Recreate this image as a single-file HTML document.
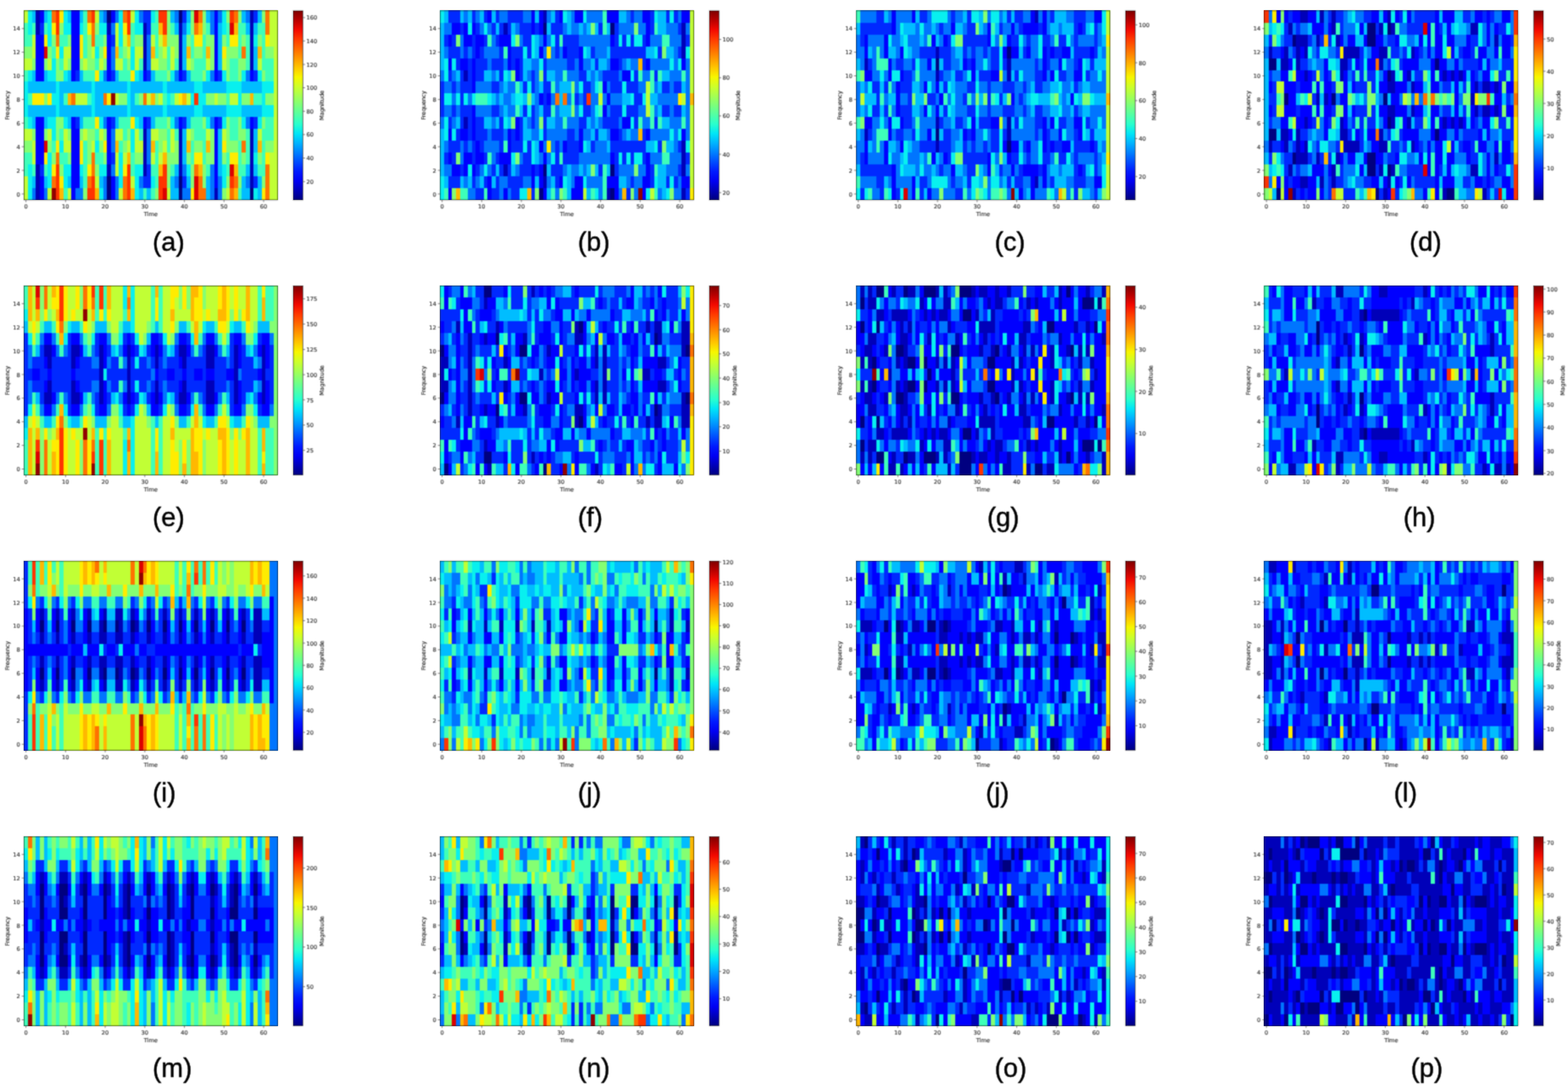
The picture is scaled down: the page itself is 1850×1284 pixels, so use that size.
<!DOCTYPE html><html><head><meta charset="utf-8"><title>Spectrograms</title><style>
html,body{margin:0;padding:0;background:#fff}body{width:1850px;height:1284px;overflow:hidden;position:relative}
svg{position:absolute;left:0;top:0;display:block}
.t{font-family:"DejaVu Sans","Liberation Sans",sans-serif;font-size:6.7px;fill:#1a1a1a;stroke:#1a1a1a;stroke-width:0.12px}
.c{font-family:"Liberation Sans",Arial,sans-serif;font-size:31px;fill:#000;stroke:#000;stroke-width:0.45px}
</style></head><body>
<svg width="1850" height="1284" viewBox="0 0 1850 1284">
<defs><linearGradient id="jet" x1="0" y1="0" x2="0" y2="1"><stop offset="0.000" stop-color="#800000"/><stop offset="0.050" stop-color="#b90000"/><stop offset="0.100" stop-color="#f30900"/><stop offset="0.150" stop-color="#ff3900"/><stop offset="0.200" stop-color="#ff6800"/><stop offset="0.250" stop-color="#ff9700"/><stop offset="0.300" stop-color="#ffc600"/><stop offset="0.350" stop-color="#f7f600"/><stop offset="0.400" stop-color="#ceff29"/><stop offset="0.450" stop-color="#a5ff52"/><stop offset="0.500" stop-color="#7bff7b"/><stop offset="0.550" stop-color="#52ffa5"/><stop offset="0.600" stop-color="#29ffce"/><stop offset="0.650" stop-color="#00e5f7"/><stop offset="0.700" stop-color="#00b3ff"/><stop offset="0.750" stop-color="#0080ff"/><stop offset="0.800" stop-color="#004cff"/><stop offset="0.850" stop-color="#001aff"/><stop offset="0.900" stop-color="#0000f3"/><stop offset="0.950" stop-color="#0000b9"/><stop offset="1.000" stop-color="#000080"/></linearGradient>
<filter id="hb" x="0" y="0" width="100%" height="100%" color-interpolation-filters="sRGB"><feConvolveMatrix order="3" kernelMatrix="0.0484 0.1232 0.0484 0.1232 0.3136 0.1232 0.0484 0.1232 0.0484" edgeMode="duplicate" preserveAlpha="false"/></filter>
<filter id="tb" x="-5%" y="-5%" width="110%" height="110%" color-interpolation-filters="sRGB"><feConvolveMatrix order="3" kernelMatrix="0.0400 0.1200 0.0400 0.1200 0.3600 0.1200 0.0400 0.1200 0.0400" edgeMode="none" preserveAlpha="false"/></filter>
<filter id="cb" x="-10%" y="-10%" width="120%" height="120%" color-interpolation-filters="sRGB"><feConvolveMatrix order="3" kernelMatrix="0.0225 0.1050 0.0225 0.1050 0.4900 0.1050 0.0225 0.1050 0.0225" edgeMode="none" preserveAlpha="false"/></filter>
</defs>
<rect width="1850" height="1284" fill="#fff"/>
<g id="panel-a">
<g filter="url(#hb)" shape-rendering="crispEdges"><rect x="28.30" y="12.80" width="299.10" height="223.10" fill="#0040ff"/>
<g transform="translate(28.30 12.80) scale(4.67344 13.94375)" shape-rendering="crispEdges"><path fill="#000080" d="M21 0h1v1h-1zM39 0h1v1h-1zM21 14h1v1h-1zM39 14h1v1h-1zM21 15h1v1h-1zM39 15h1v1h-1zM57 15h1v1h-1z"/><path fill="#0000b9" d="M3 0h1v1h-1zM57 0h1v1h-1zM3 1h1v1h-1zM21 1h1v1h-1zM30 1h1v1h-1zM39 1h1v1h-1zM57 1h1v1h-1zM30 2h1v1h-1zM39 2h1v1h-1zM57 2h1v1h-1zM30 3h1v1h-1zM39 3h1v1h-1zM57 3h1v1h-1zM30 4h1v1h-1zM39 4h1v1h-1zM57 4h1v1h-1zM30 10h1v1h-1zM39 10h1v1h-1zM57 10h1v1h-1zM30 11h1v1h-1zM39 11h1v1h-1zM57 11h1v1h-1zM30 12h1v1h-1zM39 12h1v1h-1zM57 12h1v1h-1zM3 13h1v1h-1zM21 13h1v1h-1zM30 13h1v1h-1zM39 13h1v1h-1zM57 13h1v1h-1zM3 14h1v1h-1zM57 14h1v1h-1zM3 15h1v1h-1zM48 15h1v1h-1z"/><path fill="#0000ff" d="M4 0h1v1h-1zM12 0h2v1h-2zM22 0h1v1h-1zM48 0h1v1h-1zM12 1h2v1h-2zM48 1h1v1h-1zM3 2h2v1h-2zM12 2h2v1h-2zM21 2h1v1h-1zM48 2h1v1h-1zM3 3h2v1h-2zM12 3h2v1h-2zM21 3h1v1h-1zM48 3h1v1h-1zM3 4h2v1h-2zM12 4h2v1h-2zM21 4h1v1h-1zM48 4h1v1h-1zM3 5h2v1h-2zM12 5h1v1h-1zM21 5h1v1h-1zM30 5h1v1h-1zM39 5h1v1h-1zM48 5h1v1h-1zM57 5h1v1h-1zM3 9h2v1h-2zM12 9h1v1h-1zM21 9h1v1h-1zM30 9h1v1h-1zM39 9h1v1h-1zM48 9h1v1h-1zM57 9h1v1h-1zM3 10h2v1h-2zM12 10h2v1h-2zM21 10h1v1h-1zM48 10h1v1h-1zM3 11h2v1h-2zM12 11h2v1h-2zM21 11h1v1h-1zM48 11h1v1h-1zM3 12h2v1h-2zM12 12h2v1h-2zM21 12h1v1h-1zM48 12h1v1h-1zM12 13h2v1h-2zM48 13h1v1h-1zM4 14h1v1h-1zM12 14h2v1h-2zM22 14h1v1h-1zM48 14h1v1h-1zM4 15h1v1h-1zM12 15h1v1h-1zM22 15h1v1h-1z"/><path fill="#0029ff" d="M30 0h2v1h-2zM40 0h1v1h-1zM58 0h1v1h-1zM4 1h1v1h-1zM31 1h1v1h-1zM22 2h1v1h-1zM13 5h1v1h-1zM22 5h1v1h-1zM31 5h1v1h-1zM40 5h1v1h-1zM49 5h1v1h-1zM58 5h1v1h-1zM13 9h1v1h-1zM22 9h1v1h-1zM31 9h1v1h-1zM40 9h1v1h-1zM49 9h1v1h-1zM58 9h1v1h-1zM22 12h1v1h-1zM4 13h1v1h-1zM31 13h1v1h-1zM30 14h2v1h-2zM40 14h1v1h-1zM58 14h1v1h-1z"/><path fill="#0075ff" d="M20 0h1v1h-1zM23 0h1v1h-1zM29 0h1v1h-1zM38 0h1v1h-1zM47 0h1v1h-1zM49 0h1v1h-1zM56 0h1v1h-1zM22 1h1v1h-1zM40 1h1v1h-1zM47 1h1v1h-1zM31 2h1v1h-1zM22 3h1v1h-1zM31 3h1v1h-1zM22 4h1v1h-1zM31 4h1v1h-1zM20 5h1v1h-1zM38 5h1v1h-1zM47 5h1v1h-1zM56 5h1v1h-1zM20 9h1v1h-1zM38 9h1v1h-1zM47 9h1v1h-1zM56 9h1v1h-1zM22 10h1v1h-1zM31 10h1v1h-1zM22 11h1v1h-1zM31 11h1v1h-1zM31 12h1v1h-1zM22 13h1v1h-1zM40 13h1v1h-1zM47 13h1v1h-1zM20 14h1v1h-1zM23 14h1v1h-1zM29 14h1v1h-1zM38 14h1v1h-1zM47 14h1v1h-1zM49 14h1v1h-1zM56 14h1v1h-1zM2 15h1v1h-1zM5 15h1v1h-1zM13 15h2v1h-2zM20 15h1v1h-1zM23 15h1v1h-1zM40 15h2v1h-2zM47 15h1v1h-1zM49 15h1v1h-1z"/><path fill="#00bdff" d="M2 0h1v1h-1zM5 0h1v1h-1zM11 0h1v1h-1zM14 0h1v1h-1zM19 0h1v1h-1zM37 0h1v1h-1zM41 0h1v1h-1zM46 0h1v1h-1zM55 0h1v1h-1zM59 0h1v1h-1zM38 1h1v1h-1zM49 1h1v1h-1zM56 1h1v1h-1zM58 1h1v1h-1zM40 2h1v1h-1zM49 2h1v1h-1zM40 3h1v1h-1zM49 3h1v1h-1zM58 3h1v1h-1zM40 4h1v1h-1zM49 4h1v1h-1zM58 4h1v1h-1zM2 5h1v1h-1zM5 5h1v1h-1zM11 5h1v1h-1zM14 5h1v1h-1zM23 5h1v1h-1zM29 5h1v1h-1zM32 5h1v1h-1zM41 5h1v1h-1zM1 6h7v1h-7zM9 6h8v1h-8zM18 6h8v1h-8zM27 6h8v1h-8zM36 6h7v1h-7zM45 6h6v1h-6zM55 6h5v1h-5zM9 7h1v1h-1zM18 7h2v1h-2zM27 7h1v1h-1zM1 8h7v1h-7zM9 8h8v1h-8zM18 8h8v1h-8zM27 8h8v1h-8zM36 8h7v1h-7zM45 8h6v1h-6zM55 8h5v1h-5zM2 9h1v1h-1zM5 9h1v1h-1zM11 9h1v1h-1zM14 9h1v1h-1zM23 9h1v1h-1zM29 9h1v1h-1zM32 9h1v1h-1zM41 9h1v1h-1zM40 10h1v1h-1zM49 10h1v1h-1zM58 10h1v1h-1zM40 11h1v1h-1zM49 11h1v1h-1zM58 11h1v1h-1zM40 12h1v1h-1zM49 12h1v1h-1zM38 13h1v1h-1zM49 13h1v1h-1zM56 13h1v1h-1zM58 13h1v1h-1zM2 14h1v1h-1zM5 14h1v1h-1zM11 14h1v1h-1zM14 14h1v1h-1zM19 14h1v1h-1zM37 14h1v1h-1zM41 14h1v1h-1zM46 14h1v1h-1zM55 14h1v1h-1zM59 14h1v1h-1zM29 15h1v1h-1zM31 15h1v1h-1zM37 15h2v1h-2zM46 15h1v1h-1zM55 15h2v1h-2zM59 15h1v1h-1z"/><path fill="#08f0ef" d="M1 0h1v1h-1zM6 0h1v1h-1zM10 0h1v1h-1zM24 0h1v1h-1zM28 0h1v1h-1zM32 0h1v1h-1zM50 0h1v1h-1zM1 1h1v1h-1zM6 1h1v1h-1zM10 1h2v1h-2zM14 1h1v1h-1zM19 1h2v1h-2zM24 1h1v1h-1zM28 1h2v1h-2zM41 1h1v1h-1zM50 1h1v1h-1zM6 2h1v1h-1zM24 2h1v1h-1zM58 2h1v1h-1zM9 3h1v1h-1zM18 3h1v1h-1zM27 3h1v1h-1zM7 4h1v1h-1zM27 4h1v1h-1zM1 5h1v1h-1zM6 5h2v1h-2zM10 5h1v1h-1zM19 5h1v1h-1zM28 5h1v1h-1zM37 5h1v1h-1zM46 5h1v1h-1zM50 5h1v1h-1zM55 5h1v1h-1zM59 5h1v1h-1zM0 6h1v1h-1zM8 6h1v1h-1zM17 6h1v1h-1zM26 6h1v1h-1zM35 6h1v1h-1zM43 6h2v1h-2zM51 6h4v1h-4zM60 6h3v1h-3zM0 7h1v1h-1zM7 7h2v1h-2zM17 7h1v1h-1zM26 7h1v1h-1zM36 7h1v1h-1zM42 7h1v1h-1zM44 7h2v1h-2zM54 7h1v1h-1zM60 7h1v1h-1zM0 8h1v1h-1zM8 8h1v1h-1zM17 8h1v1h-1zM26 8h1v1h-1zM35 8h1v1h-1zM43 8h2v1h-2zM51 8h4v1h-4zM60 8h3v1h-3zM1 9h1v1h-1zM6 9h2v1h-2zM10 9h1v1h-1zM19 9h1v1h-1zM28 9h1v1h-1zM37 9h1v1h-1zM46 9h1v1h-1zM50 9h1v1h-1zM55 9h1v1h-1zM59 9h1v1h-1zM7 10h1v1h-1zM27 10h1v1h-1zM9 11h1v1h-1zM18 11h1v1h-1zM27 11h1v1h-1zM6 12h1v1h-1zM24 12h1v1h-1zM58 12h1v1h-1zM1 13h1v1h-1zM6 13h1v1h-1zM10 13h2v1h-2zM14 13h1v1h-1zM19 13h2v1h-2zM24 13h1v1h-1zM28 13h2v1h-2zM41 13h1v1h-1zM50 13h1v1h-1zM1 14h1v1h-1zM6 14h1v1h-1zM10 14h1v1h-1zM24 14h1v1h-1zM28 14h1v1h-1zM32 14h1v1h-1zM50 14h1v1h-1zM1 15h1v1h-1zM19 15h1v1h-1zM28 15h1v1h-1zM58 15h1v1h-1z"/><path fill="#3effb9" d="M15 0h1v1h-1zM33 0h1v1h-1zM0 1h1v1h-1zM2 1h1v1h-1zM5 1h1v1h-1zM15 1h1v1h-1zM27 1h1v1h-1zM32 1h2v1h-2zM37 1h1v1h-1zM46 1h1v1h-1zM51 1h1v1h-1zM54 1h2v1h-2zM59 1h2v1h-2zM0 2h2v1h-2zM9 2h2v1h-2zM15 2h1v1h-1zM18 2h2v1h-2zM27 2h1v1h-1zM33 2h1v1h-1zM42 2h1v1h-1zM45 2h1v1h-1zM51 2h1v1h-1zM54 2h1v1h-1zM56 2h1v1h-1zM60 2h1v1h-1zM7 3h1v1h-1zM15 3h1v1h-1zM24 3h1v1h-1zM33 3h1v1h-1zM36 3h1v1h-1zM42 3h1v1h-1zM45 3h1v1h-1zM54 3h1v1h-1zM56 3h1v1h-1zM60 3h1v1h-1zM9 4h1v1h-1zM18 4h1v1h-1zM25 4h1v1h-1zM29 4h1v1h-1zM36 4h1v1h-1zM38 4h1v1h-1zM43 4h3v1h-3zM52 4h2v1h-2zM56 4h1v1h-1zM60 4h3v1h-3zM0 5h1v1h-1zM15 5h3v1h-3zM24 5h3v1h-3zM33 5h3v1h-3zM42 5h3v1h-3zM52 5h2v1h-2zM61 5h2v1h-2zM1 7h1v1h-1zM10 7h1v1h-1zM16 7h1v1h-1zM28 7h1v1h-1zM35 7h1v1h-1zM37 7h1v1h-1zM51 7h1v1h-1zM58 7h2v1h-2zM0 9h1v1h-1zM15 9h3v1h-3zM24 9h3v1h-3zM33 9h3v1h-3zM42 9h3v1h-3zM52 9h2v1h-2zM61 9h2v1h-2zM9 10h1v1h-1zM18 10h1v1h-1zM25 10h1v1h-1zM29 10h1v1h-1zM36 10h1v1h-1zM38 10h1v1h-1zM43 10h3v1h-3zM52 10h2v1h-2zM56 10h1v1h-1zM60 10h3v1h-3zM7 11h1v1h-1zM15 11h1v1h-1zM24 11h1v1h-1zM33 11h1v1h-1zM36 11h1v1h-1zM42 11h1v1h-1zM45 11h1v1h-1zM54 11h1v1h-1zM56 11h1v1h-1zM60 11h1v1h-1zM0 12h2v1h-2zM9 12h2v1h-2zM15 12h1v1h-1zM18 12h2v1h-2zM27 12h1v1h-1zM33 12h1v1h-1zM42 12h1v1h-1zM45 12h1v1h-1zM51 12h1v1h-1zM54 12h1v1h-1zM56 12h1v1h-1zM60 12h1v1h-1zM0 13h1v1h-1zM2 13h1v1h-1zM5 13h1v1h-1zM15 13h1v1h-1zM27 13h1v1h-1zM32 13h2v1h-2zM37 13h1v1h-1zM46 13h1v1h-1zM51 13h1v1h-1zM54 13h2v1h-2zM59 13h2v1h-2zM15 14h1v1h-1zM33 14h1v1h-1zM10 15h1v1h-1zM30 15h1v1h-1zM32 15h1v1h-1zM54 15h1v1h-1z"/><path fill="#84ff73" d="M36 0h1v1h-1zM42 0h1v1h-1zM45 0h1v1h-1zM51 0h1v1h-1zM54 0h1v1h-1zM60 0h1v1h-1zM9 1h1v1h-1zM18 1h1v1h-1zM36 1h1v1h-1zM42 1h1v1h-1zM45 1h1v1h-1zM7 2h1v1h-1zM11 2h1v1h-1zM16 2h1v1h-1zM20 2h1v1h-1zM28 2h2v1h-2zM36 2h3v1h-3zM41 2h1v1h-1zM46 2h2v1h-2zM50 2h1v1h-1zM55 2h1v1h-1zM59 2h1v1h-1zM0 3h2v1h-2zM6 3h1v1h-1zM16 3h1v1h-1zM19 3h1v1h-1zM25 3h1v1h-1zM34 3h1v1h-1zM38 3h1v1h-1zM43 3h2v1h-2zM47 3h1v1h-1zM51 3h3v1h-3zM61 3h2v1h-2zM2 4h1v1h-1zM5 4h1v1h-1zM8 4h1v1h-1zM11 4h1v1h-1zM14 4h1v1h-1zM16 4h2v1h-2zM20 4h1v1h-1zM26 4h1v1h-1zM34 4h2v1h-2zM42 4h1v1h-1zM47 4h1v1h-1zM51 4h1v1h-1zM54 4h2v1h-2zM8 5h2v1h-2zM36 5h1v1h-1zM45 5h1v1h-1zM51 5h1v1h-1zM54 5h1v1h-1zM60 5h1v1h-1zM5 7h1v1h-1zM24 7h2v1h-2zM29 7h1v1h-1zM33 7h1v1h-1zM46 7h2v1h-2zM49 7h2v1h-2zM55 7h2v1h-2zM61 7h2v1h-2zM8 9h2v1h-2zM36 9h1v1h-1zM45 9h1v1h-1zM51 9h1v1h-1zM54 9h1v1h-1zM60 9h1v1h-1zM2 10h1v1h-1zM5 10h1v1h-1zM8 10h1v1h-1zM11 10h1v1h-1zM14 10h1v1h-1zM16 10h2v1h-2zM20 10h1v1h-1zM26 10h1v1h-1zM34 10h2v1h-2zM42 10h1v1h-1zM47 10h1v1h-1zM51 10h1v1h-1zM54 10h2v1h-2zM0 11h2v1h-2zM6 11h1v1h-1zM16 11h1v1h-1zM19 11h1v1h-1zM25 11h1v1h-1zM34 11h1v1h-1zM38 11h1v1h-1zM43 11h2v1h-2zM47 11h1v1h-1zM51 11h3v1h-3zM61 11h2v1h-2zM7 12h1v1h-1zM11 12h1v1h-1zM16 12h1v1h-1zM20 12h1v1h-1zM28 12h2v1h-2zM36 12h3v1h-3zM41 12h1v1h-1zM46 12h2v1h-2zM50 12h1v1h-1zM55 12h1v1h-1zM59 12h1v1h-1zM9 13h1v1h-1zM18 13h1v1h-1zM36 13h1v1h-1zM42 13h1v1h-1zM45 13h1v1h-1zM36 14h1v1h-1zM42 14h1v1h-1zM45 14h1v1h-1zM51 14h1v1h-1zM54 14h1v1h-1zM60 14h1v1h-1zM15 15h1v1h-1zM33 15h1v1h-1zM50 15h1v1h-1z"/><path fill="#c1ff35" d="M0 0h1v1h-1zM18 0h1v1h-1zM27 0h1v1h-1zM62 0h2v1h-2zM23 1h1v1h-1zM62 1h2v1h-2zM2 2h1v1h-1zM23 2h1v1h-1zM25 2h1v1h-1zM32 2h1v1h-1zM34 2h1v1h-1zM62 2h2v1h-2zM2 3h1v1h-1zM10 3h2v1h-2zM17 3h1v1h-1zM26 3h1v1h-1zM28 3h2v1h-2zM35 3h1v1h-1zM37 3h1v1h-1zM63 3h1v1h-1zM0 4h2v1h-2zM6 4h1v1h-1zM10 4h1v1h-1zM15 4h1v1h-1zM19 4h1v1h-1zM23 4h2v1h-2zM28 4h1v1h-1zM32 4h2v1h-2zM37 4h1v1h-1zM41 4h1v1h-1zM46 4h1v1h-1zM50 4h1v1h-1zM59 4h1v1h-1zM63 4h1v1h-1zM63 5h1v1h-1zM63 6h1v1h-1zM13 7h3v1h-3zM23 7h1v1h-1zM31 7h1v1h-1zM34 7h1v1h-1zM38 7h1v1h-1zM41 7h1v1h-1zM48 7h1v1h-1zM52 7h2v1h-2zM63 7h1v1h-1zM63 8h1v1h-1zM63 9h1v1h-1zM0 10h2v1h-2zM6 10h1v1h-1zM10 10h1v1h-1zM15 10h1v1h-1zM19 10h1v1h-1zM23 10h2v1h-2zM28 10h1v1h-1zM32 10h2v1h-2zM37 10h1v1h-1zM41 10h1v1h-1zM46 10h1v1h-1zM50 10h1v1h-1zM59 10h1v1h-1zM63 10h1v1h-1zM2 11h1v1h-1zM10 11h2v1h-2zM17 11h1v1h-1zM26 11h1v1h-1zM28 11h2v1h-2zM35 11h1v1h-1zM37 11h1v1h-1zM63 11h1v1h-1zM2 12h1v1h-1zM23 12h1v1h-1zM25 12h1v1h-1zM32 12h1v1h-1zM34 12h1v1h-1zM62 12h2v1h-2zM23 13h1v1h-1zM62 13h2v1h-2zM0 14h1v1h-1zM18 14h1v1h-1zM27 14h1v1h-1zM62 14h2v1h-2zM0 15h1v1h-1zM6 15h1v1h-1zM11 15h1v1h-1zM24 15h1v1h-1zM36 15h1v1h-1zM51 15h1v1h-1zM62 15h2v1h-2z"/><path fill="#ffec00" d="M9 0h1v1h-1zM7 1h1v1h-1zM16 1h1v1h-1zM25 1h1v1h-1zM5 2h1v1h-1zM14 2h1v1h-1zM43 2h2v1h-2zM52 2h2v1h-2zM61 2h1v1h-1zM8 3h1v1h-1zM14 3h1v1h-1zM20 3h1v1h-1zM50 3h1v1h-1zM18 5h1v1h-1zM27 5h1v1h-1zM2 7h3v1h-3zM6 7h1v1h-1zM21 7h1v1h-1zM39 7h1v1h-1zM18 9h1v1h-1zM27 9h1v1h-1zM8 11h1v1h-1zM14 11h1v1h-1zM20 11h1v1h-1zM50 11h1v1h-1zM5 12h1v1h-1zM14 12h1v1h-1zM43 12h2v1h-2zM52 12h2v1h-2zM61 12h1v1h-1zM7 13h1v1h-1zM16 13h1v1h-1zM25 13h1v1h-1zM9 14h1v1h-1zM42 15h1v1h-1zM60 15h1v1h-1z"/><path fill="#ffb800" d="M34 1h1v1h-1zM44 1h1v1h-1zM53 1h1v1h-1zM26 2h1v1h-1zM35 2h1v1h-1zM23 3h1v1h-1zM32 3h1v1h-1zM41 3h1v1h-1zM46 3h1v1h-1zM59 3h1v1h-1zM11 7h1v1h-1zM32 7h1v1h-1zM40 7h1v1h-1zM57 7h1v1h-1zM23 11h1v1h-1zM32 11h1v1h-1zM41 11h1v1h-1zM46 11h1v1h-1zM59 11h1v1h-1zM26 12h1v1h-1zM35 12h1v1h-1zM34 13h1v1h-1zM44 13h1v1h-1zM53 13h1v1h-1zM9 15h1v1h-1zM18 15h1v1h-1zM27 15h1v1h-1zM53 15h1v1h-1z"/><path fill="#ff7100" d="M7 0h1v1h-1zM16 0h1v1h-1zM25 0h1v1h-1zM44 0h1v1h-1zM53 0h1v1h-1zM61 0h1v1h-1zM17 1h1v1h-1zM43 1h1v1h-1zM61 1h1v1h-1zM8 2h1v1h-1zM17 2h1v1h-1zM55 3h1v1h-1zM12 7h1v1h-1zM20 7h1v1h-1zM30 7h1v1h-1zM55 11h1v1h-1zM8 12h1v1h-1zM17 12h1v1h-1zM17 13h1v1h-1zM43 13h1v1h-1zM61 13h1v1h-1zM7 14h1v1h-1zM16 14h1v1h-1zM25 14h1v1h-1zM44 14h1v1h-1zM53 14h1v1h-1zM61 14h1v1h-1zM25 15h1v1h-1zM44 15h2v1h-2zM52 15h1v1h-1zM61 15h1v1h-1z"/><path fill="#ff3400" d="M8 0h1v1h-1zM17 0h1v1h-1zM26 0h1v1h-1zM34 0h2v1h-2zM52 0h1v1h-1zM8 1h1v1h-1zM26 1h1v1h-1zM35 1h1v1h-1zM43 7h1v1h-1zM8 13h1v1h-1zM26 13h1v1h-1zM35 13h1v1h-1zM8 14h1v1h-1zM17 14h1v1h-1zM26 14h1v1h-1zM34 14h2v1h-2zM52 14h1v1h-1zM8 15h1v1h-1zM16 15h2v1h-2zM26 15h1v1h-1zM34 15h1v1h-1z"/><path fill="#dc0000" d="M43 0h1v1h-1zM52 1h1v1h-1zM5 3h1v1h-1zM5 11h1v1h-1zM52 13h1v1h-1zM43 14h1v1h-1zM35 15h1v1h-1zM43 15h1v1h-1z"/><path fill="#910000" d="M22 7h1v1h-1zM7 15h1v1h-1z"/></g>
</g>
<rect x="346.00" y="12.80" width="11.30" height="223.10" fill="url(#jet)"/>
<g filter="url(#tb)">
<rect x="28.30" y="12.80" width="299.10" height="223.10" fill="none" stroke="#333" stroke-width="0.7"/>
<rect x="346.00" y="12.80" width="11.30" height="223.10" fill="none" stroke="#333" stroke-width="0.7"/>
<text class="t" x="23.70" y="231.53" text-anchor="end">0</text>
<text class="t" x="23.70" y="203.64" text-anchor="end">2</text>
<text class="t" x="23.70" y="175.75" text-anchor="end">4</text>
<text class="t" x="23.70" y="147.87" text-anchor="end">6</text>
<text class="t" x="23.70" y="119.98" text-anchor="end">8</text>
<text class="t" x="23.70" y="92.09" text-anchor="end">10</text>
<text class="t" x="23.70" y="64.20" text-anchor="end">12</text>
<text class="t" x="23.70" y="36.32" text-anchor="end">14</text>
<text class="t" x="30.64" y="246.10" text-anchor="middle">0</text>
<text class="t" x="77.37" y="246.10" text-anchor="middle">10</text>
<text class="t" x="124.11" y="246.10" text-anchor="middle">20</text>
<text class="t" x="170.84" y="246.10" text-anchor="middle">30</text>
<text class="t" x="217.57" y="246.10" text-anchor="middle">40</text>
<text class="t" x="264.31" y="246.10" text-anchor="middle">50</text>
<text class="t" x="311.04" y="246.10" text-anchor="middle">60</text>
<text class="t" x="361.50" y="23.40">160</text>
<text class="t" x="361.50" y="50.90">140</text>
<text class="t" x="361.50" y="78.65">120</text>
<text class="t" x="361.50" y="106.15">100</text>
<text class="t" x="361.50" y="133.90">80</text>
<text class="t" x="361.50" y="161.40">60</text>
<text class="t" x="361.50" y="189.15">40</text>
<text class="t" x="361.50" y="216.90">20</text>
<path d="M28.30 228.93h-2.6M28.30 201.04h-2.6M28.30 173.15h-2.6M28.30 145.27h-2.6M28.30 117.38h-2.6M28.30 89.49h-2.6M28.30 61.60h-2.6M28.30 33.72h-2.6M30.64 235.90v2.6M77.37 235.90v2.6M124.11 235.90v2.6M170.84 235.90v2.6M217.57 235.90v2.6M264.31 235.90v2.6M311.04 235.90v2.6M357.30 20.80h2.6M357.30 48.30h2.6M357.30 76.05h2.6M357.30 103.55h2.6M357.30 131.30h2.6M357.30 158.80h2.6M357.30 186.55h2.6M357.30 214.30h2.6" stroke="#222" stroke-width="0.6" fill="none"/>
<text class="t" x="177.85" y="255.40" text-anchor="middle">Time</text>
<text class="t" transform="translate(11.30 124.35) rotate(-90)" text-anchor="middle">Frequency</text>
<text class="t" transform="translate(382.30 124.35) rotate(-90)" text-anchor="middle">Magnitude</text>
</g>
<text class="c" filter="url(#cb)" x="180.00" y="296.40">(a)</text>
</g>
<g id="panel-b">
<g filter="url(#hb)" shape-rendering="crispEdges"><rect x="519.30" y="12.80" width="299.10" height="223.10" fill="#0040ff"/>
<g transform="translate(519.30 12.80) scale(4.67344 13.94375)" shape-rendering="crispEdges"><path fill="#000080" d="M26 1h1v1h-1zM43 1h1v1h-1zM26 13h1v1h-1zM43 13h1v1h-1zM25 15h1v1h-1zM43 15h1v1h-1z"/><path fill="#0000b9" d="M26 0h1v1h-1zM16 1h1v1h-1zM61 1h1v1h-1zM61 2h1v1h-1zM61 3h1v1h-1zM6 5h1v1h-1zM6 9h1v1h-1zM61 11h1v1h-1zM61 12h1v1h-1zM16 13h1v1h-1zM61 13h1v1h-1zM26 14h1v1h-1zM42 15h1v1h-1zM61 15h1v1h-1z"/><path fill="#0000ff" d="M12 0h1v1h-1zM23 0h1v1h-1zM25 0h1v1h-1zM30 0h1v1h-1zM34 0h2v1h-2zM42 0h3v1h-3zM51 0h2v1h-2zM61 0h2v1h-2zM3 1h2v1h-2zM6 1h1v1h-1zM8 1h1v1h-1zM23 1h1v1h-1zM25 1h1v1h-1zM52 1h1v1h-1zM2 2h1v1h-1zM6 2h2v1h-2zM9 2h2v1h-2zM15 2h3v1h-3zM26 2h1v1h-1zM43 2h1v1h-1zM52 2h1v1h-1zM9 3h1v1h-1zM17 3h1v1h-1zM25 3h1v1h-1zM31 3h1v1h-1zM35 3h1v1h-1zM2 4h1v1h-1zM5 4h2v1h-2zM8 4h1v1h-1zM17 4h1v1h-1zM19 4h1v1h-1zM35 4h1v1h-1zM43 4h2v1h-2zM52 4h1v1h-1zM61 4h1v1h-1zM8 5h1v1h-1zM19 5h1v1h-1zM46 5h2v1h-2zM8 6h1v1h-1zM41 6h1v1h-1zM25 7h1v1h-1zM27 7h1v1h-1zM42 7h1v1h-1zM8 8h1v1h-1zM41 8h1v1h-1zM8 9h1v1h-1zM19 9h1v1h-1zM46 9h2v1h-2zM2 10h1v1h-1zM5 10h2v1h-2zM8 10h1v1h-1zM17 10h1v1h-1zM19 10h1v1h-1zM35 10h1v1h-1zM43 10h2v1h-2zM52 10h1v1h-1zM61 10h1v1h-1zM9 11h1v1h-1zM17 11h1v1h-1zM25 11h1v1h-1zM31 11h1v1h-1zM35 11h1v1h-1zM2 12h1v1h-1zM6 12h2v1h-2zM9 12h2v1h-2zM15 12h3v1h-3zM26 12h1v1h-1zM43 12h1v1h-1zM52 12h1v1h-1zM3 13h2v1h-2zM6 13h1v1h-1zM8 13h1v1h-1zM23 13h1v1h-1zM25 13h1v1h-1zM52 13h1v1h-1zM12 14h1v1h-1zM23 14h1v1h-1zM25 14h1v1h-1zM30 14h1v1h-1zM34 14h2v1h-2zM42 14h3v1h-3zM51 14h2v1h-2zM61 14h2v1h-2zM2 15h1v1h-1zM12 15h1v1h-1zM16 15h1v1h-1zM26 15h1v1h-1zM33 15h3v1h-3zM44 15h1v1h-1zM51 15h1v1h-1z"/><path fill="#0029ff" d="M2 0h3v1h-3zM8 0h1v1h-1zM11 0h1v1h-1zM14 0h1v1h-1zM17 0h4v1h-4zM29 0h1v1h-1zM48 0h1v1h-1zM53 0h1v1h-1zM57 0h1v1h-1zM59 0h1v1h-1zM5 1h1v1h-1zM9 1h1v1h-1zM13 1h1v1h-1zM15 1h1v1h-1zM17 1h1v1h-1zM20 1h3v1h-3zM24 1h1v1h-1zM28 1h3v1h-3zM40 1h1v1h-1zM44 1h1v1h-1zM53 1h1v1h-1zM60 1h1v1h-1zM1 2h1v1h-1zM3 2h1v1h-1zM8 2h1v1h-1zM11 2h1v1h-1zM14 2h1v1h-1zM21 2h2v1h-2zM29 2h1v1h-1zM31 2h4v1h-4zM44 2h1v1h-1zM46 2h1v1h-1zM48 2h1v1h-1zM51 2h1v1h-1zM62 2h1v1h-1zM2 3h3v1h-3zM6 3h1v1h-1zM8 3h1v1h-1zM10 3h1v1h-1zM15 3h1v1h-1zM18 3h3v1h-3zM22 3h1v1h-1zM29 3h1v1h-1zM32 3h3v1h-3zM38 3h1v1h-1zM43 3h9v1h-9zM55 3h1v1h-1zM60 3h1v1h-1zM4 4h1v1h-1zM7 4h1v1h-1zM9 4h3v1h-3zM13 4h3v1h-3zM18 4h1v1h-1zM20 4h1v1h-1zM26 4h1v1h-1zM32 4h2v1h-2zM39 4h1v1h-1zM45 4h1v1h-1zM51 4h1v1h-1zM2 5h1v1h-1zM5 5h1v1h-1zM7 5h1v1h-1zM9 5h2v1h-2zM15 5h1v1h-1zM20 5h1v1h-1zM23 5h1v1h-1zM26 5h1v1h-1zM35 5h2v1h-2zM41 5h4v1h-4zM49 5h1v1h-1zM54 5h1v1h-1zM0 6h1v1h-1zM3 6h1v1h-1zM5 6h3v1h-3zM13 6h2v1h-2zM21 6h1v1h-1zM23 6h1v1h-1zM26 6h2v1h-2zM36 6h2v1h-2zM43 6h3v1h-3zM47 6h3v1h-3zM56 6h2v1h-2zM59 6h2v1h-2zM0 7h1v1h-1zM5 7h1v1h-1zM26 7h1v1h-1zM34 7h1v1h-1zM36 7h1v1h-1zM49 7h2v1h-2zM0 8h1v1h-1zM3 8h1v1h-1zM5 8h3v1h-3zM13 8h2v1h-2zM21 8h1v1h-1zM23 8h1v1h-1zM26 8h2v1h-2zM36 8h2v1h-2zM43 8h3v1h-3zM47 8h3v1h-3zM56 8h2v1h-2zM59 8h2v1h-2zM2 9h1v1h-1zM5 9h1v1h-1zM7 9h1v1h-1zM9 9h2v1h-2zM15 9h1v1h-1zM20 9h1v1h-1zM23 9h1v1h-1zM26 9h1v1h-1zM35 9h2v1h-2zM41 9h4v1h-4zM49 9h1v1h-1zM54 9h1v1h-1zM4 10h1v1h-1zM7 10h1v1h-1zM9 10h3v1h-3zM13 10h3v1h-3zM18 10h1v1h-1zM20 10h1v1h-1zM26 10h1v1h-1zM32 10h2v1h-2zM39 10h1v1h-1zM45 10h1v1h-1zM51 10h1v1h-1zM2 11h3v1h-3zM6 11h1v1h-1zM8 11h1v1h-1zM10 11h1v1h-1zM15 11h1v1h-1zM18 11h3v1h-3zM22 11h1v1h-1zM29 11h1v1h-1zM32 11h3v1h-3zM38 11h1v1h-1zM43 11h9v1h-9zM55 11h1v1h-1zM60 11h1v1h-1zM1 12h1v1h-1zM3 12h1v1h-1zM8 12h1v1h-1zM11 12h1v1h-1zM14 12h1v1h-1zM21 12h2v1h-2zM29 12h1v1h-1zM31 12h4v1h-4zM44 12h1v1h-1zM46 12h1v1h-1zM48 12h1v1h-1zM51 12h1v1h-1zM62 12h1v1h-1zM5 13h1v1h-1zM9 13h1v1h-1zM13 13h1v1h-1zM15 13h1v1h-1zM17 13h1v1h-1zM20 13h3v1h-3zM24 13h1v1h-1zM28 13h3v1h-3zM40 13h1v1h-1zM44 13h1v1h-1zM53 13h1v1h-1zM60 13h1v1h-1zM2 14h3v1h-3zM8 14h1v1h-1zM11 14h1v1h-1zM14 14h1v1h-1zM17 14h4v1h-4zM29 14h1v1h-1zM48 14h1v1h-1zM53 14h1v1h-1zM57 14h1v1h-1zM59 14h1v1h-1zM9 15h2v1h-2zM13 15h2v1h-2zM18 15h2v1h-2zM23 15h1v1h-1zM47 15h1v1h-1zM62 15h1v1h-1z"/><path fill="#0075ff" d="M6 0h1v1h-1zM9 0h1v1h-1zM15 0h2v1h-2zM21 0h2v1h-2zM27 0h1v1h-1zM33 0h1v1h-1zM37 0h4v1h-4zM47 0h1v1h-1zM49 0h2v1h-2zM60 0h1v1h-1zM1 1h2v1h-2zM10 1h1v1h-1zM12 1h1v1h-1zM19 1h1v1h-1zM31 1h1v1h-1zM33 1h2v1h-2zM36 1h1v1h-1zM45 1h4v1h-4zM50 1h2v1h-2zM57 1h3v1h-3zM62 1h1v1h-1zM5 2h1v1h-1zM13 2h1v1h-1zM20 2h1v1h-1zM25 2h1v1h-1zM27 2h1v1h-1zM35 2h8v1h-8zM53 2h3v1h-3zM58 2h3v1h-3zM1 3h1v1h-1zM5 3h1v1h-1zM7 3h1v1h-1zM11 3h4v1h-4zM26 3h1v1h-1zM28 3h1v1h-1zM30 3h1v1h-1zM39 3h3v1h-3zM59 3h1v1h-1zM12 4h1v1h-1zM16 4h1v1h-1zM23 4h2v1h-2zM27 4h5v1h-5zM34 4h1v1h-1zM36 4h2v1h-2zM42 4h1v1h-1zM46 4h1v1h-1zM48 4h2v1h-2zM53 4h5v1h-5zM59 4h1v1h-1zM62 4h1v1h-1zM0 5h1v1h-1zM3 5h1v1h-1zM13 5h1v1h-1zM22 5h1v1h-1zM24 5h1v1h-1zM29 5h2v1h-2zM32 5h3v1h-3zM38 5h1v1h-1zM40 5h1v1h-1zM45 5h1v1h-1zM51 5h2v1h-2zM58 5h3v1h-3zM62 5h1v1h-1zM1 6h2v1h-2zM4 6h1v1h-1zM9 6h4v1h-4zM15 6h1v1h-1zM17 6h2v1h-2zM24 6h1v1h-1zM29 6h1v1h-1zM34 6h1v1h-1zM38 6h1v1h-1zM42 6h1v1h-1zM50 6h2v1h-2zM54 6h1v1h-1zM58 6h1v1h-1zM62 6h1v1h-1zM3 7h1v1h-1zM7 7h1v1h-1zM14 7h1v1h-1zM16 7h2v1h-2zM24 7h1v1h-1zM28 7h1v1h-1zM32 7h1v1h-1zM35 7h1v1h-1zM38 7h2v1h-2zM41 7h1v1h-1zM43 7h3v1h-3zM55 7h5v1h-5zM62 7h1v1h-1zM1 8h2v1h-2zM4 8h1v1h-1zM9 8h4v1h-4zM15 8h1v1h-1zM17 8h2v1h-2zM24 8h1v1h-1zM29 8h1v1h-1zM34 8h1v1h-1zM38 8h1v1h-1zM42 8h1v1h-1zM50 8h2v1h-2zM54 8h1v1h-1zM58 8h1v1h-1zM62 8h1v1h-1zM0 9h1v1h-1zM3 9h1v1h-1zM13 9h1v1h-1zM22 9h1v1h-1zM24 9h1v1h-1zM29 9h2v1h-2zM32 9h3v1h-3zM38 9h1v1h-1zM40 9h1v1h-1zM45 9h1v1h-1zM51 9h2v1h-2zM58 9h3v1h-3zM62 9h1v1h-1zM12 10h1v1h-1zM16 10h1v1h-1zM23 10h2v1h-2zM27 10h5v1h-5zM34 10h1v1h-1zM36 10h2v1h-2zM42 10h1v1h-1zM46 10h1v1h-1zM48 10h2v1h-2zM53 10h5v1h-5zM59 10h1v1h-1zM62 10h1v1h-1zM1 11h1v1h-1zM5 11h1v1h-1zM7 11h1v1h-1zM11 11h4v1h-4zM26 11h1v1h-1zM28 11h1v1h-1zM30 11h1v1h-1zM39 11h3v1h-3zM59 11h1v1h-1zM5 12h1v1h-1zM13 12h1v1h-1zM20 12h1v1h-1zM25 12h1v1h-1zM27 12h1v1h-1zM35 12h8v1h-8zM53 12h3v1h-3zM58 12h3v1h-3zM1 13h2v1h-2zM10 13h1v1h-1zM12 13h1v1h-1zM19 13h1v1h-1zM31 13h1v1h-1zM33 13h2v1h-2zM36 13h1v1h-1zM45 13h4v1h-4zM50 13h2v1h-2zM57 13h3v1h-3zM62 13h1v1h-1zM6 14h1v1h-1zM9 14h1v1h-1zM15 14h2v1h-2zM21 14h2v1h-2zM27 14h1v1h-1zM33 14h1v1h-1zM37 14h4v1h-4zM47 14h1v1h-1zM49 14h2v1h-2zM60 14h1v1h-1zM7 15h2v1h-2zM15 15h1v1h-1zM17 15h1v1h-1zM29 15h1v1h-1zM40 15h1v1h-1zM45 15h1v1h-1zM49 15h1v1h-1zM55 15h1v1h-1zM59 15h2v1h-2z"/><path fill="#00bdff" d="M1 0h1v1h-1zM5 0h1v1h-1zM7 0h1v1h-1zM10 0h1v1h-1zM13 0h1v1h-1zM24 0h1v1h-1zM28 0h1v1h-1zM32 0h1v1h-1zM45 0h2v1h-2zM55 0h2v1h-2zM0 1h1v1h-1zM14 1h1v1h-1zM18 1h1v1h-1zM27 1h1v1h-1zM32 1h1v1h-1zM35 1h1v1h-1zM37 1h1v1h-1zM39 1h1v1h-1zM42 1h1v1h-1zM55 1h2v1h-2zM0 2h1v1h-1zM24 2h1v1h-1zM0 3h1v1h-1zM24 3h1v1h-1zM37 3h1v1h-1zM42 3h1v1h-1zM52 3h2v1h-2zM57 3h2v1h-2zM0 4h1v1h-1zM21 4h2v1h-2zM38 4h1v1h-1zM40 4h2v1h-2zM47 4h1v1h-1zM4 5h1v1h-1zM11 5h2v1h-2zM14 5h1v1h-1zM17 5h1v1h-1zM21 5h1v1h-1zM27 5h2v1h-2zM37 5h1v1h-1zM39 5h1v1h-1zM56 5h2v1h-2zM16 6h1v1h-1zM20 6h1v1h-1zM25 6h1v1h-1zM30 6h3v1h-3zM55 6h1v1h-1zM61 6h1v1h-1zM13 7h1v1h-1zM15 7h1v1h-1zM18 7h1v1h-1zM21 7h1v1h-1zM23 7h1v1h-1zM30 7h1v1h-1zM46 7h2v1h-2zM53 7h2v1h-2zM16 8h1v1h-1zM20 8h1v1h-1zM25 8h1v1h-1zM30 8h3v1h-3zM55 8h1v1h-1zM61 8h1v1h-1zM4 9h1v1h-1zM11 9h2v1h-2zM14 9h1v1h-1zM17 9h1v1h-1zM21 9h1v1h-1zM27 9h2v1h-2zM37 9h1v1h-1zM39 9h1v1h-1zM56 9h2v1h-2zM0 10h1v1h-1zM21 10h2v1h-2zM38 10h1v1h-1zM40 10h2v1h-2zM47 10h1v1h-1zM0 11h1v1h-1zM24 11h1v1h-1zM37 11h1v1h-1zM42 11h1v1h-1zM52 11h2v1h-2zM57 11h2v1h-2zM0 12h1v1h-1zM24 12h1v1h-1zM0 13h1v1h-1zM14 13h1v1h-1zM18 13h1v1h-1zM27 13h1v1h-1zM32 13h1v1h-1zM35 13h1v1h-1zM37 13h1v1h-1zM39 13h1v1h-1zM42 13h1v1h-1zM55 13h2v1h-2zM1 14h1v1h-1zM5 14h1v1h-1zM7 14h1v1h-1zM10 14h1v1h-1zM13 14h1v1h-1zM24 14h1v1h-1zM28 14h1v1h-1zM32 14h1v1h-1zM45 14h2v1h-2zM55 14h2v1h-2zM27 15h1v1h-1zM32 15h1v1h-1zM37 15h1v1h-1zM56 15h1v1h-1z"/><path fill="#08f0ef" d="M0 0h1v1h-1zM31 0h1v1h-1zM36 0h1v1h-1zM54 0h1v1h-1zM58 0h1v1h-1zM7 1h1v1h-1zM11 1h1v1h-1zM18 2h1v1h-1zM23 2h1v1h-1zM28 2h1v1h-1zM45 2h1v1h-1zM47 2h1v1h-1zM49 2h2v1h-2zM21 3h1v1h-1zM23 3h1v1h-1zM36 3h1v1h-1zM54 3h1v1h-1zM62 3h1v1h-1zM1 4h1v1h-1zM3 4h1v1h-1zM25 4h1v1h-1zM58 4h1v1h-1zM60 4h1v1h-1zM1 5h1v1h-1zM16 5h1v1h-1zM48 5h1v1h-1zM22 6h1v1h-1zM35 6h1v1h-1zM39 6h1v1h-1zM46 6h1v1h-1zM1 7h2v1h-2zM4 7h1v1h-1zM6 7h1v1h-1zM8 7h1v1h-1zM12 7h1v1h-1zM19 7h2v1h-2zM48 7h1v1h-1zM51 7h1v1h-1zM22 8h1v1h-1zM35 8h1v1h-1zM39 8h1v1h-1zM46 8h1v1h-1zM1 9h1v1h-1zM16 9h1v1h-1zM48 9h1v1h-1zM1 10h1v1h-1zM3 10h1v1h-1zM25 10h1v1h-1zM58 10h1v1h-1zM60 10h1v1h-1zM21 11h1v1h-1zM23 11h1v1h-1zM36 11h1v1h-1zM54 11h1v1h-1zM62 11h1v1h-1zM18 12h1v1h-1zM23 12h1v1h-1zM28 12h1v1h-1zM45 12h1v1h-1zM47 12h1v1h-1zM49 12h2v1h-2zM7 13h1v1h-1zM11 13h1v1h-1zM0 14h1v1h-1zM31 14h1v1h-1zM36 14h1v1h-1zM54 14h1v1h-1zM58 14h1v1h-1zM0 15h1v1h-1zM20 15h2v1h-2zM39 15h1v1h-1zM52 15h1v1h-1zM57 15h1v1h-1z"/><path fill="#3effb9" d="M41 0h1v1h-1zM41 1h1v1h-1zM54 1h1v1h-1zM12 2h1v1h-1zM30 2h1v1h-1zM56 2h2v1h-2zM16 3h1v1h-1zM31 5h1v1h-1zM50 5h1v1h-1zM53 5h1v1h-1zM55 5h1v1h-1zM61 5h1v1h-1zM19 6h1v1h-1zM28 6h1v1h-1zM40 6h1v1h-1zM53 6h1v1h-1zM9 7h3v1h-3zM33 7h1v1h-1zM19 8h1v1h-1zM28 8h1v1h-1zM40 8h1v1h-1zM53 8h1v1h-1zM31 9h1v1h-1zM50 9h1v1h-1zM53 9h1v1h-1zM55 9h1v1h-1zM61 9h1v1h-1zM16 11h1v1h-1zM12 12h1v1h-1zM30 12h1v1h-1zM56 12h2v1h-2zM41 13h1v1h-1zM54 13h1v1h-1zM41 14h1v1h-1zM1 15h1v1h-1zM5 15h2v1h-2zM11 15h1v1h-1zM28 15h1v1h-1zM31 15h1v1h-1zM38 15h1v1h-1zM41 15h1v1h-1zM54 15h1v1h-1z"/><path fill="#84ff73" d="M38 1h1v1h-1zM49 1h1v1h-1zM4 2h1v1h-1zM19 2h1v1h-1zM56 3h1v1h-1zM18 5h1v1h-1zM25 5h1v1h-1zM33 6h1v1h-1zM22 7h1v1h-1zM33 8h1v1h-1zM18 9h1v1h-1zM25 9h1v1h-1zM56 11h1v1h-1zM4 12h1v1h-1zM19 12h1v1h-1zM38 13h1v1h-1zM49 13h1v1h-1zM3 15h1v1h-1zM24 15h1v1h-1zM30 15h1v1h-1zM48 15h1v1h-1zM58 15h1v1h-1z"/><path fill="#c1ff35" d="M63 0h1v1h-1zM63 1h1v1h-1zM63 2h1v1h-1zM63 3h1v1h-1zM63 4h1v1h-1zM63 5h1v1h-1zM52 6h1v1h-1zM63 6h1v1h-1zM40 7h1v1h-1zM52 7h1v1h-1zM61 7h1v1h-1zM52 8h1v1h-1zM63 8h1v1h-1zM63 9h1v1h-1zM63 10h1v1h-1zM63 11h1v1h-1zM63 12h1v1h-1zM63 13h1v1h-1zM63 14h1v1h-1zM36 15h1v1h-1zM53 15h1v1h-1z"/><path fill="#ffec00" d="M27 3h1v1h-1zM60 7h1v1h-1zM27 11h1v1h-1zM63 15h1v1h-1z"/><path fill="#ffb800" d="M50 4h1v1h-1zM63 7h1v1h-1zM50 10h1v1h-1zM4 15h1v1h-1zM22 15h1v1h-1zM46 15h1v1h-1z"/><path fill="#ff7100" d="M29 7h1v1h-1zM31 7h1v1h-1z"/><path fill="#ff3400" d="M37 7h1v1h-1z"/><path fill="#910000" d="M50 15h1v1h-1z"/></g>
</g>
<rect x="837.00" y="12.80" width="11.30" height="223.10" fill="url(#jet)"/>
<g filter="url(#tb)">
<rect x="519.30" y="12.80" width="299.10" height="223.10" fill="none" stroke="#333" stroke-width="0.7"/>
<rect x="837.00" y="12.80" width="11.30" height="223.10" fill="none" stroke="#333" stroke-width="0.7"/>
<text class="t" x="514.70" y="231.53" text-anchor="end">0</text>
<text class="t" x="514.70" y="203.64" text-anchor="end">2</text>
<text class="t" x="514.70" y="175.75" text-anchor="end">4</text>
<text class="t" x="514.70" y="147.87" text-anchor="end">6</text>
<text class="t" x="514.70" y="119.98" text-anchor="end">8</text>
<text class="t" x="514.70" y="92.09" text-anchor="end">10</text>
<text class="t" x="514.70" y="64.20" text-anchor="end">12</text>
<text class="t" x="514.70" y="36.32" text-anchor="end">14</text>
<text class="t" x="521.64" y="246.10" text-anchor="middle">0</text>
<text class="t" x="568.37" y="246.10" text-anchor="middle">10</text>
<text class="t" x="615.11" y="246.10" text-anchor="middle">20</text>
<text class="t" x="661.84" y="246.10" text-anchor="middle">30</text>
<text class="t" x="708.57" y="246.10" text-anchor="middle">40</text>
<text class="t" x="755.31" y="246.10" text-anchor="middle">50</text>
<text class="t" x="802.04" y="246.10" text-anchor="middle">60</text>
<text class="t" x="852.50" y="49.15">100</text>
<text class="t" x="852.50" y="94.40">80</text>
<text class="t" x="852.50" y="139.40">60</text>
<text class="t" x="852.50" y="184.65">40</text>
<text class="t" x="852.50" y="229.90">20</text>
<path d="M519.30 228.93h-2.6M519.30 201.04h-2.6M519.30 173.15h-2.6M519.30 145.27h-2.6M519.30 117.38h-2.6M519.30 89.49h-2.6M519.30 61.60h-2.6M519.30 33.72h-2.6M521.64 235.90v2.6M568.37 235.90v2.6M615.11 235.90v2.6M661.84 235.90v2.6M708.57 235.90v2.6M755.31 235.90v2.6M802.04 235.90v2.6M848.30 46.55h2.6M848.30 91.80h2.6M848.30 136.80h2.6M848.30 182.05h2.6M848.30 227.30h2.6" stroke="#222" stroke-width="0.6" fill="none"/>
<text class="t" x="668.85" y="255.40" text-anchor="middle">Time</text>
<text class="t" transform="translate(502.30 124.35) rotate(-90)" text-anchor="middle">Frequency</text>
<text class="t" transform="translate(873.30 124.35) rotate(-90)" text-anchor="middle">Magnitude</text>
</g>
<text class="c" filter="url(#cb)" x="681.75" y="296.40">(b)</text>
</g>
<g id="panel-c">
<g filter="url(#hb)" shape-rendering="crispEdges"><rect x="1010.30" y="12.80" width="299.10" height="223.10" fill="#0040ff"/>
<g transform="translate(1010.30 12.80) scale(4.67344 13.94375)" shape-rendering="crispEdges"><path fill="#000080" d="M38 3h1v1h-1zM20 4h1v1h-1zM20 10h1v1h-1zM38 11h1v1h-1z"/><path fill="#0000b9" d="M45 0h1v1h-1zM20 3h1v1h-1zM2 4h1v1h-1zM38 4h1v1h-1zM20 5h1v1h-1zM38 5h1v1h-1zM20 9h1v1h-1zM38 9h1v1h-1zM2 10h1v1h-1zM38 10h1v1h-1zM20 11h1v1h-1zM45 14h1v1h-1z"/><path fill="#0000ff" d="M9 0h1v1h-1zM14 0h1v1h-1zM44 0h1v1h-1zM47 0h1v1h-1zM60 0h2v1h-2zM9 1h1v1h-1zM24 1h1v1h-1zM33 1h1v1h-1zM39 1h1v1h-1zM42 1h4v1h-4zM47 1h1v1h-1zM56 1h1v1h-1zM2 2h1v1h-1zM7 2h1v1h-1zM19 2h1v1h-1zM22 2h1v1h-1zM33 2h1v1h-1zM38 2h1v1h-1zM2 3h1v1h-1zM7 3h1v1h-1zM11 3h1v1h-1zM37 3h1v1h-1zM39 3h2v1h-2zM43 3h1v1h-1zM47 3h1v1h-1zM49 3h1v1h-1zM52 3h2v1h-2zM59 3h1v1h-1zM8 4h1v1h-1zM18 4h1v1h-1zM27 4h1v1h-1zM29 4h1v1h-1zM47 4h1v1h-1zM51 4h1v1h-1zM56 4h1v1h-1zM2 5h2v1h-2zM8 5h1v1h-1zM11 5h1v1h-1zM29 5h1v1h-1zM34 5h2v1h-2zM47 5h1v1h-1zM49 5h1v1h-1zM55 5h2v1h-2zM10 6h1v1h-1zM17 6h1v1h-1zM20 6h1v1h-1zM10 7h1v1h-1zM21 7h1v1h-1zM39 7h1v1h-1zM54 7h1v1h-1zM10 8h1v1h-1zM17 8h1v1h-1zM20 8h1v1h-1zM2 9h2v1h-2zM8 9h1v1h-1zM11 9h1v1h-1zM29 9h1v1h-1zM34 9h2v1h-2zM47 9h1v1h-1zM49 9h1v1h-1zM55 9h2v1h-2zM8 10h1v1h-1zM18 10h1v1h-1zM27 10h1v1h-1zM29 10h1v1h-1zM47 10h1v1h-1zM51 10h1v1h-1zM56 10h1v1h-1zM2 11h1v1h-1zM7 11h1v1h-1zM11 11h1v1h-1zM37 11h1v1h-1zM39 11h2v1h-2zM43 11h1v1h-1zM47 11h1v1h-1zM49 11h1v1h-1zM52 11h2v1h-2zM59 11h1v1h-1zM2 12h1v1h-1zM7 12h1v1h-1zM19 12h1v1h-1zM22 12h1v1h-1zM33 12h1v1h-1zM38 12h1v1h-1zM9 13h1v1h-1zM24 13h1v1h-1zM33 13h1v1h-1zM39 13h1v1h-1zM42 13h4v1h-4zM47 13h1v1h-1zM56 13h1v1h-1zM9 14h1v1h-1zM14 14h1v1h-1zM44 14h1v1h-1zM47 14h1v1h-1zM60 14h2v1h-2zM9 15h1v1h-1zM14 15h1v1h-1zM18 15h1v1h-1zM41 15h1v1h-1zM44 15h1v1h-1z"/><path fill="#0029ff" d="M5 0h2v1h-2zM16 0h2v1h-2zM24 0h1v1h-1zM28 0h1v1h-1zM38 0h1v1h-1zM40 0h2v1h-2zM49 0h1v1h-1zM55 0h3v1h-3zM1 1h8v1h-8zM21 1h1v1h-1zM28 1h2v1h-2zM36 1h1v1h-1zM41 1h1v1h-1zM46 1h1v1h-1zM55 1h1v1h-1zM57 1h1v1h-1zM60 1h1v1h-1zM1 2h1v1h-1zM23 2h1v1h-1zM27 2h6v1h-6zM39 2h2v1h-2zM43 2h1v1h-1zM47 2h2v1h-2zM51 2h2v1h-2zM55 2h1v1h-1zM60 2h1v1h-1zM16 3h4v1h-4zM21 3h3v1h-3zM27 3h1v1h-1zM29 3h1v1h-1zM32 3h1v1h-1zM34 3h2v1h-2zM42 3h1v1h-1zM48 3h1v1h-1zM50 3h2v1h-2zM55 3h4v1h-4zM60 3h1v1h-1zM3 4h1v1h-1zM10 4h2v1h-2zM14 4h1v1h-1zM22 4h2v1h-2zM28 4h1v1h-1zM34 4h2v1h-2zM37 4h1v1h-1zM45 4h1v1h-1zM48 4h1v1h-1zM55 4h1v1h-1zM59 4h1v1h-1zM12 5h2v1h-2zM21 5h1v1h-1zM25 5h2v1h-2zM31 5h3v1h-3zM40 5h1v1h-1zM45 5h2v1h-2zM51 5h2v1h-2zM58 5h1v1h-1zM4 6h2v1h-2zM7 6h1v1h-1zM11 6h3v1h-3zM22 6h1v1h-1zM28 6h2v1h-2zM33 6h1v1h-1zM37 6h3v1h-3zM42 6h1v1h-1zM45 6h2v1h-2zM55 6h1v1h-1zM5 7h1v1h-1zM13 7h1v1h-1zM18 7h2v1h-2zM27 7h1v1h-1zM33 7h1v1h-1zM36 7h1v1h-1zM41 7h1v1h-1zM4 8h2v1h-2zM7 8h1v1h-1zM11 8h3v1h-3zM22 8h1v1h-1zM28 8h2v1h-2zM33 8h1v1h-1zM37 8h3v1h-3zM42 8h1v1h-1zM45 8h2v1h-2zM55 8h1v1h-1zM12 9h2v1h-2zM21 9h1v1h-1zM25 9h2v1h-2zM31 9h3v1h-3zM40 9h1v1h-1zM45 9h2v1h-2zM51 9h2v1h-2zM58 9h1v1h-1zM3 10h1v1h-1zM10 10h2v1h-2zM14 10h1v1h-1zM22 10h2v1h-2zM28 10h1v1h-1zM34 10h2v1h-2zM37 10h1v1h-1zM45 10h1v1h-1zM48 10h1v1h-1zM55 10h1v1h-1zM59 10h1v1h-1zM16 11h4v1h-4zM21 11h3v1h-3zM27 11h1v1h-1zM29 11h1v1h-1zM32 11h1v1h-1zM34 11h2v1h-2zM42 11h1v1h-1zM48 11h1v1h-1zM50 11h2v1h-2zM55 11h4v1h-4zM60 11h1v1h-1zM1 12h1v1h-1zM23 12h1v1h-1zM27 12h6v1h-6zM39 12h2v1h-2zM43 12h1v1h-1zM47 12h2v1h-2zM51 12h2v1h-2zM55 12h1v1h-1zM60 12h1v1h-1zM1 13h8v1h-8zM21 13h1v1h-1zM28 13h2v1h-2zM36 13h1v1h-1zM41 13h1v1h-1zM46 13h1v1h-1zM55 13h1v1h-1zM57 13h1v1h-1zM60 13h1v1h-1zM5 14h2v1h-2zM16 14h2v1h-2zM24 14h1v1h-1zM28 14h1v1h-1zM38 14h1v1h-1zM40 14h2v1h-2zM49 14h1v1h-1zM55 14h3v1h-3zM1 15h1v1h-1zM6 15h1v1h-1zM10 15h1v1h-1zM16 15h1v1h-1zM25 15h2v1h-2zM55 15h1v1h-1zM60 15h1v1h-1z"/><path fill="#0075ff" d="M1 0h4v1h-4zM8 0h1v1h-1zM10 0h4v1h-4zM18 0h1v1h-1zM23 0h1v1h-1zM25 0h2v1h-2zM33 0h1v1h-1zM36 0h1v1h-1zM42 0h2v1h-2zM46 0h1v1h-1zM48 0h1v1h-1zM53 0h2v1h-2zM58 0h2v1h-2zM10 1h1v1h-1zM15 1h1v1h-1zM17 1h2v1h-2zM20 1h1v1h-1zM22 1h2v1h-2zM27 1h1v1h-1zM32 1h1v1h-1zM37 1h2v1h-2zM40 1h1v1h-1zM48 1h1v1h-1zM51 1h1v1h-1zM61 1h1v1h-1zM0 2h1v1h-1zM3 2h4v1h-4zM9 2h2v1h-2zM13 2h3v1h-3zM17 2h1v1h-1zM21 2h1v1h-1zM35 2h1v1h-1zM42 2h1v1h-1zM44 2h2v1h-2zM49 2h1v1h-1zM54 2h1v1h-1zM56 2h4v1h-4zM61 2h1v1h-1zM0 3h2v1h-2zM4 3h1v1h-1zM6 3h1v1h-1zM10 3h1v1h-1zM14 3h2v1h-2zM24 3h1v1h-1zM28 3h1v1h-1zM30 3h2v1h-2zM33 3h1v1h-1zM44 3h2v1h-2zM62 3h1v1h-1zM1 4h1v1h-1zM4 4h1v1h-1zM9 4h1v1h-1zM12 4h2v1h-2zM16 4h2v1h-2zM24 4h2v1h-2zM30 4h2v1h-2zM33 4h1v1h-1zM39 4h6v1h-6zM46 4h1v1h-1zM49 4h2v1h-2zM53 4h2v1h-2zM4 5h2v1h-2zM7 5h1v1h-1zM14 5h1v1h-1zM16 5h4v1h-4zM22 5h2v1h-2zM27 5h1v1h-1zM37 5h1v1h-1zM42 5h3v1h-3zM48 5h1v1h-1zM53 5h2v1h-2zM59 5h2v1h-2zM62 5h1v1h-1zM0 6h1v1h-1zM2 6h1v1h-1zM9 6h1v1h-1zM16 6h1v1h-1zM19 6h1v1h-1zM25 6h3v1h-3zM31 6h2v1h-2zM34 6h3v1h-3zM40 6h2v1h-2zM43 6h1v1h-1zM47 6h2v1h-2zM52 6h2v1h-2zM56 6h1v1h-1zM59 6h4v1h-4zM0 7h1v1h-1zM7 7h1v1h-1zM11 7h2v1h-2zM20 7h1v1h-1zM23 7h1v1h-1zM25 7h2v1h-2zM29 7h1v1h-1zM40 7h1v1h-1zM42 7h1v1h-1zM52 7h1v1h-1zM0 8h1v1h-1zM2 8h1v1h-1zM9 8h1v1h-1zM16 8h1v1h-1zM19 8h1v1h-1zM25 8h3v1h-3zM31 8h2v1h-2zM34 8h3v1h-3zM40 8h2v1h-2zM43 8h1v1h-1zM47 8h2v1h-2zM52 8h2v1h-2zM56 8h1v1h-1zM59 8h4v1h-4zM4 9h2v1h-2zM7 9h1v1h-1zM14 9h1v1h-1zM16 9h4v1h-4zM22 9h2v1h-2zM27 9h1v1h-1zM37 9h1v1h-1zM42 9h3v1h-3zM48 9h1v1h-1zM53 9h2v1h-2zM59 9h2v1h-2zM62 9h1v1h-1zM1 10h1v1h-1zM4 10h1v1h-1zM9 10h1v1h-1zM12 10h2v1h-2zM16 10h2v1h-2zM24 10h2v1h-2zM30 10h2v1h-2zM33 10h1v1h-1zM39 10h6v1h-6zM46 10h1v1h-1zM49 10h2v1h-2zM53 10h2v1h-2zM0 11h2v1h-2zM4 11h1v1h-1zM6 11h1v1h-1zM10 11h1v1h-1zM14 11h2v1h-2zM24 11h1v1h-1zM28 11h1v1h-1zM30 11h2v1h-2zM33 11h1v1h-1zM44 11h2v1h-2zM62 11h1v1h-1zM0 12h1v1h-1zM3 12h4v1h-4zM9 12h2v1h-2zM13 12h3v1h-3zM17 12h1v1h-1zM21 12h1v1h-1zM35 12h1v1h-1zM42 12h1v1h-1zM44 12h2v1h-2zM49 12h1v1h-1zM54 12h1v1h-1zM56 12h4v1h-4zM61 12h1v1h-1zM10 13h1v1h-1zM15 13h1v1h-1zM17 13h2v1h-2zM20 13h1v1h-1zM22 13h2v1h-2zM27 13h1v1h-1zM32 13h1v1h-1zM37 13h2v1h-2zM40 13h1v1h-1zM48 13h1v1h-1zM51 13h1v1h-1zM61 13h1v1h-1zM1 14h4v1h-4zM8 14h1v1h-1zM10 14h4v1h-4zM18 14h1v1h-1zM23 14h1v1h-1zM25 14h2v1h-2zM33 14h1v1h-1zM36 14h1v1h-1zM42 14h2v1h-2zM46 14h1v1h-1zM48 14h1v1h-1zM53 14h2v1h-2zM58 14h2v1h-2zM4 15h2v1h-2zM13 15h1v1h-1zM19 15h2v1h-2zM22 15h3v1h-3zM28 15h1v1h-1zM33 15h1v1h-1zM38 15h1v1h-1zM42 15h1v1h-1zM45 15h3v1h-3zM50 15h1v1h-1zM53 15h1v1h-1zM59 15h1v1h-1z"/><path fill="#00bdff" d="M7 0h1v1h-1zM15 0h1v1h-1zM27 0h1v1h-1zM31 0h1v1h-1zM37 0h1v1h-1zM39 0h1v1h-1zM50 0h3v1h-3zM0 1h1v1h-1zM12 1h3v1h-3zM19 1h1v1h-1zM25 1h2v1h-2zM31 1h1v1h-1zM35 1h1v1h-1zM49 1h2v1h-2zM52 1h3v1h-3zM58 1h1v1h-1zM11 2h1v1h-1zM16 2h1v1h-1zM20 2h1v1h-1zM37 2h1v1h-1zM62 2h1v1h-1zM3 3h1v1h-1zM8 3h2v1h-2zM13 3h1v1h-1zM25 3h2v1h-2zM41 3h1v1h-1zM54 3h1v1h-1zM61 3h1v1h-1zM0 4h1v1h-1zM19 4h1v1h-1zM21 4h1v1h-1zM26 4h1v1h-1zM58 4h1v1h-1zM60 4h3v1h-3zM24 5h1v1h-1zM30 5h1v1h-1zM39 5h1v1h-1zM1 6h1v1h-1zM6 6h1v1h-1zM14 6h2v1h-2zM21 6h1v1h-1zM24 6h1v1h-1zM44 6h1v1h-1zM49 6h2v1h-2zM54 6h1v1h-1zM57 6h2v1h-2zM2 7h3v1h-3zM8 7h2v1h-2zM15 7h2v1h-2zM31 7h1v1h-1zM37 7h1v1h-1zM43 7h1v1h-1zM46 7h3v1h-3zM51 7h1v1h-1zM53 7h1v1h-1zM56 7h1v1h-1zM60 7h3v1h-3zM1 8h1v1h-1zM6 8h1v1h-1zM14 8h2v1h-2zM21 8h1v1h-1zM24 8h1v1h-1zM44 8h1v1h-1zM49 8h2v1h-2zM54 8h1v1h-1zM57 8h2v1h-2zM24 9h1v1h-1zM30 9h1v1h-1zM39 9h1v1h-1zM0 10h1v1h-1zM19 10h1v1h-1zM21 10h1v1h-1zM26 10h1v1h-1zM58 10h1v1h-1zM60 10h3v1h-3zM3 11h1v1h-1zM8 11h2v1h-2zM13 11h1v1h-1zM25 11h2v1h-2zM41 11h1v1h-1zM54 11h1v1h-1zM61 11h1v1h-1zM11 12h1v1h-1zM16 12h1v1h-1zM20 12h1v1h-1zM37 12h1v1h-1zM62 12h1v1h-1zM0 13h1v1h-1zM12 13h3v1h-3zM19 13h1v1h-1zM25 13h2v1h-2zM31 13h1v1h-1zM35 13h1v1h-1zM49 13h2v1h-2zM52 13h3v1h-3zM58 13h1v1h-1zM7 14h1v1h-1zM15 14h1v1h-1zM27 14h1v1h-1zM31 14h1v1h-1zM37 14h1v1h-1zM39 14h1v1h-1zM50 14h3v1h-3zM17 15h1v1h-1zM40 15h1v1h-1zM43 15h1v1h-1zM57 15h2v1h-2zM61 15h1v1h-1z"/><path fill="#08f0ef" d="M19 0h4v1h-4zM29 0h2v1h-2zM34 0h2v1h-2zM62 0h1v1h-1zM11 1h1v1h-1zM16 1h1v1h-1zM59 1h1v1h-1zM62 1h1v1h-1zM8 2h1v1h-1zM12 2h1v1h-1zM24 2h1v1h-1zM34 2h1v1h-1zM41 2h1v1h-1zM46 2h1v1h-1zM53 2h1v1h-1zM12 3h1v1h-1zM36 3h1v1h-1zM46 3h1v1h-1zM15 4h1v1h-1zM32 4h1v1h-1zM36 4h1v1h-1zM52 4h1v1h-1zM57 4h1v1h-1zM6 5h1v1h-1zM9 5h2v1h-2zM28 5h1v1h-1zM41 5h1v1h-1zM50 5h1v1h-1zM57 5h1v1h-1zM61 5h1v1h-1zM3 6h1v1h-1zM18 6h1v1h-1zM23 6h1v1h-1zM30 6h1v1h-1zM51 6h1v1h-1zM24 7h1v1h-1zM35 7h1v1h-1zM44 7h2v1h-2zM55 7h1v1h-1zM59 7h1v1h-1zM3 8h1v1h-1zM18 8h1v1h-1zM23 8h1v1h-1zM30 8h1v1h-1zM51 8h1v1h-1zM6 9h1v1h-1zM9 9h2v1h-2zM28 9h1v1h-1zM41 9h1v1h-1zM50 9h1v1h-1zM57 9h1v1h-1zM61 9h1v1h-1zM15 10h1v1h-1zM32 10h1v1h-1zM36 10h1v1h-1zM52 10h1v1h-1zM57 10h1v1h-1zM12 11h1v1h-1zM36 11h1v1h-1zM46 11h1v1h-1zM8 12h1v1h-1zM12 12h1v1h-1zM24 12h1v1h-1zM34 12h1v1h-1zM41 12h1v1h-1zM46 12h1v1h-1zM53 12h1v1h-1zM11 13h1v1h-1zM16 13h1v1h-1zM59 13h1v1h-1zM62 13h1v1h-1zM19 14h4v1h-4zM29 14h2v1h-2zM34 14h2v1h-2zM62 14h1v1h-1zM0 15h1v1h-1zM2 15h1v1h-1zM8 15h1v1h-1zM11 15h1v1h-1zM29 15h1v1h-1zM32 15h1v1h-1zM49 15h1v1h-1z"/><path fill="#3effb9" d="M0 0h1v1h-1zM34 1h1v1h-1zM18 2h1v1h-1zM50 2h1v1h-1zM5 3h1v1h-1zM5 4h3v1h-3zM0 5h1v1h-1zM15 5h1v1h-1zM8 6h1v1h-1zM6 7h1v1h-1zM22 7h1v1h-1zM28 7h1v1h-1zM34 7h1v1h-1zM49 7h1v1h-1zM8 8h1v1h-1zM0 9h1v1h-1zM15 9h1v1h-1zM5 10h3v1h-3zM5 11h1v1h-1zM18 12h1v1h-1zM50 12h1v1h-1zM34 13h1v1h-1zM0 14h1v1h-1zM3 15h1v1h-1zM7 15h1v1h-1zM15 15h1v1h-1zM27 15h1v1h-1zM31 15h1v1h-1zM34 15h2v1h-2zM37 15h1v1h-1zM48 15h1v1h-1zM54 15h1v1h-1z"/><path fill="#84ff73" d="M32 0h1v1h-1zM30 1h1v1h-1zM25 2h2v1h-2zM36 2h1v1h-1zM1 5h1v1h-1zM14 7h1v1h-1zM17 7h1v1h-1zM30 7h1v1h-1zM32 7h1v1h-1zM38 7h1v1h-1zM50 7h1v1h-1zM57 7h2v1h-2zM1 9h1v1h-1zM25 12h2v1h-2zM36 12h1v1h-1zM30 13h1v1h-1zM32 14h1v1h-1zM21 15h1v1h-1zM30 15h1v1h-1zM36 15h1v1h-1zM56 15h1v1h-1zM62 15h1v1h-1z"/><path fill="#c1ff35" d="M63 0h1v1h-1zM63 1h1v1h-1zM63 3h1v1h-1zM63 4h1v1h-1zM36 5h1v1h-1zM63 5h1v1h-1zM63 6h1v1h-1zM1 7h1v1h-1zM63 8h1v1h-1zM36 9h1v1h-1zM63 9h1v1h-1zM63 10h1v1h-1zM63 11h1v1h-1zM63 13h1v1h-1zM63 14h1v1h-1zM52 15h1v1h-1zM63 15h1v1h-1z"/><path fill="#ffec00" d="M63 2h1v1h-1zM63 12h1v1h-1z"/><path fill="#ffb800" d="M63 7h1v1h-1zM51 15h1v1h-1z"/><path fill="#dc0000" d="M12 15h1v1h-1z"/><path fill="#910000" d="M39 15h1v1h-1z"/></g>
</g>
<rect x="1328.00" y="12.80" width="11.30" height="223.10" fill="url(#jet)"/>
<g filter="url(#tb)">
<rect x="1010.30" y="12.80" width="299.10" height="223.10" fill="none" stroke="#333" stroke-width="0.7"/>
<rect x="1328.00" y="12.80" width="11.30" height="223.10" fill="none" stroke="#333" stroke-width="0.7"/>
<text class="t" x="1005.70" y="231.53" text-anchor="end">0</text>
<text class="t" x="1005.70" y="203.64" text-anchor="end">2</text>
<text class="t" x="1005.70" y="175.75" text-anchor="end">4</text>
<text class="t" x="1005.70" y="147.87" text-anchor="end">6</text>
<text class="t" x="1005.70" y="119.98" text-anchor="end">8</text>
<text class="t" x="1005.70" y="92.09" text-anchor="end">10</text>
<text class="t" x="1005.70" y="64.20" text-anchor="end">12</text>
<text class="t" x="1005.70" y="36.32" text-anchor="end">14</text>
<text class="t" x="1012.64" y="246.10" text-anchor="middle">0</text>
<text class="t" x="1059.37" y="246.10" text-anchor="middle">10</text>
<text class="t" x="1106.11" y="246.10" text-anchor="middle">20</text>
<text class="t" x="1152.84" y="246.10" text-anchor="middle">30</text>
<text class="t" x="1199.57" y="246.10" text-anchor="middle">40</text>
<text class="t" x="1246.31" y="246.10" text-anchor="middle">50</text>
<text class="t" x="1293.04" y="246.10" text-anchor="middle">60</text>
<text class="t" x="1343.50" y="31.90">100</text>
<text class="t" x="1343.50" y="76.65">80</text>
<text class="t" x="1343.50" y="121.40">60</text>
<text class="t" x="1343.50" y="166.15">40</text>
<text class="t" x="1343.50" y="210.90">20</text>
<path d="M1010.30 228.93h-2.6M1010.30 201.04h-2.6M1010.30 173.15h-2.6M1010.30 145.27h-2.6M1010.30 117.38h-2.6M1010.30 89.49h-2.6M1010.30 61.60h-2.6M1010.30 33.72h-2.6M1012.64 235.90v2.6M1059.37 235.90v2.6M1106.11 235.90v2.6M1152.84 235.90v2.6M1199.57 235.90v2.6M1246.31 235.90v2.6M1293.04 235.90v2.6M1339.30 29.30h2.6M1339.30 74.05h2.6M1339.30 118.80h2.6M1339.30 163.55h2.6M1339.30 208.30h2.6" stroke="#222" stroke-width="0.6" fill="none"/>
<text class="t" x="1159.85" y="255.40" text-anchor="middle">Time</text>
<text class="t" transform="translate(993.30 124.35) rotate(-90)" text-anchor="middle">Frequency</text>
<text class="t" transform="translate(1364.30 124.35) rotate(-90)" text-anchor="middle">Magnitude</text>
</g>
<text class="c" filter="url(#cb)" x="1173.50" y="296.40">(c)</text>
</g>
<g id="panel-d">
<g filter="url(#hb)" shape-rendering="crispEdges"><rect x="1491.90" y="12.80" width="299.10" height="223.10" fill="#0040ff"/>
<g transform="translate(1491.90 12.80) scale(4.67344 13.94375)" shape-rendering="crispEdges"><path fill="#000080" d="M26 1h2v1h-2zM31 1h1v1h-1zM7 2h1v1h-1zM26 2h2v1h-2zM1 4h2v1h-2zM43 4h1v1h-1zM31 5h1v1h-1zM5 7h1v1h-1zM17 7h1v1h-1zM30 7h1v1h-1zM31 9h1v1h-1zM1 10h2v1h-2zM43 10h1v1h-1zM7 12h1v1h-1zM26 12h2v1h-2zM26 13h2v1h-2zM31 13h1v1h-1zM3 15h1v1h-1zM28 15h1v1h-1zM46 15h2v1h-2z"/><path fill="#0000b9" d="M9 0h2v1h-2zM14 0h1v1h-1zM17 0h1v1h-1zM31 0h1v1h-1zM6 1h1v1h-1zM17 1h1v1h-1zM29 1h1v1h-1zM32 1h1v1h-1zM52 1h2v1h-2zM8 2h3v1h-3zM13 2h1v1h-1zM18 2h1v1h-1zM58 2h1v1h-1zM1 3h1v1h-1zM5 3h1v1h-1zM8 3h1v1h-1zM10 3h1v1h-1zM20 3h4v1h-4zM29 3h2v1h-2zM37 3h1v1h-1zM4 4h2v1h-2zM8 4h1v1h-1zM19 4h2v1h-2zM29 4h1v1h-1zM10 5h1v1h-1zM19 5h1v1h-1zM32 5h1v1h-1zM36 5h1v1h-1zM45 5h1v1h-1zM47 5h1v1h-1zM49 5h1v1h-1zM31 6h2v1h-2zM37 6h1v1h-1zM53 6h1v1h-1zM55 6h2v1h-2zM58 6h1v1h-1zM13 7h1v1h-1zM15 7h1v1h-1zM52 7h1v1h-1zM31 8h2v1h-2zM37 8h1v1h-1zM53 8h1v1h-1zM55 8h2v1h-2zM58 8h1v1h-1zM10 9h1v1h-1zM19 9h1v1h-1zM32 9h1v1h-1zM36 9h1v1h-1zM45 9h1v1h-1zM47 9h1v1h-1zM49 9h1v1h-1zM4 10h2v1h-2zM8 10h1v1h-1zM19 10h2v1h-2zM29 10h1v1h-1zM1 11h1v1h-1zM5 11h1v1h-1zM8 11h1v1h-1zM10 11h1v1h-1zM20 11h4v1h-4zM29 11h2v1h-2zM37 11h1v1h-1zM8 12h3v1h-3zM13 12h1v1h-1zM18 12h1v1h-1zM58 12h1v1h-1zM6 13h1v1h-1zM17 13h1v1h-1zM29 13h1v1h-1zM32 13h1v1h-1zM52 13h2v1h-2zM9 14h2v1h-2zM14 14h1v1h-1zM17 14h1v1h-1zM31 14h1v1h-1zM7 15h1v1h-1zM30 15h1v1h-1zM45 15h1v1h-1zM55 15h1v1h-1z"/><path fill="#0000ff" d="M3 0h1v1h-1zM5 0h1v1h-1zM7 0h2v1h-2zM11 0h2v1h-2zM27 0h2v1h-2zM30 0h1v1h-1zM33 0h1v1h-1zM36 0h1v1h-1zM43 0h1v1h-1zM45 0h3v1h-3zM53 0h2v1h-2zM56 0h1v1h-1zM60 0h2v1h-2zM12 1h3v1h-3zM16 1h1v1h-1zM24 1h1v1h-1zM41 1h1v1h-1zM43 1h1v1h-1zM46 1h1v1h-1zM56 1h1v1h-1zM58 1h1v1h-1zM19 2h1v1h-1zM21 2h2v1h-2zM25 2h1v1h-1zM28 2h2v1h-2zM33 2h1v1h-1zM39 2h1v1h-1zM41 2h1v1h-1zM43 2h2v1h-2zM46 2h2v1h-2zM51 2h1v1h-1zM56 2h1v1h-1zM60 2h2v1h-2zM4 3h1v1h-1zM9 3h1v1h-1zM27 3h2v1h-2zM38 3h1v1h-1zM41 3h1v1h-1zM43 3h2v1h-2zM47 3h1v1h-1zM50 3h2v1h-2zM54 3h2v1h-2zM58 3h1v1h-1zM60 3h2v1h-2zM6 4h1v1h-1zM15 4h1v1h-1zM23 4h1v1h-1zM26 4h2v1h-2zM35 4h4v1h-4zM42 4h1v1h-1zM44 4h2v1h-2zM48 4h1v1h-1zM54 4h1v1h-1zM56 4h1v1h-1zM4 5h2v1h-2zM8 5h2v1h-2zM11 5h1v1h-1zM15 5h1v1h-1zM20 5h1v1h-1zM30 5h1v1h-1zM35 5h1v1h-1zM42 5h1v1h-1zM44 5h1v1h-1zM46 5h1v1h-1zM48 5h1v1h-1zM50 5h1v1h-1zM52 5h1v1h-1zM55 5h2v1h-2zM1 6h1v1h-1zM5 6h3v1h-3zM9 6h3v1h-3zM13 6h1v1h-1zM15 6h2v1h-2zM20 6h1v1h-1zM22 6h1v1h-1zM29 6h2v1h-2zM33 6h3v1h-3zM38 6h2v1h-2zM42 6h2v1h-2zM48 6h1v1h-1zM52 6h1v1h-1zM57 6h1v1h-1zM59 6h1v1h-1zM61 6h2v1h-2zM6 7h2v1h-2zM16 7h1v1h-1zM19 7h2v1h-2zM32 7h2v1h-2zM48 7h1v1h-1zM58 7h2v1h-2zM1 8h1v1h-1zM5 8h3v1h-3zM9 8h3v1h-3zM13 8h1v1h-1zM15 8h2v1h-2zM20 8h1v1h-1zM22 8h1v1h-1zM29 8h2v1h-2zM33 8h3v1h-3zM38 8h2v1h-2zM42 8h2v1h-2zM48 8h1v1h-1zM52 8h1v1h-1zM57 8h1v1h-1zM59 8h1v1h-1zM61 8h2v1h-2zM4 9h2v1h-2zM8 9h2v1h-2zM11 9h1v1h-1zM15 9h1v1h-1zM20 9h1v1h-1zM30 9h1v1h-1zM35 9h1v1h-1zM42 9h1v1h-1zM44 9h1v1h-1zM46 9h1v1h-1zM48 9h1v1h-1zM50 9h1v1h-1zM52 9h1v1h-1zM55 9h2v1h-2zM6 10h1v1h-1zM15 10h1v1h-1zM23 10h1v1h-1zM26 10h2v1h-2zM35 10h4v1h-4zM42 10h1v1h-1zM44 10h2v1h-2zM48 10h1v1h-1zM54 10h1v1h-1zM56 10h1v1h-1zM4 11h1v1h-1zM9 11h1v1h-1zM27 11h2v1h-2zM38 11h1v1h-1zM41 11h1v1h-1zM43 11h2v1h-2zM47 11h1v1h-1zM50 11h2v1h-2zM54 11h2v1h-2zM58 11h1v1h-1zM60 11h2v1h-2zM19 12h1v1h-1zM21 12h2v1h-2zM25 12h1v1h-1zM28 12h2v1h-2zM33 12h1v1h-1zM39 12h1v1h-1zM41 12h1v1h-1zM43 12h2v1h-2zM46 12h2v1h-2zM51 12h1v1h-1zM56 12h1v1h-1zM60 12h2v1h-2zM12 13h3v1h-3zM16 13h1v1h-1zM24 13h1v1h-1zM41 13h1v1h-1zM43 13h1v1h-1zM46 13h1v1h-1zM56 13h1v1h-1zM58 13h1v1h-1zM3 14h1v1h-1zM5 14h1v1h-1zM7 14h2v1h-2zM11 14h2v1h-2zM27 14h2v1h-2zM30 14h1v1h-1zM33 14h1v1h-1zM36 14h1v1h-1zM43 14h1v1h-1zM45 14h3v1h-3zM53 14h2v1h-2zM56 14h1v1h-1zM60 14h2v1h-2zM5 15h1v1h-1zM9 15h1v1h-1zM11 15h2v1h-2zM14 15h1v1h-1zM31 15h1v1h-1zM40 15h1v1h-1zM43 15h1v1h-1zM61 15h2v1h-2z"/><path fill="#0029ff" d="M6 0h1v1h-1zM16 0h1v1h-1zM18 0h2v1h-2zM25 0h2v1h-2zM34 0h1v1h-1zM38 0h5v1h-5zM50 0h2v1h-2zM55 0h1v1h-1zM57 0h1v1h-1zM5 1h1v1h-1zM8 1h1v1h-1zM19 1h1v1h-1zM28 1h1v1h-1zM36 1h4v1h-4zM44 1h1v1h-1zM59 1h2v1h-2zM1 2h1v1h-1zM5 2h2v1h-2zM11 2h1v1h-1zM14 2h1v1h-1zM16 2h1v1h-1zM31 2h2v1h-2zM52 2h2v1h-2zM62 2h1v1h-1zM2 3h2v1h-2zM7 3h1v1h-1zM13 3h1v1h-1zM18 3h1v1h-1zM24 3h1v1h-1zM32 3h2v1h-2zM35 3h1v1h-1zM39 3h1v1h-1zM49 3h1v1h-1zM52 3h1v1h-1zM9 4h2v1h-2zM21 4h1v1h-1zM24 4h1v1h-1zM31 4h1v1h-1zM34 4h1v1h-1zM50 4h4v1h-4zM60 4h3v1h-3zM1 5h1v1h-1zM12 5h1v1h-1zM16 5h1v1h-1zM22 5h1v1h-1zM24 5h1v1h-1zM26 5h2v1h-2zM38 5h2v1h-2zM53 5h1v1h-1zM59 5h2v1h-2zM62 5h1v1h-1zM2 6h1v1h-1zM8 6h1v1h-1zM17 6h1v1h-1zM23 6h3v1h-3zM27 6h1v1h-1zM45 6h2v1h-2zM50 6h1v1h-1zM54 6h1v1h-1zM1 7h2v1h-2zM12 7h1v1h-1zM61 7h1v1h-1zM2 8h1v1h-1zM8 8h1v1h-1zM17 8h1v1h-1zM23 8h3v1h-3zM27 8h1v1h-1zM45 8h2v1h-2zM50 8h1v1h-1zM54 8h1v1h-1zM1 9h1v1h-1zM12 9h1v1h-1zM16 9h1v1h-1zM22 9h1v1h-1zM24 9h1v1h-1zM26 9h2v1h-2zM38 9h2v1h-2zM53 9h1v1h-1zM59 9h2v1h-2zM62 9h1v1h-1zM9 10h2v1h-2zM21 10h1v1h-1zM24 10h1v1h-1zM31 10h1v1h-1zM34 10h1v1h-1zM50 10h4v1h-4zM60 10h3v1h-3zM2 11h2v1h-2zM7 11h1v1h-1zM13 11h1v1h-1zM18 11h1v1h-1zM24 11h1v1h-1zM32 11h2v1h-2zM35 11h1v1h-1zM39 11h1v1h-1zM49 11h1v1h-1zM52 11h1v1h-1zM1 12h1v1h-1zM5 12h2v1h-2zM11 12h1v1h-1zM14 12h1v1h-1zM16 12h1v1h-1zM31 12h2v1h-2zM52 12h2v1h-2zM62 12h1v1h-1zM5 13h1v1h-1zM8 13h1v1h-1zM19 13h1v1h-1zM28 13h1v1h-1zM36 13h4v1h-4zM44 13h1v1h-1zM59 13h2v1h-2zM6 14h1v1h-1zM16 14h1v1h-1zM18 14h2v1h-2zM25 14h2v1h-2zM34 14h1v1h-1zM38 14h5v1h-5zM50 14h2v1h-2zM55 14h1v1h-1zM57 14h1v1h-1zM8 15h1v1h-1zM10 15h1v1h-1zM16 15h1v1h-1zM20 15h3v1h-3zM29 15h1v1h-1zM33 15h1v1h-1zM56 15h1v1h-1zM58 15h1v1h-1z"/><path fill="#0075ff" d="M1 0h1v1h-1zM15 0h1v1h-1zM20 0h1v1h-1zM23 0h2v1h-2zM37 0h1v1h-1zM52 0h1v1h-1zM58 0h2v1h-2zM62 0h1v1h-1zM7 1h1v1h-1zM9 1h2v1h-2zM15 1h1v1h-1zM20 1h3v1h-3zM34 1h2v1h-2zM51 1h1v1h-1zM55 1h1v1h-1zM57 1h1v1h-1zM62 1h1v1h-1zM4 2h1v1h-1zM12 2h1v1h-1zM20 2h1v1h-1zM30 2h1v1h-1zM36 2h2v1h-2zM48 2h3v1h-3zM55 2h1v1h-1zM57 2h1v1h-1zM59 2h1v1h-1zM0 3h1v1h-1zM6 3h1v1h-1zM12 3h1v1h-1zM16 3h2v1h-2zM26 3h1v1h-1zM34 3h1v1h-1zM40 3h1v1h-1zM42 3h1v1h-1zM56 3h2v1h-2zM62 3h1v1h-1zM11 4h1v1h-1zM13 4h2v1h-2zM30 4h1v1h-1zM39 4h3v1h-3zM46 4h2v1h-2zM49 4h1v1h-1zM57 4h2v1h-2zM2 5h2v1h-2zM14 5h1v1h-1zM21 5h1v1h-1zM29 5h1v1h-1zM54 5h1v1h-1zM36 6h1v1h-1zM44 6h1v1h-1zM18 7h1v1h-1zM25 7h1v1h-1zM29 7h1v1h-1zM34 7h1v1h-1zM37 7h1v1h-1zM39 7h1v1h-1zM49 7h1v1h-1zM62 7h1v1h-1zM36 8h1v1h-1zM44 8h1v1h-1zM2 9h2v1h-2zM14 9h1v1h-1zM21 9h1v1h-1zM29 9h1v1h-1zM54 9h1v1h-1zM11 10h1v1h-1zM13 10h2v1h-2zM30 10h1v1h-1zM39 10h3v1h-3zM46 10h2v1h-2zM49 10h1v1h-1zM57 10h2v1h-2zM0 11h1v1h-1zM6 11h1v1h-1zM12 11h1v1h-1zM16 11h2v1h-2zM26 11h1v1h-1zM34 11h1v1h-1zM40 11h1v1h-1zM42 11h1v1h-1zM56 11h2v1h-2zM62 11h1v1h-1zM4 12h1v1h-1zM12 12h1v1h-1zM20 12h1v1h-1zM30 12h1v1h-1zM36 12h2v1h-2zM48 12h3v1h-3zM55 12h1v1h-1zM57 12h1v1h-1zM59 12h1v1h-1zM7 13h1v1h-1zM9 13h2v1h-2zM15 13h1v1h-1zM20 13h3v1h-3zM34 13h2v1h-2zM51 13h1v1h-1zM55 13h1v1h-1zM57 13h1v1h-1zM62 13h1v1h-1zM1 14h1v1h-1zM15 14h1v1h-1zM20 14h1v1h-1zM23 14h2v1h-2zM37 14h1v1h-1zM52 14h1v1h-1zM58 14h2v1h-2zM62 14h1v1h-1zM15 15h1v1h-1zM38 15h2v1h-2zM51 15h2v1h-2z"/><path fill="#00bdff" d="M13 0h1v1h-1zM21 0h1v1h-1zM29 0h1v1h-1zM44 0h1v1h-1zM48 0h2v1h-2zM1 1h1v1h-1zM11 1h1v1h-1zM25 1h1v1h-1zM45 1h1v1h-1zM47 1h1v1h-1zM49 1h2v1h-2zM0 2h1v1h-1zM23 2h2v1h-2zM38 2h1v1h-1zM25 3h1v1h-1zM48 3h1v1h-1zM0 4h1v1h-1zM3 4h1v1h-1zM12 4h1v1h-1zM18 4h1v1h-1zM55 4h1v1h-1zM59 4h1v1h-1zM0 5h1v1h-1zM37 5h1v1h-1zM51 5h1v1h-1zM0 6h1v1h-1zM21 6h1v1h-1zM40 6h1v1h-1zM47 6h1v1h-1zM49 6h1v1h-1zM0 7h1v1h-1zM8 7h1v1h-1zM14 7h1v1h-1zM23 7h1v1h-1zM28 7h1v1h-1zM31 7h1v1h-1zM60 7h1v1h-1zM0 8h1v1h-1zM21 8h1v1h-1zM40 8h1v1h-1zM47 8h1v1h-1zM49 8h1v1h-1zM0 9h1v1h-1zM37 9h1v1h-1zM51 9h1v1h-1zM0 10h1v1h-1zM3 10h1v1h-1zM12 10h1v1h-1zM18 10h1v1h-1zM55 10h1v1h-1zM59 10h1v1h-1zM25 11h1v1h-1zM48 11h1v1h-1zM0 12h1v1h-1zM23 12h2v1h-2zM38 12h1v1h-1zM1 13h1v1h-1zM11 13h1v1h-1zM25 13h1v1h-1zM45 13h1v1h-1zM47 13h1v1h-1zM49 13h2v1h-2zM13 14h1v1h-1zM21 14h1v1h-1zM29 14h1v1h-1zM44 14h1v1h-1zM48 14h2v1h-2zM2 15h1v1h-1zM24 15h1v1h-1zM49 15h2v1h-2zM57 15h1v1h-1z"/><path fill="#08f0ef" d="M22 0h1v1h-1zM32 0h1v1h-1zM35 0h1v1h-1zM2 1h1v1h-1zM4 1h1v1h-1zM23 1h1v1h-1zM30 1h1v1h-1zM48 1h1v1h-1zM54 1h1v1h-1zM61 1h1v1h-1zM3 2h1v1h-1zM17 2h1v1h-1zM34 2h2v1h-2zM40 2h1v1h-1zM45 2h1v1h-1zM54 2h1v1h-1zM11 3h1v1h-1zM14 3h2v1h-2zM36 3h1v1h-1zM45 3h1v1h-1zM7 4h1v1h-1zM16 4h2v1h-2zM22 4h1v1h-1zM25 4h1v1h-1zM32 4h1v1h-1zM18 5h1v1h-1zM28 5h1v1h-1zM33 5h1v1h-1zM41 5h1v1h-1zM57 5h1v1h-1zM28 6h1v1h-1zM10 7h1v1h-1zM24 7h1v1h-1zM28 8h1v1h-1zM18 9h1v1h-1zM28 9h1v1h-1zM33 9h1v1h-1zM41 9h1v1h-1zM57 9h1v1h-1zM7 10h1v1h-1zM16 10h2v1h-2zM22 10h1v1h-1zM25 10h1v1h-1zM32 10h1v1h-1zM11 11h1v1h-1zM14 11h2v1h-2zM36 11h1v1h-1zM45 11h1v1h-1zM3 12h1v1h-1zM17 12h1v1h-1zM34 12h2v1h-2zM40 12h1v1h-1zM45 12h1v1h-1zM54 12h1v1h-1zM2 13h1v1h-1zM4 13h1v1h-1zM23 13h1v1h-1zM30 13h1v1h-1zM48 13h1v1h-1zM54 13h1v1h-1zM61 13h1v1h-1zM22 14h1v1h-1zM32 14h1v1h-1zM35 14h1v1h-1zM34 15h1v1h-1zM60 15h1v1h-1z"/><path fill="#3effb9" d="M3 1h1v1h-1zM18 1h1v1h-1zM33 1h1v1h-1zM42 1h1v1h-1zM42 2h1v1h-1zM31 3h1v1h-1zM53 3h1v1h-1zM59 3h1v1h-1zM33 4h1v1h-1zM6 5h1v1h-1zM23 5h1v1h-1zM25 5h1v1h-1zM34 5h1v1h-1zM43 5h1v1h-1zM61 5h1v1h-1zM12 6h1v1h-1zM14 6h1v1h-1zM41 6h1v1h-1zM51 6h1v1h-1zM3 7h1v1h-1zM9 7h1v1h-1zM22 7h1v1h-1zM44 7h1v1h-1zM46 7h1v1h-1zM57 7h1v1h-1zM12 8h1v1h-1zM14 8h1v1h-1zM41 8h1v1h-1zM51 8h1v1h-1zM6 9h1v1h-1zM23 9h1v1h-1zM25 9h1v1h-1zM34 9h1v1h-1zM43 9h1v1h-1zM61 9h1v1h-1zM33 10h1v1h-1zM31 11h1v1h-1zM53 11h1v1h-1zM59 11h1v1h-1zM42 12h1v1h-1zM3 13h1v1h-1zM18 13h1v1h-1zM33 13h1v1h-1zM42 13h1v1h-1zM23 15h1v1h-1zM25 15h1v1h-1zM35 15h1v1h-1zM41 15h1v1h-1zM44 15h1v1h-1zM48 15h1v1h-1z"/><path fill="#84ff73" d="M4 0h1v1h-1zM0 1h1v1h-1zM2 2h1v1h-1zM17 5h1v1h-1zM40 5h1v1h-1zM58 5h1v1h-1zM18 6h2v1h-2zM26 6h1v1h-1zM60 6h1v1h-1zM4 7h1v1h-1zM21 7h1v1h-1zM26 7h2v1h-2zM36 7h1v1h-1zM41 7h1v1h-1zM43 7h1v1h-1zM45 7h1v1h-1zM47 7h1v1h-1zM50 7h2v1h-2zM54 7h2v1h-2zM18 8h2v1h-2zM26 8h1v1h-1zM60 8h1v1h-1zM17 9h1v1h-1zM40 9h1v1h-1zM58 9h1v1h-1zM2 12h1v1h-1zM0 13h1v1h-1zM4 14h1v1h-1zM0 15h1v1h-1zM13 15h1v1h-1zM36 15h1v1h-1z"/><path fill="#c1ff35" d="M46 3h1v1h-1zM7 5h1v1h-1zM13 5h1v1h-1zM3 6h2v1h-2zM11 7h1v1h-1zM35 7h1v1h-1zM3 8h2v1h-2zM7 9h1v1h-1zM13 9h1v1h-1zM46 11h1v1h-1zM1 15h1v1h-1zM4 15h1v1h-1zM18 15h2v1h-2zM54 15h1v1h-1z"/><path fill="#ffec00" d="M2 0h1v1h-1zM19 3h1v1h-1zM63 3h1v1h-1zM63 4h1v1h-1zM63 5h1v1h-1zM53 7h1v1h-1zM63 9h1v1h-1zM63 10h1v1h-1zM19 11h1v1h-1zM63 11h1v1h-1zM2 14h1v1h-1zM27 15h1v1h-1zM42 15h1v1h-1zM53 15h1v1h-1z"/><path fill="#ffb800" d="M15 2h1v1h-1zM63 2h1v1h-1zM63 6h1v1h-1zM38 7h1v1h-1zM63 8h1v1h-1zM15 12h1v1h-1zM63 12h1v1h-1zM26 15h1v1h-1zM37 15h1v1h-1z"/><path fill="#ff7100" d="M28 4h1v1h-1zM40 7h1v1h-1zM42 7h1v1h-1zM63 7h1v1h-1zM28 10h1v1h-1zM17 15h1v1h-1z"/><path fill="#ff3400" d="M0 0h1v1h-1zM63 0h1v1h-1zM63 1h1v1h-1zM56 7h1v1h-1zM63 13h1v1h-1zM0 14h1v1h-1zM63 14h1v1h-1zM32 15h1v1h-1zM63 15h1v1h-1z"/><path fill="#dc0000" d="M40 1h1v1h-1zM40 13h1v1h-1zM59 15h1v1h-1z"/><path fill="#910000" d="M6 15h1v1h-1z"/></g>
</g>
<rect x="1809.60" y="12.80" width="11.30" height="223.10" fill="url(#jet)"/>
<g filter="url(#tb)">
<rect x="1491.90" y="12.80" width="299.10" height="223.10" fill="none" stroke="#333" stroke-width="0.7"/>
<rect x="1809.60" y="12.80" width="11.30" height="223.10" fill="none" stroke="#333" stroke-width="0.7"/>
<text class="t" x="1487.30" y="231.53" text-anchor="end">0</text>
<text class="t" x="1487.30" y="203.64" text-anchor="end">2</text>
<text class="t" x="1487.30" y="175.75" text-anchor="end">4</text>
<text class="t" x="1487.30" y="147.87" text-anchor="end">6</text>
<text class="t" x="1487.30" y="119.98" text-anchor="end">8</text>
<text class="t" x="1487.30" y="92.09" text-anchor="end">10</text>
<text class="t" x="1487.30" y="64.20" text-anchor="end">12</text>
<text class="t" x="1487.30" y="36.32" text-anchor="end">14</text>
<text class="t" x="1494.24" y="246.10" text-anchor="middle">0</text>
<text class="t" x="1540.97" y="246.10" text-anchor="middle">10</text>
<text class="t" x="1587.71" y="246.10" text-anchor="middle">20</text>
<text class="t" x="1634.44" y="246.10" text-anchor="middle">30</text>
<text class="t" x="1681.17" y="246.10" text-anchor="middle">40</text>
<text class="t" x="1727.91" y="246.10" text-anchor="middle">50</text>
<text class="t" x="1774.64" y="246.10" text-anchor="middle">60</text>
<text class="t" x="1825.10" y="48.65">50</text>
<text class="t" x="1825.10" y="86.65">40</text>
<text class="t" x="1825.10" y="124.65">30</text>
<text class="t" x="1825.10" y="162.65">20</text>
<text class="t" x="1825.10" y="200.90">10</text>
<path d="M1491.90 228.93h-2.6M1491.90 201.04h-2.6M1491.90 173.15h-2.6M1491.90 145.27h-2.6M1491.90 117.38h-2.6M1491.90 89.49h-2.6M1491.90 61.60h-2.6M1491.90 33.72h-2.6M1494.24 235.90v2.6M1540.97 235.90v2.6M1587.71 235.90v2.6M1634.44 235.90v2.6M1681.17 235.90v2.6M1727.91 235.90v2.6M1774.64 235.90v2.6M1820.90 46.05h2.6M1820.90 84.05h2.6M1820.90 122.05h2.6M1820.90 160.05h2.6M1820.90 198.30h2.6" stroke="#222" stroke-width="0.6" fill="none"/>
<text class="t" x="1641.45" y="255.40" text-anchor="middle">Time</text>
<text class="t" transform="translate(1474.90 124.35) rotate(-90)" text-anchor="middle">Frequency</text>
<text class="t" transform="translate(1841.30 124.35) rotate(-90)" text-anchor="middle">Magnitude</text>
</g>
<text class="c" filter="url(#cb)" x="1663.00" y="296.40">(d)</text>
</g>
<g id="panel-e">
<g filter="url(#hb)" shape-rendering="crispEdges"><rect x="28.30" y="337.40" width="299.10" height="223.10" fill="#0040ff"/>
<g transform="translate(28.30 337.40) scale(4.67344 13.94375)" shape-rendering="crispEdges"><path fill="#0000b9" d="M5 5h2v1h-2zM12 5h2v1h-2zM19 5h1v1h-1zM26 5h1v1h-1zM33 5h1v1h-1zM39 5h2v1h-2zM46 5h2v1h-2zM53 5h1v1h-1zM60 5h1v1h-1zM6 6h1v1h-1zM12 6h1v1h-1zM19 6h1v1h-1zM26 6h1v1h-1zM33 6h1v1h-1zM40 6h1v1h-1zM46 6h2v1h-2zM53 6h1v1h-1zM60 6h1v1h-1zM19 7h1v1h-1zM26 7h1v1h-1zM53 7h1v1h-1zM60 7h1v1h-1zM6 8h1v1h-1zM12 8h1v1h-1zM19 8h1v1h-1zM26 8h1v1h-1zM33 8h1v1h-1zM40 8h1v1h-1zM46 8h2v1h-2zM53 8h1v1h-1zM60 8h1v1h-1zM5 9h2v1h-2zM12 9h2v1h-2zM19 9h1v1h-1zM26 9h1v1h-1zM33 9h1v1h-1zM39 9h2v1h-2zM46 9h2v1h-2zM53 9h1v1h-1zM60 9h1v1h-1z"/><path fill="#0000ff" d="M5 4h2v1h-2zM12 4h2v1h-2zM19 4h2v1h-2zM26 4h1v1h-1zM32 4h2v1h-2zM39 4h2v1h-2zM46 4h2v1h-2zM53 4h2v1h-2zM60 4h2v1h-2zM7 5h1v1h-1zM14 5h1v1h-1zM20 5h1v1h-1zM25 5h1v1h-1zM27 5h1v1h-1zM32 5h1v1h-1zM34 5h1v1h-1zM41 5h1v1h-1zM48 5h1v1h-1zM54 5h1v1h-1zM59 5h1v1h-1zM61 5h1v1h-1zM5 6h1v1h-1zM13 6h1v1h-1zM20 6h1v1h-1zM39 6h1v1h-1zM54 6h1v1h-1zM61 6h1v1h-1zM2 7h2v1h-2zM6 7h1v1h-1zM12 7h1v1h-1zM33 7h1v1h-1zM36 7h2v1h-2zM40 7h1v1h-1zM43 7h2v1h-2zM46 7h2v1h-2zM51 7h2v1h-2zM59 7h1v1h-1zM5 8h1v1h-1zM13 8h1v1h-1zM20 8h1v1h-1zM39 8h1v1h-1zM54 8h1v1h-1zM61 8h1v1h-1zM7 9h1v1h-1zM14 9h1v1h-1zM20 9h1v1h-1zM25 9h1v1h-1zM27 9h1v1h-1zM32 9h1v1h-1zM34 9h1v1h-1zM41 9h1v1h-1zM48 9h1v1h-1zM54 9h1v1h-1zM59 9h1v1h-1zM61 9h1v1h-1zM5 10h2v1h-2zM12 10h2v1h-2zM19 10h2v1h-2zM26 10h1v1h-1zM32 10h2v1h-2zM39 10h2v1h-2zM46 10h2v1h-2zM53 10h2v1h-2zM60 10h2v1h-2z"/><path fill="#0029ff" d="M0 4h1v1h-1zM11 4h1v1h-1zM18 4h1v1h-1zM25 4h1v1h-1zM27 4h1v1h-1zM34 4h1v1h-1zM41 4h1v1h-1zM52 4h1v1h-1zM59 4h1v1h-1zM0 5h1v1h-1zM4 5h1v1h-1zM11 5h1v1h-1zM18 5h1v1h-1zM21 5h1v1h-1zM28 5h1v1h-1zM31 5h1v1h-1zM38 5h1v1h-1zM45 5h1v1h-1zM52 5h1v1h-1zM55 5h1v1h-1zM62 5h1v1h-1zM0 6h1v1h-1zM2 6h3v1h-3zM7 6h5v1h-5zM14 6h3v1h-3zM22 6h2v1h-2zM27 6h1v1h-1zM29 6h2v1h-2zM32 6h1v1h-1zM34 6h1v1h-1zM36 6h3v1h-3zM41 6h5v1h-5zM48 6h3v1h-3zM52 6h1v1h-1zM55 6h3v1h-3zM62 6h1v1h-1zM0 7h2v1h-2zM4 7h2v1h-2zM7 7h5v1h-5zM13 7h6v1h-6zM21 7h5v1h-5zM27 7h5v1h-5zM34 7h2v1h-2zM38 7h2v1h-2zM41 7h2v1h-2zM45 7h1v1h-1zM48 7h3v1h-3zM55 7h4v1h-4zM61 7h2v1h-2zM0 8h1v1h-1zM2 8h3v1h-3zM7 8h5v1h-5zM14 8h3v1h-3zM22 8h2v1h-2zM27 8h1v1h-1zM29 8h2v1h-2zM32 8h1v1h-1zM34 8h1v1h-1zM36 8h3v1h-3zM41 8h5v1h-5zM48 8h3v1h-3zM52 8h1v1h-1zM55 8h3v1h-3zM62 8h1v1h-1zM0 9h1v1h-1zM4 9h1v1h-1zM11 9h1v1h-1zM18 9h1v1h-1zM21 9h1v1h-1zM28 9h1v1h-1zM31 9h1v1h-1zM38 9h1v1h-1zM45 9h1v1h-1zM52 9h1v1h-1zM55 9h1v1h-1zM62 9h1v1h-1zM0 10h1v1h-1zM11 10h1v1h-1zM18 10h1v1h-1zM25 10h1v1h-1zM27 10h1v1h-1zM34 10h1v1h-1zM41 10h1v1h-1zM52 10h1v1h-1zM59 10h1v1h-1z"/><path fill="#0075ff" d="M4 4h1v1h-1zM7 4h1v1h-1zM14 4h1v1h-1zM21 4h1v1h-1zM38 4h1v1h-1zM45 4h1v1h-1zM48 4h1v1h-1zM55 4h1v1h-1zM62 4h1v1h-1zM1 5h1v1h-1zM8 5h1v1h-1zM10 5h1v1h-1zM17 5h1v1h-1zM24 5h1v1h-1zM35 5h1v1h-1zM42 5h1v1h-1zM44 5h1v1h-1zM49 5h1v1h-1zM58 5h1v1h-1zM1 6h1v1h-1zM17 6h2v1h-2zM21 6h1v1h-1zM25 6h1v1h-1zM31 6h1v1h-1zM35 6h1v1h-1zM51 6h1v1h-1zM59 6h1v1h-1zM32 7h1v1h-1zM54 7h1v1h-1zM1 8h1v1h-1zM17 8h2v1h-2zM21 8h1v1h-1zM25 8h1v1h-1zM31 8h1v1h-1zM35 8h1v1h-1zM51 8h1v1h-1zM59 8h1v1h-1zM1 9h1v1h-1zM8 9h1v1h-1zM10 9h1v1h-1zM17 9h1v1h-1zM24 9h1v1h-1zM35 9h1v1h-1zM42 9h1v1h-1zM44 9h1v1h-1zM49 9h1v1h-1zM58 9h1v1h-1zM4 10h1v1h-1zM7 10h1v1h-1zM14 10h1v1h-1zM21 10h1v1h-1zM38 10h1v1h-1zM45 10h1v1h-1zM48 10h1v1h-1zM55 10h1v1h-1zM62 10h1v1h-1z"/><path fill="#00bdff" d="M0 3h1v1h-1zM5 3h2v1h-2zM12 3h2v1h-2zM18 3h3v1h-3zM25 3h2v1h-2zM33 3h1v1h-1zM39 3h2v1h-2zM46 3h2v1h-2zM53 3h2v1h-2zM59 3h3v1h-3zM31 4h1v1h-1zM3 5h1v1h-1zM15 5h1v1h-1zM22 5h1v1h-1zM30 5h1v1h-1zM37 5h1v1h-1zM51 5h1v1h-1zM56 5h1v1h-1zM58 6h1v1h-1zM58 8h1v1h-1zM3 9h1v1h-1zM15 9h1v1h-1zM22 9h1v1h-1zM30 9h1v1h-1zM37 9h1v1h-1zM51 9h1v1h-1zM56 9h1v1h-1zM31 10h1v1h-1zM0 11h1v1h-1zM5 11h2v1h-2zM12 11h2v1h-2zM18 11h3v1h-3zM25 11h2v1h-2zM33 11h1v1h-1zM39 11h2v1h-2zM46 11h2v1h-2zM53 11h2v1h-2zM59 11h3v1h-3z"/><path fill="#08f0ef" d="M25 0h1v1h-1zM27 0h1v1h-1zM25 1h1v1h-1zM27 1h1v1h-1zM0 2h1v1h-1zM27 2h1v1h-1zM11 3h1v1h-1zM27 3h1v1h-1zM45 3h1v1h-1zM52 3h1v1h-1zM1 4h1v1h-1zM10 4h1v1h-1zM17 4h1v1h-1zM24 4h1v1h-1zM28 4h1v1h-1zM35 4h1v1h-1zM42 4h1v1h-1zM58 4h1v1h-1zM23 5h1v1h-1zM29 5h1v1h-1zM36 5h1v1h-1zM57 5h1v1h-1zM28 6h1v1h-1zM20 7h1v1h-1zM28 8h1v1h-1zM23 9h1v1h-1zM29 9h1v1h-1zM36 9h1v1h-1zM57 9h1v1h-1zM1 10h1v1h-1zM10 10h1v1h-1zM17 10h1v1h-1zM24 10h1v1h-1zM28 10h1v1h-1zM35 10h1v1h-1zM42 10h1v1h-1zM58 10h1v1h-1zM11 11h1v1h-1zM27 11h1v1h-1zM45 11h1v1h-1zM52 11h1v1h-1zM0 12h1v1h-1zM27 12h1v1h-1zM25 13h1v1h-1zM27 13h1v1h-1zM25 14h1v1h-1zM27 14h1v1h-1zM25 15h1v1h-1zM27 15h1v1h-1z"/><path fill="#3effb9" d="M0 0h1v1h-1zM18 0h1v1h-1zM20 0h1v1h-1zM32 0h1v1h-1zM34 0h1v1h-1zM59 0h1v1h-1zM61 0h2v1h-2zM0 1h1v1h-1zM18 1h1v1h-1zM20 1h1v1h-1zM32 1h1v1h-1zM34 1h1v1h-1zM59 1h1v1h-1zM61 1h2v1h-2zM18 2h1v1h-1zM20 2h1v1h-1zM25 2h1v1h-1zM32 2h1v1h-1zM34 2h1v1h-1zM59 2h1v1h-1zM61 2h2v1h-2zM4 3h1v1h-1zM7 3h1v1h-1zM14 3h1v1h-1zM24 3h1v1h-1zM32 3h1v1h-1zM34 3h1v1h-1zM41 3h1v1h-1zM48 3h1v1h-1zM55 3h1v1h-1zM3 4h1v1h-1zM8 4h1v1h-1zM15 4h1v1h-1zM44 4h1v1h-1zM49 4h1v1h-1zM51 4h1v1h-1zM2 5h1v1h-1zM9 5h1v1h-1zM16 5h1v1h-1zM43 5h1v1h-1zM50 5h1v1h-1zM24 6h1v1h-1zM24 8h1v1h-1zM2 9h1v1h-1zM9 9h1v1h-1zM16 9h1v1h-1zM43 9h1v1h-1zM50 9h1v1h-1zM3 10h1v1h-1zM8 10h1v1h-1zM15 10h1v1h-1zM44 10h1v1h-1zM49 10h1v1h-1zM51 10h1v1h-1zM4 11h1v1h-1zM7 11h1v1h-1zM14 11h1v1h-1zM24 11h1v1h-1zM32 11h1v1h-1zM34 11h1v1h-1zM41 11h1v1h-1zM48 11h1v1h-1zM55 11h1v1h-1zM18 12h1v1h-1zM20 12h1v1h-1zM25 12h1v1h-1zM32 12h1v1h-1zM34 12h1v1h-1zM59 12h1v1h-1zM61 12h2v1h-2zM0 13h1v1h-1zM18 13h1v1h-1zM20 13h1v1h-1zM32 13h1v1h-1zM34 13h1v1h-1zM59 13h1v1h-1zM61 13h2v1h-2zM0 14h1v1h-1zM18 14h1v1h-1zM20 14h1v1h-1zM32 14h1v1h-1zM34 14h1v1h-1zM59 14h1v1h-1zM61 14h2v1h-2zM0 15h1v1h-1zM18 15h1v1h-1zM20 15h1v1h-1zM32 15h1v1h-1zM34 15h1v1h-1zM59 15h1v1h-1zM61 15h2v1h-2z"/><path fill="#84ff73" d="M4 0h1v1h-1zM14 0h1v1h-1zM39 0h1v1h-1zM41 0h1v1h-1zM45 0h1v1h-1zM63 0h1v1h-1zM4 1h1v1h-1zM14 1h1v1h-1zM39 1h1v1h-1zM41 1h1v1h-1zM45 1h1v1h-1zM63 1h1v1h-1zM4 2h1v1h-1zM6 2h1v1h-1zM52 2h1v1h-1zM54 2h1v1h-1zM63 2h1v1h-1zM10 3h1v1h-1zM17 3h1v1h-1zM21 3h1v1h-1zM31 3h1v1h-1zM38 3h1v1h-1zM58 3h1v1h-1zM62 3h2v1h-2zM16 4h1v1h-1zM22 4h2v1h-2zM30 4h1v1h-1zM37 4h1v1h-1zM56 4h2v1h-2zM63 4h1v1h-1zM63 5h1v1h-1zM63 6h1v1h-1zM63 7h1v1h-1zM63 8h1v1h-1zM63 9h1v1h-1zM16 10h1v1h-1zM22 10h2v1h-2zM30 10h1v1h-1zM37 10h1v1h-1zM56 10h2v1h-2zM63 10h1v1h-1zM10 11h1v1h-1zM17 11h1v1h-1zM21 11h1v1h-1zM31 11h1v1h-1zM38 11h1v1h-1zM58 11h1v1h-1zM62 11h2v1h-2zM4 12h1v1h-1zM6 12h1v1h-1zM52 12h1v1h-1zM54 12h1v1h-1zM63 12h1v1h-1zM4 13h1v1h-1zM14 13h1v1h-1zM39 13h1v1h-1zM41 13h1v1h-1zM45 13h1v1h-1zM63 13h1v1h-1zM4 14h1v1h-1zM14 14h1v1h-1zM39 14h1v1h-1zM41 14h1v1h-1zM45 14h1v1h-1zM63 14h1v1h-1zM4 15h1v1h-1zM14 15h1v1h-1zM39 15h1v1h-1zM41 15h1v1h-1zM45 15h1v1h-1zM63 15h1v1h-1z"/><path fill="#c1ff35" d="M2 0h1v1h-1zM6 0h1v1h-1zM11 0h2v1h-2zM22 0h3v1h-3zM28 0h4v1h-4zM35 0h2v1h-2zM46 0h3v1h-3zM52 0h1v1h-1zM54 0h2v1h-2zM57 0h2v1h-2zM2 1h1v1h-1zM6 1h1v1h-1zM11 1h2v1h-2zM22 1h3v1h-3zM28 1h4v1h-4zM35 1h2v1h-2zM38 1h1v1h-1zM46 1h3v1h-3zM52 1h1v1h-1zM54 1h2v1h-2zM57 1h2v1h-2zM2 2h1v1h-1zM7 2h1v1h-1zM11 2h1v1h-1zM13 2h2v1h-2zM16 2h1v1h-1zM22 2h3v1h-3zM28 2h4v1h-4zM35 2h2v1h-2zM38 2h4v1h-4zM45 2h1v1h-1zM47 2h2v1h-2zM57 2h2v1h-2zM1 3h1v1h-1zM3 3h1v1h-1zM16 3h1v1h-1zM22 3h2v1h-2zM28 3h3v1h-3zM35 3h2v1h-2zM42 3h1v1h-1zM44 3h1v1h-1zM51 3h1v1h-1zM57 3h1v1h-1zM2 4h1v1h-1zM29 4h1v1h-1zM36 4h1v1h-1zM50 4h1v1h-1zM2 10h1v1h-1zM29 10h1v1h-1zM36 10h1v1h-1zM50 10h1v1h-1zM1 11h1v1h-1zM3 11h1v1h-1zM16 11h1v1h-1zM22 11h2v1h-2zM28 11h3v1h-3zM35 11h2v1h-2zM42 11h1v1h-1zM44 11h1v1h-1zM51 11h1v1h-1zM57 11h1v1h-1zM2 12h1v1h-1zM7 12h1v1h-1zM11 12h1v1h-1zM13 12h2v1h-2zM16 12h1v1h-1zM22 12h3v1h-3zM28 12h4v1h-4zM35 12h2v1h-2zM38 12h4v1h-4zM45 12h1v1h-1zM47 12h2v1h-2zM57 12h2v1h-2zM2 13h1v1h-1zM6 13h1v1h-1zM11 13h2v1h-2zM22 13h3v1h-3zM28 13h4v1h-4zM35 13h2v1h-2zM38 13h1v1h-1zM46 13h3v1h-3zM52 13h1v1h-1zM54 13h2v1h-2zM57 13h2v1h-2zM2 14h1v1h-1zM6 14h1v1h-1zM11 14h2v1h-2zM22 14h3v1h-3zM28 14h4v1h-4zM35 14h2v1h-2zM46 14h3v1h-3zM52 14h1v1h-1zM54 14h2v1h-2zM57 14h2v1h-2zM2 15h1v1h-1zM6 15h1v1h-1zM11 15h2v1h-2zM22 15h3v1h-3zM28 15h4v1h-4zM35 15h2v1h-2zM46 15h3v1h-3zM52 15h1v1h-1zM54 15h2v1h-2zM57 15h2v1h-2z"/><path fill="#ffec00" d="M8 0h1v1h-1zM10 0h1v1h-1zM13 0h1v1h-1zM16 0h1v1h-1zM37 0h2v1h-2zM40 0h1v1h-1zM44 0h1v1h-1zM49 0h1v1h-1zM51 0h1v1h-1zM53 0h1v1h-1zM60 0h1v1h-1zM7 1h2v1h-2zM10 1h1v1h-1zM13 1h1v1h-1zM16 1h1v1h-1zM33 1h1v1h-1zM37 1h1v1h-1zM40 1h1v1h-1zM43 1h2v1h-2zM49 1h1v1h-1zM51 1h1v1h-1zM53 1h1v1h-1zM5 2h1v1h-1zM10 2h1v1h-1zM12 2h1v1h-1zM19 2h1v1h-1zM21 2h1v1h-1zM33 2h1v1h-1zM43 2h2v1h-2zM46 2h1v1h-1zM51 2h1v1h-1zM53 2h1v1h-1zM55 2h1v1h-1zM2 3h1v1h-1zM8 3h1v1h-1zM15 3h1v1h-1zM37 3h1v1h-1zM49 3h2v1h-2zM56 3h1v1h-1zM2 11h1v1h-1zM8 11h1v1h-1zM15 11h1v1h-1zM37 11h1v1h-1zM49 11h2v1h-2zM56 11h1v1h-1zM5 12h1v1h-1zM10 12h1v1h-1zM12 12h1v1h-1zM19 12h1v1h-1zM21 12h1v1h-1zM33 12h1v1h-1zM43 12h2v1h-2zM46 12h1v1h-1zM51 12h1v1h-1zM53 12h1v1h-1zM55 12h1v1h-1zM7 13h2v1h-2zM10 13h1v1h-1zM13 13h1v1h-1zM16 13h1v1h-1zM33 13h1v1h-1zM37 13h1v1h-1zM40 13h1v1h-1zM43 13h2v1h-2zM49 13h1v1h-1zM51 13h1v1h-1zM53 13h1v1h-1zM8 14h1v1h-1zM10 14h1v1h-1zM13 14h1v1h-1zM16 14h1v1h-1zM37 14h2v1h-2zM40 14h1v1h-1zM44 14h1v1h-1zM49 14h1v1h-1zM51 14h1v1h-1zM53 14h1v1h-1zM60 14h1v1h-1zM8 15h1v1h-1zM10 15h1v1h-1zM13 15h1v1h-1zM16 15h1v1h-1zM37 15h2v1h-2zM44 15h1v1h-1zM49 15h1v1h-1zM51 15h1v1h-1zM53 15h1v1h-1z"/><path fill="#ffb800" d="M1 0h1v1h-1zM7 0h1v1h-1zM21 0h1v1h-1zM26 0h1v1h-1zM33 0h1v1h-1zM42 0h2v1h-2zM50 0h1v1h-1zM56 0h1v1h-1zM1 1h1v1h-1zM21 1h1v1h-1zM42 1h1v1h-1zM50 1h1v1h-1zM56 1h1v1h-1zM60 1h1v1h-1zM1 2h1v1h-1zM3 2h1v1h-1zM8 2h1v1h-1zM17 2h1v1h-1zM26 2h1v1h-1zM37 2h1v1h-1zM42 2h1v1h-1zM49 2h2v1h-2zM56 2h1v1h-1zM60 2h1v1h-1zM43 3h1v1h-1zM9 4h1v1h-1zM43 4h1v1h-1zM9 10h1v1h-1zM43 10h1v1h-1zM43 11h1v1h-1zM1 12h1v1h-1zM3 12h1v1h-1zM8 12h1v1h-1zM17 12h1v1h-1zM26 12h1v1h-1zM37 12h1v1h-1zM42 12h1v1h-1zM49 12h2v1h-2zM56 12h1v1h-1zM60 12h1v1h-1zM1 13h1v1h-1zM21 13h1v1h-1zM42 13h1v1h-1zM50 13h1v1h-1zM56 13h1v1h-1zM60 13h1v1h-1zM1 14h1v1h-1zM7 14h1v1h-1zM21 14h1v1h-1zM26 14h1v1h-1zM33 14h1v1h-1zM42 14h2v1h-2zM50 14h1v1h-1zM56 14h1v1h-1zM1 15h1v1h-1zM7 15h1v1h-1zM21 15h1v1h-1zM26 15h1v1h-1zM33 15h1v1h-1zM40 15h1v1h-1zM42 15h2v1h-2zM50 15h1v1h-1zM56 15h1v1h-1zM60 15h1v1h-1z"/><path fill="#ff7100" d="M5 0h1v1h-1zM15 0h1v1h-1zM5 1h1v1h-1zM15 1h1v1h-1zM17 1h1v1h-1zM26 1h1v1h-1zM9 3h1v1h-1zM9 11h1v1h-1zM5 13h1v1h-1zM15 13h1v1h-1zM17 13h1v1h-1zM26 13h1v1h-1zM5 14h1v1h-1zM15 14h1v1h-1zM5 15h1v1h-1zM15 15h1v1h-1z"/><path fill="#ff3400" d="M9 0h1v1h-1zM17 0h1v1h-1zM19 0h1v1h-1zM3 1h1v1h-1zM9 1h1v1h-1zM19 1h1v1h-1zM9 2h1v1h-1zM9 12h1v1h-1zM3 13h1v1h-1zM9 13h1v1h-1zM19 13h1v1h-1zM9 14h1v1h-1zM17 14h1v1h-1zM19 14h1v1h-1zM9 15h1v1h-1zM19 15h1v1h-1z"/><path fill="#dc0000" d="M3 0h1v1h-1zM3 14h1v1h-1z"/><path fill="#910000" d="M15 2h1v1h-1zM15 12h1v1h-1zM3 15h1v1h-1zM17 15h1v1h-1z"/></g>
</g>
<rect x="346.00" y="337.40" width="11.30" height="223.10" fill="url(#jet)"/>
<g filter="url(#tb)">
<rect x="28.30" y="337.40" width="299.10" height="223.10" fill="none" stroke="#333" stroke-width="0.7"/>
<rect x="346.00" y="337.40" width="11.30" height="223.10" fill="none" stroke="#333" stroke-width="0.7"/>
<text class="t" x="23.70" y="556.13" text-anchor="end">0</text>
<text class="t" x="23.70" y="528.24" text-anchor="end">2</text>
<text class="t" x="23.70" y="500.35" text-anchor="end">4</text>
<text class="t" x="23.70" y="472.47" text-anchor="end">6</text>
<text class="t" x="23.70" y="444.58" text-anchor="end">8</text>
<text class="t" x="23.70" y="416.69" text-anchor="end">10</text>
<text class="t" x="23.70" y="388.80" text-anchor="end">12</text>
<text class="t" x="23.70" y="360.92" text-anchor="end">14</text>
<text class="t" x="30.64" y="570.70" text-anchor="middle">0</text>
<text class="t" x="77.37" y="570.70" text-anchor="middle">10</text>
<text class="t" x="124.11" y="570.70" text-anchor="middle">20</text>
<text class="t" x="170.84" y="570.70" text-anchor="middle">30</text>
<text class="t" x="217.57" y="570.70" text-anchor="middle">40</text>
<text class="t" x="264.31" y="570.70" text-anchor="middle">50</text>
<text class="t" x="311.04" y="570.70" text-anchor="middle">60</text>
<text class="t" x="361.50" y="355.25">175</text>
<text class="t" x="361.50" y="385.00">150</text>
<text class="t" x="361.50" y="415.00">125</text>
<text class="t" x="361.50" y="444.75">100</text>
<text class="t" x="361.50" y="474.50">75</text>
<text class="t" x="361.50" y="504.25">50</text>
<text class="t" x="361.50" y="534.00">25</text>
<path d="M28.30 553.53h-2.6M28.30 525.64h-2.6M28.30 497.75h-2.6M28.30 469.87h-2.6M28.30 441.98h-2.6M28.30 414.09h-2.6M28.30 386.20h-2.6M28.30 358.32h-2.6M30.64 560.50v2.6M77.37 560.50v2.6M124.11 560.50v2.6M170.84 560.50v2.6M217.57 560.50v2.6M264.31 560.50v2.6M311.04 560.50v2.6M357.30 352.65h2.6M357.30 382.40h2.6M357.30 412.40h2.6M357.30 442.15h2.6M357.30 471.90h2.6M357.30 501.65h2.6M357.30 531.40h2.6" stroke="#222" stroke-width="0.6" fill="none"/>
<text class="t" x="177.85" y="580.00" text-anchor="middle">Time</text>
<text class="t" transform="translate(11.30 448.95) rotate(-90)" text-anchor="middle">Frequency</text>
<text class="t" transform="translate(382.30 448.95) rotate(-90)" text-anchor="middle">Magnitude</text>
</g>
<text class="c" filter="url(#cb)" x="180.00" y="620.90">(e)</text>
</g>
<g id="panel-f">
<g filter="url(#hb)" shape-rendering="crispEdges"><rect x="519.30" y="337.40" width="299.10" height="223.10" fill="#0040ff"/>
<g transform="translate(519.30 337.40) scale(4.67344 13.94375)" shape-rendering="crispEdges"><path fill="#000080" d="M11 0h2v1h-2zM35 3h1v1h-1zM14 4h1v1h-1zM54 4h1v1h-1zM0 5h1v1h-1zM20 5h2v1h-2zM62 5h1v1h-1zM0 9h1v1h-1zM20 9h2v1h-2zM62 9h1v1h-1zM14 10h1v1h-1zM54 10h1v1h-1zM35 11h1v1h-1zM11 14h2v1h-2zM1 15h1v1h-1zM26 15h1v1h-1z"/><path fill="#0000b9" d="M23 0h1v1h-1zM11 1h1v1h-1zM4 3h1v1h-1zM14 3h1v1h-1zM34 3h1v1h-1zM52 3h1v1h-1zM54 3h2v1h-2zM61 3h2v1h-2zM7 4h1v1h-1zM11 4h1v1h-1zM21 4h1v1h-1zM34 4h2v1h-2zM55 4h1v1h-1zM61 4h2v1h-2zM7 5h1v1h-1zM27 5h1v1h-1zM39 5h1v1h-1zM41 5h1v1h-1zM61 5h1v1h-1zM0 6h2v1h-2zM7 6h1v1h-1zM16 6h1v1h-1zM39 6h1v1h-1zM41 6h1v1h-1zM55 6h2v1h-2zM0 7h1v1h-1zM7 7h1v1h-1zM25 7h1v1h-1zM34 7h1v1h-1zM41 7h1v1h-1zM51 7h2v1h-2zM0 8h2v1h-2zM7 8h1v1h-1zM16 8h1v1h-1zM39 8h1v1h-1zM41 8h1v1h-1zM55 8h2v1h-2zM7 9h1v1h-1zM27 9h1v1h-1zM39 9h1v1h-1zM41 9h1v1h-1zM61 9h1v1h-1zM7 10h1v1h-1zM11 10h1v1h-1zM21 10h1v1h-1zM34 10h2v1h-2zM55 10h1v1h-1zM61 10h2v1h-2zM4 11h1v1h-1zM14 11h1v1h-1zM34 11h1v1h-1zM52 11h1v1h-1zM54 11h2v1h-2zM61 11h2v1h-2zM11 13h1v1h-1zM23 14h1v1h-1zM12 15h1v1h-1zM39 15h1v1h-1z"/><path fill="#0000ff" d="M1 0h1v1h-1zM5 0h1v1h-1zM16 0h1v1h-1zM25 0h1v1h-1zM27 0h1v1h-1zM34 0h1v1h-1zM48 0h1v1h-1zM55 0h1v1h-1zM1 1h1v1h-1zM5 1h3v1h-3zM12 1h2v1h-2zM27 1h1v1h-1zM29 1h1v1h-1zM40 1h1v1h-1zM47 1h2v1h-2zM53 1h1v1h-1zM56 1h1v1h-1zM6 2h1v1h-1zM10 2h3v1h-3zM29 2h2v1h-2zM33 2h1v1h-1zM37 2h1v1h-1zM43 2h1v1h-1zM54 2h1v1h-1zM56 2h1v1h-1zM61 2h1v1h-1zM0 3h1v1h-1zM6 3h2v1h-2zM15 3h1v1h-1zM26 3h2v1h-2zM30 3h1v1h-1zM36 3h1v1h-1zM41 3h1v1h-1zM48 3h1v1h-1zM58 3h1v1h-1zM4 4h1v1h-1zM10 4h1v1h-1zM12 4h2v1h-2zM19 4h2v1h-2zM25 4h3v1h-3zM30 4h1v1h-1zM36 4h1v1h-1zM39 4h1v1h-1zM42 4h2v1h-2zM46 4h2v1h-2zM49 4h1v1h-1zM51 4h1v1h-1zM1 5h1v1h-1zM4 5h1v1h-1zM16 5h1v1h-1zM19 5h1v1h-1zM23 5h2v1h-2zM28 5h2v1h-2zM34 5h1v1h-1zM48 5h2v1h-2zM54 5h1v1h-1zM4 6h1v1h-1zM13 6h1v1h-1zM17 6h1v1h-1zM23 6h1v1h-1zM27 6h2v1h-2zM30 6h1v1h-1zM33 6h1v1h-1zM35 6h2v1h-2zM38 6h1v1h-1zM48 6h1v1h-1zM51 6h4v1h-4zM60 6h1v1h-1zM2 7h1v1h-1zM4 7h1v1h-1zM14 7h1v1h-1zM30 7h2v1h-2zM33 7h1v1h-1zM35 7h3v1h-3zM46 7h1v1h-1zM48 7h1v1h-1zM54 7h2v1h-2zM60 7h1v1h-1zM4 8h1v1h-1zM13 8h1v1h-1zM17 8h1v1h-1zM23 8h1v1h-1zM27 8h2v1h-2zM30 8h1v1h-1zM33 8h1v1h-1zM35 8h2v1h-2zM38 8h1v1h-1zM48 8h1v1h-1zM51 8h4v1h-4zM60 8h1v1h-1zM1 9h1v1h-1zM4 9h1v1h-1zM16 9h1v1h-1zM19 9h1v1h-1zM23 9h2v1h-2zM28 9h2v1h-2zM34 9h1v1h-1zM48 9h2v1h-2zM54 9h1v1h-1zM4 10h1v1h-1zM10 10h1v1h-1zM12 10h2v1h-2zM19 10h2v1h-2zM25 10h3v1h-3zM30 10h1v1h-1zM36 10h1v1h-1zM39 10h1v1h-1zM42 10h2v1h-2zM46 10h2v1h-2zM49 10h1v1h-1zM51 10h1v1h-1zM0 11h1v1h-1zM6 11h2v1h-2zM15 11h1v1h-1zM26 11h2v1h-2zM30 11h1v1h-1zM36 11h1v1h-1zM41 11h1v1h-1zM48 11h1v1h-1zM58 11h1v1h-1zM6 12h1v1h-1zM10 12h3v1h-3zM29 12h2v1h-2zM33 12h1v1h-1zM37 12h1v1h-1zM43 12h1v1h-1zM54 12h1v1h-1zM56 12h1v1h-1zM61 12h1v1h-1zM1 13h1v1h-1zM5 13h3v1h-3zM12 13h2v1h-2zM27 13h1v1h-1zM29 13h1v1h-1zM40 13h1v1h-1zM47 13h2v1h-2zM53 13h1v1h-1zM56 13h1v1h-1zM1 14h1v1h-1zM5 14h1v1h-1zM16 14h1v1h-1zM25 14h1v1h-1zM27 14h1v1h-1zM34 14h1v1h-1zM48 14h1v1h-1zM55 14h1v1h-1zM2 15h1v1h-1zM9 15h1v1h-1zM11 15h1v1h-1zM19 15h1v1h-1zM24 15h1v1h-1zM30 15h1v1h-1zM34 15h1v1h-1zM38 15h1v1h-1zM44 15h2v1h-2zM48 15h1v1h-1zM55 15h1v1h-1zM59 15h1v1h-1z"/><path fill="#0029ff" d="M2 0h1v1h-1zM9 0h2v1h-2zM13 0h3v1h-3zM18 0h3v1h-3zM22 0h1v1h-1zM24 0h1v1h-1zM26 0h1v1h-1zM28 0h1v1h-1zM33 0h1v1h-1zM35 0h4v1h-4zM40 0h1v1h-1zM44 0h3v1h-3zM51 0h1v1h-1zM53 0h1v1h-1zM57 0h3v1h-3zM4 1h1v1h-1zM10 1h1v1h-1zM18 1h3v1h-3zM22 1h1v1h-1zM30 1h5v1h-5zM39 1h1v1h-1zM41 1h1v1h-1zM43 1h2v1h-2zM46 1h1v1h-1zM51 1h2v1h-2zM55 1h1v1h-1zM57 1h3v1h-3zM0 2h5v1h-5zM9 2h1v1h-1zM13 2h1v1h-1zM22 2h1v1h-1zM24 2h1v1h-1zM28 2h1v1h-1zM44 2h2v1h-2zM52 2h1v1h-1zM55 2h1v1h-1zM58 2h2v1h-2zM1 3h2v1h-2zM9 3h1v1h-1zM12 3h2v1h-2zM17 3h5v1h-5zM24 3h2v1h-2zM31 3h2v1h-2zM40 3h1v1h-1zM42 3h2v1h-2zM45 3h1v1h-1zM47 3h1v1h-1zM50 3h2v1h-2zM53 3h1v1h-1zM0 4h1v1h-1zM3 4h1v1h-1zM6 4h1v1h-1zM8 4h2v1h-2zM17 4h1v1h-1zM24 4h1v1h-1zM28 4h1v1h-1zM31 4h1v1h-1zM44 4h1v1h-1zM48 4h1v1h-1zM53 4h1v1h-1zM58 4h3v1h-3zM5 5h2v1h-2zM8 5h1v1h-1zM10 5h3v1h-3zM14 5h1v1h-1zM17 5h1v1h-1zM26 5h1v1h-1zM31 5h3v1h-3zM36 5h1v1h-1zM38 5h1v1h-1zM43 5h2v1h-2zM47 5h1v1h-1zM51 5h2v1h-2zM56 5h1v1h-1zM6 6h1v1h-1zM11 6h1v1h-1zM14 6h2v1h-2zM20 6h1v1h-1zM22 6h1v1h-1zM24 6h1v1h-1zM26 6h1v1h-1zM31 6h1v1h-1zM34 6h1v1h-1zM42 6h3v1h-3zM46 6h1v1h-1zM49 6h1v1h-1zM57 6h1v1h-1zM61 6h2v1h-2zM3 7h1v1h-1zM13 7h1v1h-1zM17 7h1v1h-1zM20 7h2v1h-2zM27 7h1v1h-1zM38 7h2v1h-2zM43 7h2v1h-2zM53 7h1v1h-1zM56 7h1v1h-1zM59 7h1v1h-1zM62 7h1v1h-1zM6 8h1v1h-1zM11 8h1v1h-1zM14 8h2v1h-2zM20 8h1v1h-1zM22 8h1v1h-1zM24 8h1v1h-1zM26 8h1v1h-1zM31 8h1v1h-1zM34 8h1v1h-1zM42 8h3v1h-3zM46 8h1v1h-1zM49 8h1v1h-1zM57 8h1v1h-1zM61 8h2v1h-2zM5 9h2v1h-2zM8 9h1v1h-1zM10 9h3v1h-3zM14 9h1v1h-1zM17 9h1v1h-1zM26 9h1v1h-1zM31 9h3v1h-3zM36 9h1v1h-1zM38 9h1v1h-1zM43 9h2v1h-2zM47 9h1v1h-1zM51 9h2v1h-2zM56 9h1v1h-1zM0 10h1v1h-1zM3 10h1v1h-1zM6 10h1v1h-1zM8 10h2v1h-2zM17 10h1v1h-1zM24 10h1v1h-1zM28 10h1v1h-1zM31 10h1v1h-1zM44 10h1v1h-1zM48 10h1v1h-1zM53 10h1v1h-1zM58 10h3v1h-3zM1 11h2v1h-2zM9 11h1v1h-1zM12 11h2v1h-2zM17 11h5v1h-5zM24 11h2v1h-2zM31 11h2v1h-2zM40 11h1v1h-1zM42 11h2v1h-2zM45 11h1v1h-1zM47 11h1v1h-1zM50 11h2v1h-2zM53 11h1v1h-1zM0 12h5v1h-5zM9 12h1v1h-1zM13 12h1v1h-1zM22 12h1v1h-1zM24 12h1v1h-1zM28 12h1v1h-1zM44 12h2v1h-2zM52 12h1v1h-1zM55 12h1v1h-1zM58 12h2v1h-2zM4 13h1v1h-1zM10 13h1v1h-1zM18 13h3v1h-3zM22 13h1v1h-1zM30 13h5v1h-5zM39 13h1v1h-1zM41 13h1v1h-1zM43 13h2v1h-2zM46 13h1v1h-1zM51 13h2v1h-2zM55 13h1v1h-1zM57 13h3v1h-3zM2 14h1v1h-1zM9 14h2v1h-2zM13 14h3v1h-3zM18 14h3v1h-3zM22 14h1v1h-1zM24 14h1v1h-1zM26 14h1v1h-1zM28 14h1v1h-1zM33 14h1v1h-1zM35 14h4v1h-4zM40 14h1v1h-1zM44 14h3v1h-3zM51 14h1v1h-1zM53 14h1v1h-1zM57 14h3v1h-3zM5 15h1v1h-1zM16 15h1v1h-1zM23 15h1v1h-1zM28 15h2v1h-2zM40 15h1v1h-1zM46 15h1v1h-1zM54 15h1v1h-1z"/><path fill="#0075ff" d="M3 0h2v1h-2zM7 0h1v1h-1zM29 0h2v1h-2zM41 0h3v1h-3zM47 0h1v1h-1zM52 0h1v1h-1zM54 0h1v1h-1zM8 1h2v1h-2zM16 1h1v1h-1zM23 1h2v1h-2zM42 1h1v1h-1zM50 1h1v1h-1zM54 1h1v1h-1zM60 1h1v1h-1zM62 1h1v1h-1zM8 2h1v1h-1zM14 2h1v1h-1zM26 2h2v1h-2zM35 2h2v1h-2zM38 2h5v1h-5zM48 2h3v1h-3zM57 2h1v1h-1zM62 2h1v1h-1zM3 3h1v1h-1zM16 3h1v1h-1zM22 3h1v1h-1zM28 3h2v1h-2zM60 3h1v1h-1zM1 4h1v1h-1zM5 4h1v1h-1zM22 4h1v1h-1zM32 4h2v1h-2zM37 4h1v1h-1zM41 4h1v1h-1zM50 4h1v1h-1zM56 4h2v1h-2zM2 5h2v1h-2zM9 5h1v1h-1zM18 5h1v1h-1zM25 5h1v1h-1zM46 5h1v1h-1zM50 5h1v1h-1zM58 5h3v1h-3zM2 6h1v1h-1zM5 6h1v1h-1zM8 6h1v1h-1zM21 6h1v1h-1zM25 6h1v1h-1zM32 6h1v1h-1zM37 6h1v1h-1zM40 6h1v1h-1zM45 6h1v1h-1zM47 6h1v1h-1zM58 6h1v1h-1zM5 7h2v1h-2zM8 7h1v1h-1zM11 7h1v1h-1zM26 7h1v1h-1zM28 7h1v1h-1zM32 7h1v1h-1zM40 7h1v1h-1zM45 7h1v1h-1zM61 7h1v1h-1zM2 8h1v1h-1zM5 8h1v1h-1zM8 8h1v1h-1zM21 8h1v1h-1zM25 8h1v1h-1zM32 8h1v1h-1zM37 8h1v1h-1zM40 8h1v1h-1zM45 8h1v1h-1zM47 8h1v1h-1zM58 8h1v1h-1zM2 9h2v1h-2zM9 9h1v1h-1zM18 9h1v1h-1zM25 9h1v1h-1zM46 9h1v1h-1zM50 9h1v1h-1zM58 9h3v1h-3zM1 10h1v1h-1zM5 10h1v1h-1zM22 10h1v1h-1zM32 10h2v1h-2zM37 10h1v1h-1zM41 10h1v1h-1zM50 10h1v1h-1zM56 10h2v1h-2zM3 11h1v1h-1zM16 11h1v1h-1zM22 11h1v1h-1zM28 11h2v1h-2zM60 11h1v1h-1zM8 12h1v1h-1zM14 12h1v1h-1zM26 12h2v1h-2zM35 12h2v1h-2zM38 12h5v1h-5zM48 12h3v1h-3zM57 12h1v1h-1zM62 12h1v1h-1zM8 13h2v1h-2zM16 13h1v1h-1zM23 13h2v1h-2zM42 13h1v1h-1zM50 13h1v1h-1zM54 13h1v1h-1zM60 13h1v1h-1zM62 13h1v1h-1zM3 14h2v1h-2zM7 14h1v1h-1zM29 14h2v1h-2zM41 14h3v1h-3zM47 14h1v1h-1zM52 14h1v1h-1zM54 14h1v1h-1zM6 15h1v1h-1zM22 15h1v1h-1zM32 15h1v1h-1zM37 15h1v1h-1zM49 15h1v1h-1zM51 15h1v1h-1zM61 15h1v1h-1z"/><path fill="#00bdff" d="M8 0h1v1h-1zM31 0h2v1h-2zM49 0h2v1h-2zM60 0h1v1h-1zM14 1h2v1h-2zM25 1h2v1h-2zM36 1h2v1h-2zM45 1h1v1h-1zM49 1h1v1h-1zM15 2h5v1h-5zM21 2h1v1h-1zM23 2h1v1h-1zM31 2h2v1h-2zM34 2h1v1h-1zM46 2h2v1h-2zM51 2h1v1h-1zM60 2h1v1h-1zM5 3h1v1h-1zM10 3h1v1h-1zM37 3h1v1h-1zM39 3h1v1h-1zM56 3h1v1h-1zM2 4h1v1h-1zM18 4h1v1h-1zM38 4h1v1h-1zM45 4h1v1h-1zM52 4h1v1h-1zM13 5h1v1h-1zM40 5h1v1h-1zM42 5h1v1h-1zM45 5h1v1h-1zM55 5h1v1h-1zM57 5h1v1h-1zM3 6h1v1h-1zM18 6h2v1h-2zM50 6h1v1h-1zM23 7h2v1h-2zM57 7h2v1h-2zM3 8h1v1h-1zM18 8h2v1h-2zM50 8h1v1h-1zM13 9h1v1h-1zM40 9h1v1h-1zM42 9h1v1h-1zM45 9h1v1h-1zM55 9h1v1h-1zM57 9h1v1h-1zM2 10h1v1h-1zM18 10h1v1h-1zM38 10h1v1h-1zM45 10h1v1h-1zM52 10h1v1h-1zM5 11h1v1h-1zM10 11h1v1h-1zM37 11h1v1h-1zM39 11h1v1h-1zM56 11h1v1h-1zM15 12h5v1h-5zM21 12h1v1h-1zM23 12h1v1h-1zM31 12h2v1h-2zM34 12h1v1h-1zM46 12h2v1h-2zM51 12h1v1h-1zM60 12h1v1h-1zM14 13h2v1h-2zM25 13h2v1h-2zM36 13h2v1h-2zM45 13h1v1h-1zM49 13h1v1h-1zM8 14h1v1h-1zM31 14h2v1h-2zM49 14h2v1h-2zM60 14h1v1h-1zM0 15h1v1h-1zM3 15h1v1h-1zM14 15h2v1h-2zM42 15h1v1h-1zM56 15h3v1h-3z"/><path fill="#08f0ef" d="M0 0h1v1h-1zM17 0h1v1h-1zM39 0h1v1h-1zM56 0h1v1h-1zM62 0h1v1h-1zM3 1h1v1h-1zM21 1h1v1h-1zM28 1h1v1h-1zM5 2h1v1h-1zM20 2h1v1h-1zM25 2h1v1h-1zM11 3h1v1h-1zM23 3h1v1h-1zM44 3h1v1h-1zM57 3h1v1h-1zM15 4h1v1h-1zM29 4h1v1h-1zM22 5h1v1h-1zM35 5h1v1h-1zM37 5h1v1h-1zM10 6h1v1h-1zM12 6h1v1h-1zM29 6h1v1h-1zM59 6h1v1h-1zM1 7h1v1h-1zM22 7h1v1h-1zM47 7h1v1h-1zM10 8h1v1h-1zM12 8h1v1h-1zM29 8h1v1h-1zM59 8h1v1h-1zM22 9h1v1h-1zM35 9h1v1h-1zM37 9h1v1h-1zM15 10h1v1h-1zM29 10h1v1h-1zM11 11h1v1h-1zM23 11h1v1h-1zM44 11h1v1h-1zM57 11h1v1h-1zM5 12h1v1h-1zM20 12h1v1h-1zM25 12h1v1h-1zM3 13h1v1h-1zM21 13h1v1h-1zM28 13h1v1h-1zM0 14h1v1h-1zM17 14h1v1h-1zM39 14h1v1h-1zM56 14h1v1h-1zM62 14h1v1h-1zM7 15h1v1h-1zM18 15h1v1h-1zM41 15h1v1h-1zM52 15h2v1h-2zM60 15h1v1h-1z"/><path fill="#3effb9" d="M6 0h1v1h-1zM0 1h1v1h-1zM2 1h1v1h-1zM17 1h1v1h-1zM38 1h1v1h-1zM7 2h1v1h-1zM53 2h1v1h-1zM8 3h1v1h-1zM46 3h1v1h-1zM49 3h1v1h-1zM59 3h1v1h-1zM16 4h1v1h-1zM23 4h1v1h-1zM53 5h1v1h-1zM9 6h1v1h-1zM15 7h2v1h-2zM49 7h1v1h-1zM9 8h1v1h-1zM53 9h1v1h-1zM16 10h1v1h-1zM23 10h1v1h-1zM8 11h1v1h-1zM46 11h1v1h-1zM49 11h1v1h-1zM59 11h1v1h-1zM7 12h1v1h-1zM53 12h1v1h-1zM0 13h1v1h-1zM2 13h1v1h-1zM17 13h1v1h-1zM38 13h1v1h-1zM6 14h1v1h-1zM8 15h1v1h-1zM10 15h1v1h-1zM13 15h1v1h-1zM20 15h2v1h-2zM25 15h1v1h-1zM35 15h2v1h-2zM43 15h1v1h-1z"/><path fill="#84ff73" d="M21 0h1v1h-1zM61 0h1v1h-1zM35 1h1v1h-1zM33 3h1v1h-1zM12 7h1v1h-1zM42 7h1v1h-1zM50 7h1v1h-1zM33 11h1v1h-1zM35 13h1v1h-1zM21 14h1v1h-1zM61 14h1v1h-1zM62 15h1v1h-1z"/><path fill="#c1ff35" d="M61 1h1v1h-1zM38 3h1v1h-1zM40 4h1v1h-1zM30 5h1v1h-1zM29 7h1v1h-1zM30 9h1v1h-1zM40 10h1v1h-1zM38 11h1v1h-1zM61 13h1v1h-1zM4 15h1v1h-1zM47 15h1v1h-1z"/><path fill="#ffec00" d="M63 0h1v1h-1zM63 1h1v1h-1zM63 2h1v1h-1zM63 3h1v1h-1zM15 5h1v1h-1zM15 9h1v1h-1zM63 11h1v1h-1zM63 12h1v1h-1zM63 13h1v1h-1zM63 14h1v1h-1zM33 15h1v1h-1zM63 15h1v1h-1z"/><path fill="#ffb800" d="M63 4h1v1h-1zM63 6h1v1h-1zM63 7h1v1h-1zM63 8h1v1h-1zM63 10h1v1h-1zM17 15h1v1h-1zM27 15h1v1h-1zM50 15h1v1h-1z"/><path fill="#ff7100" d="M63 5h1v1h-1zM18 7h1v1h-1zM63 9h1v1h-1z"/><path fill="#ff3400" d="M9 7h1v1h-1z"/><path fill="#dc0000" d="M10 7h1v1h-1z"/><path fill="#910000" d="M19 7h1v1h-1zM31 15h1v1h-1z"/></g>
</g>
<rect x="837.00" y="337.40" width="11.30" height="223.10" fill="url(#jet)"/>
<g filter="url(#tb)">
<rect x="519.30" y="337.40" width="299.10" height="223.10" fill="none" stroke="#333" stroke-width="0.7"/>
<rect x="837.00" y="337.40" width="11.30" height="223.10" fill="none" stroke="#333" stroke-width="0.7"/>
<text class="t" x="514.70" y="556.13" text-anchor="end">0</text>
<text class="t" x="514.70" y="528.24" text-anchor="end">2</text>
<text class="t" x="514.70" y="500.35" text-anchor="end">4</text>
<text class="t" x="514.70" y="472.47" text-anchor="end">6</text>
<text class="t" x="514.70" y="444.58" text-anchor="end">8</text>
<text class="t" x="514.70" y="416.69" text-anchor="end">10</text>
<text class="t" x="514.70" y="388.80" text-anchor="end">12</text>
<text class="t" x="514.70" y="360.92" text-anchor="end">14</text>
<text class="t" x="521.64" y="570.70" text-anchor="middle">0</text>
<text class="t" x="568.37" y="570.70" text-anchor="middle">10</text>
<text class="t" x="615.11" y="570.70" text-anchor="middle">20</text>
<text class="t" x="661.84" y="570.70" text-anchor="middle">30</text>
<text class="t" x="708.57" y="570.70" text-anchor="middle">40</text>
<text class="t" x="755.31" y="570.70" text-anchor="middle">50</text>
<text class="t" x="802.04" y="570.70" text-anchor="middle">60</text>
<text class="t" x="852.50" y="363.25">70</text>
<text class="t" x="852.50" y="391.75">60</text>
<text class="t" x="852.50" y="420.25">50</text>
<text class="t" x="852.50" y="448.75">40</text>
<text class="t" x="852.50" y="477.75">30</text>
<text class="t" x="852.50" y="506.25">20</text>
<text class="t" x="852.50" y="535.00">10</text>
<path d="M519.30 553.53h-2.6M519.30 525.64h-2.6M519.30 497.75h-2.6M519.30 469.87h-2.6M519.30 441.98h-2.6M519.30 414.09h-2.6M519.30 386.20h-2.6M519.30 358.32h-2.6M521.64 560.50v2.6M568.37 560.50v2.6M615.11 560.50v2.6M661.84 560.50v2.6M708.57 560.50v2.6M755.31 560.50v2.6M802.04 560.50v2.6M848.30 360.65h2.6M848.30 389.15h2.6M848.30 417.65h2.6M848.30 446.15h2.6M848.30 475.15h2.6M848.30 503.65h2.6M848.30 532.40h2.6" stroke="#222" stroke-width="0.6" fill="none"/>
<text class="t" x="668.85" y="580.00" text-anchor="middle">Time</text>
<text class="t" transform="translate(502.30 448.95) rotate(-90)" text-anchor="middle">Frequency</text>
<text class="t" transform="translate(868.70 448.95) rotate(-90)" text-anchor="middle">Magnitude</text>
</g>
<text class="c" filter="url(#cb)" x="681.75" y="620.90">(f)</text>
</g>
<g id="panel-g">
<g filter="url(#hb)" shape-rendering="crispEdges"><rect x="1010.30" y="337.40" width="299.10" height="223.10" fill="#0040ff"/>
<g transform="translate(1010.30 337.40) scale(4.67344 13.94375)" shape-rendering="crispEdges"><path fill="#000080" d="M5 0h2v1h-2zM12 0h1v1h-1zM17 0h3v1h-3zM26 0h3v1h-3zM53 0h1v1h-1zM1 1h1v1h-1zM57 1h3v1h-3zM61 1h1v1h-1zM27 2h2v1h-2zM1 3h1v1h-1zM5 3h1v1h-1zM48 3h2v1h-2zM60 3h1v1h-1zM10 5h2v1h-2zM24 5h2v1h-2zM35 5h1v1h-1zM54 5h1v1h-1zM4 6h1v1h-1zM13 6h2v1h-2zM17 6h1v1h-1zM33 6h2v1h-2zM18 7h1v1h-1zM4 8h1v1h-1zM13 8h2v1h-2zM17 8h1v1h-1zM33 8h2v1h-2zM10 9h2v1h-2zM24 9h2v1h-2zM35 9h1v1h-1zM54 9h1v1h-1zM1 11h1v1h-1zM5 11h1v1h-1zM48 11h2v1h-2zM60 11h1v1h-1zM27 12h2v1h-2zM1 13h1v1h-1zM57 13h3v1h-3zM61 13h1v1h-1zM5 14h2v1h-2zM12 14h1v1h-1zM17 14h3v1h-3zM26 14h3v1h-3zM53 14h1v1h-1zM26 15h3v1h-3zM45 15h2v1h-2z"/><path fill="#0000b9" d="M1 0h1v1h-1zM3 0h1v1h-1zM9 0h1v1h-1zM13 0h2v1h-2zM20 0h1v1h-1zM22 0h1v1h-1zM29 0h1v1h-1zM31 0h2v1h-2zM35 0h1v1h-1zM38 0h1v1h-1zM51 0h1v1h-1zM58 0h1v1h-1zM62 0h1v1h-1zM3 1h2v1h-2zM16 1h1v1h-1zM22 1h2v1h-2zM33 1h1v1h-1zM35 1h2v1h-2zM43 1h1v1h-1zM45 1h1v1h-1zM51 1h1v1h-1zM5 2h2v1h-2zM9 2h4v1h-4zM17 2h1v1h-1zM19 2h1v1h-1zM21 2h2v1h-2zM30 2h1v1h-1zM34 2h1v1h-1zM11 3h1v1h-1zM13 3h1v1h-1zM23 3h1v1h-1zM31 3h4v1h-4zM42 3h2v1h-2zM55 3h1v1h-1zM58 3h1v1h-1zM3 4h2v1h-2zM11 4h2v1h-2zM18 4h1v1h-1zM25 4h1v1h-1zM32 4h1v1h-1zM41 4h2v1h-2zM51 4h1v1h-1zM62 4h1v1h-1zM2 5h2v1h-2zM7 5h1v1h-1zM12 5h1v1h-1zM31 5h1v1h-1zM34 5h1v1h-1zM38 5h1v1h-1zM42 5h1v1h-1zM44 5h1v1h-1zM49 5h1v1h-1zM53 5h1v1h-1zM56 5h1v1h-1zM58 5h1v1h-1zM1 6h1v1h-1zM3 6h1v1h-1zM10 6h1v1h-1zM12 6h1v1h-1zM20 6h1v1h-1zM22 6h1v1h-1zM24 6h1v1h-1zM39 6h1v1h-1zM41 6h1v1h-1zM49 6h1v1h-1zM56 6h1v1h-1zM59 6h1v1h-1zM8 7h1v1h-1zM24 7h1v1h-1zM39 7h1v1h-1zM45 7h1v1h-1zM60 7h1v1h-1zM1 8h1v1h-1zM3 8h1v1h-1zM10 8h1v1h-1zM12 8h1v1h-1zM20 8h1v1h-1zM22 8h1v1h-1zM24 8h1v1h-1zM39 8h1v1h-1zM41 8h1v1h-1zM49 8h1v1h-1zM56 8h1v1h-1zM59 8h1v1h-1zM2 9h2v1h-2zM7 9h1v1h-1zM12 9h1v1h-1zM31 9h1v1h-1zM34 9h1v1h-1zM38 9h1v1h-1zM42 9h1v1h-1zM44 9h1v1h-1zM49 9h1v1h-1zM53 9h1v1h-1zM56 9h1v1h-1zM58 9h1v1h-1zM3 10h2v1h-2zM11 10h2v1h-2zM18 10h1v1h-1zM25 10h1v1h-1zM32 10h1v1h-1zM41 10h2v1h-2zM51 10h1v1h-1zM62 10h1v1h-1zM11 11h1v1h-1zM13 11h1v1h-1zM23 11h1v1h-1zM31 11h4v1h-4zM42 11h2v1h-2zM55 11h1v1h-1zM58 11h1v1h-1zM5 12h2v1h-2zM9 12h4v1h-4zM17 12h1v1h-1zM19 12h1v1h-1zM21 12h2v1h-2zM30 12h1v1h-1zM34 12h1v1h-1zM3 13h2v1h-2zM16 13h1v1h-1zM22 13h2v1h-2zM33 13h1v1h-1zM35 13h2v1h-2zM43 13h1v1h-1zM45 13h1v1h-1zM51 13h1v1h-1zM1 14h1v1h-1zM3 14h1v1h-1zM9 14h1v1h-1zM13 14h2v1h-2zM20 14h1v1h-1zM22 14h1v1h-1zM29 14h1v1h-1zM31 14h2v1h-2zM35 14h1v1h-1zM38 14h1v1h-1zM51 14h1v1h-1zM58 14h1v1h-1zM62 14h1v1h-1zM8 15h2v1h-2zM11 15h1v1h-1zM23 15h1v1h-1zM37 15h2v1h-2zM43 15h1v1h-1zM48 15h2v1h-2zM62 15h1v1h-1z"/><path fill="#0000ff" d="M8 0h1v1h-1zM16 0h1v1h-1zM30 0h1v1h-1zM33 0h2v1h-2zM36 0h2v1h-2zM45 0h2v1h-2zM52 0h1v1h-1zM54 0h1v1h-1zM56 0h2v1h-2zM7 1h1v1h-1zM17 1h1v1h-1zM19 1h1v1h-1zM26 1h1v1h-1zM28 1h2v1h-2zM32 1h1v1h-1zM34 1h1v1h-1zM41 1h1v1h-1zM44 1h1v1h-1zM46 1h3v1h-3zM50 1h1v1h-1zM52 1h3v1h-3zM56 1h1v1h-1zM3 2h1v1h-1zM7 2h1v1h-1zM13 2h1v1h-1zM16 2h1v1h-1zM18 2h1v1h-1zM20 2h1v1h-1zM23 2h1v1h-1zM26 2h1v1h-1zM29 2h1v1h-1zM37 2h4v1h-4zM42 2h1v1h-1zM46 2h4v1h-4zM51 2h1v1h-1zM53 2h2v1h-2zM56 2h3v1h-3zM0 3h1v1h-1zM3 3h1v1h-1zM8 3h1v1h-1zM10 3h1v1h-1zM15 3h1v1h-1zM18 3h1v1h-1zM20 3h1v1h-1zM24 3h1v1h-1zM28 3h2v1h-2zM36 3h6v1h-6zM46 3h1v1h-1zM50 3h5v1h-5zM59 3h1v1h-1zM62 3h1v1h-1zM0 4h2v1h-2zM7 4h1v1h-1zM10 4h1v1h-1zM13 4h1v1h-1zM15 4h1v1h-1zM20 4h1v1h-1zM22 4h1v1h-1zM26 4h1v1h-1zM29 4h1v1h-1zM31 4h1v1h-1zM34 4h1v1h-1zM36 4h1v1h-1zM38 4h2v1h-2zM44 4h3v1h-3zM52 4h2v1h-2zM55 4h2v1h-2zM58 4h1v1h-1zM60 4h2v1h-2zM1 5h1v1h-1zM4 5h1v1h-1zM6 5h1v1h-1zM17 5h2v1h-2zM20 5h1v1h-1zM26 5h1v1h-1zM28 5h3v1h-3zM37 5h1v1h-1zM41 5h1v1h-1zM46 5h1v1h-1zM48 5h1v1h-1zM51 5h2v1h-2zM60 5h3v1h-3zM5 6h1v1h-1zM8 6h1v1h-1zM11 6h1v1h-1zM15 6h1v1h-1zM18 6h2v1h-2zM25 6h1v1h-1zM28 6h1v1h-1zM35 6h4v1h-4zM42 6h1v1h-1zM44 6h2v1h-2zM47 6h2v1h-2zM54 6h1v1h-1zM60 6h3v1h-3zM6 7h1v1h-1zM11 7h2v1h-2zM14 7h1v1h-1zM19 7h1v1h-1zM21 7h3v1h-3zM34 7h1v1h-1zM37 7h1v1h-1zM40 7h2v1h-2zM43 7h1v1h-1zM48 7h3v1h-3zM55 7h1v1h-1zM61 7h2v1h-2zM5 8h1v1h-1zM8 8h1v1h-1zM11 8h1v1h-1zM15 8h1v1h-1zM18 8h2v1h-2zM25 8h1v1h-1zM28 8h1v1h-1zM35 8h4v1h-4zM42 8h1v1h-1zM44 8h2v1h-2zM47 8h2v1h-2zM54 8h1v1h-1zM60 8h3v1h-3zM1 9h1v1h-1zM4 9h1v1h-1zM6 9h1v1h-1zM17 9h2v1h-2zM20 9h1v1h-1zM26 9h1v1h-1zM28 9h3v1h-3zM37 9h1v1h-1zM41 9h1v1h-1zM46 9h1v1h-1zM48 9h1v1h-1zM51 9h2v1h-2zM60 9h3v1h-3zM0 10h2v1h-2zM7 10h1v1h-1zM10 10h1v1h-1zM13 10h1v1h-1zM15 10h1v1h-1zM20 10h1v1h-1zM22 10h1v1h-1zM26 10h1v1h-1zM29 10h1v1h-1zM31 10h1v1h-1zM34 10h1v1h-1zM36 10h1v1h-1zM38 10h2v1h-2zM44 10h3v1h-3zM52 10h2v1h-2zM55 10h2v1h-2zM58 10h1v1h-1zM60 10h2v1h-2zM0 11h1v1h-1zM3 11h1v1h-1zM8 11h1v1h-1zM10 11h1v1h-1zM15 11h1v1h-1zM18 11h1v1h-1zM20 11h1v1h-1zM24 11h1v1h-1zM28 11h2v1h-2zM36 11h6v1h-6zM46 11h1v1h-1zM50 11h5v1h-5zM59 11h1v1h-1zM62 11h1v1h-1zM3 12h1v1h-1zM7 12h1v1h-1zM13 12h1v1h-1zM16 12h1v1h-1zM18 12h1v1h-1zM20 12h1v1h-1zM23 12h1v1h-1zM26 12h1v1h-1zM29 12h1v1h-1zM37 12h4v1h-4zM42 12h1v1h-1zM46 12h4v1h-4zM51 12h1v1h-1zM53 12h2v1h-2zM56 12h3v1h-3zM7 13h1v1h-1zM17 13h1v1h-1zM19 13h1v1h-1zM26 13h1v1h-1zM28 13h2v1h-2zM32 13h1v1h-1zM34 13h1v1h-1zM41 13h1v1h-1zM44 13h1v1h-1zM46 13h3v1h-3zM50 13h1v1h-1zM52 13h3v1h-3zM56 13h1v1h-1zM8 14h1v1h-1zM16 14h1v1h-1zM30 14h1v1h-1zM33 14h2v1h-2zM36 14h2v1h-2zM45 14h2v1h-2zM52 14h1v1h-1zM54 14h1v1h-1zM56 14h2v1h-2zM1 15h1v1h-1zM3 15h1v1h-1zM6 15h1v1h-1zM12 15h1v1h-1zM14 15h1v1h-1zM16 15h1v1h-1zM19 15h1v1h-1zM30 15h1v1h-1zM33 15h1v1h-1zM35 15h1v1h-1zM55 15h1v1h-1z"/><path fill="#0029ff" d="M4 0h1v1h-1zM10 0h2v1h-2zM23 0h1v1h-1zM39 0h3v1h-3zM43 0h2v1h-2zM48 0h2v1h-2zM59 0h1v1h-1zM2 1h1v1h-1zM10 1h1v1h-1zM30 1h1v1h-1zM37 1h1v1h-1zM42 1h1v1h-1zM1 2h2v1h-2zM8 2h1v1h-1zM15 2h1v1h-1zM32 2h1v1h-1zM35 2h2v1h-2zM41 2h1v1h-1zM43 2h1v1h-1zM59 2h2v1h-2zM2 3h1v1h-1zM7 3h1v1h-1zM12 3h1v1h-1zM16 3h2v1h-2zM25 3h3v1h-3zM35 3h1v1h-1zM45 3h1v1h-1zM56 3h2v1h-2zM5 4h2v1h-2zM17 4h1v1h-1zM21 4h1v1h-1zM28 4h1v1h-1zM33 4h1v1h-1zM35 4h1v1h-1zM43 4h1v1h-1zM48 4h1v1h-1zM0 5h1v1h-1zM5 5h1v1h-1zM13 5h2v1h-2zM22 5h1v1h-1zM27 5h1v1h-1zM32 5h2v1h-2zM36 5h1v1h-1zM6 6h2v1h-2zM32 6h1v1h-1zM43 6h1v1h-1zM52 6h1v1h-1zM55 6h1v1h-1zM1 7h3v1h-3zM17 7h1v1h-1zM25 7h1v1h-1zM27 7h3v1h-3zM31 7h1v1h-1zM33 7h1v1h-1zM47 7h1v1h-1zM54 7h1v1h-1zM56 7h1v1h-1zM59 7h1v1h-1zM6 8h2v1h-2zM32 8h1v1h-1zM43 8h1v1h-1zM52 8h1v1h-1zM55 8h1v1h-1zM0 9h1v1h-1zM5 9h1v1h-1zM13 9h2v1h-2zM22 9h1v1h-1zM27 9h1v1h-1zM32 9h2v1h-2zM36 9h1v1h-1zM5 10h2v1h-2zM17 10h1v1h-1zM21 10h1v1h-1zM28 10h1v1h-1zM33 10h1v1h-1zM35 10h1v1h-1zM43 10h1v1h-1zM48 10h1v1h-1zM2 11h1v1h-1zM7 11h1v1h-1zM12 11h1v1h-1zM16 11h2v1h-2zM25 11h3v1h-3zM35 11h1v1h-1zM45 11h1v1h-1zM56 11h2v1h-2zM1 12h2v1h-2zM8 12h1v1h-1zM15 12h1v1h-1zM32 12h1v1h-1zM35 12h2v1h-2zM41 12h1v1h-1zM43 12h1v1h-1zM59 12h2v1h-2zM2 13h1v1h-1zM10 13h1v1h-1zM30 13h1v1h-1zM37 13h1v1h-1zM42 13h1v1h-1zM4 14h1v1h-1zM10 14h2v1h-2zM23 14h1v1h-1zM39 14h3v1h-3zM43 14h2v1h-2zM48 14h2v1h-2zM59 14h1v1h-1zM17 15h1v1h-1zM25 15h1v1h-1zM39 15h3v1h-3zM47 15h1v1h-1zM56 15h1v1h-1z"/><path fill="#0075ff" d="M0 0h1v1h-1zM2 0h1v1h-1zM15 0h1v1h-1zM24 0h1v1h-1zM55 0h1v1h-1zM60 0h2v1h-2zM0 1h1v1h-1zM6 1h1v1h-1zM8 1h2v1h-2zM13 1h2v1h-2zM20 1h2v1h-2zM27 1h1v1h-1zM31 1h1v1h-1zM38 1h2v1h-2zM49 1h1v1h-1zM4 2h1v1h-1zM14 2h1v1h-1zM24 2h2v1h-2zM31 2h1v1h-1zM55 2h1v1h-1zM61 2h2v1h-2zM9 3h1v1h-1zM14 3h1v1h-1zM19 3h1v1h-1zM21 3h2v1h-2zM44 3h1v1h-1zM2 4h1v1h-1zM8 4h1v1h-1zM14 4h1v1h-1zM23 4h2v1h-2zM30 4h1v1h-1zM47 4h1v1h-1zM49 4h2v1h-2zM54 4h1v1h-1zM59 4h1v1h-1zM9 5h1v1h-1zM15 5h1v1h-1zM39 5h2v1h-2zM43 5h1v1h-1zM45 5h1v1h-1zM9 6h1v1h-1zM21 6h1v1h-1zM29 6h3v1h-3zM53 6h1v1h-1zM57 6h2v1h-2zM9 7h2v1h-2zM36 7h1v1h-1zM42 7h1v1h-1zM9 8h1v1h-1zM21 8h1v1h-1zM29 8h3v1h-3zM53 8h1v1h-1zM57 8h2v1h-2zM9 9h1v1h-1zM15 9h1v1h-1zM39 9h2v1h-2zM43 9h1v1h-1zM45 9h1v1h-1zM2 10h1v1h-1zM8 10h1v1h-1zM14 10h1v1h-1zM23 10h2v1h-2zM30 10h1v1h-1zM47 10h1v1h-1zM49 10h2v1h-2zM54 10h1v1h-1zM59 10h1v1h-1zM9 11h1v1h-1zM14 11h1v1h-1zM19 11h1v1h-1zM21 11h2v1h-2zM44 11h1v1h-1zM4 12h1v1h-1zM14 12h1v1h-1zM24 12h2v1h-2zM31 12h1v1h-1zM55 12h1v1h-1zM61 12h2v1h-2zM0 13h1v1h-1zM6 13h1v1h-1zM8 13h2v1h-2zM13 13h2v1h-2zM20 13h2v1h-2zM27 13h1v1h-1zM31 13h1v1h-1zM38 13h2v1h-2zM49 13h1v1h-1zM0 14h1v1h-1zM2 14h1v1h-1zM15 14h1v1h-1zM24 14h1v1h-1zM55 14h1v1h-1zM60 14h2v1h-2zM29 15h1v1h-1zM32 15h1v1h-1zM34 15h1v1h-1zM44 15h1v1h-1zM51 15h4v1h-4z"/><path fill="#00bdff" d="M21 0h1v1h-1zM47 0h1v1h-1zM50 0h1v1h-1zM12 1h1v1h-1zM25 1h1v1h-1zM55 1h1v1h-1zM33 2h1v1h-1zM50 2h1v1h-1zM6 3h1v1h-1zM47 3h1v1h-1zM9 4h1v1h-1zM40 4h1v1h-1zM55 5h1v1h-1zM23 6h1v1h-1zM27 6h1v1h-1zM40 6h1v1h-1zM51 6h1v1h-1zM13 7h1v1h-1zM15 7h1v1h-1zM20 7h1v1h-1zM30 7h1v1h-1zM23 8h1v1h-1zM27 8h1v1h-1zM40 8h1v1h-1zM51 8h1v1h-1zM55 9h1v1h-1zM9 10h1v1h-1zM40 10h1v1h-1zM6 11h1v1h-1zM47 11h1v1h-1zM33 12h1v1h-1zM50 12h1v1h-1zM12 13h1v1h-1zM25 13h1v1h-1zM55 13h1v1h-1zM21 14h1v1h-1zM47 14h1v1h-1zM50 14h1v1h-1zM2 15h1v1h-1zM4 15h1v1h-1zM13 15h1v1h-1zM15 15h1v1h-1zM20 15h3v1h-3zM24 15h1v1h-1z"/><path fill="#08f0ef" d="M5 1h1v1h-1zM11 1h1v1h-1zM15 1h1v1h-1zM18 1h1v1h-1zM60 1h1v1h-1zM0 2h1v1h-1zM4 3h1v1h-1zM30 3h1v1h-1zM61 3h1v1h-1zM16 4h1v1h-1zM19 4h1v1h-1zM37 4h1v1h-1zM57 4h1v1h-1zM19 5h1v1h-1zM50 5h1v1h-1zM57 5h1v1h-1zM50 6h1v1h-1zM0 7h1v1h-1zM16 7h1v1h-1zM52 7h1v1h-1zM50 8h1v1h-1zM19 9h1v1h-1zM50 9h1v1h-1zM57 9h1v1h-1zM16 10h1v1h-1zM19 10h1v1h-1zM37 10h1v1h-1zM57 10h1v1h-1zM4 11h1v1h-1zM30 11h1v1h-1zM61 11h1v1h-1zM0 12h1v1h-1zM5 13h1v1h-1zM11 13h1v1h-1zM15 13h1v1h-1zM18 13h1v1h-1zM60 13h1v1h-1zM50 15h1v1h-1zM59 15h2v1h-2z"/><path fill="#3effb9" d="M7 0h1v1h-1zM24 1h1v1h-1zM40 1h1v1h-1zM62 1h1v1h-1zM27 4h1v1h-1zM23 5h1v1h-1zM2 6h1v1h-1zM5 7h1v1h-1zM46 7h1v1h-1zM53 7h1v1h-1zM2 8h1v1h-1zM23 9h1v1h-1zM27 10h1v1h-1zM24 13h1v1h-1zM40 13h1v1h-1zM62 13h1v1h-1zM7 14h1v1h-1zM7 15h1v1h-1zM10 15h1v1h-1zM18 15h1v1h-1zM36 15h1v1h-1z"/><path fill="#84ff73" d="M25 0h1v1h-1zM42 0h1v1h-1zM44 2h1v1h-1zM8 5h1v1h-1zM16 5h1v1h-1zM21 5h1v1h-1zM59 5h1v1h-1zM0 6h1v1h-1zM16 6h1v1h-1zM26 7h1v1h-1zM57 7h1v1h-1zM0 8h1v1h-1zM16 8h1v1h-1zM8 9h1v1h-1zM16 9h1v1h-1zM21 9h1v1h-1zM59 9h1v1h-1zM44 12h1v1h-1zM25 14h1v1h-1zM42 14h1v1h-1zM0 15h1v1h-1zM61 15h1v1h-1z"/><path fill="#c1ff35" d="M52 2h1v1h-1zM26 6h1v1h-1zM58 7h1v1h-1zM26 8h1v1h-1zM52 12h1v1h-1z"/><path fill="#ffec00" d="M47 5h1v1h-1zM46 6h1v1h-1zM63 6h1v1h-1zM35 7h1v1h-1zM38 7h1v1h-1zM44 7h1v1h-1zM63 7h1v1h-1zM46 8h1v1h-1zM63 8h1v1h-1zM47 9h1v1h-1zM5 15h1v1h-1zM42 15h1v1h-1z"/><path fill="#ffb800" d="M63 0h1v1h-1zM45 2h1v1h-1zM63 5h1v1h-1zM7 7h1v1h-1zM63 9h1v1h-1zM45 12h1v1h-1zM63 14h1v1h-1zM57 15h1v1h-1zM63 15h1v1h-1z"/><path fill="#ff7100" d="M63 1h1v1h-1zM63 3h1v1h-1zM63 4h1v1h-1zM32 7h1v1h-1zM51 7h1v1h-1zM63 10h1v1h-1zM63 11h1v1h-1zM63 13h1v1h-1zM58 15h1v1h-1z"/><path fill="#ff3400" d="M63 2h1v1h-1zM63 12h1v1h-1zM31 15h1v1h-1z"/><path fill="#910000" d="M4 7h1v1h-1z"/></g>
</g>
<rect x="1328.00" y="337.40" width="11.30" height="223.10" fill="url(#jet)"/>
<g filter="url(#tb)">
<rect x="1010.30" y="337.40" width="299.10" height="223.10" fill="none" stroke="#333" stroke-width="0.7"/>
<rect x="1328.00" y="337.40" width="11.30" height="223.10" fill="none" stroke="#333" stroke-width="0.7"/>
<text class="t" x="1005.70" y="556.13" text-anchor="end">0</text>
<text class="t" x="1005.70" y="528.24" text-anchor="end">2</text>
<text class="t" x="1005.70" y="500.35" text-anchor="end">4</text>
<text class="t" x="1005.70" y="472.47" text-anchor="end">6</text>
<text class="t" x="1005.70" y="444.58" text-anchor="end">8</text>
<text class="t" x="1005.70" y="416.69" text-anchor="end">10</text>
<text class="t" x="1005.70" y="388.80" text-anchor="end">12</text>
<text class="t" x="1005.70" y="360.92" text-anchor="end">14</text>
<text class="t" x="1012.64" y="570.70" text-anchor="middle">0</text>
<text class="t" x="1059.37" y="570.70" text-anchor="middle">10</text>
<text class="t" x="1106.11" y="570.70" text-anchor="middle">20</text>
<text class="t" x="1152.84" y="570.70" text-anchor="middle">30</text>
<text class="t" x="1199.57" y="570.70" text-anchor="middle">40</text>
<text class="t" x="1246.31" y="570.70" text-anchor="middle">50</text>
<text class="t" x="1293.04" y="570.70" text-anchor="middle">60</text>
<text class="t" x="1343.50" y="365.25">40</text>
<text class="t" x="1343.50" y="415.00">30</text>
<text class="t" x="1343.50" y="464.50">20</text>
<text class="t" x="1343.50" y="514.25">10</text>
<path d="M1010.30 553.53h-2.6M1010.30 525.64h-2.6M1010.30 497.75h-2.6M1010.30 469.87h-2.6M1010.30 441.98h-2.6M1010.30 414.09h-2.6M1010.30 386.20h-2.6M1010.30 358.32h-2.6M1012.64 560.50v2.6M1059.37 560.50v2.6M1106.11 560.50v2.6M1152.84 560.50v2.6M1199.57 560.50v2.6M1246.31 560.50v2.6M1293.04 560.50v2.6M1339.30 362.65h2.6M1339.30 412.40h2.6M1339.30 461.90h2.6M1339.30 511.65h2.6" stroke="#222" stroke-width="0.6" fill="none"/>
<text class="t" x="1159.85" y="580.00" text-anchor="middle">Time</text>
<text class="t" transform="translate(993.30 448.95) rotate(-90)" text-anchor="middle">Frequency</text>
<text class="t" transform="translate(1359.70 448.95) rotate(-90)" text-anchor="middle">Magnitude</text>
</g>
<text class="c" filter="url(#cb)" x="1164.75" y="620.90">(g)</text>
</g>
<g id="panel-h">
<g filter="url(#hb)" shape-rendering="crispEdges"><rect x="1491.90" y="337.40" width="299.10" height="223.10" fill="#0040ff"/>
<g transform="translate(1491.90 337.40) scale(4.67344 13.94375)" shape-rendering="crispEdges"><path fill="#000080" d="M25 2h1v1h-1zM13 3h1v1h-1zM13 4h1v1h-1zM24 5h1v1h-1zM24 9h1v1h-1zM13 10h1v1h-1zM13 11h1v1h-1zM25 12h1v1h-1z"/><path fill="#0000b9" d="M18 0h2v1h-2zM29 0h2v1h-2zM40 0h1v1h-1zM12 1h1v1h-1zM37 1h1v1h-1zM24 2h1v1h-1zM27 2h7v1h-7zM20 4h1v1h-1zM24 4h1v1h-1zM40 4h1v1h-1zM57 4h1v1h-1zM21 5h1v1h-1zM57 5h1v1h-1zM18 6h1v1h-1zM5 7h1v1h-1zM38 7h1v1h-1zM52 7h1v1h-1zM18 8h1v1h-1zM21 9h1v1h-1zM57 9h1v1h-1zM20 10h1v1h-1zM24 10h1v1h-1zM40 10h1v1h-1zM57 10h1v1h-1zM24 12h1v1h-1zM27 12h7v1h-7zM12 13h1v1h-1zM37 13h1v1h-1zM18 14h2v1h-2zM29 14h2v1h-2zM40 14h1v1h-1zM6 15h2v1h-2zM18 15h1v1h-1zM46 15h1v1h-1zM55 15h1v1h-1zM58 15h2v1h-2zM61 15h1v1h-1z"/><path fill="#0000ff" d="M2 0h1v1h-1zM5 0h2v1h-2zM10 0h1v1h-1zM12 0h1v1h-1zM27 0h2v1h-2zM31 0h7v1h-7zM41 0h1v1h-1zM44 0h1v1h-1zM46 0h1v1h-1zM54 0h2v1h-2zM57 0h1v1h-1zM59 0h1v1h-1zM61 0h2v1h-2zM5 1h2v1h-2zM8 1h2v1h-2zM15 1h2v1h-2zM21 1h1v1h-1zM27 1h7v1h-7zM35 1h1v1h-1zM42 1h1v1h-1zM48 1h2v1h-2zM51 1h1v1h-1zM57 1h1v1h-1zM5 2h2v1h-2zM14 2h4v1h-4zM20 2h2v1h-2zM26 2h1v1h-1zM34 2h1v1h-1zM42 2h1v1h-1zM47 2h1v1h-1zM52 2h1v1h-1zM15 3h2v1h-2zM18 3h1v1h-1zM24 3h1v1h-1zM29 3h1v1h-1zM31 3h4v1h-4zM38 3h1v1h-1zM41 3h1v1h-1zM43 3h1v1h-1zM47 3h1v1h-1zM56 3h2v1h-2zM60 3h1v1h-1zM3 4h1v1h-1zM6 4h2v1h-2zM11 4h1v1h-1zM18 4h1v1h-1zM21 4h1v1h-1zM25 4h1v1h-1zM31 4h4v1h-4zM41 4h1v1h-1zM43 4h1v1h-1zM46 4h1v1h-1zM60 4h1v1h-1zM2 5h1v1h-1zM6 5h2v1h-2zM10 5h2v1h-2zM13 5h1v1h-1zM18 5h2v1h-2zM27 5h3v1h-3zM36 5h4v1h-4zM46 5h1v1h-1zM53 5h4v1h-4zM1 6h1v1h-1zM3 6h3v1h-3zM17 6h1v1h-1zM21 6h1v1h-1zM25 6h1v1h-1zM27 6h1v1h-1zM29 6h3v1h-3zM38 6h2v1h-2zM51 6h2v1h-2zM54 6h1v1h-1zM59 6h1v1h-1zM37 7h1v1h-1zM45 7h1v1h-1zM49 7h1v1h-1zM54 7h1v1h-1zM58 7h1v1h-1zM1 8h1v1h-1zM3 8h3v1h-3zM17 8h1v1h-1zM21 8h1v1h-1zM25 8h1v1h-1zM27 8h1v1h-1zM29 8h3v1h-3zM38 8h2v1h-2zM51 8h2v1h-2zM54 8h1v1h-1zM59 8h1v1h-1zM2 9h1v1h-1zM6 9h2v1h-2zM10 9h2v1h-2zM13 9h1v1h-1zM18 9h2v1h-2zM27 9h3v1h-3zM36 9h4v1h-4zM46 9h1v1h-1zM53 9h4v1h-4zM3 10h1v1h-1zM6 10h2v1h-2zM11 10h1v1h-1zM18 10h1v1h-1zM21 10h1v1h-1zM25 10h1v1h-1zM31 10h4v1h-4zM41 10h1v1h-1zM43 10h1v1h-1zM46 10h1v1h-1zM60 10h1v1h-1zM15 11h2v1h-2zM18 11h1v1h-1zM24 11h1v1h-1zM29 11h1v1h-1zM31 11h4v1h-4zM38 11h1v1h-1zM41 11h1v1h-1zM43 11h1v1h-1zM47 11h1v1h-1zM56 11h2v1h-2zM60 11h1v1h-1zM5 12h2v1h-2zM14 12h4v1h-4zM20 12h2v1h-2zM26 12h1v1h-1zM34 12h1v1h-1zM42 12h1v1h-1zM47 12h1v1h-1zM52 12h1v1h-1zM5 13h2v1h-2zM8 13h2v1h-2zM15 13h2v1h-2zM21 13h1v1h-1zM27 13h7v1h-7zM35 13h1v1h-1zM42 13h1v1h-1zM48 13h2v1h-2zM51 13h1v1h-1zM57 13h1v1h-1zM2 14h1v1h-1zM5 14h2v1h-2zM10 14h1v1h-1zM12 14h1v1h-1zM27 14h2v1h-2zM31 14h7v1h-7zM41 14h1v1h-1zM44 14h1v1h-1zM46 14h1v1h-1zM54 14h2v1h-2zM57 14h1v1h-1zM59 14h1v1h-1zM61 14h2v1h-2zM1 15h1v1h-1zM12 15h1v1h-1zM34 15h1v1h-1zM41 15h1v1h-1zM43 15h1v1h-1zM56 15h1v1h-1zM62 15h1v1h-1z"/><path fill="#0029ff" d="M1 0h1v1h-1zM7 0h3v1h-3zM14 0h3v1h-3zM24 0h1v1h-1zM38 0h2v1h-2zM43 0h1v1h-1zM45 0h1v1h-1zM48 0h1v1h-1zM50 0h1v1h-1zM58 0h1v1h-1zM1 1h3v1h-3zM13 1h2v1h-2zM19 1h2v1h-2zM22 1h2v1h-2zM25 1h2v1h-2zM34 1h1v1h-1zM36 1h1v1h-1zM40 1h2v1h-2zM43 1h1v1h-1zM54 1h1v1h-1zM59 1h1v1h-1zM61 1h2v1h-2zM1 2h1v1h-1zM8 2h3v1h-3zM22 2h2v1h-2zM35 2h1v1h-1zM37 2h4v1h-4zM43 2h1v1h-1zM46 2h1v1h-1zM50 2h1v1h-1zM55 2h6v1h-6zM1 3h1v1h-1zM3 3h1v1h-1zM10 3h1v1h-1zM14 3h1v1h-1zM17 3h1v1h-1zM19 3h2v1h-2zM22 3h2v1h-2zM25 3h1v1h-1zM28 3h1v1h-1zM39 3h2v1h-2zM48 3h1v1h-1zM50 3h3v1h-3zM59 3h1v1h-1zM4 4h2v1h-2zM12 4h1v1h-1zM14 4h1v1h-1zM16 4h1v1h-1zM19 4h1v1h-1zM22 4h1v1h-1zM30 4h1v1h-1zM36 4h3v1h-3zM45 4h1v1h-1zM51 4h1v1h-1zM53 4h1v1h-1zM56 4h1v1h-1zM58 4h1v1h-1zM0 5h1v1h-1zM3 5h2v1h-2zM8 5h1v1h-1zM17 5h1v1h-1zM20 5h1v1h-1zM22 5h1v1h-1zM25 5h1v1h-1zM32 5h2v1h-2zM40 5h1v1h-1zM44 5h1v1h-1zM47 5h2v1h-2zM51 5h1v1h-1zM58 5h4v1h-4zM0 6h1v1h-1zM7 6h1v1h-1zM28 6h1v1h-1zM32 6h2v1h-2zM35 6h3v1h-3zM40 6h4v1h-4zM45 6h1v1h-1zM55 6h1v1h-1zM61 6h1v1h-1zM4 7h1v1h-1zM13 7h1v1h-1zM21 7h2v1h-2zM30 7h3v1h-3zM35 7h1v1h-1zM41 7h1v1h-1zM43 7h1v1h-1zM55 7h2v1h-2zM0 8h1v1h-1zM7 8h1v1h-1zM28 8h1v1h-1zM32 8h2v1h-2zM35 8h3v1h-3zM40 8h4v1h-4zM45 8h1v1h-1zM55 8h1v1h-1zM61 8h1v1h-1zM0 9h1v1h-1zM3 9h2v1h-2zM8 9h1v1h-1zM17 9h1v1h-1zM20 9h1v1h-1zM22 9h1v1h-1zM25 9h1v1h-1zM32 9h2v1h-2zM40 9h1v1h-1zM44 9h1v1h-1zM47 9h2v1h-2zM51 9h1v1h-1zM58 9h4v1h-4zM4 10h2v1h-2zM12 10h1v1h-1zM14 10h1v1h-1zM16 10h1v1h-1zM19 10h1v1h-1zM22 10h1v1h-1zM30 10h1v1h-1zM36 10h3v1h-3zM45 10h1v1h-1zM51 10h1v1h-1zM53 10h1v1h-1zM56 10h1v1h-1zM58 10h1v1h-1zM1 11h1v1h-1zM3 11h1v1h-1zM10 11h1v1h-1zM14 11h1v1h-1zM17 11h1v1h-1zM19 11h2v1h-2zM22 11h2v1h-2zM25 11h1v1h-1zM28 11h1v1h-1zM39 11h2v1h-2zM48 11h1v1h-1zM50 11h3v1h-3zM59 11h1v1h-1zM1 12h1v1h-1zM8 12h3v1h-3zM22 12h2v1h-2zM35 12h1v1h-1zM37 12h4v1h-4zM43 12h1v1h-1zM46 12h1v1h-1zM50 12h1v1h-1zM55 12h6v1h-6zM1 13h3v1h-3zM13 13h2v1h-2zM19 13h2v1h-2zM22 13h2v1h-2zM25 13h2v1h-2zM34 13h1v1h-1zM36 13h1v1h-1zM40 13h2v1h-2zM43 13h1v1h-1zM54 13h1v1h-1zM59 13h1v1h-1zM61 13h2v1h-2zM1 14h1v1h-1zM7 14h3v1h-3zM14 14h3v1h-3zM24 14h1v1h-1zM38 14h2v1h-2zM43 14h1v1h-1zM45 14h1v1h-1zM48 14h1v1h-1zM50 14h1v1h-1zM58 14h1v1h-1zM15 15h1v1h-1zM19 15h1v1h-1zM28 15h2v1h-2zM36 15h1v1h-1zM39 15h1v1h-1zM53 15h2v1h-2z"/><path fill="#0075ff" d="M4 0h1v1h-1zM20 0h4v1h-4zM26 0h1v1h-1zM47 0h1v1h-1zM49 0h1v1h-1zM53 0h1v1h-1zM60 0h1v1h-1zM4 1h1v1h-1zM10 1h1v1h-1zM17 1h2v1h-2zM39 1h1v1h-1zM45 1h3v1h-3zM50 1h1v1h-1zM52 1h1v1h-1zM4 2h1v1h-1zM11 2h2v1h-2zM18 2h2v1h-2zM36 2h1v1h-1zM54 2h1v1h-1zM2 3h1v1h-1zM4 3h6v1h-6zM11 3h2v1h-2zM21 3h1v1h-1zM26 3h2v1h-2zM36 3h2v1h-2zM42 3h1v1h-1zM45 3h2v1h-2zM53 3h1v1h-1zM55 3h1v1h-1zM0 4h1v1h-1zM8 4h2v1h-2zM15 4h1v1h-1zM17 4h1v1h-1zM29 4h1v1h-1zM35 4h1v1h-1zM42 4h1v1h-1zM44 4h1v1h-1zM48 4h2v1h-2zM55 4h1v1h-1zM1 5h1v1h-1zM9 5h1v1h-1zM12 5h1v1h-1zM14 5h1v1h-1zM16 5h1v1h-1zM26 5h1v1h-1zM30 5h2v1h-2zM42 5h1v1h-1zM45 5h1v1h-1zM50 5h1v1h-1zM8 6h7v1h-7zM16 6h1v1h-1zM19 6h2v1h-2zM44 6h1v1h-1zM46 6h4v1h-4zM62 6h1v1h-1zM1 7h2v1h-2zM7 7h2v1h-2zM10 7h1v1h-1zM12 7h1v1h-1zM16 7h3v1h-3zM23 7h1v1h-1zM26 7h1v1h-1zM39 7h2v1h-2zM44 7h1v1h-1zM60 7h1v1h-1zM8 8h7v1h-7zM16 8h1v1h-1zM19 8h2v1h-2zM44 8h1v1h-1zM46 8h4v1h-4zM62 8h1v1h-1zM1 9h1v1h-1zM9 9h1v1h-1zM12 9h1v1h-1zM14 9h1v1h-1zM16 9h1v1h-1zM26 9h1v1h-1zM30 9h2v1h-2zM42 9h1v1h-1zM45 9h1v1h-1zM50 9h1v1h-1zM0 10h1v1h-1zM8 10h2v1h-2zM15 10h1v1h-1zM17 10h1v1h-1zM29 10h1v1h-1zM35 10h1v1h-1zM42 10h1v1h-1zM44 10h1v1h-1zM48 10h2v1h-2zM55 10h1v1h-1zM2 11h1v1h-1zM4 11h6v1h-6zM11 11h2v1h-2zM21 11h1v1h-1zM26 11h2v1h-2zM36 11h2v1h-2zM42 11h1v1h-1zM45 11h2v1h-2zM53 11h1v1h-1zM55 11h1v1h-1zM4 12h1v1h-1zM11 12h2v1h-2zM18 12h2v1h-2zM36 12h1v1h-1zM54 12h1v1h-1zM4 13h1v1h-1zM10 13h1v1h-1zM17 13h2v1h-2zM39 13h1v1h-1zM45 13h3v1h-3zM50 13h1v1h-1zM52 13h1v1h-1zM4 14h1v1h-1zM20 14h4v1h-4zM26 14h1v1h-1zM47 14h1v1h-1zM49 14h1v1h-1zM53 14h1v1h-1zM60 14h1v1h-1zM3 15h1v1h-1zM8 15h2v1h-2zM16 15h1v1h-1zM23 15h3v1h-3zM27 15h1v1h-1zM33 15h1v1h-1zM50 15h2v1h-2zM60 15h1v1h-1z"/><path fill="#00bdff" d="M11 0h1v1h-1zM13 0h1v1h-1zM17 0h1v1h-1zM0 1h1v1h-1zM38 1h1v1h-1zM44 1h1v1h-1zM53 1h1v1h-1zM55 1h2v1h-2zM58 1h1v1h-1zM2 2h2v1h-2zM13 2h1v1h-1zM44 2h2v1h-2zM48 2h2v1h-2zM51 2h1v1h-1zM54 3h1v1h-1zM61 3h2v1h-2zM1 4h2v1h-2zM28 4h1v1h-1zM47 4h1v1h-1zM54 4h1v1h-1zM61 4h2v1h-2zM5 5h1v1h-1zM23 5h1v1h-1zM34 5h2v1h-2zM41 5h1v1h-1zM2 6h1v1h-1zM15 6h1v1h-1zM22 6h3v1h-3zM26 6h1v1h-1zM50 6h1v1h-1zM53 6h1v1h-1zM56 6h3v1h-3zM15 7h1v1h-1zM19 7h1v1h-1zM51 7h1v1h-1zM2 8h1v1h-1zM15 8h1v1h-1zM22 8h3v1h-3zM26 8h1v1h-1zM50 8h1v1h-1zM53 8h1v1h-1zM56 8h3v1h-3zM5 9h1v1h-1zM23 9h1v1h-1zM34 9h2v1h-2zM41 9h1v1h-1zM1 10h2v1h-2zM28 10h1v1h-1zM47 10h1v1h-1zM54 10h1v1h-1zM61 10h2v1h-2zM54 11h1v1h-1zM61 11h2v1h-2zM2 12h2v1h-2zM13 12h1v1h-1zM44 12h2v1h-2zM48 12h2v1h-2zM51 12h1v1h-1zM0 13h1v1h-1zM38 13h1v1h-1zM44 13h1v1h-1zM53 13h1v1h-1zM55 13h2v1h-2zM58 13h1v1h-1zM11 14h1v1h-1zM13 14h1v1h-1zM17 14h1v1h-1zM4 15h2v1h-2zM20 15h2v1h-2zM30 15h1v1h-1zM35 15h1v1h-1z"/><path fill="#08f0ef" d="M3 0h1v1h-1zM25 0h1v1h-1zM42 0h1v1h-1zM51 0h2v1h-2zM56 0h1v1h-1zM24 1h1v1h-1zM60 1h1v1h-1zM0 2h1v1h-1zM7 2h1v1h-1zM62 2h1v1h-1zM35 3h1v1h-1zM44 3h1v1h-1zM58 3h1v1h-1zM10 4h1v1h-1zM23 4h1v1h-1zM26 4h2v1h-2zM52 4h1v1h-1zM59 4h1v1h-1zM15 5h1v1h-1zM43 5h1v1h-1zM49 5h1v1h-1zM6 6h1v1h-1zM9 7h1v1h-1zM20 7h1v1h-1zM27 7h1v1h-1zM33 7h1v1h-1zM36 7h1v1h-1zM59 7h1v1h-1zM61 7h1v1h-1zM6 8h1v1h-1zM15 9h1v1h-1zM43 9h1v1h-1zM49 9h1v1h-1zM10 10h1v1h-1zM23 10h1v1h-1zM26 10h2v1h-2zM52 10h1v1h-1zM59 10h1v1h-1zM35 11h1v1h-1zM44 11h1v1h-1zM58 11h1v1h-1zM0 12h1v1h-1zM7 12h1v1h-1zM62 12h1v1h-1zM24 13h1v1h-1zM60 13h1v1h-1zM3 14h1v1h-1zM25 14h1v1h-1zM42 14h1v1h-1zM51 14h2v1h-2zM56 14h1v1h-1zM42 15h1v1h-1zM47 15h1v1h-1zM57 15h1v1h-1z"/><path fill="#3effb9" d="M0 0h1v1h-1zM7 1h1v1h-1zM11 1h1v1h-1zM41 2h1v1h-1zM53 2h1v1h-1zM61 2h1v1h-1zM0 3h1v1h-1zM30 3h1v1h-1zM49 3h1v1h-1zM39 4h1v1h-1zM52 5h1v1h-1zM62 5h1v1h-1zM34 6h1v1h-1zM3 7h1v1h-1zM24 7h2v1h-2zM29 7h1v1h-1zM62 7h1v1h-1zM34 8h1v1h-1zM52 9h1v1h-1zM62 9h1v1h-1zM39 10h1v1h-1zM0 11h1v1h-1zM30 11h1v1h-1zM49 11h1v1h-1zM41 12h1v1h-1zM53 12h1v1h-1zM61 12h1v1h-1zM7 13h1v1h-1zM11 13h1v1h-1zM0 14h1v1h-1zM31 15h2v1h-2zM37 15h1v1h-1zM40 15h1v1h-1zM52 15h1v1h-1z"/><path fill="#84ff73" d="M50 4h1v1h-1zM60 6h1v1h-1zM0 7h1v1h-1zM11 7h1v1h-1zM34 7h1v1h-1zM42 7h1v1h-1zM50 7h1v1h-1zM57 7h1v1h-1zM60 8h1v1h-1zM50 10h1v1h-1zM0 15h1v1h-1zM17 15h1v1h-1zM22 15h1v1h-1zM38 15h1v1h-1zM44 15h1v1h-1zM48 15h2v1h-2z"/><path fill="#c1ff35" d="M6 7h1v1h-1zM14 7h1v1h-1zM28 7h1v1h-1zM48 7h1v1h-1zM2 15h1v1h-1zM10 15h1v1h-1zM26 15h1v1h-1zM45 15h1v1h-1z"/><path fill="#ffec00" d="M47 7h1v1h-1zM11 15h1v1h-1zM14 15h1v1h-1z"/><path fill="#ffb800" d="M63 3h1v1h-1zM63 4h1v1h-1zM63 5h1v1h-1zM53 7h1v1h-1zM63 9h1v1h-1zM63 10h1v1h-1zM63 11h1v1h-1z"/><path fill="#ff7100" d="M63 1h1v1h-1zM63 2h1v1h-1zM63 6h1v1h-1zM63 7h1v1h-1zM63 8h1v1h-1zM63 12h1v1h-1zM63 13h1v1h-1z"/><path fill="#ff3400" d="M63 0h1v1h-1zM46 7h1v1h-1zM63 14h1v1h-1z"/><path fill="#dc0000" d="M13 15h1v1h-1z"/><path fill="#910000" d="M63 15h1v1h-1z"/></g>
</g>
<rect x="1809.60" y="337.40" width="11.30" height="223.10" fill="url(#jet)"/>
<g filter="url(#tb)">
<rect x="1491.90" y="337.40" width="299.10" height="223.10" fill="none" stroke="#333" stroke-width="0.7"/>
<rect x="1809.60" y="337.40" width="11.30" height="223.10" fill="none" stroke="#333" stroke-width="0.7"/>
<text class="t" x="1487.30" y="556.13" text-anchor="end">0</text>
<text class="t" x="1487.30" y="528.24" text-anchor="end">2</text>
<text class="t" x="1487.30" y="500.35" text-anchor="end">4</text>
<text class="t" x="1487.30" y="472.47" text-anchor="end">6</text>
<text class="t" x="1487.30" y="444.58" text-anchor="end">8</text>
<text class="t" x="1487.30" y="416.69" text-anchor="end">10</text>
<text class="t" x="1487.30" y="388.80" text-anchor="end">12</text>
<text class="t" x="1487.30" y="360.92" text-anchor="end">14</text>
<text class="t" x="1494.24" y="570.70" text-anchor="middle">0</text>
<text class="t" x="1540.97" y="570.70" text-anchor="middle">10</text>
<text class="t" x="1587.71" y="570.70" text-anchor="middle">20</text>
<text class="t" x="1634.44" y="570.70" text-anchor="middle">30</text>
<text class="t" x="1681.17" y="570.70" text-anchor="middle">40</text>
<text class="t" x="1727.91" y="570.70" text-anchor="middle">50</text>
<text class="t" x="1774.64" y="570.70" text-anchor="middle">60</text>
<text class="t" x="1825.10" y="343.75">100</text>
<text class="t" x="1825.10" y="370.75">90</text>
<text class="t" x="1825.10" y="398.00">80</text>
<text class="t" x="1825.10" y="425.25">70</text>
<text class="t" x="1825.10" y="452.50">60</text>
<text class="t" x="1825.10" y="479.75">50</text>
<text class="t" x="1825.10" y="507.00">40</text>
<text class="t" x="1825.10" y="534.50">30</text>
<text class="t" x="1825.10" y="561.25">20</text>
<path d="M1491.90 553.53h-2.6M1491.90 525.64h-2.6M1491.90 497.75h-2.6M1491.90 469.87h-2.6M1491.90 441.98h-2.6M1491.90 414.09h-2.6M1491.90 386.20h-2.6M1491.90 358.32h-2.6M1494.24 560.50v2.6M1540.97 560.50v2.6M1587.71 560.50v2.6M1634.44 560.50v2.6M1681.17 560.50v2.6M1727.91 560.50v2.6M1774.64 560.50v2.6M1820.90 341.15h2.6M1820.90 368.15h2.6M1820.90 395.40h2.6M1820.90 422.65h2.6M1820.90 449.90h2.6M1820.90 477.15h2.6M1820.90 504.40h2.6M1820.90 531.90h2.6M1820.90 558.65h2.6" stroke="#222" stroke-width="0.6" fill="none"/>
<text class="t" x="1641.45" y="580.00" text-anchor="middle">Time</text>
<text class="t" transform="translate(1474.90 448.95) rotate(-90)" text-anchor="middle">Frequency</text>
<text class="t" transform="translate(1845.90 448.95) rotate(-90)" text-anchor="middle">Magnitude</text>
</g>
<text class="c" filter="url(#cb)" x="1655.75" y="620.90">(h)</text>
</g>
<g id="panel-i">
<g filter="url(#hb)" shape-rendering="crispEdges"><rect x="28.30" y="662.20" width="299.10" height="223.10" fill="#0040ff"/>
<g transform="translate(28.30 662.20) scale(4.67344 13.94375)" shape-rendering="crispEdges"><path fill="#000080" d="M4 5h1v1h-1zM8 5h1v1h-1zM12 5h1v1h-1zM16 5h1v1h-1zM20 5h1v1h-1zM23 5h1v1h-1zM27 5h1v1h-1zM31 5h1v1h-1zM35 5h1v1h-1zM39 5h1v1h-1zM43 5h1v1h-1zM47 5h1v1h-1zM51 5h1v1h-1zM55 5h1v1h-1zM4 9h1v1h-1zM8 9h1v1h-1zM12 9h1v1h-1zM16 9h1v1h-1zM20 9h1v1h-1zM23 9h1v1h-1zM27 9h1v1h-1zM31 9h1v1h-1zM35 9h1v1h-1zM39 9h1v1h-1zM43 9h1v1h-1zM47 9h1v1h-1zM51 9h1v1h-1zM55 9h1v1h-1z"/><path fill="#0000b9" d="M4 4h1v1h-1zM8 4h1v1h-1zM12 4h1v1h-1zM16 4h1v1h-1zM20 4h1v1h-1zM23 4h2v1h-2zM27 4h1v1h-1zM31 4h1v1h-1zM35 4h1v1h-1zM39 4h1v1h-1zM43 4h1v1h-1zM47 4h1v1h-1zM51 4h1v1h-1zM55 4h1v1h-1zM58 4h2v1h-2zM19 5h1v1h-1zM24 5h1v1h-1zM28 5h1v1h-1zM58 5h2v1h-2zM4 6h1v1h-1zM8 6h1v1h-1zM12 6h1v1h-1zM16 6h1v1h-1zM19 6h2v1h-2zM23 6h2v1h-2zM27 6h1v1h-1zM31 6h1v1h-1zM35 6h1v1h-1zM39 6h1v1h-1zM43 6h1v1h-1zM47 6h1v1h-1zM51 6h1v1h-1zM55 6h1v1h-1zM58 6h2v1h-2zM4 8h1v1h-1zM8 8h1v1h-1zM12 8h1v1h-1zM16 8h1v1h-1zM19 8h2v1h-2zM23 8h2v1h-2zM27 8h1v1h-1zM31 8h1v1h-1zM35 8h1v1h-1zM39 8h1v1h-1zM43 8h1v1h-1zM47 8h1v1h-1zM51 8h1v1h-1zM55 8h1v1h-1zM58 8h2v1h-2zM19 9h1v1h-1zM24 9h1v1h-1zM28 9h1v1h-1zM58 9h2v1h-2zM4 10h1v1h-1zM8 10h1v1h-1zM12 10h1v1h-1zM16 10h1v1h-1zM20 10h1v1h-1zM23 10h2v1h-2zM27 10h1v1h-1zM31 10h1v1h-1zM35 10h1v1h-1zM39 10h1v1h-1zM43 10h1v1h-1zM47 10h1v1h-1zM51 10h1v1h-1zM55 10h1v1h-1zM58 10h2v1h-2z"/><path fill="#0000ff" d="M62 3h1v1h-1zM0 4h1v1h-1zM3 4h1v1h-1zM7 4h1v1h-1zM11 4h1v1h-1zM15 4h1v1h-1zM19 4h1v1h-1zM28 4h1v1h-1zM46 4h1v1h-1zM50 4h1v1h-1zM54 4h1v1h-1zM62 4h1v1h-1zM0 5h1v1h-1zM3 5h1v1h-1zM7 5h1v1h-1zM11 5h1v1h-1zM15 5h1v1h-1zM32 5h1v1h-1zM36 5h1v1h-1zM40 5h1v1h-1zM42 5h1v1h-1zM46 5h1v1h-1zM50 5h1v1h-1zM54 5h1v1h-1zM62 5h1v1h-1zM0 6h1v1h-1zM11 6h1v1h-1zM15 6h1v1h-1zM28 6h1v1h-1zM32 6h1v1h-1zM36 6h1v1h-1zM40 6h1v1h-1zM44 6h1v1h-1zM46 6h1v1h-1zM50 6h1v1h-1zM54 6h1v1h-1zM60 6h3v1h-3zM0 7h11v1h-11zM12 7h3v1h-3zM16 7h3v1h-3zM21 7h2v1h-2zM25 7h3v1h-3zM29 7h2v1h-2zM33 7h21v1h-21zM55 7h3v1h-3zM60 7h3v1h-3zM0 8h1v1h-1zM11 8h1v1h-1zM15 8h1v1h-1zM28 8h1v1h-1zM32 8h1v1h-1zM36 8h1v1h-1zM40 8h1v1h-1zM44 8h1v1h-1zM46 8h1v1h-1zM50 8h1v1h-1zM54 8h1v1h-1zM60 8h3v1h-3zM0 9h1v1h-1zM3 9h1v1h-1zM7 9h1v1h-1zM11 9h1v1h-1zM15 9h1v1h-1zM32 9h1v1h-1zM36 9h1v1h-1zM40 9h1v1h-1zM42 9h1v1h-1zM46 9h1v1h-1zM50 9h1v1h-1zM54 9h1v1h-1zM62 9h1v1h-1zM0 10h1v1h-1zM3 10h1v1h-1zM7 10h1v1h-1zM11 10h1v1h-1zM15 10h1v1h-1zM19 10h1v1h-1zM28 10h1v1h-1zM46 10h1v1h-1zM50 10h1v1h-1zM54 10h1v1h-1zM62 10h1v1h-1zM62 11h1v1h-1z"/><path fill="#0029ff" d="M0 0h1v1h-1zM0 1h1v1h-1zM0 2h1v1h-1zM0 3h1v1h-1zM4 3h1v1h-1zM8 3h1v1h-1zM12 3h1v1h-1zM27 3h1v1h-1zM31 3h1v1h-1zM35 3h1v1h-1zM39 3h1v1h-1zM43 3h1v1h-1zM47 3h1v1h-1zM51 3h1v1h-1zM1 4h1v1h-1zM5 4h1v1h-1zM9 4h1v1h-1zM32 4h1v1h-1zM34 4h1v1h-1zM36 4h1v1h-1zM38 4h1v1h-1zM40 4h1v1h-1zM42 4h1v1h-1zM44 4h1v1h-1zM48 4h1v1h-1zM52 4h1v1h-1zM56 4h1v1h-1zM1 5h1v1h-1zM5 5h1v1h-1zM9 5h1v1h-1zM26 5h1v1h-1zM30 5h1v1h-1zM34 5h1v1h-1zM38 5h1v1h-1zM44 5h1v1h-1zM48 5h1v1h-1zM52 5h1v1h-1zM56 5h1v1h-1zM60 5h2v1h-2zM1 6h1v1h-1zM3 6h1v1h-1zM5 6h1v1h-1zM7 6h1v1h-1zM9 6h1v1h-1zM13 6h2v1h-2zM17 6h2v1h-2zM21 6h2v1h-2zM25 6h2v1h-2zM29 6h2v1h-2zM33 6h2v1h-2zM38 6h1v1h-1zM42 6h1v1h-1zM48 6h2v1h-2zM52 6h2v1h-2zM56 6h2v1h-2zM11 7h1v1h-1zM20 7h1v1h-1zM23 7h1v1h-1zM31 7h2v1h-2zM54 7h1v1h-1zM59 7h1v1h-1zM1 8h1v1h-1zM3 8h1v1h-1zM5 8h1v1h-1zM7 8h1v1h-1zM9 8h1v1h-1zM13 8h2v1h-2zM17 8h2v1h-2zM21 8h2v1h-2zM25 8h2v1h-2zM29 8h2v1h-2zM33 8h2v1h-2zM38 8h1v1h-1zM42 8h1v1h-1zM48 8h2v1h-2zM52 8h2v1h-2zM56 8h2v1h-2zM1 9h1v1h-1zM5 9h1v1h-1zM9 9h1v1h-1zM26 9h1v1h-1zM30 9h1v1h-1zM34 9h1v1h-1zM38 9h1v1h-1zM44 9h1v1h-1zM48 9h1v1h-1zM52 9h1v1h-1zM56 9h1v1h-1zM60 9h2v1h-2zM1 10h1v1h-1zM5 10h1v1h-1zM9 10h1v1h-1zM32 10h1v1h-1zM34 10h1v1h-1zM36 10h1v1h-1zM38 10h1v1h-1zM40 10h1v1h-1zM42 10h1v1h-1zM44 10h1v1h-1zM48 10h1v1h-1zM52 10h1v1h-1zM56 10h1v1h-1zM0 11h1v1h-1zM4 11h1v1h-1zM8 11h1v1h-1zM12 11h1v1h-1zM27 11h1v1h-1zM31 11h1v1h-1zM35 11h1v1h-1zM39 11h1v1h-1zM43 11h1v1h-1zM47 11h1v1h-1zM51 11h1v1h-1zM0 12h1v1h-1zM0 13h1v1h-1zM0 14h1v1h-1zM0 15h1v1h-1z"/><path fill="#0075ff" d="M62 0h2v1h-2zM62 1h2v1h-2zM62 2h2v1h-2zM3 3h1v1h-1zM7 3h1v1h-1zM11 3h1v1h-1zM15 3h2v1h-2zM19 3h2v1h-2zM23 3h2v1h-2zM28 3h1v1h-1zM32 3h1v1h-1zM36 3h1v1h-1zM42 3h1v1h-1zM46 3h1v1h-1zM50 3h1v1h-1zM54 3h2v1h-2zM58 3h2v1h-2zM63 3h1v1h-1zM13 4h1v1h-1zM26 4h1v1h-1zM30 4h1v1h-1zM63 4h1v1h-1zM10 5h1v1h-1zM13 5h2v1h-2zM17 5h2v1h-2zM21 5h2v1h-2zM25 5h1v1h-1zM29 5h1v1h-1zM33 5h1v1h-1zM53 5h1v1h-1zM57 5h1v1h-1zM63 5h1v1h-1zM2 6h1v1h-1zM6 6h1v1h-1zM10 6h1v1h-1zM37 6h1v1h-1zM41 6h1v1h-1zM45 6h1v1h-1zM63 6h1v1h-1zM28 7h1v1h-1zM63 7h1v1h-1zM2 8h1v1h-1zM6 8h1v1h-1zM10 8h1v1h-1zM37 8h1v1h-1zM41 8h1v1h-1zM45 8h1v1h-1zM63 8h1v1h-1zM10 9h1v1h-1zM13 9h2v1h-2zM17 9h2v1h-2zM21 9h2v1h-2zM25 9h1v1h-1zM29 9h1v1h-1zM33 9h1v1h-1zM53 9h1v1h-1zM57 9h1v1h-1zM63 9h1v1h-1zM13 10h1v1h-1zM26 10h1v1h-1zM30 10h1v1h-1zM63 10h1v1h-1zM3 11h1v1h-1zM7 11h1v1h-1zM11 11h1v1h-1zM15 11h2v1h-2zM19 11h2v1h-2zM23 11h2v1h-2zM28 11h1v1h-1zM32 11h1v1h-1zM36 11h1v1h-1zM42 11h1v1h-1zM46 11h1v1h-1zM50 11h1v1h-1zM54 11h2v1h-2zM58 11h2v1h-2zM63 11h1v1h-1zM62 12h2v1h-2zM62 13h2v1h-2zM62 14h2v1h-2zM62 15h2v1h-2z"/><path fill="#00bdff" d="M38 3h1v1h-1zM40 3h1v1h-1zM17 4h1v1h-1zM21 4h2v1h-2zM60 4h2v1h-2zM2 5h1v1h-1zM6 5h1v1h-1zM37 5h1v1h-1zM41 5h1v1h-1zM45 5h1v1h-1zM49 5h1v1h-1zM15 7h1v1h-1zM2 9h1v1h-1zM6 9h1v1h-1zM37 9h1v1h-1zM41 9h1v1h-1zM45 9h1v1h-1zM49 9h1v1h-1zM17 10h1v1h-1zM21 10h2v1h-2zM60 10h2v1h-2zM38 11h1v1h-1zM40 11h1v1h-1z"/><path fill="#08f0ef" d="M1 3h1v1h-1zM5 3h1v1h-1zM9 3h1v1h-1zM13 3h1v1h-1zM30 3h1v1h-1zM34 3h1v1h-1zM44 3h1v1h-1zM48 3h1v1h-1zM52 3h1v1h-1zM56 3h1v1h-1zM14 4h1v1h-1zM18 4h1v1h-1zM25 4h1v1h-1zM29 4h1v1h-1zM57 4h1v1h-1zM19 7h1v1h-1zM24 7h1v1h-1zM58 7h1v1h-1zM14 10h1v1h-1zM18 10h1v1h-1zM25 10h1v1h-1zM29 10h1v1h-1zM57 10h1v1h-1zM1 11h1v1h-1zM5 11h1v1h-1zM9 11h1v1h-1zM13 11h1v1h-1zM30 11h1v1h-1zM34 11h1v1h-1zM44 11h1v1h-1zM48 11h1v1h-1zM52 11h1v1h-1zM56 11h1v1h-1z"/><path fill="#3effb9" d="M1 0h1v1h-1zM3 0h1v1h-1zM5 0h1v1h-1zM7 0h1v1h-1zM9 0h1v1h-1zM38 0h1v1h-1zM40 0h1v1h-1zM42 0h1v1h-1zM44 0h1v1h-1zM46 0h1v1h-1zM48 0h1v1h-1zM1 1h1v1h-1zM3 1h1v1h-1zM5 1h1v1h-1zM9 1h1v1h-1zM38 1h1v1h-1zM40 1h1v1h-1zM42 1h1v1h-1zM44 1h1v1h-1zM46 1h1v1h-1zM48 1h1v1h-1zM3 2h1v1h-1zM9 2h1v1h-1zM38 2h1v1h-1zM40 2h1v1h-1zM42 2h1v1h-1zM17 3h2v1h-2zM21 3h2v1h-2zM26 3h1v1h-1zM60 3h2v1h-2zM6 4h1v1h-1zM10 4h1v1h-1zM33 4h1v1h-1zM49 4h1v1h-1zM53 4h1v1h-1zM6 10h1v1h-1zM10 10h1v1h-1zM33 10h1v1h-1zM49 10h1v1h-1zM53 10h1v1h-1zM17 11h2v1h-2zM21 11h2v1h-2zM26 11h1v1h-1zM60 11h2v1h-2zM3 12h1v1h-1zM9 12h1v1h-1zM38 12h1v1h-1zM40 12h1v1h-1zM42 12h1v1h-1zM1 13h1v1h-1zM3 13h1v1h-1zM5 13h1v1h-1zM9 13h1v1h-1zM38 13h1v1h-1zM40 13h1v1h-1zM42 13h1v1h-1zM44 13h1v1h-1zM46 13h1v1h-1zM48 13h1v1h-1zM1 14h1v1h-1zM3 14h1v1h-1zM5 14h1v1h-1zM7 14h1v1h-1zM9 14h1v1h-1zM38 14h1v1h-1zM40 14h1v1h-1zM42 14h1v1h-1zM44 14h1v1h-1zM46 14h1v1h-1zM48 14h1v1h-1zM1 15h1v1h-1zM3 15h1v1h-1zM5 15h1v1h-1zM7 15h1v1h-1zM9 15h1v1h-1zM38 15h1v1h-1zM40 15h1v1h-1zM42 15h1v1h-1zM44 15h1v1h-1zM46 15h1v1h-1zM48 15h1v1h-1z"/><path fill="#84ff73" d="M50 0h1v1h-1zM52 0h1v1h-1zM7 1h1v1h-1zM50 1h1v1h-1zM52 1h1v1h-1zM1 2h1v1h-1zM4 2h2v1h-2zM8 2h1v1h-1zM11 2h3v1h-3zM15 2h2v1h-2zM19 2h2v1h-2zM22 2h3v1h-3zM26 2h3v1h-3zM30 2h3v1h-3zM34 2h3v1h-3zM39 2h1v1h-1zM43 2h2v1h-2zM46 2h3v1h-3zM51 2h2v1h-2zM54 2h2v1h-2zM58 2h2v1h-2zM6 3h1v1h-1zM10 3h1v1h-1zM14 3h1v1h-1zM25 3h1v1h-1zM29 3h1v1h-1zM49 3h1v1h-1zM53 3h1v1h-1zM57 3h1v1h-1zM2 4h1v1h-1zM37 4h1v1h-1zM41 4h1v1h-1zM45 4h1v1h-1zM2 10h1v1h-1zM37 10h1v1h-1zM41 10h1v1h-1zM45 10h1v1h-1zM6 11h1v1h-1zM10 11h1v1h-1zM14 11h1v1h-1zM25 11h1v1h-1zM29 11h1v1h-1zM49 11h1v1h-1zM53 11h1v1h-1zM57 11h1v1h-1zM1 12h1v1h-1zM4 12h2v1h-2zM8 12h1v1h-1zM11 12h3v1h-3zM15 12h2v1h-2zM19 12h2v1h-2zM22 12h3v1h-3zM26 12h3v1h-3zM30 12h3v1h-3zM34 12h3v1h-3zM39 12h1v1h-1zM43 12h2v1h-2zM46 12h3v1h-3zM51 12h2v1h-2zM54 12h2v1h-2zM58 12h2v1h-2zM7 13h1v1h-1zM50 13h1v1h-1zM52 13h1v1h-1zM50 14h1v1h-1zM52 14h1v1h-1zM50 15h1v1h-1zM52 15h1v1h-1z"/><path fill="#c1ff35" d="M8 0h1v1h-1zM10 0h4v1h-4zM19 0h1v1h-1zM21 0h6v1h-6zM28 0h1v1h-1zM34 0h4v1h-4zM39 0h1v1h-1zM49 0h1v1h-1zM51 0h1v1h-1zM53 0h4v1h-4zM8 1h1v1h-1zM10 1h4v1h-4zM19 1h1v1h-1zM21 1h6v1h-6zM28 1h1v1h-1zM34 1h4v1h-4zM39 1h1v1h-1zM49 1h1v1h-1zM51 1h1v1h-1zM53 1h4v1h-4zM6 2h1v1h-1zM10 2h1v1h-1zM17 2h2v1h-2zM49 2h2v1h-2zM53 2h1v1h-1zM56 2h1v1h-1zM61 2h1v1h-1zM33 3h1v1h-1zM45 3h1v1h-1zM33 11h1v1h-1zM45 11h1v1h-1zM6 12h1v1h-1zM10 12h1v1h-1zM17 12h2v1h-2zM49 12h2v1h-2zM53 12h1v1h-1zM56 12h1v1h-1zM61 12h1v1h-1zM8 13h1v1h-1zM10 13h4v1h-4zM19 13h1v1h-1zM21 13h6v1h-6zM28 13h1v1h-1zM34 13h4v1h-4zM39 13h1v1h-1zM49 13h1v1h-1zM51 13h1v1h-1zM53 13h4v1h-4zM8 14h1v1h-1zM10 14h4v1h-4zM19 14h1v1h-1zM21 14h6v1h-6zM28 14h1v1h-1zM34 14h4v1h-4zM39 14h1v1h-1zM49 14h1v1h-1zM51 14h1v1h-1zM53 14h4v1h-4zM8 15h1v1h-1zM10 15h4v1h-4zM19 15h1v1h-1zM21 15h6v1h-6zM28 15h1v1h-1zM34 15h4v1h-4zM39 15h1v1h-1zM49 15h1v1h-1zM51 15h1v1h-1zM53 15h4v1h-4z"/><path fill="#ffec00" d="M6 0h1v1h-1zM14 0h1v1h-1zM16 0h1v1h-1zM31 0h1v1h-1zM33 0h1v1h-1zM41 0h1v1h-1zM47 0h1v1h-1zM58 0h1v1h-1zM60 0h2v1h-2zM6 1h1v1h-1zM14 1h1v1h-1zM16 1h1v1h-1zM18 1h1v1h-1zM20 1h1v1h-1zM31 1h1v1h-1zM33 1h1v1h-1zM47 1h1v1h-1zM58 1h1v1h-1zM60 1h2v1h-2zM14 2h1v1h-1zM25 2h1v1h-1zM37 2h1v1h-1zM45 2h1v1h-1zM57 2h1v1h-1zM2 3h1v1h-1zM2 11h1v1h-1zM14 12h1v1h-1zM25 12h1v1h-1zM37 12h1v1h-1zM45 12h1v1h-1zM57 12h1v1h-1zM6 13h1v1h-1zM14 13h1v1h-1zM16 13h1v1h-1zM18 13h1v1h-1zM20 13h1v1h-1zM31 13h1v1h-1zM33 13h1v1h-1zM47 13h1v1h-1zM58 13h1v1h-1zM60 13h2v1h-2zM6 14h1v1h-1zM14 14h1v1h-1zM16 14h1v1h-1zM31 14h1v1h-1zM33 14h1v1h-1zM41 14h1v1h-1zM47 14h1v1h-1zM58 14h1v1h-1zM60 14h2v1h-2zM6 15h1v1h-1zM14 15h1v1h-1zM16 15h1v1h-1zM31 15h1v1h-1zM33 15h1v1h-1zM47 15h1v1h-1zM58 15h1v1h-1zM61 15h1v1h-1z"/><path fill="#ffb800" d="M4 0h1v1h-1zM15 0h1v1h-1zM17 0h1v1h-1zM20 0h1v1h-1zM32 0h1v1h-1zM57 0h1v1h-1zM59 0h1v1h-1zM4 1h1v1h-1zM15 1h1v1h-1zM17 1h1v1h-1zM30 1h1v1h-1zM32 1h1v1h-1zM41 1h1v1h-1zM57 1h1v1h-1zM59 1h1v1h-1zM7 2h1v1h-1zM21 2h1v1h-1zM29 2h1v1h-1zM33 2h1v1h-1zM60 2h1v1h-1zM37 3h1v1h-1zM41 3h1v1h-1zM37 11h1v1h-1zM41 11h1v1h-1zM7 12h1v1h-1zM21 12h1v1h-1zM29 12h1v1h-1zM33 12h1v1h-1zM60 12h1v1h-1zM4 13h1v1h-1zM15 13h1v1h-1zM17 13h1v1h-1zM30 13h1v1h-1zM32 13h1v1h-1zM41 13h1v1h-1zM57 13h1v1h-1zM59 13h1v1h-1zM4 14h1v1h-1zM15 14h1v1h-1zM17 14h1v1h-1zM20 14h1v1h-1zM32 14h1v1h-1zM57 14h1v1h-1zM59 14h1v1h-1zM4 15h1v1h-1zM15 15h1v1h-1zM17 15h1v1h-1zM20 15h1v1h-1zM32 15h1v1h-1zM41 15h1v1h-1zM57 15h1v1h-1zM59 15h2v1h-2z"/><path fill="#ff7100" d="M18 0h1v1h-1zM27 0h1v1h-1zM30 0h1v1h-1zM43 0h1v1h-1zM45 0h1v1h-1zM27 1h1v1h-1zM45 1h1v1h-1zM2 2h1v1h-1zM41 2h1v1h-1zM2 12h1v1h-1zM41 12h1v1h-1zM27 13h1v1h-1zM45 13h1v1h-1zM18 14h1v1h-1zM27 14h1v1h-1zM30 14h1v1h-1zM43 14h1v1h-1zM45 14h1v1h-1zM18 15h1v1h-1zM27 15h1v1h-1zM30 15h1v1h-1zM43 15h1v1h-1zM45 15h1v1h-1z"/><path fill="#ff3400" d="M2 0h1v1h-1zM2 1h1v1h-1zM43 1h1v1h-1zM2 13h1v1h-1zM43 13h1v1h-1zM2 14h1v1h-1zM2 15h1v1h-1z"/><path fill="#dc0000" d="M29 0h1v1h-1zM29 14h1v1h-1zM29 15h1v1h-1z"/><path fill="#910000" d="M29 1h1v1h-1zM29 13h1v1h-1z"/></g>
</g>
<rect x="346.00" y="662.20" width="11.30" height="223.10" fill="url(#jet)"/>
<g filter="url(#tb)">
<rect x="28.30" y="662.20" width="299.10" height="223.10" fill="none" stroke="#333" stroke-width="0.7"/>
<rect x="346.00" y="662.20" width="11.30" height="223.10" fill="none" stroke="#333" stroke-width="0.7"/>
<text class="t" x="23.70" y="880.93" text-anchor="end">0</text>
<text class="t" x="23.70" y="853.04" text-anchor="end">2</text>
<text class="t" x="23.70" y="825.15" text-anchor="end">4</text>
<text class="t" x="23.70" y="797.27" text-anchor="end">6</text>
<text class="t" x="23.70" y="769.38" text-anchor="end">8</text>
<text class="t" x="23.70" y="741.49" text-anchor="end">10</text>
<text class="t" x="23.70" y="713.60" text-anchor="end">12</text>
<text class="t" x="23.70" y="685.72" text-anchor="end">14</text>
<text class="t" x="30.64" y="895.50" text-anchor="middle">0</text>
<text class="t" x="77.37" y="895.50" text-anchor="middle">10</text>
<text class="t" x="124.11" y="895.50" text-anchor="middle">20</text>
<text class="t" x="170.84" y="895.50" text-anchor="middle">30</text>
<text class="t" x="217.57" y="895.50" text-anchor="middle">40</text>
<text class="t" x="264.31" y="895.50" text-anchor="middle">50</text>
<text class="t" x="311.04" y="895.50" text-anchor="middle">60</text>
<text class="t" x="361.50" y="682.30">160</text>
<text class="t" x="361.50" y="708.55">140</text>
<text class="t" x="361.50" y="735.05">120</text>
<text class="t" x="361.50" y="761.55">100</text>
<text class="t" x="361.50" y="787.80">80</text>
<text class="t" x="361.50" y="814.05">60</text>
<text class="t" x="361.50" y="840.55">40</text>
<text class="t" x="361.50" y="866.80">20</text>
<path d="M28.30 878.33h-2.6M28.30 850.44h-2.6M28.30 822.55h-2.6M28.30 794.67h-2.6M28.30 766.78h-2.6M28.30 738.89h-2.6M28.30 711.00h-2.6M28.30 683.12h-2.6M30.64 885.30v2.6M77.37 885.30v2.6M124.11 885.30v2.6M170.84 885.30v2.6M217.57 885.30v2.6M264.31 885.30v2.6M311.04 885.30v2.6M357.30 679.70h2.6M357.30 705.95h2.6M357.30 732.45h2.6M357.30 758.95h2.6M357.30 785.20h2.6M357.30 811.45h2.6M357.30 837.95h2.6M357.30 864.20h2.6" stroke="#222" stroke-width="0.6" fill="none"/>
<text class="t" x="177.85" y="904.80" text-anchor="middle">Time</text>
<text class="t" transform="translate(11.30 773.75) rotate(-90)" text-anchor="middle">Frequency</text>
<text class="t" transform="translate(382.30 773.75) rotate(-90)" text-anchor="middle">Magnitude</text>
</g>
<text class="c" filter="url(#cb)" x="180.00" y="945.90">(i)</text>
</g>
<g id="panel-j">
<g filter="url(#hb)" shape-rendering="crispEdges"><rect x="519.30" y="662.20" width="299.10" height="223.10" fill="#0040ff"/>
<g transform="translate(519.30 662.20) scale(4.67344 13.94375)" shape-rendering="crispEdges"><path fill="#000080" d="M54 5h1v1h-1zM54 9h1v1h-1z"/><path fill="#0000b9" d="M58 4h1v1h-1zM7 5h1v1h-1zM11 5h1v1h-1zM15 5h1v1h-1zM19 5h1v1h-1zM23 5h1v1h-1zM27 5h1v1h-1zM58 5h1v1h-1zM62 5h1v1h-1zM7 9h1v1h-1zM11 9h1v1h-1zM15 9h1v1h-1zM19 9h1v1h-1zM23 9h1v1h-1zM27 9h1v1h-1zM58 9h1v1h-1zM62 9h1v1h-1zM58 10h1v1h-1z"/><path fill="#0000ff" d="M3 4h1v1h-1zM7 4h1v1h-1zM11 4h1v1h-1zM15 4h1v1h-1zM19 4h1v1h-1zM30 4h2v1h-2zM42 4h1v1h-1zM46 4h1v1h-1zM50 4h1v1h-1zM54 4h1v1h-1zM62 4h1v1h-1zM3 5h1v1h-1zM31 5h1v1h-1zM35 5h1v1h-1zM42 5h2v1h-2zM46 5h1v1h-1zM50 5h1v1h-1zM7 6h1v1h-1zM11 6h2v1h-2zM15 6h1v1h-1zM27 6h1v1h-1zM30 6h2v1h-2zM38 6h1v1h-1zM42 6h2v1h-2zM46 6h1v1h-1zM54 6h1v1h-1zM57 6h2v1h-2zM62 6h1v1h-1zM57 7h1v1h-1zM7 8h1v1h-1zM11 8h2v1h-2zM15 8h1v1h-1zM27 8h1v1h-1zM30 8h2v1h-2zM38 8h1v1h-1zM42 8h2v1h-2zM46 8h1v1h-1zM54 8h1v1h-1zM57 8h2v1h-2zM62 8h1v1h-1zM3 9h1v1h-1zM31 9h1v1h-1zM35 9h1v1h-1zM42 9h2v1h-2zM46 9h1v1h-1zM50 9h1v1h-1zM3 10h1v1h-1zM7 10h1v1h-1zM11 10h1v1h-1zM15 10h1v1h-1zM19 10h1v1h-1zM30 10h2v1h-2zM42 10h1v1h-1zM46 10h1v1h-1zM50 10h1v1h-1zM54 10h1v1h-1zM62 10h1v1h-1z"/><path fill="#0029ff" d="M13 1h1v1h-1zM10 2h2v1h-2zM3 3h1v1h-1zM11 3h1v1h-1zM19 3h1v1h-1zM35 3h1v1h-1zM58 3h1v1h-1zM1 4h1v1h-1zM4 4h1v1h-1zM23 4h1v1h-1zM26 4h2v1h-2zM39 4h1v1h-1zM43 4h1v1h-1zM61 4h1v1h-1zM38 5h2v1h-2zM3 6h1v1h-1zM19 6h1v1h-1zM23 6h1v1h-1zM39 6h1v1h-1zM50 6h2v1h-2zM55 6h1v1h-1zM61 6h1v1h-1zM42 7h3v1h-3zM61 7h1v1h-1zM3 8h1v1h-1zM19 8h1v1h-1zM23 8h1v1h-1zM39 8h1v1h-1zM50 8h2v1h-2zM55 8h1v1h-1zM61 8h1v1h-1zM38 9h2v1h-2zM1 10h1v1h-1zM4 10h1v1h-1zM23 10h1v1h-1zM26 10h2v1h-2zM39 10h1v1h-1zM43 10h1v1h-1zM61 10h1v1h-1zM3 11h1v1h-1zM11 11h1v1h-1zM19 11h1v1h-1zM35 11h1v1h-1zM58 11h1v1h-1zM10 12h2v1h-2zM13 13h1v1h-1zM49 15h1v1h-1z"/><path fill="#0075ff" d="M13 0h1v1h-1zM20 0h1v1h-1zM22 0h1v1h-1zM34 0h1v1h-1zM37 0h1v1h-1zM49 0h1v1h-1zM3 1h2v1h-2zM9 1h1v1h-1zM20 1h1v1h-1zM22 1h2v1h-2zM35 1h1v1h-1zM37 1h1v1h-1zM42 1h2v1h-2zM51 1h1v1h-1zM1 2h1v1h-1zM3 2h1v1h-1zM7 2h1v1h-1zM18 2h2v1h-2zM31 2h1v1h-1zM44 2h1v1h-1zM53 2h1v1h-1zM1 3h2v1h-2zM6 3h2v1h-2zM10 3h1v1h-1zM23 3h2v1h-2zM26 3h2v1h-2zM38 3h1v1h-1zM42 3h2v1h-2zM47 3h3v1h-3zM53 3h2v1h-2zM12 4h1v1h-1zM14 4h1v1h-1zM32 4h1v1h-1zM34 4h2v1h-2zM38 4h1v1h-1zM51 4h1v1h-1zM57 4h1v1h-1zM34 5h1v1h-1zM47 5h1v1h-1zM57 5h1v1h-1zM4 6h1v1h-1zM8 6h1v1h-1zM20 6h1v1h-1zM26 6h1v1h-1zM29 6h1v1h-1zM35 6h1v1h-1zM37 6h1v1h-1zM41 6h1v1h-1zM53 6h1v1h-1zM6 7h1v1h-1zM11 7h1v1h-1zM13 7h2v1h-2zM18 7h3v1h-3zM22 7h2v1h-2zM30 7h1v1h-1zM38 7h1v1h-1zM50 7h1v1h-1zM55 7h1v1h-1zM60 7h1v1h-1zM4 8h1v1h-1zM8 8h1v1h-1zM20 8h1v1h-1zM26 8h1v1h-1zM29 8h1v1h-1zM35 8h1v1h-1zM37 8h1v1h-1zM41 8h1v1h-1zM53 8h1v1h-1zM34 9h1v1h-1zM47 9h1v1h-1zM57 9h1v1h-1zM12 10h1v1h-1zM14 10h1v1h-1zM32 10h1v1h-1zM34 10h2v1h-2zM38 10h1v1h-1zM51 10h1v1h-1zM57 10h1v1h-1zM1 11h2v1h-2zM6 11h2v1h-2zM10 11h1v1h-1zM23 11h2v1h-2zM26 11h2v1h-2zM38 11h1v1h-1zM42 11h2v1h-2zM47 11h3v1h-3zM53 11h2v1h-2zM1 12h1v1h-1zM3 12h1v1h-1zM7 12h1v1h-1zM18 12h2v1h-2zM31 12h1v1h-1zM44 12h1v1h-1zM53 12h1v1h-1zM3 13h2v1h-2zM9 13h1v1h-1zM20 13h1v1h-1zM22 13h2v1h-2zM35 13h1v1h-1zM37 13h1v1h-1zM42 13h2v1h-2zM51 13h1v1h-1zM13 14h1v1h-1zM20 14h1v1h-1zM22 14h1v1h-1zM34 14h1v1h-1zM37 14h1v1h-1zM49 14h1v1h-1zM0 15h1v1h-1zM3 15h1v1h-1zM10 15h1v1h-1zM25 15h1v1h-1zM27 15h1v1h-1zM29 15h1v1h-1zM34 15h1v1h-1zM43 15h1v1h-1zM60 15h1v1h-1z"/><path fill="#00bdff" d="M0 0h1v1h-1zM3 0h1v1h-1zM10 0h1v1h-1zM23 0h3v1h-3zM29 0h1v1h-1zM32 0h1v1h-1zM42 0h1v1h-1zM44 0h4v1h-4zM51 0h1v1h-1zM53 0h3v1h-3zM1 1h2v1h-2zM7 1h1v1h-1zM12 1h1v1h-1zM15 1h1v1h-1zM17 1h1v1h-1zM21 1h1v1h-1zM24 1h2v1h-2zM27 1h3v1h-3zM31 1h4v1h-4zM53 1h2v1h-2zM61 1h1v1h-1zM2 2h1v1h-1zM4 2h1v1h-1zM9 2h1v1h-1zM15 2h2v1h-2zM22 2h2v1h-2zM25 2h1v1h-1zM28 2h2v1h-2zM33 2h3v1h-3zM39 2h2v1h-2zM42 2h1v1h-1zM55 2h1v1h-1zM5 3h1v1h-1zM15 3h1v1h-1zM18 3h1v1h-1zM32 3h2v1h-2zM36 3h1v1h-1zM44 3h1v1h-1zM46 3h1v1h-1zM50 3h2v1h-2zM57 3h1v1h-1zM62 3h1v1h-1zM5 4h1v1h-1zM8 4h1v1h-1zM10 4h1v1h-1zM16 4h1v1h-1zM18 4h1v1h-1zM20 4h1v1h-1zM22 4h1v1h-1zM28 4h1v1h-1zM33 4h1v1h-1zM41 4h1v1h-1zM47 4h1v1h-1zM49 4h1v1h-1zM53 4h1v1h-1zM55 4h2v1h-2zM1 5h1v1h-1zM4 5h1v1h-1zM9 5h2v1h-2zM12 5h1v1h-1zM22 5h1v1h-1zM26 5h1v1h-1zM28 5h1v1h-1zM30 5h1v1h-1zM33 5h1v1h-1zM41 5h1v1h-1zM44 5h2v1h-2zM51 5h1v1h-1zM53 5h1v1h-1zM55 5h1v1h-1zM61 5h1v1h-1zM5 6h2v1h-2zM9 6h2v1h-2zM13 6h2v1h-2zM21 6h1v1h-1zM33 6h2v1h-2zM36 6h1v1h-1zM40 6h1v1h-1zM45 6h1v1h-1zM49 6h1v1h-1zM52 6h1v1h-1zM59 6h2v1h-2zM0 7h3v1h-3zM4 7h1v1h-1zM7 7h2v1h-2zM12 7h1v1h-1zM16 7h1v1h-1zM21 7h1v1h-1zM24 7h1v1h-1zM26 7h2v1h-2zM31 7h1v1h-1zM41 7h1v1h-1zM51 7h1v1h-1zM5 8h2v1h-2zM9 8h2v1h-2zM13 8h2v1h-2zM21 8h1v1h-1zM33 8h2v1h-2zM36 8h1v1h-1zM40 8h1v1h-1zM45 8h1v1h-1zM49 8h1v1h-1zM52 8h1v1h-1zM59 8h2v1h-2zM1 9h1v1h-1zM4 9h1v1h-1zM9 9h2v1h-2zM12 9h1v1h-1zM22 9h1v1h-1zM26 9h1v1h-1zM28 9h1v1h-1zM30 9h1v1h-1zM33 9h1v1h-1zM41 9h1v1h-1zM44 9h2v1h-2zM51 9h1v1h-1zM53 9h1v1h-1zM55 9h1v1h-1zM61 9h1v1h-1zM5 10h1v1h-1zM8 10h1v1h-1zM10 10h1v1h-1zM16 10h1v1h-1zM18 10h1v1h-1zM20 10h1v1h-1zM22 10h1v1h-1zM28 10h1v1h-1zM33 10h1v1h-1zM41 10h1v1h-1zM47 10h1v1h-1zM49 10h1v1h-1zM53 10h1v1h-1zM55 10h2v1h-2zM5 11h1v1h-1zM15 11h1v1h-1zM18 11h1v1h-1zM32 11h2v1h-2zM36 11h1v1h-1zM44 11h1v1h-1zM46 11h1v1h-1zM50 11h2v1h-2zM57 11h1v1h-1zM62 11h1v1h-1zM2 12h1v1h-1zM4 12h1v1h-1zM9 12h1v1h-1zM15 12h2v1h-2zM22 12h2v1h-2zM25 12h1v1h-1zM28 12h2v1h-2zM33 12h3v1h-3zM39 12h2v1h-2zM42 12h1v1h-1zM55 12h1v1h-1zM1 13h2v1h-2zM7 13h1v1h-1zM12 13h1v1h-1zM15 13h1v1h-1zM17 13h1v1h-1zM21 13h1v1h-1zM24 13h2v1h-2zM27 13h3v1h-3zM31 13h4v1h-4zM53 13h2v1h-2zM61 13h1v1h-1zM0 14h1v1h-1zM3 14h1v1h-1zM10 14h1v1h-1zM23 14h3v1h-3zM29 14h1v1h-1zM32 14h1v1h-1zM42 14h1v1h-1zM44 14h4v1h-4zM51 14h1v1h-1zM53 14h3v1h-3zM16 15h1v1h-1zM39 15h1v1h-1zM46 15h1v1h-1zM48 15h1v1h-1zM54 15h2v1h-2z"/><path fill="#08f0ef" d="M8 0h2v1h-2zM15 0h2v1h-2zM19 0h1v1h-1zM27 0h2v1h-2zM43 0h1v1h-1zM48 0h1v1h-1zM52 0h1v1h-1zM0 1h1v1h-1zM8 1h1v1h-1zM10 1h2v1h-2zM14 1h1v1h-1zM45 1h1v1h-1zM48 1h1v1h-1zM56 1h1v1h-1zM60 1h1v1h-1zM5 2h1v1h-1zM8 2h1v1h-1zM14 2h1v1h-1zM17 2h1v1h-1zM20 2h2v1h-2zM24 2h1v1h-1zM26 2h2v1h-2zM32 2h1v1h-1zM38 2h1v1h-1zM43 2h1v1h-1zM47 2h3v1h-3zM4 3h1v1h-1zM8 3h1v1h-1zM14 3h1v1h-1zM17 3h1v1h-1zM20 3h3v1h-3zM28 3h2v1h-2zM31 3h1v1h-1zM41 3h1v1h-1zM60 3h1v1h-1zM0 4h1v1h-1zM6 4h1v1h-1zM13 4h1v1h-1zM29 4h1v1h-1zM44 4h2v1h-2zM59 4h1v1h-1zM2 5h1v1h-1zM5 5h1v1h-1zM8 5h1v1h-1zM16 5h3v1h-3zM29 5h1v1h-1zM37 5h1v1h-1zM0 6h1v1h-1zM16 6h1v1h-1zM18 6h1v1h-1zM22 6h1v1h-1zM24 6h1v1h-1zM32 6h1v1h-1zM47 6h2v1h-2zM5 7h1v1h-1zM10 7h1v1h-1zM25 7h1v1h-1zM36 7h1v1h-1zM39 7h1v1h-1zM54 7h1v1h-1zM0 8h1v1h-1zM16 8h1v1h-1zM18 8h1v1h-1zM22 8h1v1h-1zM24 8h1v1h-1zM32 8h1v1h-1zM47 8h2v1h-2zM2 9h1v1h-1zM5 9h1v1h-1zM8 9h1v1h-1zM16 9h3v1h-3zM29 9h1v1h-1zM37 9h1v1h-1zM0 10h1v1h-1zM6 10h1v1h-1zM13 10h1v1h-1zM29 10h1v1h-1zM44 10h2v1h-2zM59 10h1v1h-1zM4 11h1v1h-1zM8 11h1v1h-1zM14 11h1v1h-1zM17 11h1v1h-1zM20 11h3v1h-3zM28 11h2v1h-2zM31 11h1v1h-1zM41 11h1v1h-1zM60 11h1v1h-1zM5 12h1v1h-1zM8 12h1v1h-1zM14 12h1v1h-1zM17 12h1v1h-1zM20 12h2v1h-2zM24 12h1v1h-1zM26 12h2v1h-2zM32 12h1v1h-1zM38 12h1v1h-1zM43 12h1v1h-1zM47 12h3v1h-3zM0 13h1v1h-1zM8 13h1v1h-1zM10 13h2v1h-2zM14 13h1v1h-1zM45 13h1v1h-1zM48 13h1v1h-1zM56 13h1v1h-1zM60 13h1v1h-1zM8 14h2v1h-2zM15 14h2v1h-2zM19 14h1v1h-1zM27 14h2v1h-2zM43 14h1v1h-1zM48 14h1v1h-1zM52 14h1v1h-1zM11 15h1v1h-1zM15 15h1v1h-1zM17 15h1v1h-1zM19 15h1v1h-1zM21 15h2v1h-2zM28 15h1v1h-1zM38 15h1v1h-1zM40 15h1v1h-1zM51 15h1v1h-1zM61 15h1v1h-1z"/><path fill="#3effb9" d="M1 0h1v1h-1zM4 0h2v1h-2zM7 0h1v1h-1zM11 0h2v1h-2zM17 0h2v1h-2zM21 0h1v1h-1zM26 0h1v1h-1zM30 0h2v1h-2zM35 0h2v1h-2zM38 0h2v1h-2zM50 0h1v1h-1zM56 0h1v1h-1zM58 0h1v1h-1zM61 0h1v1h-1zM5 1h2v1h-2zM16 1h1v1h-1zM18 1h2v1h-2zM26 1h1v1h-1zM30 1h1v1h-1zM36 1h1v1h-1zM38 1h1v1h-1zM40 1h1v1h-1zM44 1h1v1h-1zM46 1h2v1h-2zM50 1h1v1h-1zM52 1h1v1h-1zM55 1h1v1h-1zM57 1h3v1h-3zM6 2h1v1h-1zM13 2h1v1h-1zM36 2h1v1h-1zM45 2h2v1h-2zM50 2h3v1h-3zM57 2h1v1h-1zM59 2h1v1h-1zM62 2h1v1h-1zM0 3h1v1h-1zM9 3h1v1h-1zM12 3h1v1h-1zM16 3h1v1h-1zM25 3h1v1h-1zM30 3h1v1h-1zM34 3h1v1h-1zM37 3h1v1h-1zM40 3h1v1h-1zM45 3h1v1h-1zM55 3h2v1h-2zM61 3h1v1h-1zM2 4h1v1h-1zM9 4h1v1h-1zM17 4h1v1h-1zM24 4h1v1h-1zM36 4h1v1h-1zM60 4h1v1h-1zM0 5h1v1h-1zM6 5h1v1h-1zM13 5h2v1h-2zM21 5h1v1h-1zM24 5h2v1h-2zM48 5h2v1h-2zM52 5h1v1h-1zM56 5h1v1h-1zM59 5h2v1h-2zM1 6h1v1h-1zM17 6h1v1h-1zM28 6h1v1h-1zM44 6h1v1h-1zM3 7h1v1h-1zM9 7h1v1h-1zM15 7h1v1h-1zM32 7h1v1h-1zM34 7h1v1h-1zM37 7h1v1h-1zM40 7h1v1h-1zM56 7h1v1h-1zM59 7h1v1h-1zM62 7h1v1h-1zM1 8h1v1h-1zM17 8h1v1h-1zM28 8h1v1h-1zM44 8h1v1h-1zM0 9h1v1h-1zM6 9h1v1h-1zM13 9h2v1h-2zM21 9h1v1h-1zM24 9h2v1h-2zM48 9h2v1h-2zM52 9h1v1h-1zM56 9h1v1h-1zM59 9h2v1h-2zM2 10h1v1h-1zM9 10h1v1h-1zM17 10h1v1h-1zM24 10h1v1h-1zM36 10h1v1h-1zM60 10h1v1h-1zM0 11h1v1h-1zM9 11h1v1h-1zM12 11h1v1h-1zM16 11h1v1h-1zM25 11h1v1h-1zM30 11h1v1h-1zM34 11h1v1h-1zM37 11h1v1h-1zM40 11h1v1h-1zM45 11h1v1h-1zM55 11h2v1h-2zM61 11h1v1h-1zM6 12h1v1h-1zM13 12h1v1h-1zM36 12h1v1h-1zM45 12h2v1h-2zM50 12h3v1h-3zM57 12h1v1h-1zM59 12h1v1h-1zM62 12h1v1h-1zM5 13h2v1h-2zM16 13h1v1h-1zM18 13h2v1h-2zM26 13h1v1h-1zM30 13h1v1h-1zM36 13h1v1h-1zM38 13h1v1h-1zM40 13h1v1h-1zM44 13h1v1h-1zM46 13h2v1h-2zM50 13h1v1h-1zM52 13h1v1h-1zM55 13h1v1h-1zM57 13h3v1h-3zM1 14h1v1h-1zM4 14h2v1h-2zM7 14h1v1h-1zM11 14h2v1h-2zM17 14h2v1h-2zM21 14h1v1h-1zM26 14h1v1h-1zM30 14h2v1h-2zM35 14h2v1h-2zM38 14h2v1h-2zM50 14h1v1h-1zM56 14h1v1h-1zM58 14h1v1h-1zM61 14h1v1h-1zM5 15h1v1h-1zM20 15h1v1h-1zM24 15h1v1h-1zM26 15h1v1h-1zM32 15h1v1h-1zM42 15h1v1h-1zM53 15h1v1h-1zM62 15h1v1h-1z"/><path fill="#84ff73" d="M2 0h1v1h-1zM14 0h1v1h-1zM33 0h1v1h-1zM40 0h2v1h-2zM60 0h1v1h-1zM62 0h1v1h-1zM39 1h1v1h-1zM41 1h1v1h-1zM49 1h1v1h-1zM62 1h1v1h-1zM0 2h1v1h-1zM30 2h1v1h-1zM37 2h1v1h-1zM41 2h1v1h-1zM54 2h1v1h-1zM60 2h2v1h-2zM63 2h1v1h-1zM13 3h1v1h-1zM52 3h1v1h-1zM59 3h1v1h-1zM63 3h1v1h-1zM21 4h1v1h-1zM25 4h1v1h-1zM40 4h1v1h-1zM48 4h1v1h-1zM52 4h1v1h-1zM63 4h1v1h-1zM20 5h1v1h-1zM32 5h1v1h-1zM63 5h1v1h-1zM25 6h1v1h-1zM56 6h1v1h-1zM63 6h1v1h-1zM17 7h1v1h-1zM28 7h2v1h-2zM45 7h5v1h-5zM52 7h1v1h-1zM63 7h1v1h-1zM25 8h1v1h-1zM56 8h1v1h-1zM63 8h1v1h-1zM20 9h1v1h-1zM32 9h1v1h-1zM63 9h1v1h-1zM21 10h1v1h-1zM25 10h1v1h-1zM40 10h1v1h-1zM48 10h1v1h-1zM52 10h1v1h-1zM63 10h1v1h-1zM13 11h1v1h-1zM52 11h1v1h-1zM59 11h1v1h-1zM63 11h1v1h-1zM0 12h1v1h-1zM30 12h1v1h-1zM37 12h1v1h-1zM41 12h1v1h-1zM54 12h1v1h-1zM60 12h2v1h-2zM63 12h1v1h-1zM39 13h1v1h-1zM41 13h1v1h-1zM49 13h1v1h-1zM62 13h1v1h-1zM2 14h1v1h-1zM14 14h1v1h-1zM33 14h1v1h-1zM40 14h2v1h-2zM60 14h1v1h-1zM62 14h1v1h-1zM2 15h1v1h-1zM8 15h1v1h-1zM12 15h1v1h-1zM14 15h1v1h-1zM18 15h1v1h-1zM23 15h1v1h-1zM35 15h3v1h-3zM45 15h1v1h-1zM50 15h1v1h-1zM52 15h1v1h-1zM57 15h2v1h-2z"/><path fill="#c1ff35" d="M6 0h1v1h-1zM57 0h1v1h-1zM56 2h1v1h-1zM58 2h1v1h-1zM39 3h1v1h-1zM36 5h1v1h-1zM2 6h1v1h-1zM33 7h1v1h-1zM35 7h1v1h-1zM2 8h1v1h-1zM36 9h1v1h-1zM39 11h1v1h-1zM56 12h1v1h-1zM58 12h1v1h-1zM6 14h1v1h-1zM57 14h1v1h-1zM4 15h1v1h-1zM30 15h1v1h-1zM47 15h1v1h-1zM56 15h1v1h-1z"/><path fill="#ffec00" d="M63 1h1v1h-1zM12 2h1v1h-1zM37 4h1v1h-1zM40 5h1v1h-1zM40 9h1v1h-1zM37 10h1v1h-1zM12 12h1v1h-1zM63 13h1v1h-1zM6 15h1v1h-1zM9 15h1v1h-1zM63 15h1v1h-1z"/><path fill="#ffb800" d="M59 0h1v1h-1zM53 7h1v1h-1zM58 7h1v1h-1zM59 14h1v1h-1zM7 15h1v1h-1zM44 15h1v1h-1z"/><path fill="#ff7100" d="M63 0h1v1h-1zM63 14h1v1h-1zM41 15h1v1h-1z"/><path fill="#ff3400" d="M1 15h1v1h-1zM13 15h1v1h-1zM33 15h1v1h-1zM59 15h1v1h-1z"/><path fill="#910000" d="M31 15h1v1h-1z"/></g>
</g>
<rect x="837.00" y="662.20" width="11.30" height="223.10" fill="url(#jet)"/>
<g filter="url(#tb)">
<rect x="519.30" y="662.20" width="299.10" height="223.10" fill="none" stroke="#333" stroke-width="0.7"/>
<rect x="837.00" y="662.20" width="11.30" height="223.10" fill="none" stroke="#333" stroke-width="0.7"/>
<text class="t" x="514.70" y="880.93" text-anchor="end">0</text>
<text class="t" x="514.70" y="853.04" text-anchor="end">2</text>
<text class="t" x="514.70" y="825.15" text-anchor="end">4</text>
<text class="t" x="514.70" y="797.27" text-anchor="end">6</text>
<text class="t" x="514.70" y="769.38" text-anchor="end">8</text>
<text class="t" x="514.70" y="741.49" text-anchor="end">10</text>
<text class="t" x="514.70" y="713.60" text-anchor="end">12</text>
<text class="t" x="514.70" y="685.72" text-anchor="end">14</text>
<text class="t" x="521.64" y="895.50" text-anchor="middle">0</text>
<text class="t" x="568.37" y="895.50" text-anchor="middle">10</text>
<text class="t" x="615.11" y="895.50" text-anchor="middle">20</text>
<text class="t" x="661.84" y="895.50" text-anchor="middle">30</text>
<text class="t" x="708.57" y="895.50" text-anchor="middle">40</text>
<text class="t" x="755.31" y="895.50" text-anchor="middle">50</text>
<text class="t" x="802.04" y="895.50" text-anchor="middle">60</text>
<text class="t" x="852.50" y="665.80">120</text>
<text class="t" x="852.50" y="691.05">110</text>
<text class="t" x="852.50" y="716.05">100</text>
<text class="t" x="852.50" y="741.05">90</text>
<text class="t" x="852.50" y="766.30">80</text>
<text class="t" x="852.50" y="791.30">70</text>
<text class="t" x="852.50" y="816.30">60</text>
<text class="t" x="852.50" y="841.55">50</text>
<text class="t" x="852.50" y="866.55">40</text>
<path d="M519.30 878.33h-2.6M519.30 850.44h-2.6M519.30 822.55h-2.6M519.30 794.67h-2.6M519.30 766.78h-2.6M519.30 738.89h-2.6M519.30 711.00h-2.6M519.30 683.12h-2.6M521.64 885.30v2.6M568.37 885.30v2.6M615.11 885.30v2.6M661.84 885.30v2.6M708.57 885.30v2.6M755.31 885.30v2.6M802.04 885.30v2.6M848.30 663.20h2.6M848.30 688.45h2.6M848.30 713.45h2.6M848.30 738.45h2.6M848.30 763.70h2.6M848.30 788.70h2.6M848.30 813.70h2.6M848.30 838.95h2.6M848.30 863.95h2.6" stroke="#222" stroke-width="0.6" fill="none"/>
<text class="t" x="668.85" y="904.80" text-anchor="middle">Time</text>
<text class="t" transform="translate(502.30 773.75) rotate(-90)" text-anchor="middle">Frequency</text>
<text class="t" transform="translate(873.30 773.75) rotate(-90)" text-anchor="middle">Magnitude</text>
</g>
<text class="c" filter="url(#cb)" x="681.75" y="945.90">(j)</text>
</g>
<g id="panel-k">
<g filter="url(#hb)" shape-rendering="crispEdges"><rect x="1010.30" y="662.20" width="299.10" height="223.10" fill="#0040ff"/>
<g transform="translate(1010.30 662.20) scale(4.67344 13.94375)" shape-rendering="crispEdges"><path fill="#000080" d="M37 2h1v1h-1zM52 3h1v1h-1zM7 5h1v1h-1zM10 5h1v1h-1zM18 5h2v1h-2zM22 5h1v1h-1zM50 6h1v1h-1zM54 6h1v1h-1zM50 8h1v1h-1zM54 8h1v1h-1zM7 9h1v1h-1zM10 9h1v1h-1zM18 9h2v1h-2zM22 9h1v1h-1zM52 11h1v1h-1zM37 12h1v1h-1zM30 15h1v1h-1zM49 15h1v1h-1z"/><path fill="#0000b9" d="M31 0h1v1h-1zM40 0h2v1h-2zM37 1h1v1h-1zM42 1h1v1h-1zM50 1h1v1h-1zM8 2h1v1h-1zM14 2h1v1h-1zM23 2h1v1h-1zM38 2h1v1h-1zM61 2h1v1h-1zM59 3h1v1h-1zM59 4h1v1h-1zM61 4h1v1h-1zM1 5h3v1h-3zM11 5h1v1h-1zM14 5h2v1h-2zM21 5h1v1h-1zM23 5h1v1h-1zM35 5h2v1h-2zM39 5h1v1h-1zM46 5h1v1h-1zM50 5h1v1h-1zM10 6h2v1h-2zM21 6h2v1h-2zM26 6h1v1h-1zM28 6h1v1h-1zM30 6h2v1h-2zM39 6h1v1h-1zM42 6h2v1h-2zM45 6h1v1h-1zM55 6h1v1h-1zM61 6h2v1h-2zM2 7h1v1h-1zM13 7h1v1h-1zM23 7h1v1h-1zM35 7h1v1h-1zM59 7h1v1h-1zM62 7h1v1h-1zM10 8h2v1h-2zM21 8h2v1h-2zM26 8h1v1h-1zM28 8h1v1h-1zM30 8h2v1h-2zM39 8h1v1h-1zM42 8h2v1h-2zM45 8h1v1h-1zM55 8h1v1h-1zM61 8h2v1h-2zM1 9h3v1h-3zM11 9h1v1h-1zM14 9h2v1h-2zM21 9h1v1h-1zM23 9h1v1h-1zM35 9h2v1h-2zM39 9h1v1h-1zM46 9h1v1h-1zM50 9h1v1h-1zM59 10h1v1h-1zM61 10h1v1h-1zM59 11h1v1h-1zM8 12h1v1h-1zM14 12h1v1h-1zM23 12h1v1h-1zM38 12h1v1h-1zM61 12h1v1h-1zM37 13h1v1h-1zM42 13h1v1h-1zM50 13h1v1h-1zM31 14h1v1h-1zM40 14h2v1h-2zM36 15h1v1h-1zM50 15h1v1h-1z"/><path fill="#0000ff" d="M4 0h1v1h-1zM21 0h1v1h-1zM30 0h1v1h-1zM36 0h1v1h-1zM46 0h1v1h-1zM48 0h4v1h-4zM57 0h4v1h-4zM0 1h2v1h-2zM4 1h2v1h-2zM8 1h1v1h-1zM13 1h2v1h-2zM23 1h1v1h-1zM28 1h1v1h-1zM31 1h1v1h-1zM33 1h1v1h-1zM35 1h1v1h-1zM39 1h2v1h-2zM46 1h1v1h-1zM54 1h1v1h-1zM58 1h4v1h-4zM0 2h2v1h-2zM5 2h1v1h-1zM9 2h1v1h-1zM13 2h1v1h-1zM15 2h1v1h-1zM19 2h1v1h-1zM26 2h1v1h-1zM28 2h3v1h-3zM33 2h1v1h-1zM35 2h1v1h-1zM39 2h4v1h-4zM44 2h1v1h-1zM50 2h1v1h-1zM56 2h2v1h-2zM59 2h1v1h-1zM0 3h1v1h-1zM5 3h2v1h-2zM11 3h1v1h-1zM19 3h2v1h-2zM30 3h1v1h-1zM34 3h1v1h-1zM43 3h1v1h-1zM45 3h1v1h-1zM49 3h1v1h-1zM51 3h1v1h-1zM61 3h1v1h-1zM1 4h1v1h-1zM5 4h1v1h-1zM14 4h1v1h-1zM18 4h1v1h-1zM20 4h1v1h-1zM22 4h2v1h-2zM27 4h2v1h-2zM30 4h1v1h-1zM34 4h1v1h-1zM37 4h1v1h-1zM39 4h1v1h-1zM42 4h1v1h-1zM45 4h2v1h-2zM49 4h1v1h-1zM51 4h3v1h-3zM60 4h1v1h-1zM4 5h1v1h-1zM8 5h1v1h-1zM12 5h1v1h-1zM16 5h1v1h-1zM24 5h4v1h-4zM30 5h3v1h-3zM37 5h2v1h-2zM42 5h2v1h-2zM45 5h1v1h-1zM49 5h1v1h-1zM51 5h4v1h-4zM58 5h2v1h-2zM61 5h2v1h-2zM2 6h1v1h-1zM6 6h3v1h-3zM13 6h7v1h-7zM23 6h3v1h-3zM27 6h1v1h-1zM29 6h1v1h-1zM34 6h2v1h-2zM38 6h1v1h-1zM40 6h1v1h-1zM46 6h1v1h-1zM49 6h1v1h-1zM51 6h3v1h-3zM56 6h1v1h-1zM58 6h2v1h-2zM0 7h1v1h-1zM3 7h1v1h-1zM6 7h2v1h-2zM11 7h1v1h-1zM15 7h1v1h-1zM19 7h1v1h-1zM25 7h1v1h-1zM27 7h3v1h-3zM32 7h1v1h-1zM34 7h1v1h-1zM38 7h2v1h-2zM46 7h2v1h-2zM50 7h1v1h-1zM54 7h3v1h-3zM58 7h1v1h-1zM2 8h1v1h-1zM6 8h3v1h-3zM13 8h7v1h-7zM23 8h3v1h-3zM27 8h1v1h-1zM29 8h1v1h-1zM34 8h2v1h-2zM38 8h1v1h-1zM40 8h1v1h-1zM46 8h1v1h-1zM49 8h1v1h-1zM51 8h3v1h-3zM56 8h1v1h-1zM58 8h2v1h-2zM4 9h1v1h-1zM8 9h1v1h-1zM12 9h1v1h-1zM16 9h1v1h-1zM24 9h4v1h-4zM30 9h3v1h-3zM37 9h2v1h-2zM42 9h2v1h-2zM45 9h1v1h-1zM49 9h1v1h-1zM51 9h4v1h-4zM58 9h2v1h-2zM61 9h2v1h-2zM1 10h1v1h-1zM5 10h1v1h-1zM14 10h1v1h-1zM18 10h1v1h-1zM20 10h1v1h-1zM22 10h2v1h-2zM27 10h2v1h-2zM30 10h1v1h-1zM34 10h1v1h-1zM37 10h1v1h-1zM39 10h1v1h-1zM42 10h1v1h-1zM45 10h2v1h-2zM49 10h1v1h-1zM51 10h3v1h-3zM60 10h1v1h-1zM0 11h1v1h-1zM5 11h2v1h-2zM11 11h1v1h-1zM19 11h2v1h-2zM30 11h1v1h-1zM34 11h1v1h-1zM43 11h1v1h-1zM45 11h1v1h-1zM49 11h1v1h-1zM51 11h1v1h-1zM61 11h1v1h-1zM0 12h2v1h-2zM5 12h1v1h-1zM9 12h1v1h-1zM13 12h1v1h-1zM15 12h1v1h-1zM19 12h1v1h-1zM26 12h1v1h-1zM28 12h3v1h-3zM33 12h1v1h-1zM35 12h1v1h-1zM39 12h4v1h-4zM44 12h1v1h-1zM50 12h1v1h-1zM56 12h2v1h-2zM59 12h1v1h-1zM0 13h2v1h-2zM4 13h2v1h-2zM8 13h1v1h-1zM13 13h2v1h-2zM23 13h1v1h-1zM28 13h1v1h-1zM31 13h1v1h-1zM33 13h1v1h-1zM35 13h1v1h-1zM39 13h2v1h-2zM46 13h1v1h-1zM54 13h1v1h-1zM58 13h4v1h-4zM4 14h1v1h-1zM21 14h1v1h-1zM30 14h1v1h-1zM36 14h1v1h-1zM46 14h1v1h-1zM48 14h4v1h-4zM57 14h4v1h-4zM4 15h1v1h-1zM11 15h1v1h-1zM37 15h1v1h-1zM46 15h1v1h-1zM51 15h1v1h-1zM56 15h3v1h-3z"/><path fill="#0029ff" d="M3 0h1v1h-1zM7 0h1v1h-1zM33 0h1v1h-1zM35 0h1v1h-1zM37 0h3v1h-3zM42 0h1v1h-1zM52 0h1v1h-1zM55 0h2v1h-2zM3 1h1v1h-1zM7 1h1v1h-1zM9 1h2v1h-2zM15 1h1v1h-1zM19 1h2v1h-2zM24 1h1v1h-1zM41 1h1v1h-1zM52 1h1v1h-1zM56 1h2v1h-2zM4 2h1v1h-1zM6 2h2v1h-2zM11 2h1v1h-1zM17 2h2v1h-2zM20 2h1v1h-1zM24 2h1v1h-1zM31 2h2v1h-2zM36 2h1v1h-1zM54 2h1v1h-1zM58 2h1v1h-1zM62 2h1v1h-1zM8 3h1v1h-1zM13 3h2v1h-2zM16 3h1v1h-1zM18 3h1v1h-1zM24 3h1v1h-1zM26 3h2v1h-2zM29 3h1v1h-1zM31 3h1v1h-1zM38 3h2v1h-2zM41 3h1v1h-1zM44 3h1v1h-1zM48 3h1v1h-1zM56 3h2v1h-2zM60 3h1v1h-1zM2 4h3v1h-3zM8 4h1v1h-1zM10 4h2v1h-2zM13 4h1v1h-1zM21 4h1v1h-1zM24 4h3v1h-3zM35 4h1v1h-1zM43 4h2v1h-2zM62 4h1v1h-1zM5 5h2v1h-2zM20 5h1v1h-1zM28 5h1v1h-1zM33 5h1v1h-1zM60 5h1v1h-1zM0 6h1v1h-1zM3 6h2v1h-2zM20 6h1v1h-1zM44 6h1v1h-1zM57 6h1v1h-1zM8 7h1v1h-1zM10 7h1v1h-1zM12 7h1v1h-1zM31 7h1v1h-1zM42 7h1v1h-1zM51 7h1v1h-1zM61 7h1v1h-1zM0 8h1v1h-1zM3 8h2v1h-2zM20 8h1v1h-1zM44 8h1v1h-1zM57 8h1v1h-1zM5 9h2v1h-2zM20 9h1v1h-1zM28 9h1v1h-1zM33 9h1v1h-1zM60 9h1v1h-1zM2 10h3v1h-3zM8 10h1v1h-1zM10 10h2v1h-2zM13 10h1v1h-1zM21 10h1v1h-1zM24 10h3v1h-3zM35 10h1v1h-1zM43 10h2v1h-2zM62 10h1v1h-1zM8 11h1v1h-1zM13 11h2v1h-2zM16 11h1v1h-1zM18 11h1v1h-1zM24 11h1v1h-1zM26 11h2v1h-2zM29 11h1v1h-1zM31 11h1v1h-1zM38 11h2v1h-2zM41 11h1v1h-1zM44 11h1v1h-1zM48 11h1v1h-1zM56 11h2v1h-2zM60 11h1v1h-1zM4 12h1v1h-1zM6 12h2v1h-2zM11 12h1v1h-1zM17 12h2v1h-2zM20 12h1v1h-1zM24 12h1v1h-1zM31 12h2v1h-2zM36 12h1v1h-1zM54 12h1v1h-1zM58 12h1v1h-1zM62 12h1v1h-1zM3 13h1v1h-1zM7 13h1v1h-1zM9 13h2v1h-2zM15 13h1v1h-1zM19 13h2v1h-2zM24 13h1v1h-1zM41 13h1v1h-1zM52 13h1v1h-1zM56 13h2v1h-2zM3 14h1v1h-1zM7 14h1v1h-1zM33 14h1v1h-1zM35 14h1v1h-1zM37 14h3v1h-3zM42 14h1v1h-1zM52 14h1v1h-1zM55 14h2v1h-2zM12 15h1v1h-1zM14 15h1v1h-1zM20 15h3v1h-3zM26 15h1v1h-1zM31 15h3v1h-3zM38 15h2v1h-2zM47 15h1v1h-1zM55 15h1v1h-1zM59 15h1v1h-1zM61 15h1v1h-1z"/><path fill="#0075ff" d="M0 0h1v1h-1zM5 0h1v1h-1zM11 0h4v1h-4zM25 0h3v1h-3zM29 0h1v1h-1zM43 0h1v1h-1zM47 0h1v1h-1zM53 0h2v1h-2zM61 0h1v1h-1zM6 1h1v1h-1zM16 1h1v1h-1zM21 1h2v1h-2zM25 1h3v1h-3zM43 1h2v1h-2zM47 1h1v1h-1zM53 1h1v1h-1zM55 1h1v1h-1zM62 1h1v1h-1zM16 2h1v1h-1zM22 2h1v1h-1zM25 2h1v1h-1zM27 2h1v1h-1zM46 2h1v1h-1zM51 2h1v1h-1zM2 3h3v1h-3zM7 3h1v1h-1zM12 3h1v1h-1zM22 3h2v1h-2zM25 3h1v1h-1zM28 3h1v1h-1zM32 3h1v1h-1zM37 3h1v1h-1zM46 3h2v1h-2zM50 3h1v1h-1zM53 3h2v1h-2zM62 3h1v1h-1zM0 4h1v1h-1zM6 4h2v1h-2zM12 4h1v1h-1zM15 4h3v1h-3zM19 4h1v1h-1zM29 4h1v1h-1zM33 4h1v1h-1zM36 4h1v1h-1zM38 4h1v1h-1zM41 4h1v1h-1zM47 4h2v1h-2zM13 5h1v1h-1zM17 5h1v1h-1zM29 5h1v1h-1zM34 5h1v1h-1zM55 5h3v1h-3zM1 6h1v1h-1zM32 6h1v1h-1zM36 6h2v1h-2zM41 6h1v1h-1zM47 6h2v1h-2zM60 6h1v1h-1zM1 7h1v1h-1zM14 7h1v1h-1zM16 7h1v1h-1zM18 7h1v1h-1zM21 7h1v1h-1zM33 7h1v1h-1zM45 7h1v1h-1zM48 7h2v1h-2zM52 7h1v1h-1zM1 8h1v1h-1zM32 8h1v1h-1zM36 8h2v1h-2zM41 8h1v1h-1zM47 8h2v1h-2zM60 8h1v1h-1zM13 9h1v1h-1zM17 9h1v1h-1zM29 9h1v1h-1zM34 9h1v1h-1zM55 9h3v1h-3zM0 10h1v1h-1zM6 10h2v1h-2zM12 10h1v1h-1zM15 10h3v1h-3zM19 10h1v1h-1zM29 10h1v1h-1zM33 10h1v1h-1zM36 10h1v1h-1zM38 10h1v1h-1zM41 10h1v1h-1zM47 10h2v1h-2zM2 11h3v1h-3zM7 11h1v1h-1zM12 11h1v1h-1zM22 11h2v1h-2zM25 11h1v1h-1zM28 11h1v1h-1zM32 11h1v1h-1zM37 11h1v1h-1zM46 11h2v1h-2zM50 11h1v1h-1zM53 11h2v1h-2zM62 11h1v1h-1zM16 12h1v1h-1zM22 12h1v1h-1zM25 12h1v1h-1zM27 12h1v1h-1zM46 12h1v1h-1zM51 12h1v1h-1zM6 13h1v1h-1zM16 13h1v1h-1zM21 13h2v1h-2zM25 13h3v1h-3zM43 13h2v1h-2zM47 13h1v1h-1zM53 13h1v1h-1zM55 13h1v1h-1zM62 13h1v1h-1zM0 14h1v1h-1zM5 14h1v1h-1zM11 14h4v1h-4zM25 14h3v1h-3zM29 14h1v1h-1zM43 14h1v1h-1zM47 14h1v1h-1zM53 14h2v1h-2zM61 14h1v1h-1zM2 15h1v1h-1zM10 15h1v1h-1zM23 15h2v1h-2zM34 15h2v1h-2zM42 15h1v1h-1zM44 15h1v1h-1zM52 15h1v1h-1zM60 15h1v1h-1z"/><path fill="#00bdff" d="M9 0h2v1h-2zM20 0h1v1h-1zM23 0h2v1h-2zM32 0h1v1h-1zM29 1h2v1h-2zM38 1h1v1h-1zM45 1h1v1h-1zM48 1h1v1h-1zM51 1h1v1h-1zM3 2h1v1h-1zM21 2h1v1h-1zM34 2h1v1h-1zM43 2h1v1h-1zM45 2h1v1h-1zM47 2h1v1h-1zM49 2h1v1h-1zM52 2h2v1h-2zM55 2h1v1h-1zM1 3h1v1h-1zM9 3h1v1h-1zM15 3h1v1h-1zM21 3h1v1h-1zM36 3h1v1h-1zM42 3h1v1h-1zM9 4h1v1h-1zM32 4h1v1h-1zM50 4h1v1h-1zM54 4h2v1h-2zM40 5h2v1h-2zM47 5h1v1h-1zM12 6h1v1h-1zM36 7h1v1h-1zM44 7h1v1h-1zM57 7h1v1h-1zM12 8h1v1h-1zM40 9h2v1h-2zM47 9h1v1h-1zM9 10h1v1h-1zM32 10h1v1h-1zM50 10h1v1h-1zM54 10h2v1h-2zM1 11h1v1h-1zM9 11h1v1h-1zM15 11h1v1h-1zM21 11h1v1h-1zM36 11h1v1h-1zM42 11h1v1h-1zM3 12h1v1h-1zM21 12h1v1h-1zM34 12h1v1h-1zM43 12h1v1h-1zM45 12h1v1h-1zM47 12h1v1h-1zM49 12h1v1h-1zM52 12h2v1h-2zM55 12h1v1h-1zM29 13h2v1h-2zM38 13h1v1h-1zM45 13h1v1h-1zM48 13h1v1h-1zM51 13h1v1h-1zM9 14h2v1h-2zM20 14h1v1h-1zM23 14h2v1h-2zM32 14h1v1h-1zM3 15h1v1h-1zM6 15h2v1h-2zM16 15h1v1h-1zM29 15h1v1h-1zM41 15h1v1h-1z"/><path fill="#08f0ef" d="M2 0h1v1h-1zM6 0h1v1h-1zM15 0h1v1h-1zM17 0h3v1h-3zM34 0h1v1h-1zM11 1h1v1h-1zM34 1h1v1h-1zM2 2h1v1h-1zM60 2h1v1h-1zM17 3h1v1h-1zM35 3h1v1h-1zM40 3h1v1h-1zM55 3h1v1h-1zM57 4h1v1h-1zM0 5h1v1h-1zM9 5h1v1h-1zM44 5h1v1h-1zM5 6h1v1h-1zM33 6h1v1h-1zM9 7h1v1h-1zM17 7h1v1h-1zM37 7h1v1h-1zM53 7h1v1h-1zM5 8h1v1h-1zM33 8h1v1h-1zM0 9h1v1h-1zM9 9h1v1h-1zM44 9h1v1h-1zM57 10h1v1h-1zM17 11h1v1h-1zM35 11h1v1h-1zM40 11h1v1h-1zM55 11h1v1h-1zM2 12h1v1h-1zM60 12h1v1h-1zM11 13h1v1h-1zM34 13h1v1h-1zM2 14h1v1h-1zM6 14h1v1h-1zM15 14h1v1h-1zM17 14h3v1h-3zM34 14h1v1h-1zM8 15h1v1h-1zM13 15h1v1h-1zM43 15h1v1h-1zM48 15h1v1h-1z"/><path fill="#3effb9" d="M1 0h1v1h-1zM8 0h1v1h-1zM45 0h1v1h-1zM12 1h1v1h-1zM17 1h2v1h-2zM36 1h1v1h-1zM12 2h1v1h-1zM48 2h1v1h-1zM10 3h1v1h-1zM33 3h1v1h-1zM58 3h1v1h-1zM31 4h1v1h-1zM40 4h1v1h-1zM56 4h1v1h-1zM58 4h1v1h-1zM48 5h1v1h-1zM9 6h1v1h-1zM26 7h1v1h-1zM40 7h2v1h-2zM9 8h1v1h-1zM48 9h1v1h-1zM31 10h1v1h-1zM40 10h1v1h-1zM56 10h1v1h-1zM58 10h1v1h-1zM10 11h1v1h-1zM33 11h1v1h-1zM58 11h1v1h-1zM12 12h1v1h-1zM48 12h1v1h-1zM12 13h1v1h-1zM17 13h2v1h-2zM36 13h1v1h-1zM1 14h1v1h-1zM8 14h1v1h-1zM45 14h1v1h-1zM0 15h2v1h-2zM5 15h1v1h-1zM15 15h1v1h-1zM17 15h1v1h-1zM25 15h1v1h-1zM28 15h1v1h-1zM40 15h1v1h-1zM53 15h2v1h-2z"/><path fill="#84ff73" d="M22 0h1v1h-1zM44 0h1v1h-1zM62 0h1v1h-1zM2 1h1v1h-1zM32 1h1v1h-1zM49 1h1v1h-1zM10 2h1v1h-1zM4 7h2v1h-2zM24 7h1v1h-1zM43 7h1v1h-1zM10 12h1v1h-1zM2 13h1v1h-1zM32 13h1v1h-1zM49 13h1v1h-1zM22 14h1v1h-1zM44 14h1v1h-1zM62 14h1v1h-1zM18 15h2v1h-2zM27 15h1v1h-1z"/><path fill="#c1ff35" d="M16 0h1v1h-1zM28 0h1v1h-1zM22 7h1v1h-1zM30 7h1v1h-1zM16 14h1v1h-1zM28 14h1v1h-1zM9 15h1v1h-1zM45 15h1v1h-1z"/><path fill="#ffec00" d="M63 2h1v1h-1zM63 3h1v1h-1zM63 4h1v1h-1zM63 5h1v1h-1zM63 6h1v1h-1zM60 7h1v1h-1zM63 8h1v1h-1zM63 9h1v1h-1zM63 10h1v1h-1zM63 11h1v1h-1zM63 12h1v1h-1zM62 15h1v1h-1z"/><path fill="#ffb800" d="M63 1h1v1h-1zM63 13h1v1h-1z"/><path fill="#ff3400" d="M63 0h1v1h-1zM20 7h1v1h-1zM63 7h1v1h-1zM63 14h1v1h-1z"/><path fill="#910000" d="M63 15h1v1h-1z"/></g>
</g>
<rect x="1328.00" y="662.20" width="11.30" height="223.10" fill="url(#jet)"/>
<g filter="url(#tb)">
<rect x="1010.30" y="662.20" width="299.10" height="223.10" fill="none" stroke="#333" stroke-width="0.7"/>
<rect x="1328.00" y="662.20" width="11.30" height="223.10" fill="none" stroke="#333" stroke-width="0.7"/>
<text class="t" x="1005.70" y="880.93" text-anchor="end">0</text>
<text class="t" x="1005.70" y="853.04" text-anchor="end">2</text>
<text class="t" x="1005.70" y="825.15" text-anchor="end">4</text>
<text class="t" x="1005.70" y="797.27" text-anchor="end">6</text>
<text class="t" x="1005.70" y="769.38" text-anchor="end">8</text>
<text class="t" x="1005.70" y="741.49" text-anchor="end">10</text>
<text class="t" x="1005.70" y="713.60" text-anchor="end">12</text>
<text class="t" x="1005.70" y="685.72" text-anchor="end">14</text>
<text class="t" x="1012.64" y="895.50" text-anchor="middle">0</text>
<text class="t" x="1059.37" y="895.50" text-anchor="middle">10</text>
<text class="t" x="1106.11" y="895.50" text-anchor="middle">20</text>
<text class="t" x="1152.84" y="895.50" text-anchor="middle">30</text>
<text class="t" x="1199.57" y="895.50" text-anchor="middle">40</text>
<text class="t" x="1246.31" y="895.50" text-anchor="middle">50</text>
<text class="t" x="1293.04" y="895.50" text-anchor="middle">60</text>
<text class="t" x="1343.50" y="683.55">70</text>
<text class="t" x="1343.50" y="712.55">60</text>
<text class="t" x="1343.50" y="742.05">50</text>
<text class="t" x="1343.50" y="771.30">40</text>
<text class="t" x="1343.50" y="800.55">30</text>
<text class="t" x="1343.50" y="829.80">20</text>
<text class="t" x="1343.50" y="859.05">10</text>
<path d="M1010.30 878.33h-2.6M1010.30 850.44h-2.6M1010.30 822.55h-2.6M1010.30 794.67h-2.6M1010.30 766.78h-2.6M1010.30 738.89h-2.6M1010.30 711.00h-2.6M1010.30 683.12h-2.6M1012.64 885.30v2.6M1059.37 885.30v2.6M1106.11 885.30v2.6M1152.84 885.30v2.6M1199.57 885.30v2.6M1246.31 885.30v2.6M1293.04 885.30v2.6M1339.30 680.95h2.6M1339.30 709.95h2.6M1339.30 739.45h2.6M1339.30 768.70h2.6M1339.30 797.95h2.6M1339.30 827.20h2.6M1339.30 856.45h2.6" stroke="#222" stroke-width="0.6" fill="none"/>
<text class="t" x="1159.85" y="904.80" text-anchor="middle">Time</text>
<text class="t" transform="translate(993.30 773.75) rotate(-90)" text-anchor="middle">Frequency</text>
<text class="t" transform="translate(1359.70 773.75) rotate(-90)" text-anchor="middle">Magnitude</text>
</g>
<text class="c" filter="url(#cb)" x="1163.00" y="945.90">(j)</text>
</g>
<g id="panel-l">
<g filter="url(#hb)" shape-rendering="crispEdges"><rect x="1491.90" y="662.20" width="299.10" height="223.10" fill="#0040ff"/>
<g transform="translate(1491.90 662.20) scale(4.67344 13.94375)" shape-rendering="crispEdges"><path fill="#000080" d="M27 2h2v1h-2zM60 2h1v1h-1zM14 5h1v1h-1zM20 5h1v1h-1zM8 6h1v1h-1zM31 6h1v1h-1zM8 8h1v1h-1zM31 8h1v1h-1zM14 9h1v1h-1zM20 9h1v1h-1zM27 12h2v1h-2zM60 12h1v1h-1zM25 15h1v1h-1z"/><path fill="#0000b9" d="M1 0h2v1h-2zM7 0h1v1h-1zM21 0h1v1h-1zM15 1h1v1h-1zM21 1h1v1h-1zM9 3h1v1h-1zM15 3h1v1h-1zM23 4h1v1h-1zM0 5h2v1h-2zM4 5h1v1h-1zM23 5h1v1h-1zM51 5h2v1h-2zM61 5h1v1h-1zM0 6h2v1h-2zM4 6h1v1h-1zM22 6h3v1h-3zM36 6h1v1h-1zM39 6h1v1h-1zM41 6h1v1h-1zM60 6h3v1h-3zM0 7h1v1h-1zM15 7h1v1h-1zM43 7h1v1h-1zM49 7h1v1h-1zM62 7h1v1h-1zM0 8h2v1h-2zM4 8h1v1h-1zM22 8h3v1h-3zM36 8h1v1h-1zM39 8h1v1h-1zM41 8h1v1h-1zM60 8h3v1h-3zM0 9h2v1h-2zM4 9h1v1h-1zM23 9h1v1h-1zM51 9h2v1h-2zM61 9h1v1h-1zM23 10h1v1h-1zM9 11h1v1h-1zM15 11h1v1h-1zM15 13h1v1h-1zM21 13h1v1h-1zM1 14h2v1h-2zM7 14h1v1h-1zM21 14h1v1h-1zM1 15h1v1h-1zM16 15h1v1h-1zM28 15h1v1h-1zM34 15h1v1h-1zM62 15h1v1h-1z"/><path fill="#0000ff" d="M3 0h3v1h-3zM11 0h1v1h-1zM13 0h2v1h-2zM18 0h1v1h-1zM23 0h1v1h-1zM28 0h1v1h-1zM30 0h1v1h-1zM33 0h2v1h-2zM43 0h1v1h-1zM62 0h1v1h-1zM2 1h1v1h-1zM4 1h2v1h-2zM7 1h2v1h-2zM17 1h2v1h-2zM20 1h1v1h-1zM23 1h1v1h-1zM25 1h1v1h-1zM27 1h2v1h-2zM30 1h1v1h-1zM33 1h1v1h-1zM41 1h1v1h-1zM43 1h1v1h-1zM50 1h1v1h-1zM52 1h2v1h-2zM60 1h2v1h-2zM5 2h1v1h-1zM9 2h1v1h-1zM14 2h2v1h-2zM37 2h1v1h-1zM39 2h1v1h-1zM49 2h1v1h-1zM56 2h2v1h-2zM6 3h1v1h-1zM8 3h1v1h-1zM14 3h1v1h-1zM21 3h1v1h-1zM23 3h1v1h-1zM31 3h1v1h-1zM34 3h4v1h-4zM41 3h1v1h-1zM43 3h1v1h-1zM56 3h2v1h-2zM0 4h1v1h-1zM2 4h3v1h-3zM8 4h2v1h-2zM11 4h2v1h-2zM15 4h2v1h-2zM20 4h2v1h-2zM32 4h1v1h-1zM34 4h2v1h-2zM42 4h1v1h-1zM47 4h1v1h-1zM52 4h1v1h-1zM54 4h2v1h-2zM57 4h2v1h-2zM61 4h1v1h-1zM2 5h1v1h-1zM6 5h1v1h-1zM8 5h2v1h-2zM11 5h2v1h-2zM16 5h1v1h-1zM18 5h2v1h-2zM26 5h1v1h-1zM28 5h4v1h-4zM35 5h2v1h-2zM40 5h1v1h-1zM44 5h1v1h-1zM47 5h2v1h-2zM55 5h1v1h-1zM60 5h1v1h-1zM2 6h2v1h-2zM12 6h7v1h-7zM20 6h1v1h-1zM27 6h2v1h-2zM32 6h4v1h-4zM43 6h5v1h-5zM51 6h1v1h-1zM54 6h2v1h-2zM59 6h1v1h-1zM4 7h1v1h-1zM7 7h2v1h-2zM12 7h1v1h-1zM19 7h2v1h-2zM24 7h1v1h-1zM27 7h2v1h-2zM30 7h1v1h-1zM34 7h2v1h-2zM37 7h1v1h-1zM50 7h4v1h-4zM55 7h2v1h-2zM61 7h1v1h-1zM2 8h2v1h-2zM12 8h7v1h-7zM20 8h1v1h-1zM27 8h2v1h-2zM32 8h4v1h-4zM43 8h5v1h-5zM51 8h1v1h-1zM54 8h2v1h-2zM59 8h1v1h-1zM2 9h1v1h-1zM6 9h1v1h-1zM8 9h2v1h-2zM11 9h2v1h-2zM16 9h1v1h-1zM18 9h2v1h-2zM26 9h1v1h-1zM28 9h4v1h-4zM35 9h2v1h-2zM40 9h1v1h-1zM44 9h1v1h-1zM47 9h2v1h-2zM55 9h1v1h-1zM60 9h1v1h-1zM0 10h1v1h-1zM2 10h3v1h-3zM8 10h2v1h-2zM11 10h2v1h-2zM15 10h2v1h-2zM20 10h2v1h-2zM32 10h1v1h-1zM34 10h2v1h-2zM42 10h1v1h-1zM47 10h1v1h-1zM52 10h1v1h-1zM54 10h2v1h-2zM57 10h2v1h-2zM61 10h1v1h-1zM6 11h1v1h-1zM8 11h1v1h-1zM14 11h1v1h-1zM21 11h1v1h-1zM23 11h1v1h-1zM31 11h1v1h-1zM34 11h4v1h-4zM41 11h1v1h-1zM43 11h1v1h-1zM56 11h2v1h-2zM5 12h1v1h-1zM9 12h1v1h-1zM14 12h2v1h-2zM37 12h1v1h-1zM39 12h1v1h-1zM49 12h1v1h-1zM56 12h2v1h-2zM2 13h1v1h-1zM4 13h2v1h-2zM7 13h2v1h-2zM17 13h2v1h-2zM20 13h1v1h-1zM23 13h1v1h-1zM25 13h1v1h-1zM27 13h2v1h-2zM30 13h1v1h-1zM33 13h1v1h-1zM41 13h1v1h-1zM43 13h1v1h-1zM50 13h1v1h-1zM52 13h2v1h-2zM60 13h2v1h-2zM3 14h3v1h-3zM11 14h1v1h-1zM13 14h2v1h-2zM18 14h1v1h-1zM23 14h1v1h-1zM28 14h1v1h-1zM30 14h1v1h-1zM33 14h2v1h-2zM43 14h1v1h-1zM62 14h1v1h-1zM2 15h3v1h-3zM15 15h1v1h-1zM20 15h1v1h-1zM22 15h1v1h-1zM26 15h1v1h-1zM33 15h1v1h-1zM35 15h1v1h-1zM43 15h1v1h-1zM61 15h1v1h-1z"/><path fill="#0029ff" d="M8 0h3v1h-3zM12 0h1v1h-1zM16 0h2v1h-2zM22 0h1v1h-1zM24 0h3v1h-3zM29 0h1v1h-1zM35 0h1v1h-1zM44 0h1v1h-1zM46 0h1v1h-1zM48 0h1v1h-1zM50 0h1v1h-1zM52 0h1v1h-1zM54 0h1v1h-1zM60 0h1v1h-1zM1 1h1v1h-1zM9 1h3v1h-3zM14 1h1v1h-1zM24 1h1v1h-1zM39 1h1v1h-1zM49 1h1v1h-1zM51 1h1v1h-1zM54 1h6v1h-6zM62 1h1v1h-1zM1 2h1v1h-1zM8 2h1v1h-1zM11 2h3v1h-3zM16 2h1v1h-1zM18 2h6v1h-6zM26 2h1v1h-1zM29 2h3v1h-3zM33 2h4v1h-4zM38 2h1v1h-1zM41 2h1v1h-1zM44 2h5v1h-5zM50 2h3v1h-3zM55 2h1v1h-1zM58 2h2v1h-2zM61 2h2v1h-2zM2 3h2v1h-2zM7 3h1v1h-1zM10 3h4v1h-4zM27 3h2v1h-2zM33 3h1v1h-1zM38 3h1v1h-1zM44 3h1v1h-1zM47 3h1v1h-1zM49 3h1v1h-1zM52 3h3v1h-3zM58 3h1v1h-1zM61 3h1v1h-1zM7 4h1v1h-1zM10 4h1v1h-1zM14 4h1v1h-1zM19 4h1v1h-1zM31 4h1v1h-1zM37 4h3v1h-3zM41 4h1v1h-1zM43 4h1v1h-1zM46 4h1v1h-1zM49 4h1v1h-1zM60 4h1v1h-1zM17 5h1v1h-1zM21 5h2v1h-2zM24 5h1v1h-1zM27 5h1v1h-1zM33 5h2v1h-2zM38 5h2v1h-2zM41 5h1v1h-1zM43 5h1v1h-1zM45 5h1v1h-1zM7 6h1v1h-1zM10 6h2v1h-2zM19 6h1v1h-1zM30 6h1v1h-1zM37 6h2v1h-2zM40 6h1v1h-1zM42 6h1v1h-1zM49 6h2v1h-2zM52 6h2v1h-2zM56 6h1v1h-1zM3 7h1v1h-1zM10 7h1v1h-1zM13 7h1v1h-1zM22 7h1v1h-1zM46 7h2v1h-2zM57 7h1v1h-1zM59 7h2v1h-2zM7 8h1v1h-1zM10 8h2v1h-2zM19 8h1v1h-1zM30 8h1v1h-1zM37 8h2v1h-2zM40 8h1v1h-1zM42 8h1v1h-1zM49 8h2v1h-2zM52 8h2v1h-2zM56 8h1v1h-1zM17 9h1v1h-1zM21 9h2v1h-2zM24 9h1v1h-1zM27 9h1v1h-1zM33 9h2v1h-2zM38 9h2v1h-2zM41 9h1v1h-1zM43 9h1v1h-1zM45 9h1v1h-1zM7 10h1v1h-1zM10 10h1v1h-1zM14 10h1v1h-1zM19 10h1v1h-1zM31 10h1v1h-1zM37 10h3v1h-3zM41 10h1v1h-1zM43 10h1v1h-1zM46 10h1v1h-1zM49 10h1v1h-1zM60 10h1v1h-1zM2 11h2v1h-2zM7 11h1v1h-1zM10 11h4v1h-4zM27 11h2v1h-2zM33 11h1v1h-1zM38 11h1v1h-1zM44 11h1v1h-1zM47 11h1v1h-1zM49 11h1v1h-1zM52 11h3v1h-3zM58 11h1v1h-1zM61 11h1v1h-1zM1 12h1v1h-1zM8 12h1v1h-1zM11 12h3v1h-3zM16 12h1v1h-1zM18 12h6v1h-6zM26 12h1v1h-1zM29 12h3v1h-3zM33 12h4v1h-4zM38 12h1v1h-1zM41 12h1v1h-1zM44 12h5v1h-5zM50 12h3v1h-3zM55 12h1v1h-1zM58 12h2v1h-2zM61 12h2v1h-2zM1 13h1v1h-1zM9 13h3v1h-3zM14 13h1v1h-1zM24 13h1v1h-1zM39 13h1v1h-1zM49 13h1v1h-1zM51 13h1v1h-1zM54 13h6v1h-6zM62 13h1v1h-1zM8 14h3v1h-3zM12 14h1v1h-1zM16 14h2v1h-2zM22 14h1v1h-1zM24 14h3v1h-3zM29 14h1v1h-1zM35 14h1v1h-1zM44 14h1v1h-1zM46 14h1v1h-1zM48 14h1v1h-1zM50 14h1v1h-1zM52 14h1v1h-1zM54 14h1v1h-1zM60 14h1v1h-1zM7 15h1v1h-1zM9 15h1v1h-1zM14 15h1v1h-1zM57 15h1v1h-1zM60 15h1v1h-1z"/><path fill="#0075ff" d="M0 0h1v1h-1zM15 0h1v1h-1zM20 0h1v1h-1zM32 0h1v1h-1zM36 0h3v1h-3zM40 0h2v1h-2zM47 0h1v1h-1zM51 0h1v1h-1zM53 0h1v1h-1zM56 0h1v1h-1zM59 0h1v1h-1zM61 0h1v1h-1zM3 1h1v1h-1zM12 1h2v1h-2zM26 1h1v1h-1zM32 1h1v1h-1zM34 1h4v1h-4zM44 1h3v1h-3zM48 1h1v1h-1zM2 2h1v1h-1zM6 2h2v1h-2zM17 2h1v1h-1zM24 2h2v1h-2zM32 2h1v1h-1zM42 2h2v1h-2zM53 2h2v1h-2zM0 3h1v1h-1zM5 3h1v1h-1zM18 3h2v1h-2zM22 3h1v1h-1zM25 3h1v1h-1zM29 3h1v1h-1zM45 3h1v1h-1zM48 3h1v1h-1zM50 3h1v1h-1zM55 3h1v1h-1zM60 3h1v1h-1zM62 3h1v1h-1zM1 4h1v1h-1zM13 4h1v1h-1zM22 4h1v1h-1zM30 4h1v1h-1zM36 4h1v1h-1zM44 4h2v1h-2zM51 4h1v1h-1zM53 4h1v1h-1zM3 5h1v1h-1zM5 5h1v1h-1zM13 5h1v1h-1zM15 5h1v1h-1zM25 5h1v1h-1zM32 5h1v1h-1zM42 5h1v1h-1zM46 5h1v1h-1zM49 5h1v1h-1zM54 5h1v1h-1zM56 5h4v1h-4zM62 5h1v1h-1zM6 6h1v1h-1zM9 6h1v1h-1zM21 6h1v1h-1zM26 6h1v1h-1zM29 6h1v1h-1zM48 6h1v1h-1zM57 6h2v1h-2zM2 7h1v1h-1zM11 7h1v1h-1zM16 7h2v1h-2zM26 7h1v1h-1zM33 7h1v1h-1zM39 7h2v1h-2zM44 7h1v1h-1zM48 7h1v1h-1zM58 7h1v1h-1zM6 8h1v1h-1zM9 8h1v1h-1zM21 8h1v1h-1zM26 8h1v1h-1zM29 8h1v1h-1zM48 8h1v1h-1zM57 8h2v1h-2zM3 9h1v1h-1zM5 9h1v1h-1zM13 9h1v1h-1zM15 9h1v1h-1zM25 9h1v1h-1zM32 9h1v1h-1zM42 9h1v1h-1zM46 9h1v1h-1zM49 9h1v1h-1zM54 9h1v1h-1zM56 9h4v1h-4zM62 9h1v1h-1zM1 10h1v1h-1zM13 10h1v1h-1zM22 10h1v1h-1zM30 10h1v1h-1zM36 10h1v1h-1zM44 10h2v1h-2zM51 10h1v1h-1zM53 10h1v1h-1zM0 11h1v1h-1zM5 11h1v1h-1zM18 11h2v1h-2zM22 11h1v1h-1zM25 11h1v1h-1zM29 11h1v1h-1zM45 11h1v1h-1zM48 11h1v1h-1zM50 11h1v1h-1zM55 11h1v1h-1zM60 11h1v1h-1zM62 11h1v1h-1zM2 12h1v1h-1zM6 12h2v1h-2zM17 12h1v1h-1zM24 12h2v1h-2zM32 12h1v1h-1zM42 12h2v1h-2zM53 12h2v1h-2zM3 13h1v1h-1zM12 13h2v1h-2zM26 13h1v1h-1zM32 13h1v1h-1zM34 13h4v1h-4zM44 13h3v1h-3zM48 13h1v1h-1zM0 14h1v1h-1zM15 14h1v1h-1zM20 14h1v1h-1zM32 14h1v1h-1zM36 14h3v1h-3zM40 14h2v1h-2zM47 14h1v1h-1zM51 14h1v1h-1zM53 14h1v1h-1zM56 14h1v1h-1zM59 14h1v1h-1zM61 14h1v1h-1zM5 15h2v1h-2zM8 15h1v1h-1zM13 15h1v1h-1zM21 15h1v1h-1zM23 15h2v1h-2zM29 15h2v1h-2zM36 15h1v1h-1zM44 15h1v1h-1zM50 15h2v1h-2zM53 15h2v1h-2zM56 15h1v1h-1z"/><path fill="#00bdff" d="M27 0h1v1h-1zM39 0h1v1h-1zM42 0h1v1h-1zM55 0h1v1h-1zM57 0h2v1h-2zM0 1h1v1h-1zM6 1h1v1h-1zM22 1h1v1h-1zM31 1h1v1h-1zM38 1h1v1h-1zM40 1h1v1h-1zM42 1h1v1h-1zM3 2h2v1h-2zM10 2h1v1h-1zM1 3h1v1h-1zM20 3h1v1h-1zM24 3h1v1h-1zM26 3h1v1h-1zM59 3h1v1h-1zM5 4h1v1h-1zM17 4h2v1h-2zM24 4h6v1h-6zM33 4h1v1h-1zM48 4h1v1h-1zM59 4h1v1h-1zM7 5h1v1h-1zM37 5h1v1h-1zM53 5h1v1h-1zM5 6h1v1h-1zM1 7h1v1h-1zM29 7h1v1h-1zM41 7h1v1h-1zM54 7h1v1h-1zM5 8h1v1h-1zM7 9h1v1h-1zM37 9h1v1h-1zM53 9h1v1h-1zM5 10h1v1h-1zM17 10h2v1h-2zM24 10h6v1h-6zM33 10h1v1h-1zM48 10h1v1h-1zM59 10h1v1h-1zM1 11h1v1h-1zM20 11h1v1h-1zM24 11h1v1h-1zM26 11h1v1h-1zM59 11h1v1h-1zM3 12h2v1h-2zM10 12h1v1h-1zM0 13h1v1h-1zM6 13h1v1h-1zM22 13h1v1h-1zM31 13h1v1h-1zM38 13h1v1h-1zM40 13h1v1h-1zM42 13h1v1h-1zM27 14h1v1h-1zM39 14h1v1h-1zM42 14h1v1h-1zM55 14h1v1h-1zM57 14h2v1h-2zM10 15h2v1h-2zM18 15h2v1h-2zM31 15h2v1h-2zM37 15h1v1h-1zM39 15h1v1h-1zM49 15h1v1h-1zM52 15h1v1h-1z"/><path fill="#08f0ef" d="M29 1h1v1h-1zM47 1h1v1h-1zM0 2h1v1h-1zM16 3h2v1h-2zM39 3h1v1h-1zM42 3h1v1h-1zM46 3h1v1h-1zM6 4h1v1h-1zM56 4h1v1h-1zM14 7h1v1h-1zM18 7h1v1h-1zM32 7h1v1h-1zM6 10h1v1h-1zM56 10h1v1h-1zM16 11h2v1h-2zM39 11h1v1h-1zM42 11h1v1h-1zM46 11h1v1h-1zM0 12h1v1h-1zM29 13h1v1h-1zM47 13h1v1h-1zM0 15h1v1h-1zM12 15h1v1h-1zM59 15h1v1h-1z"/><path fill="#3effb9" d="M31 0h1v1h-1zM45 0h1v1h-1zM49 0h1v1h-1zM16 1h1v1h-1zM19 1h1v1h-1zM40 2h1v1h-1zM4 3h1v1h-1zM30 3h1v1h-1zM32 3h1v1h-1zM40 3h1v1h-1zM51 3h1v1h-1zM40 4h1v1h-1zM50 4h1v1h-1zM10 5h1v1h-1zM50 5h1v1h-1zM25 6h1v1h-1zM63 6h1v1h-1zM31 7h1v1h-1zM36 7h1v1h-1zM63 7h1v1h-1zM25 8h1v1h-1zM63 8h1v1h-1zM10 9h1v1h-1zM50 9h1v1h-1zM40 10h1v1h-1zM50 10h1v1h-1zM4 11h1v1h-1zM30 11h1v1h-1zM32 11h1v1h-1zM40 11h1v1h-1zM51 11h1v1h-1zM40 12h1v1h-1zM16 13h1v1h-1zM19 13h1v1h-1zM31 14h1v1h-1zM45 14h1v1h-1zM49 14h1v1h-1zM17 15h1v1h-1zM42 15h1v1h-1zM45 15h1v1h-1zM47 15h1v1h-1z"/><path fill="#84ff73" d="M63 0h1v1h-1zM63 1h1v1h-1zM63 2h1v1h-1zM62 4h2v1h-2zM63 5h1v1h-1zM23 7h1v1h-1zM38 7h1v1h-1zM42 7h1v1h-1zM45 7h1v1h-1zM63 9h1v1h-1zM62 10h2v1h-2zM63 12h1v1h-1zM63 13h1v1h-1zM63 14h1v1h-1zM38 15h1v1h-1zM48 15h1v1h-1zM58 15h1v1h-1zM63 15h1v1h-1z"/><path fill="#c1ff35" d="M63 3h1v1h-1zM25 7h1v1h-1zM63 11h1v1h-1zM27 15h1v1h-1zM40 15h1v1h-1zM46 15h1v1h-1z"/><path fill="#ffec00" d="M6 0h1v1h-1zM19 0h1v1h-1zM9 7h1v1h-1zM6 14h1v1h-1zM19 14h1v1h-1z"/><path fill="#ffb800" d="M55 15h1v1h-1z"/><path fill="#ff7100" d="M21 7h1v1h-1z"/><path fill="#ff3400" d="M6 7h1v1h-1z"/><path fill="#dc0000" d="M5 7h1v1h-1z"/><path fill="#910000" d="M41 15h1v1h-1z"/></g>
</g>
<rect x="1809.60" y="662.20" width="11.30" height="223.10" fill="url(#jet)"/>
<g filter="url(#tb)">
<rect x="1491.90" y="662.20" width="299.10" height="223.10" fill="none" stroke="#333" stroke-width="0.7"/>
<rect x="1809.60" y="662.20" width="11.30" height="223.10" fill="none" stroke="#333" stroke-width="0.7"/>
<text class="t" x="1487.30" y="880.93" text-anchor="end">0</text>
<text class="t" x="1487.30" y="853.04" text-anchor="end">2</text>
<text class="t" x="1487.30" y="825.15" text-anchor="end">4</text>
<text class="t" x="1487.30" y="797.27" text-anchor="end">6</text>
<text class="t" x="1487.30" y="769.38" text-anchor="end">8</text>
<text class="t" x="1487.30" y="741.49" text-anchor="end">10</text>
<text class="t" x="1487.30" y="713.60" text-anchor="end">12</text>
<text class="t" x="1487.30" y="685.72" text-anchor="end">14</text>
<text class="t" x="1494.24" y="895.50" text-anchor="middle">0</text>
<text class="t" x="1540.97" y="895.50" text-anchor="middle">10</text>
<text class="t" x="1587.71" y="895.50" text-anchor="middle">20</text>
<text class="t" x="1634.44" y="895.50" text-anchor="middle">30</text>
<text class="t" x="1681.17" y="895.50" text-anchor="middle">40</text>
<text class="t" x="1727.91" y="895.50" text-anchor="middle">50</text>
<text class="t" x="1774.64" y="895.50" text-anchor="middle">60</text>
<text class="t" x="1825.10" y="686.05">80</text>
<text class="t" x="1825.10" y="711.55">70</text>
<text class="t" x="1825.10" y="736.80">60</text>
<text class="t" x="1825.10" y="762.05">50</text>
<text class="t" x="1825.10" y="787.30">40</text>
<text class="t" x="1825.10" y="812.55">30</text>
<text class="t" x="1825.10" y="837.80">20</text>
<text class="t" x="1825.10" y="863.05">10</text>
<path d="M1491.90 878.33h-2.6M1491.90 850.44h-2.6M1491.90 822.55h-2.6M1491.90 794.67h-2.6M1491.90 766.78h-2.6M1491.90 738.89h-2.6M1491.90 711.00h-2.6M1491.90 683.12h-2.6M1494.24 885.30v2.6M1540.97 885.30v2.6M1587.71 885.30v2.6M1634.44 885.30v2.6M1681.17 885.30v2.6M1727.91 885.30v2.6M1774.64 885.30v2.6M1820.90 683.45h2.6M1820.90 708.95h2.6M1820.90 734.20h2.6M1820.90 759.45h2.6M1820.90 784.70h2.6M1820.90 809.95h2.6M1820.90 835.20h2.6M1820.90 860.45h2.6" stroke="#222" stroke-width="0.6" fill="none"/>
<text class="t" x="1641.45" y="904.80" text-anchor="middle">Time</text>
<text class="t" transform="translate(1474.90 773.75) rotate(-90)" text-anchor="middle">Frequency</text>
<text class="t" transform="translate(1841.30 773.75) rotate(-90)" text-anchor="middle">Magnitude</text>
</g>
<text class="c" filter="url(#cb)" x="1644.50" y="945.90">(l)</text>
</g>
<g id="panel-m">
<g filter="url(#hb)" shape-rendering="crispEdges"><rect x="28.30" y="987.40" width="299.10" height="223.10" fill="#0040ff"/>
<g transform="translate(28.30 987.40) scale(4.67344 13.94375)" shape-rendering="crispEdges"><path fill="#000080" d="M4 4h1v1h-1zM9 4h2v1h-2zM15 4h1v1h-1zM20 4h1v1h-1zM26 4h1v1h-1zM31 4h1v1h-1zM36 4h1v1h-1zM42 4h1v1h-1zM47 4h1v1h-1zM53 4h1v1h-1zM58 4h1v1h-1zM4 5h1v1h-1zM9 5h1v1h-1zM15 5h1v1h-1zM20 5h1v1h-1zM26 5h1v1h-1zM36 5h1v1h-1zM42 5h1v1h-1zM53 5h1v1h-1zM4 6h1v1h-1zM9 6h2v1h-2zM15 6h1v1h-1zM20 6h1v1h-1zM26 6h1v1h-1zM31 6h1v1h-1zM36 6h1v1h-1zM42 6h1v1h-1zM47 6h1v1h-1zM52 6h2v1h-2zM58 6h1v1h-1zM4 8h1v1h-1zM9 8h2v1h-2zM15 8h1v1h-1zM20 8h1v1h-1zM26 8h1v1h-1zM31 8h1v1h-1zM36 8h1v1h-1zM42 8h1v1h-1zM47 8h1v1h-1zM52 8h2v1h-2zM58 8h1v1h-1zM4 9h1v1h-1zM9 9h1v1h-1zM15 9h1v1h-1zM20 9h1v1h-1zM26 9h1v1h-1zM36 9h1v1h-1zM42 9h1v1h-1zM53 9h1v1h-1zM4 10h1v1h-1zM9 10h2v1h-2zM15 10h1v1h-1zM20 10h1v1h-1zM26 10h1v1h-1zM31 10h1v1h-1zM36 10h1v1h-1zM42 10h1v1h-1zM47 10h1v1h-1zM53 10h1v1h-1zM58 10h1v1h-1z"/><path fill="#0000b9" d="M4 3h1v1h-1zM9 3h2v1h-2zM15 3h1v1h-1zM20 3h1v1h-1zM26 3h1v1h-1zM31 3h1v1h-1zM36 3h1v1h-1zM42 3h1v1h-1zM47 3h1v1h-1zM53 3h1v1h-1zM58 3h1v1h-1zM14 4h1v1h-1zM21 4h1v1h-1zM25 4h1v1h-1zM37 4h1v1h-1zM41 4h1v1h-1zM48 4h1v1h-1zM52 4h1v1h-1zM10 5h1v1h-1zM25 5h1v1h-1zM31 5h1v1h-1zM37 5h1v1h-1zM47 5h1v1h-1zM52 5h1v1h-1zM58 5h1v1h-1zM25 6h1v1h-1zM37 6h1v1h-1zM4 7h1v1h-1zM15 7h1v1h-1zM31 7h1v1h-1zM41 7h1v1h-1zM47 7h1v1h-1zM25 8h1v1h-1zM37 8h1v1h-1zM10 9h1v1h-1zM25 9h1v1h-1zM31 9h1v1h-1zM37 9h1v1h-1zM47 9h1v1h-1zM52 9h1v1h-1zM58 9h1v1h-1zM14 10h1v1h-1zM21 10h1v1h-1zM25 10h1v1h-1zM37 10h1v1h-1zM41 10h1v1h-1zM48 10h1v1h-1zM52 10h1v1h-1zM4 11h1v1h-1zM9 11h2v1h-2zM15 11h1v1h-1zM20 11h1v1h-1zM26 11h1v1h-1zM31 11h1v1h-1zM36 11h1v1h-1zM42 11h1v1h-1zM47 11h1v1h-1zM53 11h1v1h-1zM58 11h1v1h-1z"/><path fill="#0000ff" d="M3 3h1v1h-1zM5 3h1v1h-1zM14 3h1v1h-1zM16 3h1v1h-1zM21 3h1v1h-1zM25 3h1v1h-1zM30 3h1v1h-1zM32 3h1v1h-1zM37 3h1v1h-1zM41 3h1v1h-1zM43 3h1v1h-1zM46 3h1v1h-1zM48 3h1v1h-1zM52 3h1v1h-1zM57 3h1v1h-1zM3 4h1v1h-1zM5 4h1v1h-1zM8 4h1v1h-1zM11 4h1v1h-1zM16 4h1v1h-1zM19 4h1v1h-1zM27 4h1v1h-1zM30 4h1v1h-1zM32 4h1v1h-1zM35 4h1v1h-1zM43 4h1v1h-1zM46 4h1v1h-1zM54 4h1v1h-1zM57 4h1v1h-1zM59 4h1v1h-1zM21 5h1v1h-1zM41 5h1v1h-1zM48 5h1v1h-1zM0 6h1v1h-1zM5 6h1v1h-1zM14 6h1v1h-1zM21 6h2v1h-2zM24 6h1v1h-1zM27 6h1v1h-1zM30 6h1v1h-1zM32 6h2v1h-2zM40 6h2v1h-2zM48 6h1v1h-1zM51 6h1v1h-1zM59 6h4v1h-4zM0 7h1v1h-1zM3 7h1v1h-1zM5 7h2v1h-2zM8 7h2v1h-2zM11 7h1v1h-1zM13 7h2v1h-2zM16 7h1v1h-1zM19 7h4v1h-4zM24 7h1v1h-1zM26 7h2v1h-2zM29 7h2v1h-2zM32 7h2v1h-2zM35 7h2v1h-2zM38 7h1v1h-1zM40 7h1v1h-1zM42 7h2v1h-2zM46 7h1v1h-1zM48 7h2v1h-2zM51 7h1v1h-1zM53 7h2v1h-2zM56 7h5v1h-5zM62 7h1v1h-1zM0 8h1v1h-1zM5 8h1v1h-1zM14 8h1v1h-1zM21 8h2v1h-2zM24 8h1v1h-1zM27 8h1v1h-1zM30 8h1v1h-1zM32 8h2v1h-2zM40 8h2v1h-2zM48 8h1v1h-1zM51 8h1v1h-1zM59 8h4v1h-4zM21 9h1v1h-1zM41 9h1v1h-1zM48 9h1v1h-1zM3 10h1v1h-1zM5 10h1v1h-1zM8 10h1v1h-1zM11 10h1v1h-1zM16 10h1v1h-1zM19 10h1v1h-1zM27 10h1v1h-1zM30 10h1v1h-1zM32 10h1v1h-1zM35 10h1v1h-1zM43 10h1v1h-1zM46 10h1v1h-1zM54 10h1v1h-1zM57 10h1v1h-1zM59 10h1v1h-1zM3 11h1v1h-1zM5 11h1v1h-1zM14 11h1v1h-1zM16 11h1v1h-1zM21 11h1v1h-1zM25 11h1v1h-1zM30 11h1v1h-1zM32 11h1v1h-1zM37 11h1v1h-1zM41 11h1v1h-1zM43 11h1v1h-1zM46 11h1v1h-1zM48 11h1v1h-1zM52 11h1v1h-1zM57 11h1v1h-1z"/><path fill="#0029ff" d="M3 2h2v1h-2zM9 2h2v1h-2zM15 2h1v1h-1zM20 2h1v1h-1zM25 2h2v1h-2zM30 2h1v1h-1zM36 2h2v1h-2zM42 2h1v1h-1zM47 2h1v1h-1zM52 2h2v1h-2zM58 2h1v1h-1zM11 3h1v1h-1zM27 3h1v1h-1zM35 3h1v1h-1zM54 3h1v1h-1zM59 3h1v1h-1zM62 3h1v1h-1zM0 4h1v1h-1zM13 4h1v1h-1zM22 4h1v1h-1zM24 4h1v1h-1zM38 4h1v1h-1zM40 4h1v1h-1zM49 4h1v1h-1zM51 4h1v1h-1zM62 4h1v1h-1zM0 5h2v1h-2zM3 5h1v1h-1zM5 5h2v1h-2zM8 5h1v1h-1zM11 5h1v1h-1zM13 5h2v1h-2zM16 5h4v1h-4zM22 5h1v1h-1zM24 5h1v1h-1zM27 5h3v1h-3zM33 5h1v1h-1zM35 5h1v1h-1zM38 5h1v1h-1zM40 5h1v1h-1zM43 5h4v1h-4zM49 5h1v1h-1zM51 5h1v1h-1zM54 5h1v1h-1zM56 5h1v1h-1zM59 5h4v1h-4zM1 6h3v1h-3zM6 6h3v1h-3zM11 6h3v1h-3zM16 6h4v1h-4zM23 6h1v1h-1zM28 6h2v1h-2zM34 6h2v1h-2zM38 6h2v1h-2zM43 6h4v1h-4zM49 6h2v1h-2zM54 6h4v1h-4zM2 7h1v1h-1zM17 7h2v1h-2zM1 8h3v1h-3zM6 8h3v1h-3zM11 8h3v1h-3zM16 8h4v1h-4zM23 8h1v1h-1zM28 8h2v1h-2zM34 8h2v1h-2zM38 8h2v1h-2zM43 8h4v1h-4zM49 8h2v1h-2zM54 8h4v1h-4zM0 9h2v1h-2zM3 9h1v1h-1zM5 9h2v1h-2zM8 9h1v1h-1zM11 9h1v1h-1zM13 9h2v1h-2zM16 9h4v1h-4zM22 9h1v1h-1zM24 9h1v1h-1zM27 9h3v1h-3zM33 9h1v1h-1zM35 9h1v1h-1zM38 9h1v1h-1zM40 9h1v1h-1zM43 9h4v1h-4zM49 9h1v1h-1zM51 9h1v1h-1zM54 9h1v1h-1zM56 9h1v1h-1zM59 9h4v1h-4zM0 10h1v1h-1zM13 10h1v1h-1zM22 10h1v1h-1zM24 10h1v1h-1zM38 10h1v1h-1zM40 10h1v1h-1zM49 10h1v1h-1zM51 10h1v1h-1zM62 10h1v1h-1zM11 11h1v1h-1zM27 11h1v1h-1zM35 11h1v1h-1zM54 11h1v1h-1zM59 11h1v1h-1zM62 11h1v1h-1zM3 12h2v1h-2zM9 12h2v1h-2zM15 12h1v1h-1zM20 12h1v1h-1zM25 12h2v1h-2zM30 12h1v1h-1zM36 12h2v1h-2zM42 12h1v1h-1zM47 12h1v1h-1zM52 12h2v1h-2zM58 12h1v1h-1z"/><path fill="#0075ff" d="M32 0h1v1h-1zM57 0h1v1h-1zM62 0h2v1h-2zM62 1h2v1h-2zM14 2h1v1h-1zM21 2h1v1h-1zM31 2h1v1h-1zM41 2h1v1h-1zM46 2h1v1h-1zM48 2h1v1h-1zM57 2h1v1h-1zM62 2h2v1h-2zM0 3h1v1h-1zM8 3h1v1h-1zM13 3h1v1h-1zM19 3h1v1h-1zM22 3h1v1h-1zM24 3h1v1h-1zM38 3h1v1h-1zM40 3h1v1h-1zM51 3h1v1h-1zM63 3h1v1h-1zM1 4h2v1h-2zM6 4h1v1h-1zM17 4h2v1h-2zM29 4h1v1h-1zM33 4h1v1h-1zM44 4h2v1h-2zM56 4h1v1h-1zM60 4h1v1h-1zM63 4h1v1h-1zM2 5h1v1h-1zM7 5h1v1h-1zM30 5h1v1h-1zM32 5h1v1h-1zM34 5h1v1h-1zM55 5h1v1h-1zM57 5h1v1h-1zM63 5h1v1h-1zM63 6h1v1h-1zM10 7h1v1h-1zM12 7h1v1h-1zM23 7h1v1h-1zM25 7h1v1h-1zM37 7h1v1h-1zM39 7h1v1h-1zM44 7h2v1h-2zM50 7h1v1h-1zM52 7h1v1h-1zM61 7h1v1h-1zM63 7h1v1h-1zM63 8h1v1h-1zM2 9h1v1h-1zM7 9h1v1h-1zM30 9h1v1h-1zM32 9h1v1h-1zM34 9h1v1h-1zM55 9h1v1h-1zM57 9h1v1h-1zM63 9h1v1h-1zM1 10h2v1h-2zM6 10h1v1h-1zM17 10h2v1h-2zM29 10h1v1h-1zM33 10h1v1h-1zM44 10h2v1h-2zM56 10h1v1h-1zM60 10h1v1h-1zM63 10h1v1h-1zM0 11h1v1h-1zM8 11h1v1h-1zM13 11h1v1h-1zM19 11h1v1h-1zM22 11h1v1h-1zM24 11h1v1h-1zM38 11h1v1h-1zM40 11h1v1h-1zM51 11h1v1h-1zM63 11h1v1h-1zM14 12h1v1h-1zM21 12h1v1h-1zM31 12h1v1h-1zM41 12h1v1h-1zM46 12h1v1h-1zM48 12h1v1h-1zM57 12h1v1h-1zM62 12h2v1h-2zM62 13h2v1h-2zM32 14h1v1h-1zM57 14h1v1h-1zM62 14h2v1h-2zM32 15h1v1h-1zM57 15h1v1h-1zM62 15h2v1h-2z"/><path fill="#00bdff" d="M3 0h1v1h-1zM5 0h1v1h-1zM14 0h1v1h-1zM16 0h1v1h-1zM30 0h1v1h-1zM59 0h1v1h-1zM3 1h1v1h-1zM5 1h1v1h-1zM14 1h1v1h-1zM16 1h1v1h-1zM30 1h1v1h-1zM32 1h1v1h-1zM57 1h1v1h-1zM59 1h1v1h-1zM0 2h1v1h-1zM5 2h1v1h-1zM8 2h1v1h-1zM11 2h1v1h-1zM16 2h1v1h-1zM19 2h1v1h-1zM32 2h1v1h-1zM35 2h1v1h-1zM43 2h1v1h-1zM2 3h1v1h-1zM6 3h1v1h-1zM29 3h1v1h-1zM33 3h1v1h-1zM49 3h1v1h-1zM56 3h1v1h-1zM60 3h1v1h-1zM7 4h1v1h-1zM28 4h1v1h-1zM34 4h1v1h-1zM55 4h1v1h-1zM61 4h1v1h-1zM12 5h1v1h-1zM23 5h1v1h-1zM39 5h1v1h-1zM50 5h1v1h-1zM1 7h1v1h-1zM12 9h1v1h-1zM23 9h1v1h-1zM39 9h1v1h-1zM50 9h1v1h-1zM7 10h1v1h-1zM28 10h1v1h-1zM34 10h1v1h-1zM55 10h1v1h-1zM61 10h1v1h-1zM2 11h1v1h-1zM6 11h1v1h-1zM29 11h1v1h-1zM33 11h1v1h-1zM49 11h1v1h-1zM56 11h1v1h-1zM60 11h1v1h-1zM0 12h1v1h-1zM5 12h1v1h-1zM8 12h1v1h-1zM11 12h1v1h-1zM16 12h1v1h-1zM19 12h1v1h-1zM32 12h1v1h-1zM35 12h1v1h-1zM43 12h1v1h-1zM3 13h1v1h-1zM5 13h1v1h-1zM14 13h1v1h-1zM16 13h1v1h-1zM30 13h1v1h-1zM32 13h1v1h-1zM57 13h1v1h-1zM59 13h1v1h-1zM3 14h1v1h-1zM5 14h1v1h-1zM14 14h1v1h-1zM16 14h1v1h-1zM30 14h1v1h-1zM59 14h1v1h-1zM3 15h1v1h-1zM5 15h1v1h-1zM14 15h1v1h-1zM16 15h1v1h-1zM30 15h1v1h-1zM59 15h1v1h-1z"/><path fill="#08f0ef" d="M19 0h1v1h-1zM27 0h1v1h-1zM29 0h1v1h-1zM35 0h1v1h-1zM41 0h1v1h-1zM54 0h1v1h-1zM56 0h1v1h-1zM0 1h1v1h-1zM6 1h1v1h-1zM8 1h1v1h-1zM13 1h1v1h-1zM19 1h1v1h-1zM27 1h1v1h-1zM29 1h1v1h-1zM35 1h1v1h-1zM37 1h1v1h-1zM46 1h1v1h-1zM48 1h1v1h-1zM56 1h1v1h-1zM13 2h1v1h-1zM22 2h1v1h-1zM24 2h1v1h-1zM27 2h1v1h-1zM29 2h1v1h-1zM38 2h1v1h-1zM51 2h1v1h-1zM54 2h1v1h-1zM56 2h1v1h-1zM59 2h1v1h-1zM17 3h1v1h-1zM44 3h2v1h-2zM12 4h1v1h-1zM23 4h1v1h-1zM39 4h1v1h-1zM50 4h1v1h-1zM7 7h1v1h-1zM28 7h1v1h-1zM34 7h1v1h-1zM55 7h1v1h-1zM12 10h1v1h-1zM23 10h1v1h-1zM39 10h1v1h-1zM50 10h1v1h-1zM17 11h1v1h-1zM44 11h2v1h-2zM13 12h1v1h-1zM22 12h1v1h-1zM24 12h1v1h-1zM27 12h1v1h-1zM29 12h1v1h-1zM38 12h1v1h-1zM51 12h1v1h-1zM54 12h1v1h-1zM56 12h1v1h-1zM59 12h1v1h-1zM0 13h1v1h-1zM6 13h1v1h-1zM8 13h1v1h-1zM13 13h1v1h-1zM19 13h1v1h-1zM27 13h1v1h-1zM29 13h1v1h-1zM35 13h1v1h-1zM37 13h1v1h-1zM46 13h1v1h-1zM48 13h1v1h-1zM56 13h1v1h-1zM19 14h1v1h-1zM27 14h1v1h-1zM29 14h1v1h-1zM35 14h1v1h-1zM41 14h1v1h-1zM54 14h1v1h-1zM56 14h1v1h-1zM19 15h1v1h-1zM27 15h1v1h-1zM29 15h1v1h-1zM35 15h1v1h-1zM41 15h1v1h-1zM54 15h1v1h-1zM56 15h1v1h-1z"/><path fill="#3effb9" d="M0 0h1v1h-1zM6 0h1v1h-1zM8 0h1v1h-1zM11 0h1v1h-1zM13 0h1v1h-1zM17 0h1v1h-1zM25 0h1v1h-1zM33 0h1v1h-1zM37 0h1v1h-1zM40 0h1v1h-1zM43 0h1v1h-1zM48 0h1v1h-1zM52 0h1v1h-1zM60 0h1v1h-1zM9 1h3v1h-3zM15 1h1v1h-1zM17 1h1v1h-1zM21 1h1v1h-1zM26 1h1v1h-1zM33 1h1v1h-1zM40 1h4v1h-4zM51 1h4v1h-4zM60 1h1v1h-1zM2 2h1v1h-1zM33 2h1v1h-1zM40 2h1v1h-1zM60 2h1v1h-1zM1 3h1v1h-1zM7 3h1v1h-1zM12 3h1v1h-1zM18 3h1v1h-1zM23 3h1v1h-1zM28 3h1v1h-1zM34 3h1v1h-1zM50 3h1v1h-1zM55 3h1v1h-1zM61 3h1v1h-1zM1 11h1v1h-1zM7 11h1v1h-1zM12 11h1v1h-1zM18 11h1v1h-1zM23 11h1v1h-1zM28 11h1v1h-1zM34 11h1v1h-1zM50 11h1v1h-1zM55 11h1v1h-1zM61 11h1v1h-1zM2 12h1v1h-1zM33 12h1v1h-1zM40 12h1v1h-1zM60 12h1v1h-1zM9 13h3v1h-3zM15 13h1v1h-1zM17 13h1v1h-1zM21 13h1v1h-1zM26 13h1v1h-1zM33 13h1v1h-1zM40 13h4v1h-4zM51 13h4v1h-4zM60 13h1v1h-1zM0 14h1v1h-1zM6 14h1v1h-1zM8 14h1v1h-1zM11 14h1v1h-1zM13 14h1v1h-1zM17 14h1v1h-1zM25 14h1v1h-1zM33 14h1v1h-1zM37 14h1v1h-1zM40 14h1v1h-1zM43 14h1v1h-1zM48 14h1v1h-1zM52 14h1v1h-1zM60 14h1v1h-1zM0 15h1v1h-1zM6 15h1v1h-1zM8 15h1v1h-1zM11 15h1v1h-1zM13 15h1v1h-1zM17 15h1v1h-1zM25 15h1v1h-1zM33 15h1v1h-1zM37 15h1v1h-1zM40 15h1v1h-1zM43 15h1v1h-1zM52 15h1v1h-1zM60 15h1v1h-1z"/><path fill="#84ff73" d="M2 0h1v1h-1zM4 0h1v1h-1zM7 0h1v1h-1zM9 0h2v1h-2zM15 0h1v1h-1zM21 0h1v1h-1zM24 0h1v1h-1zM26 0h1v1h-1zM31 0h1v1h-1zM38 0h2v1h-2zM42 0h1v1h-1zM44 0h1v1h-1zM46 0h2v1h-2zM49 0h1v1h-1zM53 0h1v1h-1zM2 1h1v1h-1zM4 1h1v1h-1zM7 1h1v1h-1zM12 1h1v1h-1zM20 1h1v1h-1zM22 1h1v1h-1zM24 1h2v1h-2zM31 1h1v1h-1zM36 1h1v1h-1zM38 1h2v1h-2zM44 1h2v1h-2zM47 1h1v1h-1zM49 1h1v1h-1zM58 1h1v1h-1zM1 2h1v1h-1zM6 2h2v1h-2zM17 2h2v1h-2zM44 2h2v1h-2zM49 2h2v1h-2zM55 2h1v1h-1zM61 2h1v1h-1zM39 3h1v1h-1zM39 11h1v1h-1zM1 12h1v1h-1zM6 12h2v1h-2zM17 12h2v1h-2zM44 12h2v1h-2zM49 12h2v1h-2zM55 12h1v1h-1zM61 12h1v1h-1zM2 13h1v1h-1zM4 13h1v1h-1zM7 13h1v1h-1zM12 13h1v1h-1zM20 13h1v1h-1zM22 13h1v1h-1zM24 13h2v1h-2zM31 13h1v1h-1zM36 13h1v1h-1zM38 13h2v1h-2zM44 13h2v1h-2zM47 13h1v1h-1zM49 13h1v1h-1zM58 13h1v1h-1zM2 14h1v1h-1zM4 14h1v1h-1zM7 14h1v1h-1zM9 14h2v1h-2zM15 14h1v1h-1zM21 14h1v1h-1zM24 14h1v1h-1zM26 14h1v1h-1zM31 14h1v1h-1zM38 14h2v1h-2zM42 14h1v1h-1zM44 14h1v1h-1zM46 14h2v1h-2zM49 14h1v1h-1zM53 14h1v1h-1zM2 15h1v1h-1zM4 15h1v1h-1zM7 15h1v1h-1zM9 15h2v1h-2zM15 15h1v1h-1zM21 15h1v1h-1zM24 15h1v1h-1zM26 15h1v1h-1zM31 15h1v1h-1zM38 15h2v1h-2zM42 15h1v1h-1zM44 15h1v1h-1zM46 15h4v1h-4zM53 15h1v1h-1z"/><path fill="#c1ff35" d="M12 0h1v1h-1zM20 0h1v1h-1zM22 0h2v1h-2zM34 0h1v1h-1zM36 0h1v1h-1zM45 0h1v1h-1zM50 0h2v1h-2zM55 0h1v1h-1zM58 0h1v1h-1zM18 1h1v1h-1zM23 1h1v1h-1zM34 1h1v1h-1zM50 1h1v1h-1zM55 1h1v1h-1zM12 2h1v1h-1zM23 2h1v1h-1zM28 2h1v1h-1zM34 2h1v1h-1zM12 12h1v1h-1zM23 12h1v1h-1zM28 12h1v1h-1zM34 12h1v1h-1zM18 13h1v1h-1zM23 13h1v1h-1zM34 13h1v1h-1zM50 13h1v1h-1zM55 13h1v1h-1zM12 14h1v1h-1zM20 14h1v1h-1zM22 14h2v1h-2zM34 14h1v1h-1zM36 14h1v1h-1zM45 14h1v1h-1zM50 14h2v1h-2zM55 14h1v1h-1zM58 14h1v1h-1zM12 15h1v1h-1zM20 15h1v1h-1zM22 15h2v1h-2zM34 15h1v1h-1zM36 15h1v1h-1zM45 15h1v1h-1zM50 15h1v1h-1zM55 15h1v1h-1zM58 15h1v1h-1z"/><path fill="#ffec00" d="M18 0h1v1h-1zM1 1h1v1h-1zM28 1h1v1h-1zM39 2h1v1h-1zM39 12h1v1h-1zM1 13h1v1h-1zM28 13h1v1h-1zM18 14h1v1h-1zM51 15h1v1h-1zM61 15h1v1h-1z"/><path fill="#ffb800" d="M28 0h1v1h-1zM61 0h1v1h-1zM28 14h1v1h-1zM61 14h1v1h-1zM18 15h1v1h-1zM28 15h1v1h-1z"/><path fill="#ff7100" d="M1 0h1v1h-1zM61 1h1v1h-1zM61 13h1v1h-1zM1 14h1v1h-1z"/><path fill="#910000" d="M1 15h1v1h-1z"/></g>
</g>
<rect x="346.00" y="987.40" width="11.30" height="223.10" fill="url(#jet)"/>
<g filter="url(#tb)">
<rect x="28.30" y="987.40" width="299.10" height="223.10" fill="none" stroke="#333" stroke-width="0.7"/>
<rect x="346.00" y="987.40" width="11.30" height="223.10" fill="none" stroke="#333" stroke-width="0.7"/>
<text class="t" x="23.70" y="1206.13" text-anchor="end">0</text>
<text class="t" x="23.70" y="1178.24" text-anchor="end">2</text>
<text class="t" x="23.70" y="1150.35" text-anchor="end">4</text>
<text class="t" x="23.70" y="1122.47" text-anchor="end">6</text>
<text class="t" x="23.70" y="1094.58" text-anchor="end">8</text>
<text class="t" x="23.70" y="1066.69" text-anchor="end">10</text>
<text class="t" x="23.70" y="1038.80" text-anchor="end">12</text>
<text class="t" x="23.70" y="1010.92" text-anchor="end">14</text>
<text class="t" x="30.64" y="1220.70" text-anchor="middle">0</text>
<text class="t" x="77.37" y="1220.70" text-anchor="middle">10</text>
<text class="t" x="124.11" y="1220.70" text-anchor="middle">20</text>
<text class="t" x="170.84" y="1220.70" text-anchor="middle">30</text>
<text class="t" x="217.57" y="1220.70" text-anchor="middle">40</text>
<text class="t" x="264.31" y="1220.70" text-anchor="middle">50</text>
<text class="t" x="311.04" y="1220.70" text-anchor="middle">60</text>
<text class="t" x="361.50" y="1027.00">200</text>
<text class="t" x="361.50" y="1073.50">150</text>
<text class="t" x="361.50" y="1120.25">100</text>
<text class="t" x="361.50" y="1167.00">50</text>
<path d="M28.30 1203.53h-2.6M28.30 1175.64h-2.6M28.30 1147.75h-2.6M28.30 1119.87h-2.6M28.30 1091.98h-2.6M28.30 1064.09h-2.6M28.30 1036.20h-2.6M28.30 1008.32h-2.6M30.64 1210.50v2.6M77.37 1210.50v2.6M124.11 1210.50v2.6M170.84 1210.50v2.6M217.57 1210.50v2.6M264.31 1210.50v2.6M311.04 1210.50v2.6M357.30 1024.40h2.6M357.30 1070.90h2.6M357.30 1117.65h2.6M357.30 1164.40h2.6" stroke="#222" stroke-width="0.6" fill="none"/>
<text class="t" x="177.85" y="1230.00" text-anchor="middle">Time</text>
<text class="t" transform="translate(11.30 1098.95) rotate(-90)" text-anchor="middle">Frequency</text>
<text class="t" transform="translate(382.30 1098.95) rotate(-90)" text-anchor="middle">Magnitude</text>
</g>
<text class="c" filter="url(#cb)" x="180.00" y="1270.65">(m)</text>
</g>
<g id="panel-n">
<g filter="url(#hb)" shape-rendering="crispEdges"><rect x="519.30" y="987.40" width="299.10" height="223.10" fill="#0040ff"/>
<g transform="translate(519.30 987.40) scale(4.67344 13.94375)" shape-rendering="crispEdges"><path fill="#000080" d="M5 5h1v1h-1zM11 5h1v1h-1zM22 5h1v1h-1zM27 5h1v1h-1zM32 5h1v1h-1zM43 5h1v1h-1zM48 5h2v1h-2zM54 5h1v1h-1zM59 5h1v1h-1zM5 6h1v1h-1zM11 6h1v1h-1zM22 6h1v1h-1zM27 6h1v1h-1zM32 6h1v1h-1zM43 6h1v1h-1zM48 6h1v1h-1zM59 6h1v1h-1zM5 8h1v1h-1zM11 8h1v1h-1zM22 8h1v1h-1zM27 8h1v1h-1zM32 8h1v1h-1zM43 8h1v1h-1zM48 8h1v1h-1zM59 8h1v1h-1zM5 9h1v1h-1zM11 9h1v1h-1zM22 9h1v1h-1zM27 9h1v1h-1zM32 9h1v1h-1zM43 9h1v1h-1zM48 9h2v1h-2zM54 9h1v1h-1zM59 9h1v1h-1z"/><path fill="#0000b9" d="M6 5h1v1h-1zM16 5h1v1h-1zM21 5h1v1h-1zM16 6h1v1h-1zM37 6h1v1h-1zM54 6h1v1h-1zM43 7h1v1h-1zM16 8h1v1h-1zM37 8h1v1h-1zM54 8h1v1h-1zM6 9h1v1h-1zM16 9h1v1h-1zM21 9h1v1h-1z"/><path fill="#0000ff" d="M5 4h1v1h-1zM16 4h1v1h-1zM22 4h1v1h-1zM54 4h1v1h-1zM0 5h1v1h-1zM10 5h1v1h-1zM33 5h1v1h-1zM38 5h1v1h-1zM6 6h1v1h-1zM21 6h1v1h-1zM38 6h1v1h-1zM49 6h1v1h-1zM5 7h1v1h-1zM9 7h1v1h-1zM16 7h1v1h-1zM23 7h1v1h-1zM27 7h2v1h-2zM31 7h2v1h-2zM38 7h1v1h-1zM54 7h1v1h-1zM59 7h1v1h-1zM6 8h1v1h-1zM21 8h1v1h-1zM38 8h1v1h-1zM49 8h1v1h-1zM0 9h1v1h-1zM10 9h1v1h-1zM33 9h1v1h-1zM38 9h1v1h-1zM5 10h1v1h-1zM16 10h1v1h-1zM22 10h1v1h-1zM54 10h1v1h-1z"/><path fill="#0029ff" d="M22 0h1v1h-1zM33 0h1v1h-1zM35 0h1v1h-1zM38 3h1v1h-1zM0 4h1v1h-1zM11 4h1v1h-1zM32 4h1v1h-1zM38 4h1v1h-1zM43 4h1v1h-1zM48 4h2v1h-2zM59 4h2v1h-2zM37 5h1v1h-1zM60 5h1v1h-1zM0 6h1v1h-1zM17 6h1v1h-1zM23 6h1v1h-1zM44 6h1v1h-1zM11 7h1v1h-1zM29 7h1v1h-1zM55 7h1v1h-1zM0 8h1v1h-1zM17 8h1v1h-1zM23 8h1v1h-1zM44 8h1v1h-1zM37 9h1v1h-1zM60 9h1v1h-1zM0 10h1v1h-1zM11 10h1v1h-1zM32 10h1v1h-1zM38 10h1v1h-1zM43 10h1v1h-1zM48 10h2v1h-2zM59 10h2v1h-2zM38 11h1v1h-1zM22 14h1v1h-1zM33 14h1v1h-1zM35 14h1v1h-1zM33 15h1v1h-1zM35 15h1v1h-1z"/><path fill="#0075ff" d="M10 0h1v1h-1zM20 0h1v1h-1zM37 0h1v1h-1zM39 0h2v1h-2zM46 0h2v1h-2zM53 0h1v1h-1zM20 1h2v1h-2zM21 2h1v1h-1zM38 2h1v1h-1zM51 2h1v1h-1zM57 2h1v1h-1zM39 3h1v1h-1zM6 4h1v1h-1zM10 4h1v1h-1zM21 4h1v1h-1zM26 4h1v1h-1zM39 4h1v1h-1zM4 5h1v1h-1zM12 5h1v1h-1zM23 5h1v1h-1zM40 5h1v1h-1zM55 5h1v1h-1zM4 6h1v1h-1zM10 6h1v1h-1zM20 6h1v1h-1zM28 6h1v1h-1zM31 6h1v1h-1zM33 6h1v1h-1zM36 6h1v1h-1zM40 6h1v1h-1zM50 6h1v1h-1zM53 6h1v1h-1zM0 7h1v1h-1zM12 7h1v1h-1zM17 7h1v1h-1zM44 7h1v1h-1zM47 7h1v1h-1zM4 8h1v1h-1zM10 8h1v1h-1zM20 8h1v1h-1zM28 8h1v1h-1zM31 8h1v1h-1zM33 8h1v1h-1zM36 8h1v1h-1zM40 8h1v1h-1zM50 8h1v1h-1zM53 8h1v1h-1zM4 9h1v1h-1zM12 9h1v1h-1zM23 9h1v1h-1zM40 9h1v1h-1zM55 9h1v1h-1zM6 10h1v1h-1zM10 10h1v1h-1zM21 10h1v1h-1zM26 10h1v1h-1zM39 10h1v1h-1zM39 11h1v1h-1zM21 12h1v1h-1zM38 12h1v1h-1zM51 12h1v1h-1zM57 12h1v1h-1zM20 13h2v1h-2zM10 14h1v1h-1zM20 14h1v1h-1zM37 14h1v1h-1zM39 14h2v1h-2zM46 14h2v1h-2zM53 14h1v1h-1zM0 15h1v1h-1zM4 15h1v1h-1zM43 15h2v1h-2zM52 15h1v1h-1zM61 15h1v1h-1z"/><path fill="#00bdff" d="M0 0h1v1h-1zM4 0h1v1h-1zM14 0h1v1h-1zM61 0h2v1h-2zM0 1h1v1h-1zM22 1h3v1h-3zM33 1h1v1h-1zM35 1h1v1h-1zM40 1h1v1h-1zM45 1h1v1h-1zM50 1h2v1h-2zM5 2h2v1h-2zM9 2h1v1h-1zM12 2h2v1h-2zM31 2h1v1h-1zM40 2h1v1h-1zM43 2h2v1h-2zM60 2h2v1h-2zM0 3h1v1h-1zM30 3h1v1h-1zM41 3h1v1h-1zM51 3h2v1h-2zM54 3h1v1h-1zM61 3h1v1h-1zM1 4h2v1h-2zM4 4h1v1h-1zM7 4h1v1h-1zM14 4h1v1h-1zM17 4h3v1h-3zM36 4h2v1h-2zM40 4h2v1h-2zM51 4h1v1h-1zM53 4h1v1h-1zM8 5h2v1h-2zM20 5h1v1h-1zM26 5h1v1h-1zM34 5h1v1h-1zM1 6h1v1h-1zM9 6h1v1h-1zM12 6h1v1h-1zM26 6h1v1h-1zM39 6h1v1h-1zM41 6h1v1h-1zM55 6h1v1h-1zM57 6h1v1h-1zM60 6h1v1h-1zM62 6h1v1h-1zM1 7h1v1h-1zM7 7h1v1h-1zM14 7h2v1h-2zM20 7h2v1h-2zM36 7h1v1h-1zM39 7h1v1h-1zM1 8h1v1h-1zM9 8h1v1h-1zM12 8h1v1h-1zM26 8h1v1h-1zM39 8h1v1h-1zM41 8h1v1h-1zM55 8h1v1h-1zM57 8h1v1h-1zM60 8h1v1h-1zM62 8h1v1h-1zM8 9h2v1h-2zM20 9h1v1h-1zM26 9h1v1h-1zM34 9h1v1h-1zM1 10h2v1h-2zM4 10h1v1h-1zM7 10h1v1h-1zM14 10h1v1h-1zM17 10h3v1h-3zM36 10h2v1h-2zM40 10h2v1h-2zM51 10h1v1h-1zM53 10h1v1h-1zM0 11h1v1h-1zM30 11h1v1h-1zM41 11h1v1h-1zM51 11h2v1h-2zM54 11h1v1h-1zM61 11h1v1h-1zM5 12h2v1h-2zM9 12h1v1h-1zM12 12h2v1h-2zM31 12h1v1h-1zM40 12h1v1h-1zM43 12h2v1h-2zM60 12h2v1h-2zM0 13h1v1h-1zM22 13h3v1h-3zM33 13h1v1h-1zM35 13h1v1h-1zM40 13h1v1h-1zM45 13h1v1h-1zM50 13h2v1h-2zM0 14h1v1h-1zM4 14h1v1h-1zM14 14h1v1h-1zM61 14h2v1h-2zM7 15h2v1h-2zM20 15h1v1h-1zM37 15h1v1h-1zM57 15h1v1h-1z"/><path fill="#08f0ef" d="M45 0h1v1h-1zM52 0h1v1h-1zM55 0h1v1h-1zM4 1h1v1h-1zM10 1h1v1h-1zM13 1h2v1h-2zM26 1h1v1h-1zM39 1h1v1h-1zM42 1h1v1h-1zM46 1h1v1h-1zM57 1h1v1h-1zM59 1h1v1h-1zM14 2h1v1h-1zM20 2h1v1h-1zM26 2h1v1h-1zM28 2h1v1h-1zM30 2h1v1h-1zM32 2h1v1h-1zM39 2h1v1h-1zM48 2h1v1h-1zM53 2h1v1h-1zM1 3h2v1h-2zM10 3h1v1h-1zM13 3h2v1h-2zM22 3h1v1h-1zM35 3h1v1h-1zM43 3h4v1h-4zM59 3h1v1h-1zM8 4h1v1h-1zM20 4h1v1h-1zM50 4h1v1h-1zM55 4h1v1h-1zM61 4h1v1h-1zM7 5h1v1h-1zM18 5h1v1h-1zM29 5h1v1h-1zM36 5h1v1h-1zM42 5h1v1h-1zM50 5h2v1h-2zM53 5h1v1h-1zM57 5h1v1h-1zM61 5h1v1h-1zM3 6h1v1h-1zM15 6h1v1h-1zM18 6h1v1h-1zM29 6h2v1h-2zM42 6h1v1h-1zM45 6h1v1h-1zM47 6h1v1h-1zM61 6h1v1h-1zM25 7h2v1h-2zM30 7h1v1h-1zM42 7h1v1h-1zM49 7h2v1h-2zM52 7h1v1h-1zM58 7h1v1h-1zM61 7h1v1h-1zM3 8h1v1h-1zM15 8h1v1h-1zM18 8h1v1h-1zM29 8h2v1h-2zM42 8h1v1h-1zM45 8h1v1h-1zM47 8h1v1h-1zM61 8h1v1h-1zM7 9h1v1h-1zM18 9h1v1h-1zM29 9h1v1h-1zM36 9h1v1h-1zM42 9h1v1h-1zM50 9h2v1h-2zM53 9h1v1h-1zM57 9h1v1h-1zM61 9h1v1h-1zM8 10h1v1h-1zM20 10h1v1h-1zM50 10h1v1h-1zM55 10h1v1h-1zM61 10h1v1h-1zM1 11h2v1h-2zM10 11h1v1h-1zM13 11h2v1h-2zM22 11h1v1h-1zM35 11h1v1h-1zM43 11h4v1h-4zM59 11h1v1h-1zM14 12h1v1h-1zM20 12h1v1h-1zM26 12h1v1h-1zM28 12h1v1h-1zM30 12h1v1h-1zM32 12h1v1h-1zM39 12h1v1h-1zM48 12h1v1h-1zM53 12h1v1h-1zM4 13h1v1h-1zM10 13h1v1h-1zM13 13h2v1h-2zM26 13h1v1h-1zM39 13h1v1h-1zM42 13h1v1h-1zM46 13h1v1h-1zM57 13h1v1h-1zM59 13h1v1h-1zM45 14h1v1h-1zM52 14h1v1h-1zM55 14h1v1h-1zM16 15h1v1h-1zM18 15h2v1h-2zM22 15h1v1h-1zM24 15h1v1h-1zM32 15h1v1h-1zM53 15h2v1h-2zM56 15h1v1h-1z"/><path fill="#3effb9" d="M2 0h1v1h-1zM9 0h1v1h-1zM15 0h2v1h-2zM18 0h2v1h-2zM21 0h1v1h-1zM23 0h1v1h-1zM25 0h1v1h-1zM30 0h1v1h-1zM32 0h1v1h-1zM36 0h1v1h-1zM38 0h1v1h-1zM54 0h1v1h-1zM56 0h2v1h-2zM59 0h2v1h-2zM1 1h1v1h-1zM9 1h1v1h-1zM11 1h2v1h-2zM25 1h1v1h-1zM29 1h1v1h-1zM32 1h1v1h-1zM34 1h1v1h-1zM36 1h2v1h-2zM43 1h1v1h-1zM47 1h1v1h-1zM53 1h2v1h-2zM56 1h1v1h-1zM60 1h1v1h-1zM0 2h1v1h-1zM7 2h2v1h-2zM17 2h1v1h-1zM19 2h1v1h-1zM25 2h1v1h-1zM29 2h1v1h-1zM34 2h4v1h-4zM41 2h2v1h-2zM50 2h1v1h-1zM52 2h1v1h-1zM59 2h1v1h-1zM62 2h1v1h-1zM3 3h1v1h-1zM5 3h3v1h-3zM9 3h1v1h-1zM12 3h1v1h-1zM17 3h1v1h-1zM24 3h1v1h-1zM31 3h1v1h-1zM34 3h1v1h-1zM36 3h2v1h-2zM42 3h1v1h-1zM53 3h1v1h-1zM56 3h2v1h-2zM60 3h1v1h-1zM62 3h1v1h-1zM9 4h1v1h-1zM12 4h1v1h-1zM23 4h3v1h-3zM27 4h1v1h-1zM33 4h2v1h-2zM42 4h1v1h-1zM58 4h1v1h-1zM62 4h1v1h-1zM1 5h1v1h-1zM14 5h2v1h-2zM24 5h1v1h-1zM28 5h1v1h-1zM31 5h1v1h-1zM39 5h1v1h-1zM45 5h2v1h-2zM58 5h1v1h-1zM7 6h2v1h-2zM13 6h1v1h-1zM19 6h1v1h-1zM24 6h2v1h-2zM34 6h2v1h-2zM52 6h1v1h-1zM2 7h1v1h-1zM22 7h1v1h-1zM53 7h1v1h-1zM57 7h1v1h-1zM7 8h2v1h-2zM13 8h1v1h-1zM19 8h1v1h-1zM24 8h2v1h-2zM34 8h2v1h-2zM52 8h1v1h-1zM1 9h1v1h-1zM14 9h2v1h-2zM24 9h1v1h-1zM28 9h1v1h-1zM31 9h1v1h-1zM39 9h1v1h-1zM45 9h2v1h-2zM58 9h1v1h-1zM9 10h1v1h-1zM12 10h1v1h-1zM23 10h3v1h-3zM27 10h1v1h-1zM33 10h2v1h-2zM42 10h1v1h-1zM58 10h1v1h-1zM62 10h1v1h-1zM3 11h1v1h-1zM5 11h3v1h-3zM9 11h1v1h-1zM12 11h1v1h-1zM17 11h1v1h-1zM24 11h1v1h-1zM31 11h1v1h-1zM34 11h1v1h-1zM36 11h2v1h-2zM42 11h1v1h-1zM53 11h1v1h-1zM56 11h2v1h-2zM60 11h1v1h-1zM62 11h1v1h-1zM0 12h1v1h-1zM7 12h2v1h-2zM17 12h1v1h-1zM19 12h1v1h-1zM25 12h1v1h-1zM29 12h1v1h-1zM34 12h4v1h-4zM41 12h2v1h-2zM50 12h1v1h-1zM52 12h1v1h-1zM59 12h1v1h-1zM62 12h1v1h-1zM1 13h1v1h-1zM9 13h1v1h-1zM11 13h2v1h-2zM25 13h1v1h-1zM29 13h1v1h-1zM32 13h1v1h-1zM34 13h1v1h-1zM36 13h2v1h-2zM43 13h1v1h-1zM47 13h1v1h-1zM53 13h2v1h-2zM56 13h1v1h-1zM60 13h1v1h-1zM2 14h1v1h-1zM9 14h1v1h-1zM15 14h2v1h-2zM18 14h2v1h-2zM21 14h1v1h-1zM23 14h1v1h-1zM25 14h1v1h-1zM30 14h1v1h-1zM32 14h1v1h-1zM36 14h1v1h-1zM38 14h1v1h-1zM54 14h1v1h-1zM56 14h2v1h-2zM59 14h2v1h-2zM28 15h1v1h-1zM31 15h1v1h-1zM34 15h1v1h-1zM36 15h1v1h-1zM39 15h1v1h-1zM58 15h2v1h-2z"/><path fill="#84ff73" d="M1 0h1v1h-1zM7 0h2v1h-2zM13 0h1v1h-1zM17 0h1v1h-1zM24 0h1v1h-1zM26 0h1v1h-1zM28 0h2v1h-2zM34 0h1v1h-1zM41 0h4v1h-4zM48 0h1v1h-1zM51 0h1v1h-1zM58 0h1v1h-1zM2 1h2v1h-2zM6 1h3v1h-3zM16 1h3v1h-3zM28 1h1v1h-1zM31 1h1v1h-1zM38 1h1v1h-1zM41 1h1v1h-1zM44 1h1v1h-1zM48 1h2v1h-2zM55 1h1v1h-1zM58 1h1v1h-1zM61 1h2v1h-2zM3 2h1v1h-1zM10 2h2v1h-2zM15 2h1v1h-1zM18 2h1v1h-1zM22 2h3v1h-3zM47 2h1v1h-1zM49 2h1v1h-1zM54 2h3v1h-3zM4 3h1v1h-1zM8 3h1v1h-1zM11 3h1v1h-1zM15 3h2v1h-2zM18 3h4v1h-4zM25 3h1v1h-1zM27 3h3v1h-3zM32 3h2v1h-2zM40 3h1v1h-1zM48 3h2v1h-2zM58 3h1v1h-1zM3 4h1v1h-1zM15 4h1v1h-1zM28 4h3v1h-3zM35 4h1v1h-1zM44 4h4v1h-4zM52 4h1v1h-1zM56 4h2v1h-2zM2 5h2v1h-2zM13 5h1v1h-1zM17 5h1v1h-1zM25 5h1v1h-1zM30 5h1v1h-1zM35 5h1v1h-1zM41 5h1v1h-1zM44 5h1v1h-1zM52 5h1v1h-1zM56 5h1v1h-1zM62 5h1v1h-1zM14 6h1v1h-1zM51 6h1v1h-1zM56 6h1v1h-1zM3 7h1v1h-1zM6 7h1v1h-1zM8 7h1v1h-1zM10 7h1v1h-1zM18 7h1v1h-1zM37 7h1v1h-1zM45 7h2v1h-2zM48 7h1v1h-1zM62 7h1v1h-1zM14 8h1v1h-1zM51 8h1v1h-1zM56 8h1v1h-1zM2 9h2v1h-2zM13 9h1v1h-1zM17 9h1v1h-1zM25 9h1v1h-1zM30 9h1v1h-1zM35 9h1v1h-1zM41 9h1v1h-1zM44 9h1v1h-1zM52 9h1v1h-1zM56 9h1v1h-1zM62 9h1v1h-1zM3 10h1v1h-1zM15 10h1v1h-1zM28 10h3v1h-3zM35 10h1v1h-1zM44 10h4v1h-4zM52 10h1v1h-1zM56 10h2v1h-2zM4 11h1v1h-1zM8 11h1v1h-1zM11 11h1v1h-1zM15 11h2v1h-2zM18 11h4v1h-4zM25 11h1v1h-1zM27 11h3v1h-3zM32 11h2v1h-2zM40 11h1v1h-1zM48 11h2v1h-2zM58 11h1v1h-1zM3 12h1v1h-1zM10 12h2v1h-2zM15 12h1v1h-1zM18 12h1v1h-1zM22 12h3v1h-3zM47 12h1v1h-1zM49 12h1v1h-1zM54 12h3v1h-3zM2 13h2v1h-2zM6 13h3v1h-3zM16 13h3v1h-3zM28 13h1v1h-1zM31 13h1v1h-1zM38 13h1v1h-1zM41 13h1v1h-1zM44 13h1v1h-1zM48 13h2v1h-2zM55 13h1v1h-1zM58 13h1v1h-1zM61 13h2v1h-2zM1 14h1v1h-1zM7 14h2v1h-2zM13 14h1v1h-1zM17 14h1v1h-1zM24 14h1v1h-1zM26 14h1v1h-1zM28 14h2v1h-2zM34 14h1v1h-1zM41 14h4v1h-4zM48 14h1v1h-1zM51 14h1v1h-1zM58 14h1v1h-1zM1 15h2v1h-2zM9 15h1v1h-1zM13 15h1v1h-1zM25 15h1v1h-1zM40 15h2v1h-2zM46 15h3v1h-3zM60 15h1v1h-1z"/><path fill="#c1ff35" d="M5 0h2v1h-2zM27 0h1v1h-1zM49 0h2v1h-2zM30 1h1v1h-1zM4 2h1v1h-1zM16 2h1v1h-1zM45 2h2v1h-2zM23 3h1v1h-1zM26 3h1v1h-1zM55 3h1v1h-1zM13 4h1v1h-1zM31 4h1v1h-1zM19 5h1v1h-1zM2 6h1v1h-1zM19 7h1v1h-1zM24 7h1v1h-1zM33 7h1v1h-1zM56 7h1v1h-1zM2 8h1v1h-1zM19 9h1v1h-1zM13 10h1v1h-1zM31 10h1v1h-1zM23 11h1v1h-1zM26 11h1v1h-1zM55 11h1v1h-1zM4 12h1v1h-1zM16 12h1v1h-1zM45 12h2v1h-2zM30 13h1v1h-1zM5 14h2v1h-2zM27 14h1v1h-1zM49 14h2v1h-2zM11 15h2v1h-2zM15 15h1v1h-1zM17 15h1v1h-1zM29 15h2v1h-2z"/><path fill="#ffec00" d="M3 0h1v1h-1zM11 0h1v1h-1zM5 1h1v1h-1zM52 1h1v1h-1zM2 2h1v1h-1zM27 2h1v1h-1zM58 2h1v1h-1zM47 3h1v1h-1zM47 5h1v1h-1zM46 6h1v1h-1zM58 6h1v1h-1zM60 7h1v1h-1zM46 8h1v1h-1zM58 8h1v1h-1zM47 9h1v1h-1zM47 11h1v1h-1zM2 12h1v1h-1zM27 12h1v1h-1zM58 12h1v1h-1zM5 13h1v1h-1zM52 13h1v1h-1zM3 14h1v1h-1zM11 14h1v1h-1zM10 15h1v1h-1zM21 15h1v1h-1zM55 15h1v1h-1zM62 15h1v1h-1z"/><path fill="#ffb800" d="M31 0h1v1h-1zM63 0h1v1h-1zM19 1h1v1h-1zM63 1h1v1h-1zM1 2h1v1h-1zM33 2h1v1h-1zM13 7h1v1h-1zM34 7h1v1h-1zM40 7h2v1h-2zM1 12h1v1h-1zM33 12h1v1h-1zM19 13h1v1h-1zM63 13h1v1h-1zM31 14h1v1h-1zM63 14h1v1h-1zM5 15h1v1h-1zM23 15h1v1h-1zM27 15h1v1h-1zM45 15h1v1h-1z"/><path fill="#ff7100" d="M12 0h1v1h-1zM27 1h1v1h-1zM63 2h1v1h-1zM50 3h1v1h-1zM35 7h1v1h-1zM51 7h1v1h-1zM63 7h1v1h-1zM50 11h1v1h-1zM63 12h1v1h-1zM27 13h1v1h-1zM12 14h1v1h-1zM6 15h1v1h-1zM14 15h1v1h-1zM42 15h1v1h-1zM49 15h1v1h-1zM63 15h1v1h-1z"/><path fill="#ff3400" d="M15 1h1v1h-1zM63 3h1v1h-1zM63 6h1v1h-1zM63 8h1v1h-1zM63 11h1v1h-1zM15 13h1v1h-1zM26 15h1v1h-1zM50 15h2v1h-2z"/><path fill="#dc0000" d="M63 4h1v1h-1zM63 5h1v1h-1zM4 7h1v1h-1zM63 9h1v1h-1zM63 10h1v1h-1zM3 15h1v1h-1z"/><path fill="#910000" d="M38 15h1v1h-1z"/></g>
</g>
<rect x="837.00" y="987.40" width="11.30" height="223.10" fill="url(#jet)"/>
<g filter="url(#tb)">
<rect x="519.30" y="987.40" width="299.10" height="223.10" fill="none" stroke="#333" stroke-width="0.7"/>
<rect x="837.00" y="987.40" width="11.30" height="223.10" fill="none" stroke="#333" stroke-width="0.7"/>
<text class="t" x="514.70" y="1206.13" text-anchor="end">0</text>
<text class="t" x="514.70" y="1178.24" text-anchor="end">2</text>
<text class="t" x="514.70" y="1150.35" text-anchor="end">4</text>
<text class="t" x="514.70" y="1122.47" text-anchor="end">6</text>
<text class="t" x="514.70" y="1094.58" text-anchor="end">8</text>
<text class="t" x="514.70" y="1066.69" text-anchor="end">10</text>
<text class="t" x="514.70" y="1038.80" text-anchor="end">12</text>
<text class="t" x="514.70" y="1010.92" text-anchor="end">14</text>
<text class="t" x="521.64" y="1220.70" text-anchor="middle">0</text>
<text class="t" x="568.37" y="1220.70" text-anchor="middle">10</text>
<text class="t" x="615.11" y="1220.70" text-anchor="middle">20</text>
<text class="t" x="661.84" y="1220.70" text-anchor="middle">30</text>
<text class="t" x="708.57" y="1220.70" text-anchor="middle">40</text>
<text class="t" x="755.31" y="1220.70" text-anchor="middle">50</text>
<text class="t" x="802.04" y="1220.70" text-anchor="middle">60</text>
<text class="t" x="852.50" y="1019.75">60</text>
<text class="t" x="852.50" y="1052.00">50</text>
<text class="t" x="852.50" y="1084.25">40</text>
<text class="t" x="852.50" y="1116.75">30</text>
<text class="t" x="852.50" y="1149.00">20</text>
<text class="t" x="852.50" y="1181.25">10</text>
<path d="M519.30 1203.53h-2.6M519.30 1175.64h-2.6M519.30 1147.75h-2.6M519.30 1119.87h-2.6M519.30 1091.98h-2.6M519.30 1064.09h-2.6M519.30 1036.20h-2.6M519.30 1008.32h-2.6M521.64 1210.50v2.6M568.37 1210.50v2.6M615.11 1210.50v2.6M661.84 1210.50v2.6M708.57 1210.50v2.6M755.31 1210.50v2.6M802.04 1210.50v2.6M848.30 1017.15h2.6M848.30 1049.40h2.6M848.30 1081.65h2.6M848.30 1114.15h2.6M848.30 1146.40h2.6M848.30 1178.65h2.6" stroke="#222" stroke-width="0.6" fill="none"/>
<text class="t" x="668.85" y="1230.00" text-anchor="middle">Time</text>
<text class="t" transform="translate(502.30 1098.95) rotate(-90)" text-anchor="middle">Frequency</text>
<text class="t" transform="translate(868.70 1098.95) rotate(-90)" text-anchor="middle">Magnitude</text>
</g>
<text class="c" filter="url(#cb)" x="681.75" y="1270.65">(n)</text>
</g>
<g id="panel-o">
<g filter="url(#hb)" shape-rendering="crispEdges"><rect x="1010.30" y="987.40" width="299.10" height="223.10" fill="#0040ff"/>
<g transform="translate(1010.30 987.40) scale(4.67344 13.94375)" shape-rendering="crispEdges"><path fill="#000080" d="M2 0h1v1h-1zM5 1h1v1h-1zM14 1h1v1h-1zM39 1h1v1h-1zM41 1h1v1h-1zM12 2h1v1h-1zM37 2h2v1h-2zM27 3h1v1h-1zM5 5h1v1h-1zM17 5h1v1h-1zM33 5h1v1h-1zM38 5h2v1h-2zM0 6h2v1h-2zM8 6h1v1h-1zM14 6h1v1h-1zM21 6h1v1h-1zM23 6h1v1h-1zM37 6h1v1h-1zM50 6h1v1h-1zM53 6h1v1h-1zM55 6h1v1h-1zM0 7h1v1h-1zM4 7h1v1h-1zM15 7h2v1h-2zM32 7h1v1h-1zM39 7h1v1h-1zM0 8h2v1h-2zM8 8h1v1h-1zM14 8h1v1h-1zM21 8h1v1h-1zM23 8h1v1h-1zM37 8h1v1h-1zM50 8h1v1h-1zM53 8h1v1h-1zM55 8h1v1h-1zM5 9h1v1h-1zM17 9h1v1h-1zM33 9h1v1h-1zM38 9h2v1h-2zM27 11h1v1h-1zM12 12h1v1h-1zM37 12h2v1h-2zM5 13h1v1h-1zM14 13h1v1h-1zM39 13h1v1h-1zM41 13h1v1h-1zM2 14h1v1h-1zM20 15h1v1h-1zM48 15h3v1h-3zM56 15h1v1h-1z"/><path fill="#0000b9" d="M1 0h1v1h-1zM9 0h1v1h-1zM12 0h1v1h-1zM26 0h1v1h-1zM43 0h1v1h-1zM45 0h1v1h-1zM48 0h1v1h-1zM12 1h1v1h-1zM15 1h1v1h-1zM22 1h1v1h-1zM27 1h1v1h-1zM36 1h1v1h-1zM51 1h1v1h-1zM53 1h1v1h-1zM1 2h1v1h-1zM11 2h1v1h-1zM27 2h1v1h-1zM36 2h1v1h-1zM55 2h1v1h-1zM62 2h1v1h-1zM1 3h1v1h-1zM4 3h1v1h-1zM9 3h1v1h-1zM57 3h1v1h-1zM62 3h1v1h-1zM5 4h1v1h-1zM10 4h1v1h-1zM15 4h1v1h-1zM25 4h1v1h-1zM29 4h1v1h-1zM43 4h1v1h-1zM0 5h2v1h-2zM6 5h2v1h-2zM15 5h2v1h-2zM27 5h1v1h-1zM49 5h1v1h-1zM59 5h1v1h-1zM4 6h1v1h-1zM15 6h1v1h-1zM17 6h1v1h-1zM19 6h1v1h-1zM28 6h1v1h-1zM44 6h1v1h-1zM60 6h3v1h-3zM5 7h1v1h-1zM7 7h2v1h-2zM33 7h1v1h-1zM52 7h1v1h-1zM59 7h1v1h-1zM4 8h1v1h-1zM15 8h1v1h-1zM17 8h1v1h-1zM19 8h1v1h-1zM28 8h1v1h-1zM44 8h1v1h-1zM60 8h3v1h-3zM0 9h2v1h-2zM6 9h2v1h-2zM15 9h2v1h-2zM27 9h1v1h-1zM49 9h1v1h-1zM59 9h1v1h-1zM5 10h1v1h-1zM10 10h1v1h-1zM15 10h1v1h-1zM25 10h1v1h-1zM29 10h1v1h-1zM43 10h1v1h-1zM1 11h1v1h-1zM4 11h1v1h-1zM9 11h1v1h-1zM57 11h1v1h-1zM62 11h1v1h-1zM1 12h1v1h-1zM11 12h1v1h-1zM27 12h1v1h-1zM36 12h1v1h-1zM55 12h1v1h-1zM62 12h1v1h-1zM12 13h1v1h-1zM15 13h1v1h-1zM22 13h1v1h-1zM27 13h1v1h-1zM36 13h1v1h-1zM51 13h1v1h-1zM53 13h1v1h-1zM1 14h1v1h-1zM9 14h1v1h-1zM12 14h1v1h-1zM26 14h1v1h-1zM43 14h1v1h-1zM45 14h1v1h-1zM48 14h1v1h-1zM2 15h2v1h-2zM15 15h1v1h-1zM29 15h2v1h-2zM57 15h1v1h-1zM60 15h1v1h-1z"/><path fill="#0000ff" d="M6 0h1v1h-1zM15 0h2v1h-2zM20 0h3v1h-3zM30 0h3v1h-3zM34 0h1v1h-1zM36 0h1v1h-1zM39 0h1v1h-1zM46 0h1v1h-1zM50 0h2v1h-2zM53 0h2v1h-2zM56 0h3v1h-3zM60 0h3v1h-3zM1 1h2v1h-2zM4 1h1v1h-1zM6 1h2v1h-2zM9 1h1v1h-1zM23 1h2v1h-2zM28 1h1v1h-1zM33 1h2v1h-2zM40 1h1v1h-1zM42 1h4v1h-4zM54 1h1v1h-1zM58 1h1v1h-1zM62 1h1v1h-1zM0 2h1v1h-1zM2 2h1v1h-1zM4 2h2v1h-2zM7 2h1v1h-1zM9 2h1v1h-1zM13 2h2v1h-2zM22 2h1v1h-1zM24 2h1v1h-1zM28 2h1v1h-1zM33 2h3v1h-3zM40 2h2v1h-2zM47 2h2v1h-2zM50 2h2v1h-2zM53 2h1v1h-1zM57 2h1v1h-1zM0 3h1v1h-1zM3 3h1v1h-1zM6 3h1v1h-1zM15 3h1v1h-1zM17 3h1v1h-1zM19 3h1v1h-1zM21 3h1v1h-1zM23 3h3v1h-3zM33 3h3v1h-3zM37 3h1v1h-1zM50 3h1v1h-1zM53 3h1v1h-1zM55 3h2v1h-2zM58 3h1v1h-1zM61 3h1v1h-1zM0 4h1v1h-1zM6 4h1v1h-1zM11 4h1v1h-1zM14 4h1v1h-1zM17 4h1v1h-1zM19 4h1v1h-1zM22 4h2v1h-2zM26 4h1v1h-1zM32 4h1v1h-1zM35 4h1v1h-1zM37 4h1v1h-1zM2 5h1v1h-1zM4 5h1v1h-1zM11 5h1v1h-1zM14 5h1v1h-1zM19 5h1v1h-1zM21 5h2v1h-2zM30 5h1v1h-1zM32 5h1v1h-1zM34 5h1v1h-1zM37 5h1v1h-1zM40 5h1v1h-1zM47 5h2v1h-2zM50 5h1v1h-1zM54 5h1v1h-1zM56 5h2v1h-2zM60 5h1v1h-1zM5 6h2v1h-2zM9 6h4v1h-4zM20 6h1v1h-1zM22 6h1v1h-1zM26 6h2v1h-2zM29 6h7v1h-7zM39 6h4v1h-4zM45 6h3v1h-3zM49 6h1v1h-1zM54 6h1v1h-1zM56 6h1v1h-1zM59 6h1v1h-1zM1 7h1v1h-1zM3 7h1v1h-1zM9 7h1v1h-1zM11 7h2v1h-2zM14 7h1v1h-1zM19 7h1v1h-1zM23 7h1v1h-1zM27 7h1v1h-1zM29 7h1v1h-1zM35 7h1v1h-1zM41 7h3v1h-3zM46 7h1v1h-1zM49 7h2v1h-2zM60 7h1v1h-1zM5 8h2v1h-2zM9 8h4v1h-4zM20 8h1v1h-1zM22 8h1v1h-1zM26 8h2v1h-2zM29 8h7v1h-7zM39 8h4v1h-4zM45 8h3v1h-3zM49 8h1v1h-1zM54 8h1v1h-1zM56 8h1v1h-1zM59 8h1v1h-1zM2 9h1v1h-1zM4 9h1v1h-1zM11 9h1v1h-1zM14 9h1v1h-1zM19 9h1v1h-1zM21 9h2v1h-2zM30 9h1v1h-1zM32 9h1v1h-1zM34 9h1v1h-1zM37 9h1v1h-1zM40 9h1v1h-1zM47 9h2v1h-2zM50 9h1v1h-1zM54 9h1v1h-1zM56 9h2v1h-2zM60 9h1v1h-1zM0 10h1v1h-1zM6 10h1v1h-1zM11 10h1v1h-1zM14 10h1v1h-1zM17 10h1v1h-1zM19 10h1v1h-1zM22 10h2v1h-2zM26 10h1v1h-1zM32 10h1v1h-1zM35 10h1v1h-1zM37 10h1v1h-1zM0 11h1v1h-1zM3 11h1v1h-1zM6 11h1v1h-1zM15 11h1v1h-1zM17 11h1v1h-1zM19 11h1v1h-1zM21 11h1v1h-1zM23 11h3v1h-3zM33 11h3v1h-3zM37 11h1v1h-1zM50 11h1v1h-1zM53 11h1v1h-1zM55 11h2v1h-2zM58 11h1v1h-1zM61 11h1v1h-1zM0 12h1v1h-1zM2 12h1v1h-1zM4 12h2v1h-2zM7 12h1v1h-1zM9 12h1v1h-1zM13 12h2v1h-2zM22 12h1v1h-1zM24 12h1v1h-1zM28 12h1v1h-1zM33 12h3v1h-3zM40 12h2v1h-2zM47 12h2v1h-2zM50 12h2v1h-2zM53 12h1v1h-1zM57 12h1v1h-1zM1 13h2v1h-2zM4 13h1v1h-1zM6 13h2v1h-2zM9 13h1v1h-1zM23 13h2v1h-2zM28 13h1v1h-1zM33 13h2v1h-2zM40 13h1v1h-1zM42 13h4v1h-4zM54 13h1v1h-1zM58 13h1v1h-1zM62 13h1v1h-1zM6 14h1v1h-1zM15 14h2v1h-2zM20 14h3v1h-3zM30 14h3v1h-3zM34 14h1v1h-1zM36 14h1v1h-1zM39 14h1v1h-1zM46 14h1v1h-1zM50 14h2v1h-2zM53 14h2v1h-2zM56 14h3v1h-3zM60 14h3v1h-3zM1 15h1v1h-1zM5 15h2v1h-2zM8 15h3v1h-3zM22 15h1v1h-1zM25 15h4v1h-4zM43 15h1v1h-1zM46 15h1v1h-1zM52 15h3v1h-3zM58 15h1v1h-1z"/><path fill="#0029ff" d="M3 0h1v1h-1zM5 0h1v1h-1zM8 0h1v1h-1zM10 0h2v1h-2zM13 0h2v1h-2zM17 0h1v1h-1zM19 0h1v1h-1zM25 0h1v1h-1zM28 0h2v1h-2zM37 0h1v1h-1zM40 0h2v1h-2zM44 0h1v1h-1zM47 0h1v1h-1zM3 1h1v1h-1zM11 1h1v1h-1zM13 1h1v1h-1zM17 1h5v1h-5zM30 1h2v1h-2zM37 1h2v1h-2zM46 1h3v1h-3zM52 1h1v1h-1zM59 1h2v1h-2zM6 2h1v1h-1zM10 2h1v1h-1zM18 2h1v1h-1zM21 2h1v1h-1zM39 2h1v1h-1zM44 2h1v1h-1zM46 2h1v1h-1zM56 2h1v1h-1zM58 2h1v1h-1zM5 3h1v1h-1zM7 3h2v1h-2zM10 3h2v1h-2zM13 3h2v1h-2zM22 3h1v1h-1zM26 3h1v1h-1zM28 3h2v1h-2zM36 3h1v1h-1zM38 3h3v1h-3zM43 3h3v1h-3zM1 4h3v1h-3zM9 4h1v1h-1zM12 4h2v1h-2zM31 4h1v1h-1zM39 4h4v1h-4zM47 4h1v1h-1zM50 4h2v1h-2zM53 4h2v1h-2zM56 4h5v1h-5zM3 5h1v1h-1zM8 5h1v1h-1zM12 5h1v1h-1zM20 5h1v1h-1zM25 5h1v1h-1zM28 5h1v1h-1zM31 5h1v1h-1zM36 5h1v1h-1zM43 5h3v1h-3zM51 5h3v1h-3zM55 5h1v1h-1zM61 5h2v1h-2zM7 6h1v1h-1zM16 6h1v1h-1zM43 6h1v1h-1zM48 6h1v1h-1zM57 6h2v1h-2zM22 7h1v1h-1zM28 7h1v1h-1zM53 7h1v1h-1zM55 7h1v1h-1zM62 7h1v1h-1zM7 8h1v1h-1zM16 8h1v1h-1zM43 8h1v1h-1zM48 8h1v1h-1zM57 8h2v1h-2zM3 9h1v1h-1zM8 9h1v1h-1zM12 9h1v1h-1zM20 9h1v1h-1zM25 9h1v1h-1zM28 9h1v1h-1zM31 9h1v1h-1zM36 9h1v1h-1zM43 9h3v1h-3zM51 9h3v1h-3zM55 9h1v1h-1zM61 9h2v1h-2zM1 10h3v1h-3zM9 10h1v1h-1zM12 10h2v1h-2zM31 10h1v1h-1zM39 10h4v1h-4zM47 10h1v1h-1zM50 10h2v1h-2zM53 10h2v1h-2zM56 10h5v1h-5zM5 11h1v1h-1zM7 11h2v1h-2zM10 11h2v1h-2zM13 11h2v1h-2zM22 11h1v1h-1zM26 11h1v1h-1zM28 11h2v1h-2zM36 11h1v1h-1zM38 11h3v1h-3zM43 11h3v1h-3zM6 12h1v1h-1zM10 12h1v1h-1zM18 12h1v1h-1zM21 12h1v1h-1zM39 12h1v1h-1zM44 12h1v1h-1zM46 12h1v1h-1zM56 12h1v1h-1zM58 12h1v1h-1zM3 13h1v1h-1zM11 13h1v1h-1zM13 13h1v1h-1zM17 13h5v1h-5zM30 13h2v1h-2zM37 13h2v1h-2zM46 13h3v1h-3zM52 13h1v1h-1zM59 13h2v1h-2zM3 14h1v1h-1zM5 14h1v1h-1zM8 14h1v1h-1zM10 14h2v1h-2zM13 14h2v1h-2zM17 14h1v1h-1zM19 14h1v1h-1zM25 14h1v1h-1zM28 14h2v1h-2zM37 14h1v1h-1zM40 14h2v1h-2zM44 14h1v1h-1zM47 14h1v1h-1zM19 15h1v1h-1zM33 15h1v1h-1zM44 15h1v1h-1zM55 15h1v1h-1z"/><path fill="#0075ff" d="M18 0h1v1h-1zM23 0h2v1h-2zM27 0h1v1h-1zM35 0h1v1h-1zM42 0h1v1h-1zM0 1h1v1h-1zM25 1h2v1h-2zM29 1h1v1h-1zM32 1h1v1h-1zM35 1h1v1h-1zM49 1h1v1h-1zM55 1h2v1h-2zM3 2h1v1h-1zM8 2h1v1h-1zM17 2h1v1h-1zM20 2h1v1h-1zM23 2h1v1h-1zM26 2h1v1h-1zM29 2h1v1h-1zM31 2h2v1h-2zM45 2h1v1h-1zM54 2h1v1h-1zM59 2h2v1h-2zM2 3h1v1h-1zM12 3h1v1h-1zM16 3h1v1h-1zM30 3h2v1h-2zM41 3h2v1h-2zM46 3h4v1h-4zM54 3h1v1h-1zM4 4h1v1h-1zM7 4h2v1h-2zM20 4h2v1h-2zM24 4h1v1h-1zM33 4h2v1h-2zM44 4h3v1h-3zM49 4h1v1h-1zM52 4h1v1h-1zM55 4h1v1h-1zM9 5h2v1h-2zM13 5h1v1h-1zM18 5h1v1h-1zM23 5h1v1h-1zM26 5h1v1h-1zM29 5h1v1h-1zM35 5h1v1h-1zM42 5h1v1h-1zM46 5h1v1h-1zM2 6h2v1h-2zM18 6h1v1h-1zM24 6h1v1h-1zM38 6h1v1h-1zM13 7h1v1h-1zM26 7h1v1h-1zM30 7h2v1h-2zM34 7h1v1h-1zM37 7h2v1h-2zM40 7h1v1h-1zM45 7h1v1h-1zM47 7h2v1h-2zM54 7h1v1h-1zM57 7h1v1h-1zM61 7h1v1h-1zM2 8h2v1h-2zM18 8h1v1h-1zM24 8h1v1h-1zM38 8h1v1h-1zM9 9h2v1h-2zM13 9h1v1h-1zM18 9h1v1h-1zM23 9h1v1h-1zM26 9h1v1h-1zM29 9h1v1h-1zM35 9h1v1h-1zM42 9h1v1h-1zM46 9h1v1h-1zM4 10h1v1h-1zM7 10h2v1h-2zM20 10h2v1h-2zM24 10h1v1h-1zM33 10h2v1h-2zM44 10h3v1h-3zM49 10h1v1h-1zM52 10h1v1h-1zM55 10h1v1h-1zM2 11h1v1h-1zM12 11h1v1h-1zM16 11h1v1h-1zM30 11h2v1h-2zM41 11h2v1h-2zM46 11h4v1h-4zM54 11h1v1h-1zM3 12h1v1h-1zM8 12h1v1h-1zM17 12h1v1h-1zM20 12h1v1h-1zM23 12h1v1h-1zM26 12h1v1h-1zM29 12h1v1h-1zM31 12h2v1h-2zM45 12h1v1h-1zM54 12h1v1h-1zM59 12h2v1h-2zM0 13h1v1h-1zM25 13h2v1h-2zM29 13h1v1h-1zM32 13h1v1h-1zM35 13h1v1h-1zM49 13h1v1h-1zM55 13h2v1h-2zM18 14h1v1h-1zM23 14h2v1h-2zM27 14h1v1h-1zM35 14h1v1h-1zM42 14h1v1h-1zM11 15h2v1h-2zM16 15h1v1h-1zM37 15h1v1h-1zM39 15h1v1h-1zM45 15h1v1h-1zM62 15h1v1h-1z"/><path fill="#00bdff" d="M0 0h1v1h-1zM4 0h1v1h-1zM38 0h1v1h-1zM8 1h1v1h-1zM16 1h1v1h-1zM57 1h1v1h-1zM42 2h1v1h-1zM52 2h1v1h-1zM61 2h1v1h-1zM20 3h1v1h-1zM52 3h1v1h-1zM60 3h1v1h-1zM18 4h1v1h-1zM28 4h1v1h-1zM62 4h1v1h-1zM24 5h1v1h-1zM25 6h1v1h-1zM51 6h1v1h-1zM18 7h1v1h-1zM24 7h1v1h-1zM51 7h1v1h-1zM25 8h1v1h-1zM51 8h1v1h-1zM24 9h1v1h-1zM18 10h1v1h-1zM28 10h1v1h-1zM62 10h1v1h-1zM20 11h1v1h-1zM52 11h1v1h-1zM60 11h1v1h-1zM42 12h1v1h-1zM52 12h1v1h-1zM61 12h1v1h-1zM8 13h1v1h-1zM16 13h1v1h-1zM57 13h1v1h-1zM0 14h1v1h-1zM4 14h1v1h-1zM38 14h1v1h-1zM7 15h1v1h-1zM14 15h1v1h-1zM17 15h1v1h-1zM35 15h1v1h-1zM42 15h1v1h-1z"/><path fill="#08f0ef" d="M7 0h1v1h-1zM52 0h1v1h-1zM55 0h1v1h-1zM59 0h1v1h-1zM63 0h1v1h-1zM10 1h1v1h-1zM50 1h1v1h-1zM61 1h1v1h-1zM63 1h1v1h-1zM16 2h1v1h-1zM25 2h1v1h-1zM30 2h1v1h-1zM63 2h1v1h-1zM18 3h1v1h-1zM59 3h1v1h-1zM16 4h1v1h-1zM27 4h1v1h-1zM61 4h1v1h-1zM41 5h1v1h-1zM36 6h1v1h-1zM52 6h1v1h-1zM63 6h1v1h-1zM2 7h1v1h-1zM6 7h1v1h-1zM10 7h1v1h-1zM56 7h1v1h-1zM63 7h1v1h-1zM36 8h1v1h-1zM52 8h1v1h-1zM63 8h1v1h-1zM41 9h1v1h-1zM16 10h1v1h-1zM27 10h1v1h-1zM61 10h1v1h-1zM18 11h1v1h-1zM59 11h1v1h-1zM16 12h1v1h-1zM25 12h1v1h-1zM30 12h1v1h-1zM63 12h1v1h-1zM10 13h1v1h-1zM50 13h1v1h-1zM61 13h1v1h-1zM63 13h1v1h-1zM7 14h1v1h-1zM52 14h1v1h-1zM55 14h1v1h-1zM59 14h1v1h-1zM63 14h1v1h-1zM21 15h1v1h-1zM47 15h1v1h-1zM59 15h1v1h-1z"/><path fill="#3effb9" d="M33 0h1v1h-1zM19 2h1v1h-1zM43 2h1v1h-1zM49 2h1v1h-1zM63 3h1v1h-1zM36 4h1v1h-1zM63 5h1v1h-1zM13 6h1v1h-1zM20 7h1v1h-1zM36 7h1v1h-1zM44 7h1v1h-1zM13 8h1v1h-1zM63 9h1v1h-1zM36 10h1v1h-1zM63 11h1v1h-1zM19 12h1v1h-1zM43 12h1v1h-1zM49 12h1v1h-1zM33 14h1v1h-1zM13 15h1v1h-1zM18 15h1v1h-1zM23 15h1v1h-1zM31 15h2v1h-2zM38 15h1v1h-1zM63 15h1v1h-1z"/><path fill="#84ff73" d="M49 0h1v1h-1zM15 2h1v1h-1zM32 3h1v1h-1zM51 3h1v1h-1zM30 4h1v1h-1zM48 4h1v1h-1zM63 4h1v1h-1zM58 5h1v1h-1zM17 7h1v1h-1zM58 7h1v1h-1zM58 9h1v1h-1zM30 10h1v1h-1zM48 10h1v1h-1zM63 10h1v1h-1zM32 11h1v1h-1zM51 11h1v1h-1zM15 12h1v1h-1zM49 14h1v1h-1zM24 15h1v1h-1zM34 15h1v1h-1zM40 15h2v1h-2zM51 15h1v1h-1zM61 15h1v1h-1z"/><path fill="#c1ff35" d="M38 4h1v1h-1zM38 10h1v1h-1zM4 15h1v1h-1z"/><path fill="#ffec00" d="M21 7h1v1h-1z"/><path fill="#ffb800" d="M25 7h1v1h-1zM0 15h1v1h-1z"/><path fill="#910000" d="M36 15h1v1h-1z"/></g>
</g>
<rect x="1328.00" y="987.40" width="11.30" height="223.10" fill="url(#jet)"/>
<g filter="url(#tb)">
<rect x="1010.30" y="987.40" width="299.10" height="223.10" fill="none" stroke="#333" stroke-width="0.7"/>
<rect x="1328.00" y="987.40" width="11.30" height="223.10" fill="none" stroke="#333" stroke-width="0.7"/>
<text class="t" x="1005.70" y="1206.13" text-anchor="end">0</text>
<text class="t" x="1005.70" y="1178.24" text-anchor="end">2</text>
<text class="t" x="1005.70" y="1150.35" text-anchor="end">4</text>
<text class="t" x="1005.70" y="1122.47" text-anchor="end">6</text>
<text class="t" x="1005.70" y="1094.58" text-anchor="end">8</text>
<text class="t" x="1005.70" y="1066.69" text-anchor="end">10</text>
<text class="t" x="1005.70" y="1038.80" text-anchor="end">12</text>
<text class="t" x="1005.70" y="1010.92" text-anchor="end">14</text>
<text class="t" x="1012.64" y="1220.70" text-anchor="middle">0</text>
<text class="t" x="1059.37" y="1220.70" text-anchor="middle">10</text>
<text class="t" x="1106.11" y="1220.70" text-anchor="middle">20</text>
<text class="t" x="1152.84" y="1220.70" text-anchor="middle">30</text>
<text class="t" x="1199.57" y="1220.70" text-anchor="middle">40</text>
<text class="t" x="1246.31" y="1220.70" text-anchor="middle">50</text>
<text class="t" x="1293.04" y="1220.70" text-anchor="middle">60</text>
<text class="t" x="1343.50" y="1009.75">70</text>
<text class="t" x="1343.50" y="1038.75">60</text>
<text class="t" x="1343.50" y="1067.75">50</text>
<text class="t" x="1343.50" y="1097.00">40</text>
<text class="t" x="1343.50" y="1126.00">30</text>
<text class="t" x="1343.50" y="1155.00">20</text>
<text class="t" x="1343.50" y="1184.25">10</text>
<path d="M1010.30 1203.53h-2.6M1010.30 1175.64h-2.6M1010.30 1147.75h-2.6M1010.30 1119.87h-2.6M1010.30 1091.98h-2.6M1010.30 1064.09h-2.6M1010.30 1036.20h-2.6M1010.30 1008.32h-2.6M1012.64 1210.50v2.6M1059.37 1210.50v2.6M1106.11 1210.50v2.6M1152.84 1210.50v2.6M1199.57 1210.50v2.6M1246.31 1210.50v2.6M1293.04 1210.50v2.6M1339.30 1007.15h2.6M1339.30 1036.15h2.6M1339.30 1065.15h2.6M1339.30 1094.40h2.6M1339.30 1123.40h2.6M1339.30 1152.40h2.6M1339.30 1181.65h2.6" stroke="#222" stroke-width="0.6" fill="none"/>
<text class="t" x="1159.85" y="1230.00" text-anchor="middle">Time</text>
<text class="t" transform="translate(993.30 1098.95) rotate(-90)" text-anchor="middle">Frequency</text>
<text class="t" transform="translate(1359.70 1098.95) rotate(-90)" text-anchor="middle">Magnitude</text>
</g>
<text class="c" filter="url(#cb)" x="1173.50" y="1270.65">(o)</text>
</g>
<g id="panel-p">
<g filter="url(#hb)" shape-rendering="crispEdges"><rect x="1491.90" y="987.40" width="299.10" height="223.10" fill="#0040ff"/>
<g transform="translate(1491.90 987.40) scale(4.67344 13.94375)" shape-rendering="crispEdges"><path fill="#000080" d="M9 0h1v1h-1zM11 0h3v1h-3zM18 0h2v1h-2zM23 0h1v1h-1zM42 0h1v1h-1zM1 1h1v1h-1zM8 1h1v1h-1zM14 1h1v1h-1zM19 1h5v1h-5zM25 1h1v1h-1zM40 1h2v1h-2zM50 1h1v1h-1zM5 2h1v1h-1zM34 2h1v1h-1zM36 2h2v1h-2zM44 2h1v1h-1zM49 2h1v1h-1zM59 2h1v1h-1zM0 3h2v1h-2zM5 3h1v1h-1zM12 3h1v1h-1zM17 3h1v1h-1zM19 3h2v1h-2zM44 3h1v1h-1zM32 4h1v1h-1zM47 4h1v1h-1zM60 4h1v1h-1zM1 5h1v1h-1zM9 5h2v1h-2zM19 5h2v1h-2zM25 5h1v1h-1zM39 5h1v1h-1zM41 5h1v1h-1zM44 5h2v1h-2zM50 5h1v1h-1zM53 5h3v1h-3zM8 6h1v1h-1zM14 6h1v1h-1zM28 6h1v1h-1zM30 6h1v1h-1zM2 7h1v1h-1zM17 7h2v1h-2zM20 7h1v1h-1zM23 7h1v1h-1zM32 7h1v1h-1zM40 7h1v1h-1zM42 7h1v1h-1zM46 7h1v1h-1zM8 8h1v1h-1zM14 8h1v1h-1zM28 8h1v1h-1zM30 8h1v1h-1zM1 9h1v1h-1zM9 9h2v1h-2zM19 9h2v1h-2zM25 9h1v1h-1zM39 9h1v1h-1zM41 9h1v1h-1zM44 9h2v1h-2zM50 9h1v1h-1zM53 9h3v1h-3zM32 10h1v1h-1zM47 10h1v1h-1zM60 10h1v1h-1zM0 11h2v1h-2zM5 11h1v1h-1zM12 11h1v1h-1zM17 11h1v1h-1zM19 11h2v1h-2zM44 11h1v1h-1zM5 12h1v1h-1zM34 12h1v1h-1zM36 12h2v1h-2zM44 12h1v1h-1zM49 12h1v1h-1zM59 12h1v1h-1zM1 13h1v1h-1zM8 13h1v1h-1zM14 13h1v1h-1zM19 13h5v1h-5zM25 13h1v1h-1zM40 13h2v1h-2zM50 13h1v1h-1zM9 14h1v1h-1zM11 14h3v1h-3zM18 14h2v1h-2zM23 14h1v1h-1zM42 14h1v1h-1zM0 15h1v1h-1zM5 15h1v1h-1zM35 15h1v1h-1zM62 15h1v1h-1z"/><path fill="#0000b9" d="M0 0h4v1h-4zM5 0h1v1h-1zM7 0h1v1h-1zM10 0h1v1h-1zM16 0h1v1h-1zM26 0h4v1h-4zM31 0h2v1h-2zM34 0h4v1h-4zM45 0h2v1h-2zM49 0h4v1h-4zM54 0h1v1h-1zM57 0h3v1h-3zM0 1h1v1h-1zM2 1h4v1h-4zM7 1h1v1h-1zM16 1h1v1h-1zM26 1h2v1h-2zM29 1h1v1h-1zM34 1h5v1h-5zM43 1h1v1h-1zM45 1h1v1h-1zM47 1h3v1h-3zM52 1h1v1h-1zM57 1h1v1h-1zM60 1h3v1h-3zM0 2h1v1h-1zM2 2h2v1h-2zM9 2h1v1h-1zM13 2h3v1h-3zM19 2h1v1h-1zM27 2h1v1h-1zM32 2h1v1h-1zM35 2h1v1h-1zM38 2h1v1h-1zM40 2h1v1h-1zM43 2h1v1h-1zM45 2h1v1h-1zM48 2h1v1h-1zM55 2h3v1h-3zM61 2h2v1h-2zM3 3h1v1h-1zM6 3h1v1h-1zM9 3h3v1h-3zM13 3h4v1h-4zM18 3h1v1h-1zM21 3h2v1h-2zM27 3h1v1h-1zM33 3h3v1h-3zM37 3h5v1h-5zM43 3h1v1h-1zM46 3h2v1h-2zM50 3h2v1h-2zM56 3h2v1h-2zM60 3h3v1h-3zM0 4h1v1h-1zM3 4h1v1h-1zM5 4h1v1h-1zM8 4h1v1h-1zM17 4h1v1h-1zM19 4h1v1h-1zM21 4h1v1h-1zM23 4h2v1h-2zM27 4h2v1h-2zM31 4h1v1h-1zM33 4h4v1h-4zM39 4h6v1h-6zM50 4h2v1h-2zM55 4h2v1h-2zM58 4h1v1h-1zM61 4h2v1h-2zM2 5h5v1h-5zM12 5h1v1h-1zM14 5h4v1h-4zM21 5h4v1h-4zM27 5h1v1h-1zM30 5h1v1h-1zM42 5h2v1h-2zM47 5h2v1h-2zM52 5h1v1h-1zM56 5h1v1h-1zM58 5h1v1h-1zM61 5h2v1h-2zM0 6h2v1h-2zM5 6h2v1h-2zM9 6h1v1h-1zM13 6h1v1h-1zM15 6h1v1h-1zM18 6h5v1h-5zM25 6h1v1h-1zM34 6h1v1h-1zM38 6h2v1h-2zM41 6h3v1h-3zM48 6h1v1h-1zM50 6h1v1h-1zM56 6h3v1h-3zM60 6h2v1h-2zM0 7h1v1h-1zM9 7h1v1h-1zM14 7h2v1h-2zM21 7h2v1h-2zM24 7h2v1h-2zM29 7h1v1h-1zM34 7h1v1h-1zM37 7h1v1h-1zM43 7h1v1h-1zM48 7h2v1h-2zM53 7h2v1h-2zM56 7h3v1h-3zM0 8h2v1h-2zM5 8h2v1h-2zM9 8h1v1h-1zM13 8h1v1h-1zM15 8h1v1h-1zM18 8h5v1h-5zM25 8h1v1h-1zM34 8h1v1h-1zM38 8h2v1h-2zM41 8h3v1h-3zM48 8h1v1h-1zM50 8h1v1h-1zM56 8h3v1h-3zM60 8h2v1h-2zM2 9h5v1h-5zM12 9h1v1h-1zM14 9h4v1h-4zM21 9h4v1h-4zM27 9h1v1h-1zM30 9h1v1h-1zM42 9h2v1h-2zM47 9h2v1h-2zM52 9h1v1h-1zM56 9h1v1h-1zM58 9h1v1h-1zM61 9h2v1h-2zM0 10h1v1h-1zM3 10h1v1h-1zM5 10h1v1h-1zM8 10h1v1h-1zM17 10h1v1h-1zM19 10h1v1h-1zM21 10h1v1h-1zM23 10h2v1h-2zM27 10h2v1h-2zM31 10h1v1h-1zM33 10h4v1h-4zM39 10h6v1h-6zM50 10h2v1h-2zM55 10h2v1h-2zM58 10h1v1h-1zM61 10h2v1h-2zM3 11h1v1h-1zM6 11h1v1h-1zM9 11h3v1h-3zM13 11h4v1h-4zM18 11h1v1h-1zM21 11h2v1h-2zM27 11h1v1h-1zM33 11h3v1h-3zM37 11h5v1h-5zM43 11h1v1h-1zM46 11h2v1h-2zM50 11h2v1h-2zM56 11h2v1h-2zM60 11h3v1h-3zM0 12h1v1h-1zM2 12h2v1h-2zM9 12h1v1h-1zM13 12h3v1h-3zM19 12h1v1h-1zM27 12h1v1h-1zM32 12h1v1h-1zM35 12h1v1h-1zM38 12h1v1h-1zM40 12h1v1h-1zM43 12h1v1h-1zM45 12h1v1h-1zM48 12h1v1h-1zM55 12h3v1h-3zM61 12h2v1h-2zM0 13h1v1h-1zM2 13h4v1h-4zM7 13h1v1h-1zM16 13h1v1h-1zM26 13h2v1h-2zM29 13h1v1h-1zM34 13h5v1h-5zM43 13h1v1h-1zM45 13h1v1h-1zM47 13h3v1h-3zM52 13h1v1h-1zM57 13h1v1h-1zM60 13h3v1h-3zM0 14h4v1h-4zM5 14h1v1h-1zM7 14h1v1h-1zM10 14h1v1h-1zM16 14h1v1h-1zM26 14h4v1h-4zM31 14h2v1h-2zM34 14h4v1h-4zM45 14h2v1h-2zM49 14h4v1h-4zM54 14h1v1h-1zM57 14h3v1h-3zM2 15h2v1h-2zM9 15h5v1h-5zM18 15h3v1h-3zM22 15h1v1h-1zM26 15h2v1h-2zM41 15h3v1h-3zM46 15h2v1h-2zM49 15h1v1h-1zM52 15h2v1h-2zM55 15h2v1h-2zM58 15h1v1h-1z"/><path fill="#0000ff" d="M8 0h1v1h-1zM14 0h2v1h-2zM17 0h1v1h-1zM20 0h2v1h-2zM24 0h1v1h-1zM39 0h1v1h-1zM41 0h1v1h-1zM44 0h1v1h-1zM48 0h1v1h-1zM53 0h1v1h-1zM55 0h2v1h-2zM60 0h2v1h-2zM6 1h1v1h-1zM10 1h4v1h-4zM28 1h1v1h-1zM39 1h1v1h-1zM46 1h1v1h-1zM51 1h1v1h-1zM54 1h3v1h-3zM58 1h2v1h-2zM1 2h1v1h-1zM4 2h1v1h-1zM6 2h3v1h-3zM11 2h2v1h-2zM17 2h1v1h-1zM20 2h2v1h-2zM24 2h2v1h-2zM28 2h1v1h-1zM30 2h2v1h-2zM33 2h1v1h-1zM46 2h2v1h-2zM50 2h1v1h-1zM52 2h1v1h-1zM7 3h1v1h-1zM24 3h3v1h-3zM28 3h1v1h-1zM30 3h3v1h-3zM45 3h1v1h-1zM53 3h2v1h-2zM58 3h1v1h-1zM1 4h2v1h-2zM6 4h1v1h-1zM9 4h5v1h-5zM16 4h1v1h-1zM20 4h1v1h-1zM22 4h1v1h-1zM45 4h2v1h-2zM48 4h2v1h-2zM57 4h1v1h-1zM8 5h1v1h-1zM11 5h1v1h-1zM13 5h1v1h-1zM26 5h1v1h-1zM28 5h1v1h-1zM32 5h1v1h-1zM36 5h2v1h-2zM40 5h1v1h-1zM46 5h1v1h-1zM51 5h1v1h-1zM57 5h1v1h-1zM59 5h2v1h-2zM2 6h3v1h-3zM10 6h1v1h-1zM12 6h1v1h-1zM23 6h2v1h-2zM27 6h1v1h-1zM31 6h1v1h-1zM33 6h1v1h-1zM36 6h1v1h-1zM40 6h1v1h-1zM44 6h3v1h-3zM52 6h4v1h-4zM59 6h1v1h-1zM62 6h1v1h-1zM4 7h1v1h-1zM6 7h1v1h-1zM12 7h2v1h-2zM19 7h1v1h-1zM28 7h1v1h-1zM30 7h2v1h-2zM33 7h1v1h-1zM35 7h1v1h-1zM38 7h2v1h-2zM41 7h1v1h-1zM47 7h1v1h-1zM55 7h1v1h-1zM62 7h1v1h-1zM2 8h3v1h-3zM10 8h1v1h-1zM12 8h1v1h-1zM23 8h2v1h-2zM27 8h1v1h-1zM31 8h1v1h-1zM33 8h1v1h-1zM36 8h1v1h-1zM40 8h1v1h-1zM44 8h3v1h-3zM52 8h4v1h-4zM59 8h1v1h-1zM62 8h1v1h-1zM8 9h1v1h-1zM11 9h1v1h-1zM13 9h1v1h-1zM26 9h1v1h-1zM28 9h1v1h-1zM32 9h1v1h-1zM36 9h2v1h-2zM40 9h1v1h-1zM46 9h1v1h-1zM51 9h1v1h-1zM57 9h1v1h-1zM59 9h2v1h-2zM1 10h2v1h-2zM6 10h1v1h-1zM9 10h5v1h-5zM16 10h1v1h-1zM20 10h1v1h-1zM22 10h1v1h-1zM45 10h2v1h-2zM48 10h2v1h-2zM57 10h1v1h-1zM7 11h1v1h-1zM24 11h3v1h-3zM28 11h1v1h-1zM30 11h3v1h-3zM45 11h1v1h-1zM53 11h2v1h-2zM58 11h1v1h-1zM1 12h1v1h-1zM4 12h1v1h-1zM6 12h3v1h-3zM11 12h2v1h-2zM17 12h1v1h-1zM20 12h2v1h-2zM24 12h2v1h-2zM28 12h1v1h-1zM30 12h2v1h-2zM33 12h1v1h-1zM46 12h2v1h-2zM50 12h1v1h-1zM52 12h1v1h-1zM6 13h1v1h-1zM10 13h4v1h-4zM28 13h1v1h-1zM39 13h1v1h-1zM46 13h1v1h-1zM51 13h1v1h-1zM54 13h3v1h-3zM58 13h2v1h-2zM8 14h1v1h-1zM14 14h2v1h-2zM17 14h1v1h-1zM20 14h2v1h-2zM24 14h1v1h-1zM39 14h1v1h-1zM41 14h1v1h-1zM44 14h1v1h-1zM48 14h1v1h-1zM53 14h1v1h-1zM55 14h2v1h-2zM60 14h2v1h-2zM1 15h1v1h-1zM4 15h1v1h-1zM7 15h1v1h-1zM16 15h2v1h-2zM24 15h1v1h-1zM28 15h3v1h-3zM32 15h1v1h-1zM37 15h1v1h-1zM39 15h1v1h-1zM45 15h1v1h-1zM48 15h1v1h-1zM50 15h1v1h-1zM54 15h1v1h-1zM57 15h1v1h-1z"/><path fill="#0029ff" d="M6 0h1v1h-1zM30 0h1v1h-1zM33 0h1v1h-1zM38 0h1v1h-1zM47 0h1v1h-1zM9 1h1v1h-1zM15 1h1v1h-1zM24 1h1v1h-1zM31 1h3v1h-3zM42 1h1v1h-1zM10 2h1v1h-1zM16 2h1v1h-1zM18 2h1v1h-1zM26 2h1v1h-1zM39 2h1v1h-1zM58 2h1v1h-1zM60 2h1v1h-1zM2 3h1v1h-1zM4 3h1v1h-1zM23 3h1v1h-1zM36 3h1v1h-1zM52 3h1v1h-1zM59 3h1v1h-1zM4 4h1v1h-1zM18 4h1v1h-1zM29 4h1v1h-1zM37 4h2v1h-2zM52 4h3v1h-3zM59 4h1v1h-1zM29 5h1v1h-1zM31 5h1v1h-1zM33 5h3v1h-3zM38 5h1v1h-1zM11 6h1v1h-1zM17 6h1v1h-1zM35 6h1v1h-1zM47 6h1v1h-1zM51 6h1v1h-1zM3 7h1v1h-1zM11 7h1v1h-1zM26 7h2v1h-2zM45 7h1v1h-1zM59 7h2v1h-2zM11 8h1v1h-1zM17 8h1v1h-1zM35 8h1v1h-1zM47 8h1v1h-1zM51 8h1v1h-1zM29 9h1v1h-1zM31 9h1v1h-1zM33 9h3v1h-3zM38 9h1v1h-1zM4 10h1v1h-1zM18 10h1v1h-1zM29 10h1v1h-1zM37 10h2v1h-2zM52 10h3v1h-3zM59 10h1v1h-1zM2 11h1v1h-1zM4 11h1v1h-1zM23 11h1v1h-1zM36 11h1v1h-1zM52 11h1v1h-1zM59 11h1v1h-1zM10 12h1v1h-1zM16 12h1v1h-1zM18 12h1v1h-1zM26 12h1v1h-1zM39 12h1v1h-1zM58 12h1v1h-1zM60 12h1v1h-1zM9 13h1v1h-1zM15 13h1v1h-1zM24 13h1v1h-1zM31 13h3v1h-3zM42 13h1v1h-1zM6 14h1v1h-1zM30 14h1v1h-1zM33 14h1v1h-1zM38 14h1v1h-1zM47 14h1v1h-1zM34 15h1v1h-1zM59 15h1v1h-1zM61 15h1v1h-1z"/><path fill="#0075ff" d="M4 0h1v1h-1zM22 0h1v1h-1zM25 0h1v1h-1zM40 0h1v1h-1zM62 0h1v1h-1zM30 1h1v1h-1zM22 2h2v1h-2zM41 2h2v1h-2zM51 2h1v1h-1zM53 2h2v1h-2zM48 3h2v1h-2zM55 3h1v1h-1zM14 4h2v1h-2zM25 4h2v1h-2zM0 5h1v1h-1zM49 5h1v1h-1zM7 6h1v1h-1zM26 6h1v1h-1zM29 6h1v1h-1zM37 6h1v1h-1zM1 7h1v1h-1zM10 7h1v1h-1zM50 7h3v1h-3zM7 8h1v1h-1zM26 8h1v1h-1zM29 8h1v1h-1zM37 8h1v1h-1zM0 9h1v1h-1zM49 9h1v1h-1zM14 10h2v1h-2zM25 10h2v1h-2zM48 11h2v1h-2zM55 11h1v1h-1zM22 12h2v1h-2zM41 12h2v1h-2zM51 12h1v1h-1zM53 12h2v1h-2zM30 13h1v1h-1zM4 14h1v1h-1zM22 14h1v1h-1zM25 14h1v1h-1zM40 14h1v1h-1zM62 14h1v1h-1zM21 15h1v1h-1z"/><path fill="#00bdff" d="M43 0h1v1h-1zM63 1h1v1h-1zM29 2h1v1h-1zM63 2h1v1h-1zM8 3h1v1h-1zM30 4h1v1h-1zM7 5h1v1h-1zM32 6h1v1h-1zM49 6h1v1h-1zM32 8h1v1h-1zM49 8h1v1h-1zM7 9h1v1h-1zM30 10h1v1h-1zM8 11h1v1h-1zM29 12h1v1h-1zM63 12h1v1h-1zM63 13h1v1h-1zM43 14h1v1h-1zM33 15h1v1h-1zM51 15h1v1h-1z"/><path fill="#08f0ef" d="M63 0h1v1h-1zM17 1h2v1h-2zM7 4h1v1h-1zM18 5h1v1h-1zM63 5h1v1h-1zM16 6h1v1h-1zM63 6h1v1h-1zM7 7h2v1h-2zM16 7h1v1h-1zM44 7h1v1h-1zM61 7h1v1h-1zM16 8h1v1h-1zM63 8h1v1h-1zM18 9h1v1h-1zM63 9h1v1h-1zM7 10h1v1h-1zM17 13h2v1h-2zM63 14h1v1h-1zM6 15h1v1h-1zM38 15h1v1h-1zM63 15h1v1h-1z"/><path fill="#3effb9" d="M44 1h1v1h-1zM53 1h1v1h-1zM29 3h1v1h-1zM42 3h1v1h-1zM63 3h1v1h-1zM36 7h1v1h-1zM29 11h1v1h-1zM42 11h1v1h-1zM63 11h1v1h-1zM44 13h1v1h-1zM53 13h1v1h-1zM8 15h1v1h-1zM25 15h1v1h-1zM44 15h1v1h-1z"/><path fill="#84ff73" d="M15 15h1v1h-1zM36 15h1v1h-1zM40 15h1v1h-1zM60 15h1v1h-1z"/><path fill="#c1ff35" d="M63 4h1v1h-1zM63 10h1v1h-1zM14 15h1v1h-1z"/><path fill="#ffec00" d="M5 7h1v1h-1z"/><path fill="#ffb800" d="M23 15h1v1h-1zM31 15h1v1h-1z"/><path fill="#910000" d="M63 7h1v1h-1z"/></g>
</g>
<rect x="1809.60" y="987.40" width="11.30" height="223.10" fill="url(#jet)"/>
<g filter="url(#tb)">
<rect x="1491.90" y="987.40" width="299.10" height="223.10" fill="none" stroke="#333" stroke-width="0.7"/>
<rect x="1809.60" y="987.40" width="11.30" height="223.10" fill="none" stroke="#333" stroke-width="0.7"/>
<text class="t" x="1487.30" y="1206.13" text-anchor="end">0</text>
<text class="t" x="1487.30" y="1178.24" text-anchor="end">2</text>
<text class="t" x="1487.30" y="1150.35" text-anchor="end">4</text>
<text class="t" x="1487.30" y="1122.47" text-anchor="end">6</text>
<text class="t" x="1487.30" y="1094.58" text-anchor="end">8</text>
<text class="t" x="1487.30" y="1066.69" text-anchor="end">10</text>
<text class="t" x="1487.30" y="1038.80" text-anchor="end">12</text>
<text class="t" x="1487.30" y="1010.92" text-anchor="end">14</text>
<text class="t" x="1494.24" y="1220.70" text-anchor="middle">0</text>
<text class="t" x="1540.97" y="1220.70" text-anchor="middle">10</text>
<text class="t" x="1587.71" y="1220.70" text-anchor="middle">20</text>
<text class="t" x="1634.44" y="1220.70" text-anchor="middle">30</text>
<text class="t" x="1681.17" y="1220.70" text-anchor="middle">40</text>
<text class="t" x="1727.91" y="1220.70" text-anchor="middle">50</text>
<text class="t" x="1774.64" y="1220.70" text-anchor="middle">60</text>
<text class="t" x="1825.10" y="996.75">70</text>
<text class="t" x="1825.10" y="1027.75">60</text>
<text class="t" x="1825.10" y="1058.75">50</text>
<text class="t" x="1825.10" y="1089.75">40</text>
<text class="t" x="1825.10" y="1120.75">30</text>
<text class="t" x="1825.10" y="1151.50">20</text>
<text class="t" x="1825.10" y="1182.75">10</text>
<path d="M1491.90 1203.53h-2.6M1491.90 1175.64h-2.6M1491.90 1147.75h-2.6M1491.90 1119.87h-2.6M1491.90 1091.98h-2.6M1491.90 1064.09h-2.6M1491.90 1036.20h-2.6M1491.90 1008.32h-2.6M1494.24 1210.50v2.6M1540.97 1210.50v2.6M1587.71 1210.50v2.6M1634.44 1210.50v2.6M1681.17 1210.50v2.6M1727.91 1210.50v2.6M1774.64 1210.50v2.6M1820.90 994.15h2.6M1820.90 1025.15h2.6M1820.90 1056.15h2.6M1820.90 1087.15h2.6M1820.90 1118.15h2.6M1820.90 1148.90h2.6M1820.90 1180.15h2.6" stroke="#222" stroke-width="0.6" fill="none"/>
<text class="t" x="1641.45" y="1230.00" text-anchor="middle">Time</text>
<text class="t" transform="translate(1474.90 1098.95) rotate(-90)" text-anchor="middle">Frequency</text>
<text class="t" transform="translate(1841.30 1098.95) rotate(-90)" text-anchor="middle">Magnitude</text>
</g>
<text class="c" filter="url(#cb)" x="1664.50" y="1270.65">(p)</text>
</g>
</svg></body></html>
